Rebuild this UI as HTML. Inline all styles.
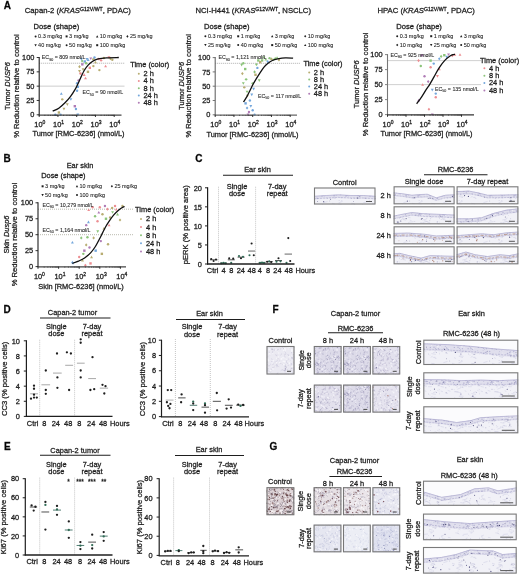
<!DOCTYPE html>
<html><head><meta charset="utf-8"><title>Figure</title>
<style>html,body{margin:0;padding:0;background:#fff;}svg{display:block;}text{stroke:#1e1e1e;stroke-width:0.28px;}text.s{stroke-width:0.08px;}</style></head>
<body><svg width="520" height="575" viewBox="0 0 520 575" font-family='"Liberation Sans", Arial, sans-serif' fill="#1e1e1e">
<defs><pattern id="tcc3" patternUnits="userSpaceOnUse" width="30" height="30"><rect width="30" height="30" fill="#dddbe9"/><path d="M13.6 16.8Q12.4 17.2 11.2 17.3" fill="none" stroke="#8985ad" stroke-width="0.45" stroke-opacity="0.7"/><path d="M5.5 15.4Q5.0 14.0 6.1 13.4" fill="none" stroke="#8985ad" stroke-width="0.45" stroke-opacity="0.7"/><path d="M2.7 24.3Q4.7 25.5 4.8 24.8" fill="none" stroke="#8985ad" stroke-width="0.45" stroke-opacity="0.7"/><path d="M19.6 18.5Q20.3 17.6 20.9 18.6" fill="none" stroke="#8985ad" stroke-width="0.45" stroke-opacity="0.7"/><path d="M5.7 7.3Q5.1 8.1 4.7 7.5" fill="none" stroke="#8985ad" stroke-width="0.45" stroke-opacity="0.7"/><path d="M15.6 19.2Q15.0 18.0 14.6 17.7" fill="none" stroke="#8985ad" stroke-width="0.45" stroke-opacity="0.7"/><path d="M29.9 29.9Q29.3 28.2 29.3 27.6" fill="none" stroke="#8985ad" stroke-width="0.45" stroke-opacity="0.7"/><path d="M8.7 2.1Q8.5 2.5 6.9 3.4" fill="none" stroke="#8985ad" stroke-width="0.45" stroke-opacity="0.7"/><path d="M28.7 25.4Q29.7 25.8 29.0 26.4" fill="none" stroke="#8985ad" stroke-width="0.45" stroke-opacity="0.7"/><path d="M29.4 11.9Q29.6 11.1 28.6 11.1" fill="none" stroke="#8985ad" stroke-width="0.45" stroke-opacity="0.7"/><path d="M2.6 10.0Q1.9 8.2 2.7 7.4" fill="none" stroke="#8985ad" stroke-width="0.45" stroke-opacity="0.7"/><path d="M3.0 1.8Q3.6 2.7 4.0 3.8" fill="none" stroke="#8985ad" stroke-width="0.45" stroke-opacity="0.7"/><path d="M5.7 22.0Q4.6 21.3 5.0 21.0" fill="none" stroke="#8985ad" stroke-width="0.45" stroke-opacity="0.7"/><path d="M6.4 8.1Q6.4 7.7 7.2 5.7" fill="none" stroke="#8985ad" stroke-width="0.45" stroke-opacity="0.7"/><path d="M6.3 11.8Q4.8 11.9 4.8 10.0" fill="none" stroke="#8985ad" stroke-width="0.45" stroke-opacity="0.7"/><path d="M6.4 7.7Q5.5 7.9 5.3 9.7" fill="none" stroke="#8985ad" stroke-width="0.45" stroke-opacity="0.7"/><path d="M2.7 17.5Q1.9 17.0 1.6 16.7" fill="none" stroke="#8985ad" stroke-width="0.45" stroke-opacity="0.7"/><path d="M28.8 14.5Q28.8 13.1 30.1 13.1" fill="none" stroke="#8985ad" stroke-width="0.45" stroke-opacity="0.7"/><path d="M27.3 24.5Q28.0 26.1 27.8 25.8" fill="none" stroke="#8985ad" stroke-width="0.45" stroke-opacity="0.7"/><path d="M5.9 28.5Q4.8 27.0 4.0 27.0" fill="none" stroke="#8985ad" stroke-width="0.45" stroke-opacity="0.7"/><path d="M1.2 28.9Q0.5 28.9 0.8 27.6" fill="none" stroke="#8985ad" stroke-width="0.45" stroke-opacity="0.7"/><path d="M17.9 8.8Q16.9 7.6 17.7 7.5" fill="none" stroke="#8985ad" stroke-width="0.45" stroke-opacity="0.7"/><path d="M16.8 25.6Q17.4 26.0 16.4 27.5" fill="none" stroke="#8985ad" stroke-width="0.45" stroke-opacity="0.7"/><path d="M0.5 8.1Q0.6 8.1 2.1 8.7" fill="none" stroke="#8985ad" stroke-width="0.45" stroke-opacity="0.7"/><path d="M17.2 3.9Q18.7 3.8 18.4 2.9" fill="none" stroke="#8985ad" stroke-width="0.45" stroke-opacity="0.7"/><path d="M20.7 17.5Q20.4 18.5 21.9 17.8" fill="none" stroke="#8985ad" stroke-width="0.45" stroke-opacity="0.7"/><path d="M21.0 28.9Q20.7 29.0 20.4 28.1" fill="none" stroke="#8985ad" stroke-width="0.45" stroke-opacity="0.7"/><path d="M9.6 30.0Q9.5 30.6 8.5 29.7" fill="none" stroke="#8985ad" stroke-width="0.45" stroke-opacity="0.7"/><path d="M22.1 21.1Q22.8 20.9 24.1 20.0" fill="none" stroke="#8985ad" stroke-width="0.45" stroke-opacity="0.7"/><path d="M27.0 26.1Q28.0 25.5 27.4 24.5" fill="none" stroke="#8985ad" stroke-width="0.45" stroke-opacity="0.7"/><path d="M18.7 11.5Q17.2 11.1 17.3 10.2" fill="none" stroke="#8985ad" stroke-width="0.45" stroke-opacity="0.7"/><path d="M29.8 26.4Q29.4 27.3 28.1 27.8" fill="none" stroke="#8985ad" stroke-width="0.45" stroke-opacity="0.7"/><path d="M13.2 25.2Q12.3 24.8 13.2 24.0" fill="none" stroke="#8985ad" stroke-width="0.45" stroke-opacity="0.7"/><path d="M14.4 6.9Q13.6 7.8 12.3 6.9" fill="none" stroke="#8985ad" stroke-width="0.45" stroke-opacity="0.7"/><path d="M7.7 0.3Q6.8 -1.0 7.0 -1.0" fill="none" stroke="#8985ad" stroke-width="0.45" stroke-opacity="0.7"/><path d="M27.2 19.8Q27.5 19.6 28.5 18.7" fill="none" stroke="#8985ad" stroke-width="0.45" stroke-opacity="0.7"/><path d="M6.0 12.9Q7.7 12.1 7.9 11.8" fill="none" stroke="#8985ad" stroke-width="0.45" stroke-opacity="0.7"/><path d="M17.5 9.5Q17.6 10.2 16.3 9.5" fill="none" stroke="#8985ad" stroke-width="0.45" stroke-opacity="0.7"/><path d="M21.3 28.5Q21.6 28.7 22.0 29.8" fill="none" stroke="#8985ad" stroke-width="0.45" stroke-opacity="0.7"/><path d="M6.4 12.4Q5.1 13.1 4.4 12.5" fill="none" stroke="#8985ad" stroke-width="0.45" stroke-opacity="0.7"/><path d="M29.5 13.6Q30.8 12.8 30.6 13.8" fill="none" stroke="#8985ad" stroke-width="0.45" stroke-opacity="0.7"/><path d="M21.3 17.1Q20.5 15.7 21.6 15.7" fill="none" stroke="#8985ad" stroke-width="0.45" stroke-opacity="0.7"/><path d="M13.6 0.7Q13.0 1.0 13.8 3.1" fill="none" stroke="#8985ad" stroke-width="0.45" stroke-opacity="0.7"/><path d="M18.9 13.4Q18.9 13.5 17.7 11.7" fill="none" stroke="#8985ad" stroke-width="0.45" stroke-opacity="0.7"/><path d="M20.5 6.0Q19.9 6.7 21.3 7.6" fill="none" stroke="#8985ad" stroke-width="0.45" stroke-opacity="0.7"/><path d="M21.4 5.4Q21.4 6.0 20.6 6.6" fill="none" stroke="#8985ad" stroke-width="0.45" stroke-opacity="0.7"/><path d="M18.4 22.7Q19.5 21.1 18.9 21.1" fill="none" stroke="#8985ad" stroke-width="0.45" stroke-opacity="0.7"/><path d="M28.0 21.7Q27.7 22.7 26.8 22.0" fill="none" stroke="#8985ad" stroke-width="0.45" stroke-opacity="0.7"/><path d="M11.3 17.1Q12.5 15.8 12.0 14.8" fill="none" stroke="#8985ad" stroke-width="0.45" stroke-opacity="0.7"/><path d="M19.5 6.1Q20.3 5.6 20.4 4.2" fill="none" stroke="#8985ad" stroke-width="0.45" stroke-opacity="0.7"/><path d="M6.4 27.0Q7.7 27.4 8.9 26.6" fill="none" stroke="#8985ad" stroke-width="0.45" stroke-opacity="0.7"/><path d="M9.6 27.3Q8.1 28.1 8.2 29.2" fill="none" stroke="#8985ad" stroke-width="0.45" stroke-opacity="0.7"/><path d="M16.5 23.0Q18.0 22.3 18.3 23.4" fill="none" stroke="#8985ad" stroke-width="0.45" stroke-opacity="0.7"/><path d="M24.0 5.2Q23.5 3.7 24.4 3.7" fill="none" stroke="#8985ad" stroke-width="0.45" stroke-opacity="0.7"/><path d="M15.5 21.7Q16.0 20.6 14.6 19.5" fill="none" stroke="#8985ad" stroke-width="0.45" stroke-opacity="0.7"/><path d="M28.5 2.6Q27.4 2.9 27.1 2.4" fill="none" stroke="#8985ad" stroke-width="0.45" stroke-opacity="0.7"/><path d="M19.2 15.7Q17.7 15.0 17.0 14.8" fill="none" stroke="#8985ad" stroke-width="0.45" stroke-opacity="0.7"/><path d="M25.4 27.0Q26.7 26.5 26.1 25.9" fill="none" stroke="#8985ad" stroke-width="0.45" stroke-opacity="0.7"/><path d="M17.2 6.0Q16.5 5.1 15.3 6.0" fill="none" stroke="#8985ad" stroke-width="0.45" stroke-opacity="0.7"/><path d="M29.1 15.5Q29.5 14.7 29.6 13.9" fill="none" stroke="#8985ad" stroke-width="0.45" stroke-opacity="0.7"/><path d="M20.7 2.0Q20.8 3.3 19.1 2.9" fill="none" stroke="#8985ad" stroke-width="0.45" stroke-opacity="0.7"/><path d="M8.1 14.2Q8.2 15.2 7.0 14.7" fill="none" stroke="#8985ad" stroke-width="0.45" stroke-opacity="0.7"/><path d="M14.3 9.5Q14.7 8.3 13.3 8.6" fill="none" stroke="#8985ad" stroke-width="0.45" stroke-opacity="0.7"/><path d="M23.4 0.7Q23.8 1.0 23.6 2.0" fill="none" stroke="#8985ad" stroke-width="0.45" stroke-opacity="0.7"/><path d="M10.7 18.6Q9.8 18.0 10.5 17.4" fill="none" stroke="#8985ad" stroke-width="0.45" stroke-opacity="0.7"/><path d="M7.5 5.9Q6.4 6.1 5.8 6.6" fill="none" stroke="#8985ad" stroke-width="0.45" stroke-opacity="0.7"/><path d="M15.9 4.8Q15.7 4.4 15.0 3.8" fill="none" stroke="#8985ad" stroke-width="0.45" stroke-opacity="0.7"/><path d="M25.5 18.4Q26.1 20.2 25.8 20.7" fill="none" stroke="#8985ad" stroke-width="0.45" stroke-opacity="0.7"/><path d="M27.1 9.5Q27.2 10.1 28.4 8.8" fill="none" stroke="#8985ad" stroke-width="0.45" stroke-opacity="0.7"/><path d="M26.6 4.0Q26.0 2.5 26.4 2.6" fill="none" stroke="#8985ad" stroke-width="0.45" stroke-opacity="0.7"/><path d="M25.0 12.6Q25.6 13.8 26.6 14.3" fill="none" stroke="#8985ad" stroke-width="0.45" stroke-opacity="0.7"/><path d="M0.5 6.0Q2.4 4.7 2.3 4.9" fill="none" stroke="#8985ad" stroke-width="0.45" stroke-opacity="0.7"/><path d="M15.2 22.7Q14.2 21.1 14.5 21.1" fill="none" stroke="#8985ad" stroke-width="0.45" stroke-opacity="0.7"/><path d="M3.2 1.1Q2.4 0.3 1.3 0.9" fill="none" stroke="#8985ad" stroke-width="0.45" stroke-opacity="0.7"/><path d="M5.5 6.1Q7.6 5.2 7.9 6.0" fill="none" stroke="#8985ad" stroke-width="0.45" stroke-opacity="0.7"/><path d="M1.9 28.5Q1.6 27.6 2.0 26.8" fill="none" stroke="#8985ad" stroke-width="0.45" stroke-opacity="0.7"/><path d="M15.5 12.9Q16.8 13.7 17.4 13.1" fill="none" stroke="#8985ad" stroke-width="0.45" stroke-opacity="0.7"/><path d="M5.4 13.6Q3.9 13.6 3.6 14.8" fill="none" stroke="#8985ad" stroke-width="0.45" stroke-opacity="0.7"/><path d="M15.4 0.5Q16.2 0.0 16.2 -1.8" fill="none" stroke="#8985ad" stroke-width="0.45" stroke-opacity="0.7"/><path d="M18.9 12.1Q18.9 12.7 16.9 12.1" fill="none" stroke="#8985ad" stroke-width="0.45" stroke-opacity="0.7"/><path d="M7.7 27.3Q8.6 26.1 8.1 25.2" fill="none" stroke="#8985ad" stroke-width="0.45" stroke-opacity="0.7"/><path d="M26.9 26.4Q27.5 25.2 27.1 24.3" fill="none" stroke="#8985ad" stroke-width="0.45" stroke-opacity="0.7"/><path d="M21.7 2.1Q19.9 2.0 20.2 2.4" fill="none" stroke="#8985ad" stroke-width="0.45" stroke-opacity="0.7"/><path d="M19.2 18.7Q20.1 18.2 20.5 18.3" fill="none" stroke="#8985ad" stroke-width="0.45" stroke-opacity="0.7"/><path d="M19.8 17.1Q20.1 18.0 18.4 18.3" fill="none" stroke="#8985ad" stroke-width="0.45" stroke-opacity="0.7"/><path d="M21.0 22.9Q22.5 23.5 23.6 23.2" fill="none" stroke="#8985ad" stroke-width="0.45" stroke-opacity="0.7"/><path d="M7.7 12.0Q7.6 11.8 8.1 13.1" fill="none" stroke="#8985ad" stroke-width="0.45" stroke-opacity="0.7"/><path d="M7.5 27.2Q7.5 27.3 5.6 27.1" fill="none" stroke="#8985ad" stroke-width="0.45" stroke-opacity="0.7"/><path d="M29.9 19.1Q31.1 20.2 31.9 20.2" fill="none" stroke="#8985ad" stroke-width="0.45" stroke-opacity="0.7"/><path d="M1.4 27.9Q0.1 28.0 0.1 28.1" fill="none" stroke="#8985ad" stroke-width="0.45" stroke-opacity="0.7"/><path d="M18.3 1.8Q17.3 2.6 16.1 3.0" fill="none" stroke="#8985ad" stroke-width="0.45" stroke-opacity="0.7"/><path d="M11.0 8.6Q9.6 8.6 9.1 7.8" fill="none" stroke="#8985ad" stroke-width="0.45" stroke-opacity="0.7"/><path d="M8.9 0.4Q8.9 1.1 10.2 0.8" fill="none" stroke="#8985ad" stroke-width="0.45" stroke-opacity="0.7"/><path d="M11.7 26.9Q13.7 28.2 13.8 27.6" fill="none" stroke="#8985ad" stroke-width="0.45" stroke-opacity="0.7"/><path d="M2.2 27.2Q2.3 26.8 0.5 27.4" fill="none" stroke="#8985ad" stroke-width="0.45" stroke-opacity="0.7"/><path d="M15.7 28.1Q15.6 29.0 13.6 28.5" fill="none" stroke="#8985ad" stroke-width="0.45" stroke-opacity="0.7"/><path d="M18.1 3.5Q16.6 2.8 16.2 4.0" fill="none" stroke="#8985ad" stroke-width="0.45" stroke-opacity="0.7"/><path d="M15.8 3.7Q15.3 2.5 15.0 2.2" fill="none" stroke="#8985ad" stroke-width="0.45" stroke-opacity="0.7"/><path d="M17.5 12.6Q17.4 13.3 15.3 12.2" fill="none" stroke="#8985ad" stroke-width="0.45" stroke-opacity="0.7"/><path d="M22.0 7.2Q23.1 7.0 23.0 6.4" fill="none" stroke="#8985ad" stroke-width="0.45" stroke-opacity="0.7"/><path d="M10.8 8.1Q10.0 8.0 8.9 7.3" fill="none" stroke="#8985ad" stroke-width="0.45" stroke-opacity="0.7"/><path d="M22.6 5.7Q24.1 6.4 24.0 5.5" fill="none" stroke="#8985ad" stroke-width="0.45" stroke-opacity="0.7"/><path d="M1.2 1.8Q0.8 1.4 -0.1 2.5" fill="none" stroke="#8985ad" stroke-width="0.45" stroke-opacity="0.7"/><path d="M16.2 2.2Q16.1 1.9 15.7 1.2" fill="none" stroke="#8985ad" stroke-width="0.45" stroke-opacity="0.7"/><path d="M11.2 14.4Q11.3 15.6 10.5 15.5" fill="none" stroke="#8985ad" stroke-width="0.45" stroke-opacity="0.7"/><path d="M2.2 3.6Q2.0 2.2 0.6 2.0" fill="none" stroke="#8985ad" stroke-width="0.45" stroke-opacity="0.7"/><path d="M12.7 7.7Q12.3 9.6 11.2 9.4" fill="none" stroke="#8985ad" stroke-width="0.45" stroke-opacity="0.7"/><path d="M9.8 16.5Q10.6 15.7 11.7 15.4" fill="none" stroke="#8985ad" stroke-width="0.45" stroke-opacity="0.7"/><path d="M2.9 26.3Q3.5 26.5 3.9 26.8" fill="none" stroke="#8985ad" stroke-width="0.45" stroke-opacity="0.7"/><path d="M20.6 9.0Q21.0 9.8 22.5 10.0" fill="none" stroke="#8985ad" stroke-width="0.45" stroke-opacity="0.7"/><path d="M2.5 9.1Q1.6 7.4 1.7 7.1" fill="none" stroke="#8985ad" stroke-width="0.45" stroke-opacity="0.7"/><path d="M10.7 21.8Q11.7 22.5 11.9 22.8" fill="none" stroke="#8985ad" stroke-width="0.45" stroke-opacity="0.7"/><path d="M27.6 28.2Q27.0 28.3 25.3 29.1" fill="none" stroke="#8985ad" stroke-width="0.45" stroke-opacity="0.7"/><path d="M9.5 12.0Q10.0 10.9 11.5 10.5" fill="none" stroke="#8985ad" stroke-width="0.45" stroke-opacity="0.7"/><path d="M11.0 10.9Q9.7 11.6 9.7 12.0" fill="none" stroke="#8985ad" stroke-width="0.45" stroke-opacity="0.7"/><path d="M23.9 16.2Q22.2 16.3 21.8 15.3" fill="none" stroke="#8985ad" stroke-width="0.45" stroke-opacity="0.7"/><path d="M26.4 8.4Q26.0 8.5 25.4 8.3" fill="none" stroke="#8985ad" stroke-width="0.45" stroke-opacity="0.7"/><path d="M29.0 19.5Q30.1 20.6 31.1 20.4" fill="none" stroke="#8985ad" stroke-width="0.45" stroke-opacity="0.7"/><path d="M2.5 2.5Q2.6 2.1 4.3 1.2" fill="none" stroke="#8985ad" stroke-width="0.45" stroke-opacity="0.7"/><path d="M4.3 22.4Q3.8 23.9 4.4 24.4" fill="none" stroke="#8985ad" stroke-width="0.45" stroke-opacity="0.7"/><path d="M15.6 22.9Q16.2 24.0 14.8 24.3" fill="none" stroke="#8985ad" stroke-width="0.45" stroke-opacity="0.7"/><path d="M14.8 16.1Q15.4 14.9 14.2 14.0" fill="none" stroke="#8985ad" stroke-width="0.45" stroke-opacity="0.7"/><path d="M24.8 20.0Q25.9 19.7 25.6 17.8" fill="none" stroke="#8985ad" stroke-width="0.45" stroke-opacity="0.7"/><path d="M28.7 19.2Q29.1 18.2 28.3 17.4" fill="none" stroke="#8985ad" stroke-width="0.45" stroke-opacity="0.7"/><path d="M12.6 4.4Q13.5 3.7 14.8 4.3" fill="none" stroke="#8985ad" stroke-width="0.45" stroke-opacity="0.7"/><path d="M6.1 12.7Q6.0 12.2 7.6 12.5" fill="none" stroke="#8985ad" stroke-width="0.45" stroke-opacity="0.7"/><path d="M3.4 19.4Q3.0 20.4 4.4 21.5" fill="none" stroke="#8985ad" stroke-width="0.45" stroke-opacity="0.7"/><path d="M17.5 27.3Q17.3 27.0 18.3 27.9" fill="none" stroke="#8985ad" stroke-width="0.45" stroke-opacity="0.7"/><path d="M7.1 21.5Q6.6 22.0 7.4 23.4" fill="none" stroke="#8985ad" stroke-width="0.45" stroke-opacity="0.7"/><path d="M5.2 22.7Q5.1 22.5 3.7 22.3" fill="none" stroke="#8985ad" stroke-width="0.45" stroke-opacity="0.7"/><path d="M7.8 26.6Q7.2 28.6 6.5 28.7" fill="none" stroke="#8985ad" stroke-width="0.45" stroke-opacity="0.7"/><path d="M14.5 6.6Q15.6 6.2 15.5 6.3" fill="none" stroke="#8985ad" stroke-width="0.45" stroke-opacity="0.7"/><path d="M15.8 15.5Q16.9 14.9 17.3 15.4" fill="none" stroke="#8985ad" stroke-width="0.45" stroke-opacity="0.7"/><path d="M0.3 14.2Q1.0 13.6 0.8 12.7" fill="none" stroke="#8985ad" stroke-width="0.45" stroke-opacity="0.7"/><path d="M4.7 4.7Q5.4 5.5 4.6 6.2" fill="none" stroke="#8985ad" stroke-width="0.45" stroke-opacity="0.7"/><path d="M19.1 29.8Q17.7 30.2 17.7 29.5" fill="none" stroke="#8985ad" stroke-width="0.45" stroke-opacity="0.7"/><path d="M0.0 24.6Q-0.3 23.1 1.1 22.5" fill="none" stroke="#8985ad" stroke-width="0.45" stroke-opacity="0.7"/><path d="M21.5 2.9Q21.5 3.3 19.8 3.3" fill="none" stroke="#8985ad" stroke-width="0.45" stroke-opacity="0.7"/><path d="M25.7 9.1Q25.6 8.9 23.8 10.2" fill="none" stroke="#8985ad" stroke-width="0.45" stroke-opacity="0.7"/><path d="M24.8 6.3Q23.2 6.8 22.9 6.0" fill="none" stroke="#8985ad" stroke-width="0.45" stroke-opacity="0.7"/><path d="M9.3 9.3Q9.1 10.3 9.0 10.4" fill="none" stroke="#8985ad" stroke-width="0.45" stroke-opacity="0.7"/><path d="M10.8 20.6Q10.3 21.9 9.9 21.3" fill="none" stroke="#8985ad" stroke-width="0.45" stroke-opacity="0.7"/><path d="M24.9 19.6Q24.9 19.4 24.2 20.3" fill="none" stroke="#8985ad" stroke-width="0.45" stroke-opacity="0.7"/><path d="M16.9 13.7Q18.0 13.1 17.9 13.7" fill="none" stroke="#8985ad" stroke-width="0.45" stroke-opacity="0.7"/><path d="M18.5 8.7Q17.3 8.2 16.9 8.3" fill="none" stroke="#8985ad" stroke-width="0.45" stroke-opacity="0.7"/><path d="M11.8 20.0Q12.4 20.3 12.2 21.3" fill="none" stroke="#8985ad" stroke-width="0.45" stroke-opacity="0.7"/><path d="M28.4 16.9Q28.5 17.0 27.3 18.8" fill="none" stroke="#8985ad" stroke-width="0.45" stroke-opacity="0.7"/><path d="M4.2 2.8Q3.3 1.6 3.7 0.8" fill="none" stroke="#8985ad" stroke-width="0.45" stroke-opacity="0.7"/><path d="M25.1 17.8Q24.5 17.6 25.3 18.9" fill="none" stroke="#8985ad" stroke-width="0.45" stroke-opacity="0.7"/><path d="M12.2 2.2Q11.1 3.0 10.0 3.3" fill="none" stroke="#8985ad" stroke-width="0.45" stroke-opacity="0.7"/><circle cx="23.0" cy="24.6" r="0.42" fill="#6e6a94" fill-opacity="0.8"/><circle cx="9.9" cy="12.4" r="0.30" fill="#6e6a94" fill-opacity="0.8"/><circle cx="12.0" cy="21.0" r="0.59" fill="#6e6a94" fill-opacity="0.8"/><circle cx="23.7" cy="19.8" r="0.48" fill="#6e6a94" fill-opacity="0.8"/><circle cx="0.6" cy="9.9" r="0.40" fill="#6e6a94" fill-opacity="0.8"/><circle cx="19.5" cy="3.2" r="0.41" fill="#6e6a94" fill-opacity="0.8"/><circle cx="15.3" cy="23.7" r="0.55" fill="#6e6a94" fill-opacity="0.8"/><circle cx="18.3" cy="4.8" r="0.53" fill="#6e6a94" fill-opacity="0.8"/><circle cx="27.1" cy="16.4" r="0.41" fill="#6e6a94" fill-opacity="0.8"/><circle cx="15.0" cy="4.3" r="0.51" fill="#6e6a94" fill-opacity="0.8"/><circle cx="29.6" cy="15.5" r="0.51" fill="#6e6a94" fill-opacity="0.8"/><circle cx="25.1" cy="5.9" r="0.58" fill="#6e6a94" fill-opacity="0.8"/><circle cx="18.8" cy="5.9" r="0.32" fill="#6e6a94" fill-opacity="0.8"/><circle cx="7.3" cy="17.3" r="0.51" fill="#6e6a94" fill-opacity="0.8"/><circle cx="9.9" cy="27.9" r="0.41" fill="#6e6a94" fill-opacity="0.8"/><circle cx="13.9" cy="3.7" r="0.59" fill="#6e6a94" fill-opacity="0.8"/><circle cx="4.1" cy="27.1" r="0.46" fill="#6e6a94" fill-opacity="0.8"/><circle cx="16.8" cy="16.8" r="0.38" fill="#6e6a94" fill-opacity="0.8"/><circle cx="27.3" cy="29.8" r="0.55" fill="#6e6a94" fill-opacity="0.8"/><circle cx="18.0" cy="3.7" r="0.55" fill="#6e6a94" fill-opacity="0.8"/><circle cx="8.7" cy="26.9" r="0.37" fill="#6e6a94" fill-opacity="0.8"/><circle cx="17.2" cy="24.9" r="0.36" fill="#6e6a94" fill-opacity="0.8"/><circle cx="16.4" cy="2.3" r="0.31" fill="#6e6a94" fill-opacity="0.8"/><circle cx="5.4" cy="29.6" r="0.58" fill="#6e6a94" fill-opacity="0.8"/><circle cx="19.8" cy="9.2" r="0.50" fill="#6e6a94" fill-opacity="0.8"/><circle cx="22.1" cy="11.4" r="0.48" fill="#6e6a94" fill-opacity="0.8"/><circle cx="24.1" cy="0.5" r="0.36" fill="#6e6a94" fill-opacity="0.8"/><circle cx="14.0" cy="4.3" r="0.42" fill="#6e6a94" fill-opacity="0.8"/><circle cx="17.1" cy="5.2" r="0.46" fill="#6e6a94" fill-opacity="0.8"/><circle cx="7.9" cy="17.0" r="0.40" fill="#6e6a94" fill-opacity="0.8"/><circle cx="19.3" cy="1.1" r="0.80" fill="#f4f3f9" fill-opacity="0.8"/><circle cx="4.3" cy="28.8" r="0.76" fill="#f4f3f9" fill-opacity="0.8"/><circle cx="14.1" cy="12.3" r="0.77" fill="#f4f3f9" fill-opacity="0.8"/><circle cx="20.7" cy="22.7" r="0.85" fill="#f4f3f9" fill-opacity="0.8"/><circle cx="14.6" cy="29.8" r="0.90" fill="#f4f3f9" fill-opacity="0.8"/><circle cx="25.7" cy="12.3" r="0.66" fill="#f4f3f9" fill-opacity="0.8"/><circle cx="17.0" cy="27.2" r="0.72" fill="#f4f3f9" fill-opacity="0.8"/><circle cx="15.8" cy="13.0" r="0.94" fill="#f4f3f9" fill-opacity="0.8"/><circle cx="9.6" cy="1.6" r="0.84" fill="#f4f3f9" fill-opacity="0.8"/><circle cx="27.0" cy="22.0" r="0.76" fill="#f4f3f9" fill-opacity="0.8"/><circle cx="22.6" cy="9.1" r="0.76" fill="#f4f3f9" fill-opacity="0.8"/><circle cx="2.1" cy="3.7" r="0.67" fill="#f4f3f9" fill-opacity="0.8"/><circle cx="15.1" cy="11.9" r="0.43" fill="#f4f3f9" fill-opacity="0.8"/><circle cx="20.8" cy="15.8" r="0.54" fill="#f4f3f9" fill-opacity="0.8"/><circle cx="9.2" cy="11.9" r="0.54" fill="#f4f3f9" fill-opacity="0.8"/><circle cx="2.1" cy="27.3" r="0.98" fill="#f4f3f9" fill-opacity="0.8"/><circle cx="20.0" cy="26.0" r="0.65" fill="#f4f3f9" fill-opacity="0.8"/><circle cx="24.2" cy="6.7" r="0.85" fill="#f4f3f9" fill-opacity="0.8"/><circle cx="17.0" cy="27.1" r="0.46" fill="#f4f3f9" fill-opacity="0.8"/><circle cx="23.8" cy="3.7" r="0.72" fill="#f4f3f9" fill-opacity="0.8"/><circle cx="28.5" cy="0.0" r="0.55" fill="#f4f3f9" fill-opacity="0.8"/><circle cx="9.0" cy="9.7" r="0.44" fill="#f4f3f9" fill-opacity="0.8"/><circle cx="26.9" cy="24.5" r="0.64" fill="#f4f3f9" fill-opacity="0.8"/><circle cx="10.7" cy="17.6" r="0.43" fill="#f4f3f9" fill-opacity="0.8"/><circle cx="0.9" cy="27.0" r="0.58" fill="#f4f3f9" fill-opacity="0.8"/><circle cx="15.0" cy="28.0" r="0.99" fill="#f4f3f9" fill-opacity="0.8"/><circle cx="14.2" cy="6.2" r="0.58" fill="#f4f3f9" fill-opacity="0.8"/><circle cx="27.7" cy="26.9" r="0.52" fill="#f4f3f9" fill-opacity="0.8"/><circle cx="25.1" cy="10.6" r="0.68" fill="#f4f3f9" fill-opacity="0.8"/><circle cx="5.2" cy="26.4" r="1.00" fill="#f4f3f9" fill-opacity="0.8"/><circle cx="6.1" cy="19.0" r="0.51" fill="#f4f3f9" fill-opacity="0.8"/><circle cx="26.4" cy="1.5" r="0.46" fill="#f4f3f9" fill-opacity="0.8"/><circle cx="21.8" cy="9.4" r="0.94" fill="#f4f3f9" fill-opacity="0.8"/><circle cx="26.1" cy="21.4" r="0.48" fill="#f4f3f9" fill-opacity="0.8"/><circle cx="20.9" cy="28.1" r="0.67" fill="#f4f3f9" fill-opacity="0.8"/><circle cx="2.4" cy="6.7" r="0.58" fill="#f4f3f9" fill-opacity="0.8"/><circle cx="21.3" cy="5.9" r="0.51" fill="#f4f3f9" fill-opacity="0.8"/><circle cx="7.1" cy="19.9" r="0.87" fill="#f4f3f9" fill-opacity="0.8"/><circle cx="11.2" cy="19.9" r="0.93" fill="#f4f3f9" fill-opacity="0.8"/><circle cx="17.7" cy="6.9" r="0.58" fill="#f4f3f9" fill-opacity="0.8"/><circle cx="27.8" cy="20.0" r="0.57" fill="#f4f3f9" fill-opacity="0.8"/><circle cx="19.2" cy="2.7" r="0.99" fill="#f4f3f9" fill-opacity="0.8"/><circle cx="13.2" cy="15.8" r="0.72" fill="#f4f3f9" fill-opacity="0.8"/><circle cx="1.4" cy="18.0" r="0.57" fill="#f4f3f9" fill-opacity="0.8"/><circle cx="7.5" cy="24.1" r="0.45" fill="#f4f3f9" fill-opacity="0.8"/></pattern><pattern id="tcc3l" patternUnits="userSpaceOnUse" width="29" height="29"><rect width="29" height="29" fill="#e3e1ed"/><path d="M13.8 19.1Q13.4 19.6 15.1 20.7" fill="none" stroke="#948fb4" stroke-width="0.45" stroke-opacity="0.65"/><path d="M7.9 23.5Q7.2 23.2 6.3 22.2" fill="none" stroke="#948fb4" stroke-width="0.45" stroke-opacity="0.65"/><path d="M4.2 12.8Q3.9 13.0 5.3 12.1" fill="none" stroke="#948fb4" stroke-width="0.45" stroke-opacity="0.65"/><path d="M2.2 19.9Q2.2 19.4 0.9 20.8" fill="none" stroke="#948fb4" stroke-width="0.45" stroke-opacity="0.65"/><path d="M1.8 26.5Q3.5 27.9 3.3 27.5" fill="none" stroke="#948fb4" stroke-width="0.45" stroke-opacity="0.65"/><path d="M3.3 12.3Q3.3 12.2 2.8 13.4" fill="none" stroke="#948fb4" stroke-width="0.45" stroke-opacity="0.65"/><path d="M20.2 1.5Q20.3 0.7 20.7 0.3" fill="none" stroke="#948fb4" stroke-width="0.45" stroke-opacity="0.65"/><path d="M17.3 13.8Q18.5 14.9 18.9 14.1" fill="none" stroke="#948fb4" stroke-width="0.45" stroke-opacity="0.65"/><path d="M28.3 19.2Q28.2 20.2 27.3 20.4" fill="none" stroke="#948fb4" stroke-width="0.45" stroke-opacity="0.65"/><path d="M3.3 6.8Q3.1 6.8 1.7 6.7" fill="none" stroke="#948fb4" stroke-width="0.45" stroke-opacity="0.65"/><path d="M0.8 23.9Q-0.6 23.6 -0.9 23.7" fill="none" stroke="#948fb4" stroke-width="0.45" stroke-opacity="0.65"/><path d="M11.3 22.4Q10.1 22.6 10.2 22.0" fill="none" stroke="#948fb4" stroke-width="0.45" stroke-opacity="0.65"/><path d="M1.1 8.0Q-0.3 7.4 0.1 6.8" fill="none" stroke="#948fb4" stroke-width="0.45" stroke-opacity="0.65"/><path d="M6.1 8.2Q6.9 8.9 7.8 7.7" fill="none" stroke="#948fb4" stroke-width="0.45" stroke-opacity="0.65"/><path d="M4.9 26.8Q5.7 28.4 5.4 28.3" fill="none" stroke="#948fb4" stroke-width="0.45" stroke-opacity="0.65"/><path d="M0.2 7.8Q-0.9 7.7 -1.0 9.7" fill="none" stroke="#948fb4" stroke-width="0.45" stroke-opacity="0.65"/><path d="M1.2 18.0Q2.5 17.0 3.7 17.9" fill="none" stroke="#948fb4" stroke-width="0.45" stroke-opacity="0.65"/><path d="M9.4 22.8Q8.1 22.0 7.9 21.0" fill="none" stroke="#948fb4" stroke-width="0.45" stroke-opacity="0.65"/><path d="M13.8 18.2Q15.3 17.3 15.2 17.7" fill="none" stroke="#948fb4" stroke-width="0.45" stroke-opacity="0.65"/><path d="M8.4 25.3Q9.2 25.5 9.8 24.8" fill="none" stroke="#948fb4" stroke-width="0.45" stroke-opacity="0.65"/><path d="M20.4 6.2Q20.8 7.3 20.4 7.7" fill="none" stroke="#948fb4" stroke-width="0.45" stroke-opacity="0.65"/><path d="M3.8 25.7Q3.7 27.5 3.9 27.4" fill="none" stroke="#948fb4" stroke-width="0.45" stroke-opacity="0.65"/><path d="M16.2 18.1Q18.0 17.7 18.6 17.5" fill="none" stroke="#948fb4" stroke-width="0.45" stroke-opacity="0.65"/><path d="M17.1 26.1Q15.8 25.3 15.1 25.0" fill="none" stroke="#948fb4" stroke-width="0.45" stroke-opacity="0.65"/><path d="M21.3 16.3Q22.0 16.4 21.1 15.3" fill="none" stroke="#948fb4" stroke-width="0.45" stroke-opacity="0.65"/><path d="M26.0 26.4Q26.0 24.7 26.5 24.6" fill="none" stroke="#948fb4" stroke-width="0.45" stroke-opacity="0.65"/><path d="M10.2 9.1Q9.9 8.1 9.3 6.7" fill="none" stroke="#948fb4" stroke-width="0.45" stroke-opacity="0.65"/><path d="M3.6 15.5Q2.3 16.0 1.9 16.8" fill="none" stroke="#948fb4" stroke-width="0.45" stroke-opacity="0.65"/><path d="M9.4 19.9Q9.5 20.6 10.4 20.5" fill="none" stroke="#948fb4" stroke-width="0.45" stroke-opacity="0.65"/><path d="M22.0 19.1Q20.3 20.0 20.4 21.0" fill="none" stroke="#948fb4" stroke-width="0.45" stroke-opacity="0.65"/><path d="M12.9 5.2Q11.8 5.7 11.7 6.9" fill="none" stroke="#948fb4" stroke-width="0.45" stroke-opacity="0.65"/><path d="M27.4 0.2Q26.6 0.9 27.1 1.8" fill="none" stroke="#948fb4" stroke-width="0.45" stroke-opacity="0.65"/><path d="M6.4 26.6Q5.4 25.7 5.8 24.9" fill="none" stroke="#948fb4" stroke-width="0.45" stroke-opacity="0.65"/><path d="M17.6 24.4Q17.6 25.3 16.2 24.8" fill="none" stroke="#948fb4" stroke-width="0.45" stroke-opacity="0.65"/><path d="M6.6 15.6Q6.1 16.6 4.8 17.0" fill="none" stroke="#948fb4" stroke-width="0.45" stroke-opacity="0.65"/><path d="M28.2 16.1Q28.0 16.6 27.0 17.8" fill="none" stroke="#948fb4" stroke-width="0.45" stroke-opacity="0.65"/><path d="M14.5 10.5Q14.4 11.1 15.5 11.6" fill="none" stroke="#948fb4" stroke-width="0.45" stroke-opacity="0.65"/><path d="M7.3 1.3Q7.9 2.6 6.8 3.6" fill="none" stroke="#948fb4" stroke-width="0.45" stroke-opacity="0.65"/><path d="M11.3 25.3Q10.0 26.7 10.2 27.5" fill="none" stroke="#948fb4" stroke-width="0.45" stroke-opacity="0.65"/><path d="M24.4 17.6Q23.7 17.8 22.5 18.8" fill="none" stroke="#948fb4" stroke-width="0.45" stroke-opacity="0.65"/><path d="M11.8 11.0Q11.8 10.8 10.5 12.0" fill="none" stroke="#948fb4" stroke-width="0.45" stroke-opacity="0.65"/><path d="M5.9 7.4Q3.8 7.9 3.4 7.0" fill="none" stroke="#948fb4" stroke-width="0.45" stroke-opacity="0.65"/><path d="M25.3 23.8Q24.9 22.3 25.2 22.2" fill="none" stroke="#948fb4" stroke-width="0.45" stroke-opacity="0.65"/><path d="M25.1 24.2Q24.6 23.3 26.1 23.2" fill="none" stroke="#948fb4" stroke-width="0.45" stroke-opacity="0.65"/><path d="M0.4 5.0Q-0.2 3.7 0.1 3.7" fill="none" stroke="#948fb4" stroke-width="0.45" stroke-opacity="0.65"/><path d="M5.3 9.0Q3.6 8.7 3.5 7.6" fill="none" stroke="#948fb4" stroke-width="0.45" stroke-opacity="0.65"/><path d="M15.6 13.0Q15.6 12.3 14.5 11.5" fill="none" stroke="#948fb4" stroke-width="0.45" stroke-opacity="0.65"/><path d="M18.4 13.6Q17.5 14.2 16.9 14.9" fill="none" stroke="#948fb4" stroke-width="0.45" stroke-opacity="0.65"/><path d="M20.7 8.1Q20.2 8.5 18.3 8.2" fill="none" stroke="#948fb4" stroke-width="0.45" stroke-opacity="0.65"/><path d="M27.7 19.8Q27.3 20.8 26.3 20.7" fill="none" stroke="#948fb4" stroke-width="0.45" stroke-opacity="0.65"/><path d="M24.3 3.7Q23.9 3.2 25.2 4.4" fill="none" stroke="#948fb4" stroke-width="0.45" stroke-opacity="0.65"/><path d="M0.2 7.2Q0.2 7.6 -0.2 6.2" fill="none" stroke="#948fb4" stroke-width="0.45" stroke-opacity="0.65"/><path d="M27.9 21.7Q28.6 22.7 30.3 22.1" fill="none" stroke="#948fb4" stroke-width="0.45" stroke-opacity="0.65"/><path d="M13.8 6.0Q12.9 6.1 11.8 7.0" fill="none" stroke="#948fb4" stroke-width="0.45" stroke-opacity="0.65"/><path d="M7.0 2.5Q8.9 2.8 8.9 2.0" fill="none" stroke="#948fb4" stroke-width="0.45" stroke-opacity="0.65"/><path d="M27.1 10.5Q27.9 10.5 28.4 9.8" fill="none" stroke="#948fb4" stroke-width="0.45" stroke-opacity="0.65"/><path d="M0.4 6.6Q0.9 6.3 0.2 4.9" fill="none" stroke="#948fb4" stroke-width="0.45" stroke-opacity="0.65"/><path d="M9.9 11.1Q11.0 10.4 12.2 10.9" fill="none" stroke="#948fb4" stroke-width="0.45" stroke-opacity="0.65"/><path d="M18.1 15.5Q18.0 16.6 18.3 17.1" fill="none" stroke="#948fb4" stroke-width="0.45" stroke-opacity="0.65"/><path d="M3.7 15.7Q3.1 14.3 3.6 13.2" fill="none" stroke="#948fb4" stroke-width="0.45" stroke-opacity="0.65"/><path d="M3.0 21.4Q3.5 22.5 3.9 23.2" fill="none" stroke="#948fb4" stroke-width="0.45" stroke-opacity="0.65"/><path d="M16.7 11.0Q17.3 11.2 15.8 12.2" fill="none" stroke="#948fb4" stroke-width="0.45" stroke-opacity="0.65"/><path d="M14.6 13.3Q13.5 13.4 13.5 14.1" fill="none" stroke="#948fb4" stroke-width="0.45" stroke-opacity="0.65"/><path d="M10.6 10.1Q9.9 11.7 9.9 12.5" fill="none" stroke="#948fb4" stroke-width="0.45" stroke-opacity="0.65"/><path d="M11.5 15.0Q12.8 14.6 13.3 15.9" fill="none" stroke="#948fb4" stroke-width="0.45" stroke-opacity="0.65"/><path d="M7.3 23.5Q6.0 22.2 6.1 21.2" fill="none" stroke="#948fb4" stroke-width="0.45" stroke-opacity="0.65"/><path d="M8.2 24.4Q8.7 25.3 8.7 25.7" fill="none" stroke="#948fb4" stroke-width="0.45" stroke-opacity="0.65"/><path d="M17.1 13.9Q16.8 14.0 14.7 14.5" fill="none" stroke="#948fb4" stroke-width="0.45" stroke-opacity="0.65"/><path d="M13.5 10.4Q13.0 9.4 13.5 8.3" fill="none" stroke="#948fb4" stroke-width="0.45" stroke-opacity="0.65"/><path d="M21.1 14.5Q20.7 13.6 19.5 13.2" fill="none" stroke="#948fb4" stroke-width="0.45" stroke-opacity="0.65"/><path d="M8.9 0.7Q9.0 0.5 9.5 -1.6" fill="none" stroke="#948fb4" stroke-width="0.45" stroke-opacity="0.65"/><path d="M26.2 4.4Q24.8 4.5 24.1 5.5" fill="none" stroke="#948fb4" stroke-width="0.45" stroke-opacity="0.65"/><path d="M12.0 1.5Q12.0 1.2 12.8 2.2" fill="none" stroke="#948fb4" stroke-width="0.45" stroke-opacity="0.65"/><path d="M3.5 24.1Q2.9 25.0 1.9 24.2" fill="none" stroke="#948fb4" stroke-width="0.45" stroke-opacity="0.65"/><path d="M4.2 6.6Q6.1 6.0 6.2 5.3" fill="none" stroke="#948fb4" stroke-width="0.45" stroke-opacity="0.65"/><path d="M10.6 5.5Q10.9 4.8 10.9 3.0" fill="none" stroke="#948fb4" stroke-width="0.45" stroke-opacity="0.65"/><path d="M7.6 15.5Q8.7 15.6 9.5 17.0" fill="none" stroke="#948fb4" stroke-width="0.45" stroke-opacity="0.65"/><path d="M24.3 24.3Q22.4 24.7 22.4 25.1" fill="none" stroke="#948fb4" stroke-width="0.45" stroke-opacity="0.65"/><path d="M10.4 11.6Q11.0 11.5 11.4 11.1" fill="none" stroke="#948fb4" stroke-width="0.45" stroke-opacity="0.65"/><path d="M24.4 26.0Q24.2 25.5 22.6 25.5" fill="none" stroke="#948fb4" stroke-width="0.45" stroke-opacity="0.65"/><path d="M26.1 0.7Q25.2 1.5 23.9 0.3" fill="none" stroke="#948fb4" stroke-width="0.45" stroke-opacity="0.65"/><path d="M6.4 11.8Q6.4 11.2 6.3 9.5" fill="none" stroke="#948fb4" stroke-width="0.45" stroke-opacity="0.65"/><path d="M19.6 25.2Q18.5 25.1 18.3 26.8" fill="none" stroke="#948fb4" stroke-width="0.45" stroke-opacity="0.65"/><path d="M3.6 1.2Q4.6 1.5 5.2 3.2" fill="none" stroke="#948fb4" stroke-width="0.45" stroke-opacity="0.65"/><path d="M28.0 15.4Q29.0 15.8 28.6 14.3" fill="none" stroke="#948fb4" stroke-width="0.45" stroke-opacity="0.65"/><path d="M6.5 11.7Q6.4 13.1 6.1 13.7" fill="none" stroke="#948fb4" stroke-width="0.45" stroke-opacity="0.65"/><path d="M21.8 23.9Q22.1 24.8 21.3 26.0" fill="none" stroke="#948fb4" stroke-width="0.45" stroke-opacity="0.65"/><path d="M4.9 0.6Q3.5 1.4 3.7 2.2" fill="none" stroke="#948fb4" stroke-width="0.45" stroke-opacity="0.65"/><path d="M12.0 9.4Q11.2 10.2 10.2 9.0" fill="none" stroke="#948fb4" stroke-width="0.45" stroke-opacity="0.65"/><path d="M26.2 8.7Q26.6 8.9 25.3 10.9" fill="none" stroke="#948fb4" stroke-width="0.45" stroke-opacity="0.65"/><path d="M9.2 27.0Q8.4 25.3 8.7 25.0" fill="none" stroke="#948fb4" stroke-width="0.45" stroke-opacity="0.65"/><path d="M27.8 1.9Q27.9 2.5 26.7 2.5" fill="none" stroke="#948fb4" stroke-width="0.45" stroke-opacity="0.65"/><path d="M29.0 22.6Q29.3 21.3 30.4 21.7" fill="none" stroke="#948fb4" stroke-width="0.45" stroke-opacity="0.65"/><path d="M27.8 25.6Q26.2 25.1 25.8 25.8" fill="none" stroke="#948fb4" stroke-width="0.45" stroke-opacity="0.65"/><path d="M2.0 2.7Q3.5 2.2 3.4 1.7" fill="none" stroke="#948fb4" stroke-width="0.45" stroke-opacity="0.65"/><path d="M19.5 13.6Q20.2 13.2 18.9 11.4" fill="none" stroke="#948fb4" stroke-width="0.45" stroke-opacity="0.65"/><path d="M19.7 17.1Q18.9 16.5 18.4 17.3" fill="none" stroke="#948fb4" stroke-width="0.45" stroke-opacity="0.65"/><path d="M5.8 11.9Q5.0 12.5 4.9 11.0" fill="none" stroke="#948fb4" stroke-width="0.45" stroke-opacity="0.65"/><path d="M19.8 15.0Q18.6 16.4 18.5 16.0" fill="none" stroke="#948fb4" stroke-width="0.45" stroke-opacity="0.65"/><path d="M26.5 18.9Q27.2 19.0 27.8 20.5" fill="none" stroke="#948fb4" stroke-width="0.45" stroke-opacity="0.65"/><path d="M9.4 17.0Q9.9 17.6 9.5 18.3" fill="none" stroke="#948fb4" stroke-width="0.45" stroke-opacity="0.65"/><path d="M25.8 4.6Q26.5 4.8 26.9 4.2" fill="none" stroke="#948fb4" stroke-width="0.45" stroke-opacity="0.65"/><path d="M16.1 4.3Q15.7 3.6 13.6 4.4" fill="none" stroke="#948fb4" stroke-width="0.45" stroke-opacity="0.65"/><path d="M8.0 15.9Q7.9 14.5 8.9 14.8" fill="none" stroke="#948fb4" stroke-width="0.45" stroke-opacity="0.65"/><path d="M4.7 7.9Q6.0 6.9 6.5 6.1" fill="none" stroke="#948fb4" stroke-width="0.45" stroke-opacity="0.65"/><path d="M1.2 24.1Q1.3 25.4 1.6 25.3" fill="none" stroke="#948fb4" stroke-width="0.45" stroke-opacity="0.65"/><path d="M5.3 1.8Q7.0 1.2 7.8 1.9" fill="none" stroke="#948fb4" stroke-width="0.45" stroke-opacity="0.65"/><path d="M8.7 6.0Q10.1 5.7 10.2 5.2" fill="none" stroke="#948fb4" stroke-width="0.45" stroke-opacity="0.65"/><path d="M2.5 5.1Q3.6 3.4 2.9 3.7" fill="none" stroke="#948fb4" stroke-width="0.45" stroke-opacity="0.65"/><path d="M9.7 27.8Q9.8 28.9 10.8 28.4" fill="none" stroke="#948fb4" stroke-width="0.45" stroke-opacity="0.65"/><path d="M7.6 20.9Q6.6 20.6 7.0 19.9" fill="none" stroke="#948fb4" stroke-width="0.45" stroke-opacity="0.65"/><path d="M21.5 25.5Q22.2 26.3 23.2 25.3" fill="none" stroke="#948fb4" stroke-width="0.45" stroke-opacity="0.65"/><path d="M26.5 29.0Q26.8 30.3 26.3 30.1" fill="none" stroke="#948fb4" stroke-width="0.45" stroke-opacity="0.65"/><path d="M7.4 22.3Q7.5 21.3 9.2 22.3" fill="none" stroke="#948fb4" stroke-width="0.45" stroke-opacity="0.65"/><path d="M6.6 27.0Q8.1 26.0 8.0 25.5" fill="none" stroke="#948fb4" stroke-width="0.45" stroke-opacity="0.65"/><path d="M20.2 19.0Q21.8 18.9 22.0 20.1" fill="none" stroke="#948fb4" stroke-width="0.45" stroke-opacity="0.65"/><path d="M12.9 19.9Q13.0 18.6 13.9 18.0" fill="none" stroke="#948fb4" stroke-width="0.45" stroke-opacity="0.65"/><path d="M21.1 1.4Q20.4 2.1 20.1 3.6" fill="none" stroke="#948fb4" stroke-width="0.45" stroke-opacity="0.65"/><path d="M20.7 5.0Q20.5 5.5 21.8 5.5" fill="none" stroke="#948fb4" stroke-width="0.45" stroke-opacity="0.65"/><path d="M28.7 0.2Q27.8 0.5 27.6 1.5" fill="none" stroke="#948fb4" stroke-width="0.45" stroke-opacity="0.65"/><circle cx="3.1" cy="12.3" r="0.38" fill="#77739c" fill-opacity="0.8"/><circle cx="1.7" cy="3.9" r="0.58" fill="#77739c" fill-opacity="0.8"/><circle cx="20.8" cy="28.5" r="0.54" fill="#77739c" fill-opacity="0.8"/><circle cx="21.4" cy="6.6" r="0.33" fill="#77739c" fill-opacity="0.8"/><circle cx="28.5" cy="19.9" r="0.52" fill="#77739c" fill-opacity="0.8"/><circle cx="4.2" cy="23.0" r="0.46" fill="#77739c" fill-opacity="0.8"/><circle cx="2.5" cy="6.1" r="0.59" fill="#77739c" fill-opacity="0.8"/><circle cx="18.1" cy="2.6" r="0.32" fill="#77739c" fill-opacity="0.8"/><circle cx="21.8" cy="10.2" r="0.44" fill="#77739c" fill-opacity="0.8"/><circle cx="4.0" cy="5.2" r="0.45" fill="#77739c" fill-opacity="0.8"/><circle cx="12.4" cy="5.4" r="0.35" fill="#77739c" fill-opacity="0.8"/><circle cx="12.9" cy="3.3" r="0.32" fill="#77739c" fill-opacity="0.8"/><circle cx="13.7" cy="1.5" r="0.52" fill="#77739c" fill-opacity="0.8"/><circle cx="22.3" cy="20.5" r="0.59" fill="#77739c" fill-opacity="0.8"/><circle cx="4.8" cy="12.2" r="0.42" fill="#77739c" fill-opacity="0.8"/><circle cx="2.1" cy="24.9" r="0.31" fill="#77739c" fill-opacity="0.8"/><circle cx="28.5" cy="19.6" r="0.60" fill="#77739c" fill-opacity="0.8"/><circle cx="1.7" cy="25.9" r="0.59" fill="#77739c" fill-opacity="0.8"/><circle cx="22.6" cy="16.8" r="0.49" fill="#77739c" fill-opacity="0.8"/><circle cx="14.0" cy="24.7" r="0.47" fill="#77739c" fill-opacity="0.8"/><circle cx="15.9" cy="11.7" r="0.49" fill="#77739c" fill-opacity="0.8"/><circle cx="17.0" cy="27.3" r="0.53" fill="#77739c" fill-opacity="0.8"/><circle cx="9.6" cy="20.9" r="0.54" fill="#f7f6fb" fill-opacity="0.8"/><circle cx="14.0" cy="15.3" r="0.84" fill="#f7f6fb" fill-opacity="0.8"/><circle cx="2.1" cy="4.3" r="0.51" fill="#f7f6fb" fill-opacity="0.8"/><circle cx="18.0" cy="4.9" r="0.74" fill="#f7f6fb" fill-opacity="0.8"/><circle cx="25.6" cy="12.4" r="0.53" fill="#f7f6fb" fill-opacity="0.8"/><circle cx="17.3" cy="11.9" r="0.66" fill="#f7f6fb" fill-opacity="0.8"/><circle cx="5.2" cy="19.8" r="0.61" fill="#f7f6fb" fill-opacity="0.8"/><circle cx="28.6" cy="14.4" r="0.81" fill="#f7f6fb" fill-opacity="0.8"/><circle cx="26.8" cy="28.5" r="0.41" fill="#f7f6fb" fill-opacity="0.8"/><circle cx="26.9" cy="3.0" r="0.97" fill="#f7f6fb" fill-opacity="0.8"/><circle cx="22.9" cy="7.4" r="0.83" fill="#f7f6fb" fill-opacity="0.8"/><circle cx="16.3" cy="13.1" r="0.78" fill="#f7f6fb" fill-opacity="0.8"/><circle cx="13.2" cy="19.1" r="0.82" fill="#f7f6fb" fill-opacity="0.8"/><circle cx="0.2" cy="18.5" r="0.82" fill="#f7f6fb" fill-opacity="0.8"/><circle cx="25.1" cy="15.5" r="0.72" fill="#f7f6fb" fill-opacity="0.8"/><circle cx="4.2" cy="5.7" r="0.94" fill="#f7f6fb" fill-opacity="0.8"/><circle cx="1.8" cy="26.1" r="0.47" fill="#f7f6fb" fill-opacity="0.8"/><circle cx="11.1" cy="18.0" r="0.42" fill="#f7f6fb" fill-opacity="0.8"/><circle cx="13.0" cy="23.2" r="0.63" fill="#f7f6fb" fill-opacity="0.8"/><circle cx="5.1" cy="1.7" r="0.97" fill="#f7f6fb" fill-opacity="0.8"/><circle cx="3.0" cy="19.4" r="0.78" fill="#f7f6fb" fill-opacity="0.8"/><circle cx="8.1" cy="16.2" r="0.81" fill="#f7f6fb" fill-opacity="0.8"/><circle cx="6.0" cy="7.1" r="0.95" fill="#f7f6fb" fill-opacity="0.8"/><circle cx="6.0" cy="14.2" r="0.67" fill="#f7f6fb" fill-opacity="0.8"/><circle cx="22.6" cy="24.9" r="0.86" fill="#f7f6fb" fill-opacity="0.8"/><circle cx="18.2" cy="15.7" r="0.45" fill="#f7f6fb" fill-opacity="0.8"/><circle cx="16.6" cy="12.6" r="0.85" fill="#f7f6fb" fill-opacity="0.8"/><circle cx="10.9" cy="3.5" r="0.63" fill="#f7f6fb" fill-opacity="0.8"/><circle cx="24.1" cy="14.4" r="0.80" fill="#f7f6fb" fill-opacity="0.8"/><circle cx="1.6" cy="6.4" r="0.56" fill="#f7f6fb" fill-opacity="0.8"/><circle cx="14.0" cy="3.5" r="0.97" fill="#f7f6fb" fill-opacity="0.8"/><circle cx="9.6" cy="0.0" r="0.54" fill="#f7f6fb" fill-opacity="0.8"/><circle cx="14.5" cy="17.9" r="0.89" fill="#f7f6fb" fill-opacity="0.8"/><circle cx="2.5" cy="28.1" r="0.91" fill="#f7f6fb" fill-opacity="0.8"/><circle cx="14.9" cy="18.8" r="0.58" fill="#f7f6fb" fill-opacity="0.8"/><circle cx="4.3" cy="0.3" r="0.98" fill="#f7f6fb" fill-opacity="0.8"/><circle cx="25.8" cy="12.9" r="0.76" fill="#f7f6fb" fill-opacity="0.8"/><circle cx="13.8" cy="20.0" r="0.46" fill="#f7f6fb" fill-opacity="0.8"/><circle cx="21.9" cy="5.1" r="0.75" fill="#f7f6fb" fill-opacity="0.8"/><circle cx="18.1" cy="24.6" r="0.77" fill="#f7f6fb" fill-opacity="0.8"/><circle cx="5.2" cy="23.6" r="0.62" fill="#f7f6fb" fill-opacity="0.8"/><circle cx="16.3" cy="23.2" r="0.99" fill="#f7f6fb" fill-opacity="0.8"/><circle cx="3.0" cy="13.2" r="0.59" fill="#f7f6fb" fill-opacity="0.8"/><circle cx="24.6" cy="11.5" r="0.95" fill="#f7f6fb" fill-opacity="0.8"/><circle cx="23.0" cy="12.2" r="0.86" fill="#f7f6fb" fill-opacity="0.8"/><circle cx="19.7" cy="3.4" r="0.58" fill="#f7f6fb" fill-opacity="0.8"/><circle cx="3.9" cy="24.1" r="0.64" fill="#f7f6fb" fill-opacity="0.8"/><circle cx="8.7" cy="20.8" r="0.99" fill="#f7f6fb" fill-opacity="0.8"/><circle cx="4.1" cy="20.1" r="0.54" fill="#f7f6fb" fill-opacity="0.8"/><circle cx="22.9" cy="21.6" r="0.86" fill="#f7f6fb" fill-opacity="0.8"/></pattern><pattern id="tcc3c" patternUnits="userSpaceOnUse" width="29" height="29"><rect width="29" height="29" fill="#ebeaf2"/><path d="M5.3 19.2Q5.5 19.9 5.8 20.6" fill="none" stroke="#a7a4c2" stroke-width="0.45" stroke-opacity="0.6"/><path d="M13.9 13.3Q14.3 13.7 13.9 14.7" fill="none" stroke="#a7a4c2" stroke-width="0.45" stroke-opacity="0.6"/><path d="M19.6 22.8Q20.2 21.9 21.8 22.0" fill="none" stroke="#a7a4c2" stroke-width="0.45" stroke-opacity="0.6"/><path d="M21.3 16.7Q21.8 16.8 20.7 15.5" fill="none" stroke="#a7a4c2" stroke-width="0.45" stroke-opacity="0.6"/><path d="M6.3 8.7Q6.2 9.0 7.3 8.5" fill="none" stroke="#a7a4c2" stroke-width="0.45" stroke-opacity="0.6"/><path d="M15.6 17.2Q16.2 16.0 16.4 15.6" fill="none" stroke="#a7a4c2" stroke-width="0.45" stroke-opacity="0.6"/><path d="M3.3 13.8Q4.5 15.1 4.8 15.8" fill="none" stroke="#a7a4c2" stroke-width="0.45" stroke-opacity="0.6"/><path d="M4.6 6.0Q3.5 6.4 2.7 6.8" fill="none" stroke="#a7a4c2" stroke-width="0.45" stroke-opacity="0.6"/><path d="M2.9 20.4Q1.7 20.8 1.0 20.0" fill="none" stroke="#a7a4c2" stroke-width="0.45" stroke-opacity="0.6"/><path d="M23.9 15.8Q23.5 15.4 24.6 16.7" fill="none" stroke="#a7a4c2" stroke-width="0.45" stroke-opacity="0.6"/><path d="M18.8 15.8Q19.6 16.0 19.9 15.1" fill="none" stroke="#a7a4c2" stroke-width="0.45" stroke-opacity="0.6"/><path d="M23.7 19.8Q23.9 20.1 25.6 19.6" fill="none" stroke="#a7a4c2" stroke-width="0.45" stroke-opacity="0.6"/><path d="M25.6 13.9Q26.0 14.5 26.6 16.0" fill="none" stroke="#a7a4c2" stroke-width="0.45" stroke-opacity="0.6"/><path d="M11.5 20.4Q11.9 20.5 10.9 21.4" fill="none" stroke="#a7a4c2" stroke-width="0.45" stroke-opacity="0.6"/><path d="M3.7 28.8Q4.7 28.2 5.5 29.0" fill="none" stroke="#a7a4c2" stroke-width="0.45" stroke-opacity="0.6"/><path d="M4.7 21.4Q3.8 22.0 2.9 22.3" fill="none" stroke="#a7a4c2" stroke-width="0.45" stroke-opacity="0.6"/><path d="M13.3 2.9Q13.3 1.6 13.6 0.7" fill="none" stroke="#a7a4c2" stroke-width="0.45" stroke-opacity="0.6"/><path d="M17.7 13.7Q19.1 12.4 18.9 12.5" fill="none" stroke="#a7a4c2" stroke-width="0.45" stroke-opacity="0.6"/><path d="M5.0 22.8Q4.4 20.6 4.7 20.2" fill="none" stroke="#a7a4c2" stroke-width="0.45" stroke-opacity="0.6"/><path d="M24.0 27.0Q24.8 25.9 23.8 24.8" fill="none" stroke="#a7a4c2" stroke-width="0.45" stroke-opacity="0.6"/><path d="M27.0 7.6Q27.7 7.7 27.6 6.7" fill="none" stroke="#a7a4c2" stroke-width="0.45" stroke-opacity="0.6"/><path d="M3.8 8.7Q4.3 9.3 5.6 9.5" fill="none" stroke="#a7a4c2" stroke-width="0.45" stroke-opacity="0.6"/><path d="M27.2 20.9Q26.5 21.8 25.8 21.8" fill="none" stroke="#a7a4c2" stroke-width="0.45" stroke-opacity="0.6"/><path d="M28.9 0.3Q28.4 -1.3 29.7 -2.0" fill="none" stroke="#a7a4c2" stroke-width="0.45" stroke-opacity="0.6"/><path d="M7.9 6.3Q8.7 6.6 8.8 7.2" fill="none" stroke="#a7a4c2" stroke-width="0.45" stroke-opacity="0.6"/><path d="M3.1 24.5Q3.7 26.2 3.0 26.8" fill="none" stroke="#a7a4c2" stroke-width="0.45" stroke-opacity="0.6"/><path d="M15.4 2.5Q16.9 2.7 16.9 1.0" fill="none" stroke="#a7a4c2" stroke-width="0.45" stroke-opacity="0.6"/><path d="M4.7 28.3Q4.4 29.0 4.0 29.2" fill="none" stroke="#a7a4c2" stroke-width="0.45" stroke-opacity="0.6"/><path d="M15.4 26.3Q16.4 25.3 16.8 24.6" fill="none" stroke="#a7a4c2" stroke-width="0.45" stroke-opacity="0.6"/><path d="M0.6 18.8Q2.0 19.0 1.5 21.1" fill="none" stroke="#a7a4c2" stroke-width="0.45" stroke-opacity="0.6"/><path d="M11.5 21.8Q10.1 20.8 9.6 20.8" fill="none" stroke="#a7a4c2" stroke-width="0.45" stroke-opacity="0.6"/><path d="M4.1 18.7Q4.8 19.0 4.8 19.5" fill="none" stroke="#a7a4c2" stroke-width="0.45" stroke-opacity="0.6"/><path d="M0.5 12.3Q-1.2 11.5 -2.0 12.1" fill="none" stroke="#a7a4c2" stroke-width="0.45" stroke-opacity="0.6"/><path d="M14.5 7.0Q15.4 7.9 15.8 7.6" fill="none" stroke="#a7a4c2" stroke-width="0.45" stroke-opacity="0.6"/><path d="M14.7 17.7Q15.0 18.5 16.2 17.7" fill="none" stroke="#a7a4c2" stroke-width="0.45" stroke-opacity="0.6"/><path d="M0.4 19.2Q-1.2 18.0 -1.8 18.2" fill="none" stroke="#a7a4c2" stroke-width="0.45" stroke-opacity="0.6"/><path d="M28.7 28.8Q28.7 29.9 27.5 29.5" fill="none" stroke="#a7a4c2" stroke-width="0.45" stroke-opacity="0.6"/><path d="M0.8 15.8Q1.8 16.1 2.1 16.5" fill="none" stroke="#a7a4c2" stroke-width="0.45" stroke-opacity="0.6"/><path d="M6.0 22.0Q5.6 22.2 5.9 23.5" fill="none" stroke="#a7a4c2" stroke-width="0.45" stroke-opacity="0.6"/><path d="M24.4 9.6Q24.0 9.2 23.5 7.3" fill="none" stroke="#a7a4c2" stroke-width="0.45" stroke-opacity="0.6"/><path d="M10.8 1.0Q12.6 2.4 12.7 1.8" fill="none" stroke="#a7a4c2" stroke-width="0.45" stroke-opacity="0.6"/><path d="M11.3 2.6Q12.2 3.8 11.2 5.1" fill="none" stroke="#a7a4c2" stroke-width="0.45" stroke-opacity="0.6"/><path d="M25.7 25.4Q25.2 25.3 25.0 26.4" fill="none" stroke="#a7a4c2" stroke-width="0.45" stroke-opacity="0.6"/><path d="M26.9 6.1Q26.5 7.3 27.5 7.3" fill="none" stroke="#a7a4c2" stroke-width="0.45" stroke-opacity="0.6"/><path d="M5.9 17.1Q6.7 17.4 6.3 16.0" fill="none" stroke="#a7a4c2" stroke-width="0.45" stroke-opacity="0.6"/><path d="M1.6 19.4Q1.4 20.0 0.5 21.3" fill="none" stroke="#a7a4c2" stroke-width="0.45" stroke-opacity="0.6"/><path d="M17.0 24.7Q15.9 26.6 15.8 26.7" fill="none" stroke="#a7a4c2" stroke-width="0.45" stroke-opacity="0.6"/><path d="M6.8 13.7Q6.3 13.5 5.7 14.9" fill="none" stroke="#a7a4c2" stroke-width="0.45" stroke-opacity="0.6"/><path d="M13.5 19.5Q11.8 19.1 11.1 19.6" fill="none" stroke="#a7a4c2" stroke-width="0.45" stroke-opacity="0.6"/><path d="M5.5 4.3Q5.9 5.3 4.4 5.2" fill="none" stroke="#a7a4c2" stroke-width="0.45" stroke-opacity="0.6"/><path d="M26.7 14.3Q26.5 15.0 25.5 13.7" fill="none" stroke="#a7a4c2" stroke-width="0.45" stroke-opacity="0.6"/><path d="M6.7 22.1Q5.7 22.1 4.7 23.7" fill="none" stroke="#a7a4c2" stroke-width="0.45" stroke-opacity="0.6"/><path d="M19.5 1.6Q20.2 1.2 19.5 -0.7" fill="none" stroke="#a7a4c2" stroke-width="0.45" stroke-opacity="0.6"/><path d="M2.0 25.4Q3.8 25.0 4.0 24.7" fill="none" stroke="#a7a4c2" stroke-width="0.45" stroke-opacity="0.6"/><path d="M24.9 5.8Q24.9 4.7 23.7 3.5" fill="none" stroke="#a7a4c2" stroke-width="0.45" stroke-opacity="0.6"/><path d="M16.6 7.0Q15.0 7.4 14.4 6.7" fill="none" stroke="#a7a4c2" stroke-width="0.45" stroke-opacity="0.6"/><path d="M16.9 12.4Q16.2 13.1 14.8 13.5" fill="none" stroke="#a7a4c2" stroke-width="0.45" stroke-opacity="0.6"/><path d="M10.6 10.3Q10.3 10.8 11.4 12.0" fill="none" stroke="#a7a4c2" stroke-width="0.45" stroke-opacity="0.6"/><path d="M20.7 5.4Q21.0 5.6 19.6 7.4" fill="none" stroke="#a7a4c2" stroke-width="0.45" stroke-opacity="0.6"/><path d="M24.7 23.9Q23.5 24.0 23.1 22.2" fill="none" stroke="#a7a4c2" stroke-width="0.45" stroke-opacity="0.6"/><path d="M6.5 20.4Q7.0 20.4 7.9 21.1" fill="none" stroke="#a7a4c2" stroke-width="0.45" stroke-opacity="0.6"/><path d="M22.9 6.0Q23.2 6.5 25.1 6.4" fill="none" stroke="#a7a4c2" stroke-width="0.45" stroke-opacity="0.6"/><path d="M27.0 17.8Q27.8 16.5 28.0 17.2" fill="none" stroke="#a7a4c2" stroke-width="0.45" stroke-opacity="0.6"/><path d="M3.8 11.3Q3.7 11.2 2.1 10.6" fill="none" stroke="#a7a4c2" stroke-width="0.45" stroke-opacity="0.6"/><path d="M27.8 11.8Q28.2 11.0 27.0 10.5" fill="none" stroke="#a7a4c2" stroke-width="0.45" stroke-opacity="0.6"/><path d="M1.4 11.0Q1.6 10.5 2.4 10.2" fill="none" stroke="#a7a4c2" stroke-width="0.45" stroke-opacity="0.6"/><path d="M17.9 1.7Q16.9 0.7 16.8 1.5" fill="none" stroke="#a7a4c2" stroke-width="0.45" stroke-opacity="0.6"/><path d="M21.6 21.3Q22.9 23.0 23.0 22.8" fill="none" stroke="#a7a4c2" stroke-width="0.45" stroke-opacity="0.6"/><path d="M3.2 19.7Q3.3 21.0 4.1 20.4" fill="none" stroke="#a7a4c2" stroke-width="0.45" stroke-opacity="0.6"/><path d="M13.2 15.7Q11.9 15.6 11.3 17.2" fill="none" stroke="#a7a4c2" stroke-width="0.45" stroke-opacity="0.6"/><path d="M6.8 17.8Q7.5 18.0 9.2 17.6" fill="none" stroke="#a7a4c2" stroke-width="0.45" stroke-opacity="0.6"/><path d="M9.3 16.2Q10.3 16.5 10.2 15.8" fill="none" stroke="#a7a4c2" stroke-width="0.45" stroke-opacity="0.6"/><path d="M18.5 11.0Q17.6 10.5 16.1 10.9" fill="none" stroke="#a7a4c2" stroke-width="0.45" stroke-opacity="0.6"/><path d="M5.3 20.8Q5.7 20.9 6.8 21.2" fill="none" stroke="#a7a4c2" stroke-width="0.45" stroke-opacity="0.6"/><path d="M5.5 4.0Q4.4 4.7 3.4 4.5" fill="none" stroke="#a7a4c2" stroke-width="0.45" stroke-opacity="0.6"/><path d="M1.4 15.0Q1.6 15.6 0.9 17.5" fill="none" stroke="#a7a4c2" stroke-width="0.45" stroke-opacity="0.6"/><path d="M11.0 13.0Q10.7 13.6 11.1 14.4" fill="none" stroke="#a7a4c2" stroke-width="0.45" stroke-opacity="0.6"/><path d="M11.3 14.3Q11.2 14.1 10.0 14.0" fill="none" stroke="#a7a4c2" stroke-width="0.45" stroke-opacity="0.6"/><path d="M10.4 23.8Q9.1 24.8 8.4 23.9" fill="none" stroke="#a7a4c2" stroke-width="0.45" stroke-opacity="0.6"/><path d="M3.4 26.8Q3.1 26.8 4.7 26.0" fill="none" stroke="#a7a4c2" stroke-width="0.45" stroke-opacity="0.6"/><path d="M13.9 17.8Q13.2 18.3 13.1 18.6" fill="none" stroke="#a7a4c2" stroke-width="0.45" stroke-opacity="0.6"/><path d="M20.8 27.6Q20.9 28.6 22.2 28.0" fill="none" stroke="#a7a4c2" stroke-width="0.45" stroke-opacity="0.6"/><path d="M15.9 19.3Q16.5 18.7 16.6 16.9" fill="none" stroke="#a7a4c2" stroke-width="0.45" stroke-opacity="0.6"/><path d="M4.9 23.8Q6.0 23.5 5.8 22.9" fill="none" stroke="#a7a4c2" stroke-width="0.45" stroke-opacity="0.6"/><path d="M8.1 3.6Q8.0 3.8 8.5 5.4" fill="none" stroke="#a7a4c2" stroke-width="0.45" stroke-opacity="0.6"/><path d="M2.4 23.0Q1.7 23.0 0.5 21.7" fill="none" stroke="#a7a4c2" stroke-width="0.45" stroke-opacity="0.6"/><path d="M17.3 18.4Q18.1 18.7 18.2 18.9" fill="none" stroke="#a7a4c2" stroke-width="0.45" stroke-opacity="0.6"/><path d="M8.2 23.5Q8.4 22.9 6.7 22.6" fill="none" stroke="#a7a4c2" stroke-width="0.45" stroke-opacity="0.6"/><path d="M25.8 14.4Q25.8 13.4 25.8 12.3" fill="none" stroke="#a7a4c2" stroke-width="0.45" stroke-opacity="0.6"/><path d="M25.0 22.1Q24.3 21.3 24.6 20.2" fill="none" stroke="#a7a4c2" stroke-width="0.45" stroke-opacity="0.6"/><circle cx="24.3" cy="20.9" r="0.58" fill="#8a86aa" fill-opacity="0.8"/><circle cx="1.6" cy="4.8" r="0.37" fill="#8a86aa" fill-opacity="0.8"/><circle cx="27.6" cy="26.1" r="0.38" fill="#8a86aa" fill-opacity="0.8"/><circle cx="2.0" cy="9.7" r="0.55" fill="#8a86aa" fill-opacity="0.8"/><circle cx="24.2" cy="18.1" r="0.58" fill="#8a86aa" fill-opacity="0.8"/><circle cx="22.3" cy="0.4" r="0.35" fill="#8a86aa" fill-opacity="0.8"/><circle cx="24.0" cy="22.2" r="0.56" fill="#8a86aa" fill-opacity="0.8"/><circle cx="17.2" cy="26.5" r="0.30" fill="#8a86aa" fill-opacity="0.8"/><circle cx="11.0" cy="1.1" r="0.59" fill="#8a86aa" fill-opacity="0.8"/><circle cx="25.2" cy="19.0" r="0.46" fill="#8a86aa" fill-opacity="0.8"/><circle cx="15.2" cy="16.9" r="0.39" fill="#8a86aa" fill-opacity="0.8"/><circle cx="3.2" cy="24.6" r="0.55" fill="#8a86aa" fill-opacity="0.8"/><circle cx="7.7" cy="12.4" r="0.65" fill="#fafafc" fill-opacity="0.8"/><circle cx="22.0" cy="9.8" r="0.81" fill="#fafafc" fill-opacity="0.8"/><circle cx="3.5" cy="26.7" r="0.80" fill="#fafafc" fill-opacity="0.8"/><circle cx="11.0" cy="14.8" r="0.81" fill="#fafafc" fill-opacity="0.8"/><circle cx="16.2" cy="3.8" r="0.49" fill="#fafafc" fill-opacity="0.8"/><circle cx="3.0" cy="18.3" r="1.00" fill="#fafafc" fill-opacity="0.8"/><circle cx="3.4" cy="24.9" r="0.86" fill="#fafafc" fill-opacity="0.8"/><circle cx="7.5" cy="13.6" r="0.45" fill="#fafafc" fill-opacity="0.8"/><circle cx="23.6" cy="13.6" r="0.90" fill="#fafafc" fill-opacity="0.8"/><circle cx="12.3" cy="12.7" r="0.73" fill="#fafafc" fill-opacity="0.8"/><circle cx="22.9" cy="16.6" r="0.79" fill="#fafafc" fill-opacity="0.8"/><circle cx="11.8" cy="5.6" r="0.54" fill="#fafafc" fill-opacity="0.8"/><circle cx="23.8" cy="0.5" r="0.89" fill="#fafafc" fill-opacity="0.8"/><circle cx="15.6" cy="10.2" r="0.67" fill="#fafafc" fill-opacity="0.8"/><circle cx="11.9" cy="20.9" r="0.84" fill="#fafafc" fill-opacity="0.8"/><circle cx="26.8" cy="14.0" r="0.78" fill="#fafafc" fill-opacity="0.8"/><circle cx="5.6" cy="20.2" r="0.41" fill="#fafafc" fill-opacity="0.8"/><circle cx="24.5" cy="26.7" r="0.67" fill="#fafafc" fill-opacity="0.8"/><circle cx="3.6" cy="5.2" r="0.76" fill="#fafafc" fill-opacity="0.8"/><circle cx="0.3" cy="9.1" r="0.40" fill="#fafafc" fill-opacity="0.8"/><circle cx="2.0" cy="3.0" r="0.96" fill="#fafafc" fill-opacity="0.8"/><circle cx="22.3" cy="13.3" r="0.82" fill="#fafafc" fill-opacity="0.8"/><circle cx="3.3" cy="20.8" r="0.54" fill="#fafafc" fill-opacity="0.8"/><circle cx="20.4" cy="10.9" r="0.92" fill="#fafafc" fill-opacity="0.8"/><circle cx="1.9" cy="1.8" r="0.93" fill="#fafafc" fill-opacity="0.8"/><circle cx="24.0" cy="9.9" r="0.48" fill="#fafafc" fill-opacity="0.8"/><circle cx="15.6" cy="14.7" r="0.64" fill="#fafafc" fill-opacity="0.8"/><circle cx="24.1" cy="2.5" r="0.63" fill="#fafafc" fill-opacity="0.8"/><circle cx="18.6" cy="14.6" r="0.66" fill="#fafafc" fill-opacity="0.8"/><circle cx="17.7" cy="5.0" r="0.70" fill="#fafafc" fill-opacity="0.8"/><circle cx="1.5" cy="7.7" r="0.42" fill="#fafafc" fill-opacity="0.8"/><circle cx="8.2" cy="1.2" r="1.00" fill="#fafafc" fill-opacity="0.8"/><circle cx="27.3" cy="1.1" r="0.48" fill="#fafafc" fill-opacity="0.8"/><circle cx="26.9" cy="27.6" r="0.96" fill="#fafafc" fill-opacity="0.8"/><circle cx="28.8" cy="15.2" r="1.00" fill="#fafafc" fill-opacity="0.8"/><circle cx="28.2" cy="8.7" r="0.70" fill="#fafafc" fill-opacity="0.8"/><circle cx="14.2" cy="27.9" r="0.78" fill="#fafafc" fill-opacity="0.8"/><circle cx="9.6" cy="22.7" r="0.60" fill="#fafafc" fill-opacity="0.8"/><circle cx="17.6" cy="8.9" r="0.66" fill="#fafafc" fill-opacity="0.8"/><circle cx="15.1" cy="2.0" r="0.81" fill="#fafafc" fill-opacity="0.8"/><circle cx="24.6" cy="1.5" r="0.53" fill="#fafafc" fill-opacity="0.8"/><circle cx="18.1" cy="10.1" r="0.42" fill="#fafafc" fill-opacity="0.8"/><circle cx="8.5" cy="5.9" r="0.97" fill="#fafafc" fill-opacity="0.8"/><circle cx="22.4" cy="2.6" r="0.68" fill="#fafafc" fill-opacity="0.8"/><circle cx="25.3" cy="11.3" r="0.55" fill="#fafafc" fill-opacity="0.8"/><circle cx="6.8" cy="11.3" r="0.89" fill="#fafafc" fill-opacity="0.8"/><circle cx="28.5" cy="28.4" r="0.93" fill="#fafafc" fill-opacity="0.8"/><circle cx="1.2" cy="19.0" r="0.79" fill="#fafafc" fill-opacity="0.8"/><circle cx="3.7" cy="0.9" r="0.69" fill="#fafafc" fill-opacity="0.8"/><circle cx="8.9" cy="25.4" r="0.82" fill="#fafafc" fill-opacity="0.8"/></pattern><pattern id="tcc3b" patternUnits="userSpaceOnUse" width="29" height="29"><rect width="29" height="29" fill="#e6e4ef"/><path d="M27.8 4.1Q27.7 3.3 28.8 4.1" fill="none" stroke="#9a96b8" stroke-width="0.45" stroke-opacity="0.6"/><path d="M18.9 10.0Q19.9 10.9 19.2 12.4" fill="none" stroke="#9a96b8" stroke-width="0.45" stroke-opacity="0.6"/><path d="M17.4 27.0Q18.8 25.6 19.3 26.1" fill="none" stroke="#9a96b8" stroke-width="0.45" stroke-opacity="0.6"/><path d="M25.6 17.1Q26.5 18.0 26.1 18.5" fill="none" stroke="#9a96b8" stroke-width="0.45" stroke-opacity="0.6"/><path d="M27.2 22.4Q26.4 22.2 24.9 21.4" fill="none" stroke="#9a96b8" stroke-width="0.45" stroke-opacity="0.6"/><path d="M7.5 27.7Q8.5 27.3 7.8 26.3" fill="none" stroke="#9a96b8" stroke-width="0.45" stroke-opacity="0.6"/><path d="M4.1 23.9Q3.6 24.9 4.9 25.8" fill="none" stroke="#9a96b8" stroke-width="0.45" stroke-opacity="0.6"/><path d="M0.9 26.8Q-0.1 27.1 -0.9 26.6" fill="none" stroke="#9a96b8" stroke-width="0.45" stroke-opacity="0.6"/><path d="M26.6 8.9Q25.5 8.7 25.2 8.1" fill="none" stroke="#9a96b8" stroke-width="0.45" stroke-opacity="0.6"/><path d="M15.8 12.6Q13.9 13.4 13.7 12.2" fill="none" stroke="#9a96b8" stroke-width="0.45" stroke-opacity="0.6"/><path d="M10.3 12.5Q12.0 12.2 11.8 11.8" fill="none" stroke="#9a96b8" stroke-width="0.45" stroke-opacity="0.6"/><path d="M11.6 2.8Q12.3 3.6 12.8 4.9" fill="none" stroke="#9a96b8" stroke-width="0.45" stroke-opacity="0.6"/><path d="M9.5 10.4Q10.2 11.1 10.8 10.7" fill="none" stroke="#9a96b8" stroke-width="0.45" stroke-opacity="0.6"/><path d="M18.8 5.8Q19.6 6.8 20.8 6.5" fill="none" stroke="#9a96b8" stroke-width="0.45" stroke-opacity="0.6"/><path d="M26.7 13.4Q25.6 13.5 24.4 13.4" fill="none" stroke="#9a96b8" stroke-width="0.45" stroke-opacity="0.6"/><path d="M28.7 21.6Q28.9 20.4 28.5 19.8" fill="none" stroke="#9a96b8" stroke-width="0.45" stroke-opacity="0.6"/><path d="M22.7 23.8Q22.7 23.4 24.6 23.1" fill="none" stroke="#9a96b8" stroke-width="0.45" stroke-opacity="0.6"/><path d="M18.4 9.9Q18.0 8.8 17.9 8.7" fill="none" stroke="#9a96b8" stroke-width="0.45" stroke-opacity="0.6"/><path d="M1.2 28.0Q1.2 28.1 2.4 29.1" fill="none" stroke="#9a96b8" stroke-width="0.45" stroke-opacity="0.6"/><path d="M25.1 5.2Q25.6 5.1 26.3 6.1" fill="none" stroke="#9a96b8" stroke-width="0.45" stroke-opacity="0.6"/><path d="M10.0 21.3Q9.7 20.0 11.2 19.2" fill="none" stroke="#9a96b8" stroke-width="0.45" stroke-opacity="0.6"/><path d="M24.6 1.0Q23.7 1.5 23.3 1.0" fill="none" stroke="#9a96b8" stroke-width="0.45" stroke-opacity="0.6"/><path d="M20.8 13.5Q20.4 13.3 21.0 14.9" fill="none" stroke="#9a96b8" stroke-width="0.45" stroke-opacity="0.6"/><path d="M19.3 4.6Q17.7 3.6 17.8 2.7" fill="none" stroke="#9a96b8" stroke-width="0.45" stroke-opacity="0.6"/><path d="M17.5 1.2Q18.9 0.4 19.3 1.6" fill="none" stroke="#9a96b8" stroke-width="0.45" stroke-opacity="0.6"/><path d="M18.3 28.6Q18.5 29.0 18.6 30.9" fill="none" stroke="#9a96b8" stroke-width="0.45" stroke-opacity="0.6"/><path d="M9.9 25.1Q10.8 25.4 12.2 25.2" fill="none" stroke="#9a96b8" stroke-width="0.45" stroke-opacity="0.6"/><path d="M5.1 23.3Q3.7 23.6 2.8 22.5" fill="none" stroke="#9a96b8" stroke-width="0.45" stroke-opacity="0.6"/><path d="M14.9 5.5Q15.9 6.1 15.7 6.7" fill="none" stroke="#9a96b8" stroke-width="0.45" stroke-opacity="0.6"/><path d="M20.2 23.7Q20.5 25.6 21.1 26.1" fill="none" stroke="#9a96b8" stroke-width="0.45" stroke-opacity="0.6"/><path d="M22.1 11.2Q21.8 11.3 22.8 13.1" fill="none" stroke="#9a96b8" stroke-width="0.45" stroke-opacity="0.6"/><path d="M11.0 6.8Q11.2 6.8 12.8 6.5" fill="none" stroke="#9a96b8" stroke-width="0.45" stroke-opacity="0.6"/><path d="M25.1 17.4Q24.2 17.3 25.3 15.5" fill="none" stroke="#9a96b8" stroke-width="0.45" stroke-opacity="0.6"/><path d="M19.9 23.4Q20.0 23.4 21.8 24.7" fill="none" stroke="#9a96b8" stroke-width="0.45" stroke-opacity="0.6"/><path d="M14.6 27.2Q13.8 28.3 12.5 28.5" fill="none" stroke="#9a96b8" stroke-width="0.45" stroke-opacity="0.6"/><path d="M9.6 28.1Q10.3 27.5 9.3 25.7" fill="none" stroke="#9a96b8" stroke-width="0.45" stroke-opacity="0.6"/><path d="M18.9 9.3Q18.1 10.9 19.0 10.8" fill="none" stroke="#9a96b8" stroke-width="0.45" stroke-opacity="0.6"/><path d="M8.7 0.7Q9.1 0.8 9.9 1.6" fill="none" stroke="#9a96b8" stroke-width="0.45" stroke-opacity="0.6"/><path d="M5.1 13.8Q5.2 14.1 4.1 15.1" fill="none" stroke="#9a96b8" stroke-width="0.45" stroke-opacity="0.6"/><path d="M15.7 25.5Q13.9 27.3 13.9 27.3" fill="none" stroke="#9a96b8" stroke-width="0.45" stroke-opacity="0.6"/><path d="M14.9 6.3Q14.6 6.2 15.0 7.5" fill="none" stroke="#9a96b8" stroke-width="0.45" stroke-opacity="0.6"/><path d="M1.4 28.8Q2.3 30.2 3.2 30.3" fill="none" stroke="#9a96b8" stroke-width="0.45" stroke-opacity="0.6"/><path d="M14.6 2.0Q14.9 2.7 13.5 3.1" fill="none" stroke="#9a96b8" stroke-width="0.45" stroke-opacity="0.6"/><path d="M13.3 18.3Q13.7 18.1 12.9 17.3" fill="none" stroke="#9a96b8" stroke-width="0.45" stroke-opacity="0.6"/><path d="M10.5 8.3Q10.2 8.5 11.3 8.8" fill="none" stroke="#9a96b8" stroke-width="0.45" stroke-opacity="0.6"/><path d="M22.6 6.3Q22.3 4.7 21.4 5.0" fill="none" stroke="#9a96b8" stroke-width="0.45" stroke-opacity="0.6"/><path d="M26.7 17.0Q27.1 18.6 26.8 18.5" fill="none" stroke="#9a96b8" stroke-width="0.45" stroke-opacity="0.6"/><path d="M9.8 11.5Q10.0 13.2 10.6 13.2" fill="none" stroke="#9a96b8" stroke-width="0.45" stroke-opacity="0.6"/><path d="M16.1 23.9Q17.2 22.8 17.1 22.8" fill="none" stroke="#9a96b8" stroke-width="0.45" stroke-opacity="0.6"/><path d="M15.4 19.8Q14.1 19.3 13.8 18.6" fill="none" stroke="#9a96b8" stroke-width="0.45" stroke-opacity="0.6"/><path d="M10.3 23.1Q11.2 22.5 11.9 22.9" fill="none" stroke="#9a96b8" stroke-width="0.45" stroke-opacity="0.6"/><path d="M12.1 3.7Q13.3 3.6 14.1 4.3" fill="none" stroke="#9a96b8" stroke-width="0.45" stroke-opacity="0.6"/><path d="M22.5 3.7Q21.8 1.9 22.1 1.6" fill="none" stroke="#9a96b8" stroke-width="0.45" stroke-opacity="0.6"/><path d="M10.8 18.8Q11.4 19.5 12.2 18.9" fill="none" stroke="#9a96b8" stroke-width="0.45" stroke-opacity="0.6"/><path d="M4.6 27.3Q4.3 27.8 5.5 28.8" fill="none" stroke="#9a96b8" stroke-width="0.45" stroke-opacity="0.6"/><path d="M13.8 5.1Q12.8 5.0 12.7 5.1" fill="none" stroke="#9a96b8" stroke-width="0.45" stroke-opacity="0.6"/><path d="M13.1 20.2Q12.6 21.9 13.3 22.1" fill="none" stroke="#9a96b8" stroke-width="0.45" stroke-opacity="0.6"/><path d="M1.5 3.6Q1.8 3.9 2.0 2.6" fill="none" stroke="#9a96b8" stroke-width="0.45" stroke-opacity="0.6"/><path d="M18.2 9.7Q17.5 9.5 18.0 8.0" fill="none" stroke="#9a96b8" stroke-width="0.45" stroke-opacity="0.6"/><path d="M11.8 1.2Q10.4 1.7 10.4 0.6" fill="none" stroke="#9a96b8" stroke-width="0.45" stroke-opacity="0.6"/><path d="M26.9 14.8Q26.5 13.0 26.0 12.6" fill="none" stroke="#9a96b8" stroke-width="0.45" stroke-opacity="0.6"/><path d="M27.6 26.7Q26.1 27.5 26.3 27.8" fill="none" stroke="#9a96b8" stroke-width="0.45" stroke-opacity="0.6"/><path d="M24.8 11.3Q24.8 10.1 23.7 10.3" fill="none" stroke="#9a96b8" stroke-width="0.45" stroke-opacity="0.6"/><path d="M8.2 18.6Q8.0 18.8 8.6 17.7" fill="none" stroke="#9a96b8" stroke-width="0.45" stroke-opacity="0.6"/><path d="M13.2 4.8Q13.1 5.7 14.0 5.5" fill="none" stroke="#9a96b8" stroke-width="0.45" stroke-opacity="0.6"/><path d="M23.0 18.3Q23.1 17.4 22.3 17.0" fill="none" stroke="#9a96b8" stroke-width="0.45" stroke-opacity="0.6"/><path d="M2.4 13.6Q2.4 13.4 2.9 14.9" fill="none" stroke="#9a96b8" stroke-width="0.45" stroke-opacity="0.6"/><path d="M26.0 8.1Q25.0 7.7 25.8 5.7" fill="none" stroke="#9a96b8" stroke-width="0.45" stroke-opacity="0.6"/><path d="M23.5 15.2Q21.3 14.7 21.1 15.6" fill="none" stroke="#9a96b8" stroke-width="0.45" stroke-opacity="0.6"/><path d="M9.0 24.9Q9.6 24.9 10.7 26.5" fill="none" stroke="#9a96b8" stroke-width="0.45" stroke-opacity="0.6"/><path d="M6.6 10.2Q7.4 10.4 7.6 11.6" fill="none" stroke="#9a96b8" stroke-width="0.45" stroke-opacity="0.6"/><path d="M25.8 14.0Q25.6 12.6 26.0 12.3" fill="none" stroke="#9a96b8" stroke-width="0.45" stroke-opacity="0.6"/><path d="M3.6 8.5Q3.2 8.3 3.4 7.2" fill="none" stroke="#9a96b8" stroke-width="0.45" stroke-opacity="0.6"/><path d="M8.0 2.0Q8.2 1.9 6.8 3.0" fill="none" stroke="#9a96b8" stroke-width="0.45" stroke-opacity="0.6"/><path d="M6.1 4.5Q7.7 3.8 7.5 4.2" fill="none" stroke="#9a96b8" stroke-width="0.45" stroke-opacity="0.6"/><path d="M1.4 14.1Q2.0 15.3 2.9 15.4" fill="none" stroke="#9a96b8" stroke-width="0.45" stroke-opacity="0.6"/><path d="M0.0 20.8Q0.3 19.7 0.5 18.8" fill="none" stroke="#9a96b8" stroke-width="0.45" stroke-opacity="0.6"/><path d="M15.0 4.0Q14.7 4.0 15.2 5.8" fill="none" stroke="#9a96b8" stroke-width="0.45" stroke-opacity="0.6"/><path d="M4.6 1.6Q4.8 2.5 4.8 3.5" fill="none" stroke="#9a96b8" stroke-width="0.45" stroke-opacity="0.6"/><path d="M6.8 3.7Q6.7 2.8 5.9 1.9" fill="none" stroke="#9a96b8" stroke-width="0.45" stroke-opacity="0.6"/><path d="M16.8 0.7Q16.8 -0.8 17.3 -0.7" fill="none" stroke="#9a96b8" stroke-width="0.45" stroke-opacity="0.6"/><path d="M12.2 24.2Q12.6 25.3 13.1 24.9" fill="none" stroke="#9a96b8" stroke-width="0.45" stroke-opacity="0.6"/><path d="M11.3 7.2Q11.8 8.0 13.2 8.4" fill="none" stroke="#9a96b8" stroke-width="0.45" stroke-opacity="0.6"/><path d="M24.6 25.0Q24.3 25.0 24.5 26.5" fill="none" stroke="#9a96b8" stroke-width="0.45" stroke-opacity="0.6"/><path d="M7.9 22.2Q6.9 24.0 7.6 24.8" fill="none" stroke="#9a96b8" stroke-width="0.45" stroke-opacity="0.6"/><path d="M28.0 23.0Q28.5 22.7 28.0 21.4" fill="none" stroke="#9a96b8" stroke-width="0.45" stroke-opacity="0.6"/><path d="M14.3 29.0Q14.3 29.3 14.5 31.2" fill="none" stroke="#9a96b8" stroke-width="0.45" stroke-opacity="0.6"/><path d="M10.9 23.7Q10.5 22.7 9.1 23.4" fill="none" stroke="#9a96b8" stroke-width="0.45" stroke-opacity="0.6"/><path d="M10.3 14.0Q10.8 13.8 9.5 12.4" fill="none" stroke="#9a96b8" stroke-width="0.45" stroke-opacity="0.6"/><path d="M15.8 19.8Q16.9 19.9 17.7 19.7" fill="none" stroke="#9a96b8" stroke-width="0.45" stroke-opacity="0.6"/><path d="M11.5 12.2Q11.5 13.4 9.9 13.8" fill="none" stroke="#9a96b8" stroke-width="0.45" stroke-opacity="0.6"/><path d="M27.7 20.5Q26.1 21.5 26.4 21.9" fill="none" stroke="#9a96b8" stroke-width="0.45" stroke-opacity="0.6"/><path d="M21.8 21.0Q23.2 20.8 23.9 21.5" fill="none" stroke="#9a96b8" stroke-width="0.45" stroke-opacity="0.6"/><path d="M11.3 25.2Q9.6 24.7 9.7 25.5" fill="none" stroke="#9a96b8" stroke-width="0.45" stroke-opacity="0.6"/><path d="M6.1 6.2Q6.2 5.7 7.9 6.8" fill="none" stroke="#9a96b8" stroke-width="0.45" stroke-opacity="0.6"/><path d="M21.3 28.1Q19.4 28.6 19.1 27.9" fill="none" stroke="#9a96b8" stroke-width="0.45" stroke-opacity="0.6"/><path d="M3.8 2.2Q4.0 2.3 4.9 0.8" fill="none" stroke="#9a96b8" stroke-width="0.45" stroke-opacity="0.6"/><path d="M9.6 28.0Q11.3 27.8 11.1 26.4" fill="none" stroke="#9a96b8" stroke-width="0.45" stroke-opacity="0.6"/><path d="M5.7 15.0Q5.0 14.2 5.4 13.1" fill="none" stroke="#9a96b8" stroke-width="0.45" stroke-opacity="0.6"/><path d="M8.2 5.3Q8.6 4.2 8.8 3.7" fill="none" stroke="#9a96b8" stroke-width="0.45" stroke-opacity="0.6"/><path d="M6.5 10.4Q6.1 10.7 6.3 12.0" fill="none" stroke="#9a96b8" stroke-width="0.45" stroke-opacity="0.6"/><path d="M8.5 19.5Q8.7 19.1 7.1 18.1" fill="none" stroke="#9a96b8" stroke-width="0.45" stroke-opacity="0.6"/><path d="M3.8 11.7Q3.8 10.0 3.7 9.9" fill="none" stroke="#9a96b8" stroke-width="0.45" stroke-opacity="0.6"/><path d="M13.8 19.0Q12.2 18.4 11.7 19.7" fill="none" stroke="#9a96b8" stroke-width="0.45" stroke-opacity="0.6"/><path d="M14.6 21.7Q14.2 21.8 13.4 21.6" fill="none" stroke="#9a96b8" stroke-width="0.45" stroke-opacity="0.6"/><path d="M6.7 2.7Q7.3 3.0 6.4 3.6" fill="none" stroke="#9a96b8" stroke-width="0.45" stroke-opacity="0.6"/><path d="M28.6 23.9Q27.8 24.9 26.8 24.6" fill="none" stroke="#9a96b8" stroke-width="0.45" stroke-opacity="0.6"/><path d="M9.7 4.5Q8.6 3.4 8.0 2.7" fill="none" stroke="#9a96b8" stroke-width="0.45" stroke-opacity="0.6"/><path d="M2.9 16.5Q2.2 16.9 0.7 16.5" fill="none" stroke="#9a96b8" stroke-width="0.45" stroke-opacity="0.6"/><path d="M9.6 18.5Q8.7 17.6 9.0 16.0" fill="none" stroke="#9a96b8" stroke-width="0.45" stroke-opacity="0.6"/><circle cx="18.7" cy="22.5" r="0.51" fill="#77739c" fill-opacity="0.8"/><circle cx="26.5" cy="28.3" r="0.36" fill="#77739c" fill-opacity="0.8"/><circle cx="13.9" cy="1.3" r="0.60" fill="#77739c" fill-opacity="0.8"/><circle cx="3.1" cy="12.4" r="0.48" fill="#77739c" fill-opacity="0.8"/><circle cx="12.4" cy="5.0" r="0.45" fill="#77739c" fill-opacity="0.8"/><circle cx="6.5" cy="14.2" r="0.51" fill="#77739c" fill-opacity="0.8"/><circle cx="8.7" cy="13.0" r="0.49" fill="#77739c" fill-opacity="0.8"/><circle cx="15.4" cy="23.2" r="0.57" fill="#77739c" fill-opacity="0.8"/><circle cx="28.0" cy="4.8" r="0.44" fill="#77739c" fill-opacity="0.8"/><circle cx="3.4" cy="20.3" r="0.42" fill="#77739c" fill-opacity="0.8"/><circle cx="24.6" cy="14.0" r="0.54" fill="#77739c" fill-opacity="0.8"/><circle cx="0.9" cy="17.8" r="0.42" fill="#77739c" fill-opacity="0.8"/><circle cx="24.2" cy="3.0" r="0.33" fill="#77739c" fill-opacity="0.8"/><circle cx="19.9" cy="9.5" r="0.43" fill="#77739c" fill-opacity="0.8"/><circle cx="11.7" cy="28.6" r="0.49" fill="#77739c" fill-opacity="0.8"/><circle cx="24.1" cy="24.3" r="0.56" fill="#77739c" fill-opacity="0.8"/><circle cx="13.0" cy="8.4" r="0.45" fill="#77739c" fill-opacity="0.8"/><circle cx="25.9" cy="25.6" r="0.44" fill="#77739c" fill-opacity="0.8"/><circle cx="26.3" cy="22.1" r="0.42" fill="#a8705e" fill-opacity="0.9"/><circle cx="18.4" cy="23.0" r="0.42" fill="#a8705e" fill-opacity="0.9"/><circle cx="10.9" cy="18.7" r="0.60" fill="#a8705e" fill-opacity="0.9"/><circle cx="15.4" cy="2.6" r="0.50" fill="#a8705e" fill-opacity="0.9"/><circle cx="25.2" cy="10.1" r="0.59" fill="#a8705e" fill-opacity="0.9"/><circle cx="17.1" cy="8.2" r="0.57" fill="#a8705e" fill-opacity="0.9"/><circle cx="14.7" cy="25.2" r="0.91" fill="#f8f7fb" fill-opacity="0.8"/><circle cx="5.1" cy="14.6" r="0.85" fill="#f8f7fb" fill-opacity="0.8"/><circle cx="26.0" cy="15.4" r="0.78" fill="#f8f7fb" fill-opacity="0.8"/><circle cx="18.7" cy="19.4" r="0.94" fill="#f8f7fb" fill-opacity="0.8"/><circle cx="28.6" cy="28.7" r="0.47" fill="#f8f7fb" fill-opacity="0.8"/><circle cx="20.8" cy="11.3" r="0.57" fill="#f8f7fb" fill-opacity="0.8"/><circle cx="2.9" cy="26.4" r="0.94" fill="#f8f7fb" fill-opacity="0.8"/><circle cx="15.3" cy="14.4" r="0.52" fill="#f8f7fb" fill-opacity="0.8"/><circle cx="26.9" cy="22.0" r="0.50" fill="#f8f7fb" fill-opacity="0.8"/><circle cx="16.6" cy="28.9" r="0.56" fill="#f8f7fb" fill-opacity="0.8"/><circle cx="10.8" cy="10.5" r="0.62" fill="#f8f7fb" fill-opacity="0.8"/><circle cx="3.4" cy="18.2" r="0.55" fill="#f8f7fb" fill-opacity="0.8"/><circle cx="19.7" cy="13.6" r="0.91" fill="#f8f7fb" fill-opacity="0.8"/><circle cx="21.7" cy="24.9" r="0.49" fill="#f8f7fb" fill-opacity="0.8"/><circle cx="23.0" cy="22.5" r="0.58" fill="#f8f7fb" fill-opacity="0.8"/><circle cx="0.0" cy="2.9" r="0.86" fill="#f8f7fb" fill-opacity="0.8"/><circle cx="28.1" cy="2.0" r="0.55" fill="#f8f7fb" fill-opacity="0.8"/><circle cx="11.7" cy="2.0" r="0.78" fill="#f8f7fb" fill-opacity="0.8"/><circle cx="24.9" cy="24.4" r="0.51" fill="#f8f7fb" fill-opacity="0.8"/><circle cx="26.4" cy="22.8" r="0.49" fill="#f8f7fb" fill-opacity="0.8"/><circle cx="24.7" cy="27.0" r="0.93" fill="#f8f7fb" fill-opacity="0.8"/><circle cx="21.8" cy="23.7" r="0.72" fill="#f8f7fb" fill-opacity="0.8"/><circle cx="0.3" cy="19.7" r="0.70" fill="#f8f7fb" fill-opacity="0.8"/><circle cx="4.3" cy="3.9" r="0.93" fill="#f8f7fb" fill-opacity="0.8"/><circle cx="26.2" cy="1.5" r="0.41" fill="#f8f7fb" fill-opacity="0.8"/><circle cx="20.2" cy="8.5" r="0.92" fill="#f8f7fb" fill-opacity="0.8"/><circle cx="13.4" cy="20.7" r="0.43" fill="#f8f7fb" fill-opacity="0.8"/><circle cx="22.5" cy="5.8" r="0.66" fill="#f8f7fb" fill-opacity="0.8"/><circle cx="14.1" cy="9.4" r="0.55" fill="#f8f7fb" fill-opacity="0.8"/><circle cx="13.0" cy="1.5" r="0.49" fill="#f8f7fb" fill-opacity="0.8"/><circle cx="3.8" cy="24.8" r="0.59" fill="#f8f7fb" fill-opacity="0.8"/><circle cx="28.5" cy="26.1" r="0.50" fill="#f8f7fb" fill-opacity="0.8"/><circle cx="24.8" cy="28.6" r="0.67" fill="#f8f7fb" fill-opacity="0.8"/><circle cx="14.0" cy="19.6" r="0.69" fill="#f8f7fb" fill-opacity="0.8"/><circle cx="7.6" cy="21.2" r="0.53" fill="#f8f7fb" fill-opacity="0.8"/><circle cx="11.1" cy="0.7" r="0.59" fill="#f8f7fb" fill-opacity="0.8"/><circle cx="23.4" cy="4.0" r="0.51" fill="#f8f7fb" fill-opacity="0.8"/><circle cx="11.5" cy="8.6" r="0.40" fill="#f8f7fb" fill-opacity="0.8"/><circle cx="1.6" cy="5.8" r="0.88" fill="#f8f7fb" fill-opacity="0.8"/><circle cx="22.5" cy="23.4" r="0.82" fill="#f8f7fb" fill-opacity="0.8"/><circle cx="28.9" cy="7.5" r="0.82" fill="#f8f7fb" fill-opacity="0.8"/><circle cx="13.0" cy="27.9" r="0.67" fill="#f8f7fb" fill-opacity="0.8"/><circle cx="21.0" cy="22.5" r="0.98" fill="#f8f7fb" fill-opacity="0.8"/><circle cx="22.2" cy="9.5" r="0.79" fill="#f8f7fb" fill-opacity="0.8"/><circle cx="23.1" cy="27.2" r="0.55" fill="#f8f7fb" fill-opacity="0.8"/><circle cx="21.2" cy="20.9" r="0.49" fill="#f8f7fb" fill-opacity="0.8"/><circle cx="3.5" cy="16.3" r="0.76" fill="#f8f7fb" fill-opacity="0.8"/><circle cx="9.5" cy="17.9" r="0.49" fill="#f8f7fb" fill-opacity="0.8"/><circle cx="16.6" cy="15.5" r="0.90" fill="#f8f7fb" fill-opacity="0.8"/><circle cx="20.9" cy="2.3" r="0.73" fill="#f8f7fb" fill-opacity="0.8"/></pattern><pattern id="tki" patternUnits="userSpaceOnUse" width="30" height="30"><rect width="30" height="30" fill="#ddd3d6"/><path d="M7.8 20.6Q7.8 19.2 9.0 18.9" fill="none" stroke="#5e5466" stroke-width="0.55" stroke-opacity="0.7"/><path d="M4.4 6.8Q5.2 7.0 5.9 8.3" fill="none" stroke="#5e5466" stroke-width="0.55" stroke-opacity="0.7"/><path d="M8.8 12.9Q7.0 11.8 7.0 11.5" fill="none" stroke="#5e5466" stroke-width="0.55" stroke-opacity="0.7"/><path d="M4.4 26.1Q5.4 25.6 5.2 24.0" fill="none" stroke="#5e5466" stroke-width="0.55" stroke-opacity="0.7"/><path d="M28.5 23.8Q28.9 23.8 29.3 22.7" fill="none" stroke="#5e5466" stroke-width="0.55" stroke-opacity="0.7"/><path d="M16.9 12.9Q15.8 12.5 15.5 13.6" fill="none" stroke="#5e5466" stroke-width="0.55" stroke-opacity="0.7"/><path d="M24.6 23.9Q24.2 23.2 23.7 21.5" fill="none" stroke="#5e5466" stroke-width="0.55" stroke-opacity="0.7"/><path d="M4.0 20.3Q3.8 21.1 4.8 21.8" fill="none" stroke="#5e5466" stroke-width="0.55" stroke-opacity="0.7"/><path d="M7.6 13.8Q6.1 14.4 6.0 15.0" fill="none" stroke="#5e5466" stroke-width="0.55" stroke-opacity="0.7"/><path d="M7.1 7.1Q5.8 7.9 6.2 8.0" fill="none" stroke="#5e5466" stroke-width="0.55" stroke-opacity="0.7"/><path d="M28.6 11.7Q28.7 10.5 30.6 10.8" fill="none" stroke="#5e5466" stroke-width="0.55" stroke-opacity="0.7"/><path d="M24.2 25.1Q24.6 26.7 25.3 26.9" fill="none" stroke="#5e5466" stroke-width="0.55" stroke-opacity="0.7"/><path d="M26.6 24.1Q26.7 24.0 27.4 23.0" fill="none" stroke="#5e5466" stroke-width="0.55" stroke-opacity="0.7"/><path d="M4.1 29.1Q3.4 28.4 3.8 27.2" fill="none" stroke="#5e5466" stroke-width="0.55" stroke-opacity="0.7"/><path d="M17.4 17.7Q17.0 16.5 17.2 16.2" fill="none" stroke="#5e5466" stroke-width="0.55" stroke-opacity="0.7"/><path d="M4.9 20.5Q4.2 21.4 5.1 21.7" fill="none" stroke="#5e5466" stroke-width="0.55" stroke-opacity="0.7"/><path d="M16.7 16.3Q15.9 15.7 15.7 16.7" fill="none" stroke="#5e5466" stroke-width="0.55" stroke-opacity="0.7"/><path d="M0.1 29.9Q-0.6 30.7 -0.3 31.1" fill="none" stroke="#5e5466" stroke-width="0.55" stroke-opacity="0.7"/><path d="M2.3 14.1Q1.7 13.1 3.1 12.7" fill="none" stroke="#5e5466" stroke-width="0.55" stroke-opacity="0.7"/><path d="M14.9 29.1Q14.3 28.8 13.1 29.4" fill="none" stroke="#5e5466" stroke-width="0.55" stroke-opacity="0.7"/><path d="M1.0 15.0Q0.4 14.2 0.8 12.6" fill="none" stroke="#5e5466" stroke-width="0.55" stroke-opacity="0.7"/><path d="M25.5 7.8Q24.4 8.1 24.3 9.3" fill="none" stroke="#5e5466" stroke-width="0.55" stroke-opacity="0.7"/><path d="M6.1 10.5Q4.9 11.4 5.3 11.2" fill="none" stroke="#5e5466" stroke-width="0.55" stroke-opacity="0.7"/><path d="M18.0 0.1Q18.4 1.3 18.8 2.2" fill="none" stroke="#5e5466" stroke-width="0.55" stroke-opacity="0.7"/><path d="M10.0 8.7Q11.3 8.5 11.1 10.0" fill="none" stroke="#5e5466" stroke-width="0.55" stroke-opacity="0.7"/><path d="M24.7 6.5Q23.2 6.3 23.6 7.5" fill="none" stroke="#5e5466" stroke-width="0.55" stroke-opacity="0.7"/><path d="M10.8 13.3Q11.1 13.2 13.2 13.1" fill="none" stroke="#5e5466" stroke-width="0.55" stroke-opacity="0.7"/><path d="M3.9 24.1Q4.6 22.9 5.1 23.2" fill="none" stroke="#5e5466" stroke-width="0.55" stroke-opacity="0.7"/><path d="M0.1 7.4Q0.8 8.2 1.6 9.4" fill="none" stroke="#5e5466" stroke-width="0.55" stroke-opacity="0.7"/><path d="M10.3 24.1Q10.5 24.3 10.1 22.7" fill="none" stroke="#5e5466" stroke-width="0.55" stroke-opacity="0.7"/><path d="M15.6 27.6Q15.1 27.9 14.1 26.9" fill="none" stroke="#5e5466" stroke-width="0.55" stroke-opacity="0.7"/><path d="M26.9 3.5Q27.0 3.4 25.7 3.2" fill="none" stroke="#5e5466" stroke-width="0.55" stroke-opacity="0.7"/><path d="M9.0 28.9Q8.7 28.3 10.2 29.6" fill="none" stroke="#5e5466" stroke-width="0.55" stroke-opacity="0.7"/><path d="M21.8 3.2Q23.5 3.0 23.2 1.6" fill="none" stroke="#5e5466" stroke-width="0.55" stroke-opacity="0.7"/><path d="M12.7 18.7Q12.1 18.0 12.2 16.4" fill="none" stroke="#5e5466" stroke-width="0.55" stroke-opacity="0.7"/><path d="M3.3 9.3Q1.5 10.1 0.7 9.7" fill="none" stroke="#5e5466" stroke-width="0.55" stroke-opacity="0.7"/><path d="M13.5 0.1Q13.1 1.5 13.4 1.2" fill="none" stroke="#5e5466" stroke-width="0.55" stroke-opacity="0.7"/><path d="M7.4 25.5Q7.4 26.6 5.4 26.7" fill="none" stroke="#5e5466" stroke-width="0.55" stroke-opacity="0.7"/><path d="M14.5 7.8Q15.3 6.7 15.9 6.8" fill="none" stroke="#5e5466" stroke-width="0.55" stroke-opacity="0.7"/><path d="M11.3 14.3Q9.8 14.6 10.1 13.7" fill="none" stroke="#5e5466" stroke-width="0.55" stroke-opacity="0.7"/><path d="M5.4 3.1Q5.8 4.0 4.7 4.9" fill="none" stroke="#5e5466" stroke-width="0.55" stroke-opacity="0.7"/><path d="M15.6 25.0Q15.9 24.2 15.6 23.7" fill="none" stroke="#5e5466" stroke-width="0.55" stroke-opacity="0.7"/><path d="M28.8 0.7Q30.2 0.9 30.3 2.5" fill="none" stroke="#5e5466" stroke-width="0.55" stroke-opacity="0.7"/><path d="M1.6 15.0Q1.5 16.5 1.5 17.5" fill="none" stroke="#5e5466" stroke-width="0.55" stroke-opacity="0.7"/><path d="M7.3 15.9Q7.3 15.7 6.3 16.2" fill="none" stroke="#5e5466" stroke-width="0.55" stroke-opacity="0.7"/><path d="M6.6 1.5Q6.5 2.5 4.7 2.5" fill="none" stroke="#5e5466" stroke-width="0.55" stroke-opacity="0.7"/><path d="M3.0 27.4Q4.2 26.7 4.0 25.2" fill="none" stroke="#5e5466" stroke-width="0.55" stroke-opacity="0.7"/><path d="M21.6 20.0Q20.8 21.4 21.5 22.0" fill="none" stroke="#5e5466" stroke-width="0.55" stroke-opacity="0.7"/><path d="M17.9 1.7Q17.1 1.6 16.3 0.4" fill="none" stroke="#5e5466" stroke-width="0.55" stroke-opacity="0.7"/><path d="M26.3 11.4Q25.3 11.3 24.0 11.4" fill="none" stroke="#5e5466" stroke-width="0.55" stroke-opacity="0.7"/><path d="M28.0 13.3Q27.7 15.2 26.7 15.5" fill="none" stroke="#5e5466" stroke-width="0.55" stroke-opacity="0.7"/><path d="M20.5 11.3Q19.8 12.0 19.4 11.4" fill="none" stroke="#5e5466" stroke-width="0.55" stroke-opacity="0.7"/><path d="M23.5 29.6Q22.9 30.5 22.1 30.5" fill="none" stroke="#5e5466" stroke-width="0.55" stroke-opacity="0.7"/><path d="M2.4 6.5Q1.7 8.0 1.8 7.6" fill="none" stroke="#5e5466" stroke-width="0.55" stroke-opacity="0.7"/><path d="M6.2 28.0Q7.4 27.9 6.7 29.4" fill="none" stroke="#5e5466" stroke-width="0.55" stroke-opacity="0.7"/><path d="M3.4 3.9Q2.4 3.5 2.5 4.6" fill="none" stroke="#5e5466" stroke-width="0.55" stroke-opacity="0.7"/><path d="M0.5 20.9Q0.7 22.2 0.6 22.0" fill="none" stroke="#5e5466" stroke-width="0.55" stroke-opacity="0.7"/><path d="M19.8 21.3Q20.8 19.6 20.4 19.2" fill="none" stroke="#5e5466" stroke-width="0.55" stroke-opacity="0.7"/><path d="M1.6 18.6Q1.3 17.9 -0.2 18.4" fill="none" stroke="#5e5466" stroke-width="0.55" stroke-opacity="0.7"/><path d="M21.2 12.8Q20.8 13.8 21.2 14.5" fill="none" stroke="#5e5466" stroke-width="0.55" stroke-opacity="0.7"/><path d="M16.6 27.2Q15.7 26.8 16.3 25.8" fill="none" stroke="#5e5466" stroke-width="0.55" stroke-opacity="0.7"/><path d="M4.8 25.7Q5.4 26.4 4.8 28.3" fill="none" stroke="#5e5466" stroke-width="0.55" stroke-opacity="0.7"/><path d="M9.2 3.1Q10.2 3.8 10.5 4.1" fill="none" stroke="#5e5466" stroke-width="0.55" stroke-opacity="0.7"/><path d="M12.6 21.3Q12.0 20.9 11.9 22.5" fill="none" stroke="#5e5466" stroke-width="0.55" stroke-opacity="0.7"/><path d="M26.6 2.6Q27.4 2.0 27.0 1.5" fill="none" stroke="#5e5466" stroke-width="0.55" stroke-opacity="0.7"/><path d="M12.6 4.2Q11.6 3.4 11.6 4.0" fill="none" stroke="#5e5466" stroke-width="0.55" stroke-opacity="0.7"/><path d="M27.2 0.6Q27.7 -1.0 27.2 -1.0" fill="none" stroke="#5e5466" stroke-width="0.55" stroke-opacity="0.7"/><path d="M22.3 16.9Q23.8 16.8 24.1 16.2" fill="none" stroke="#5e5466" stroke-width="0.55" stroke-opacity="0.7"/><path d="M23.1 14.8Q23.7 13.6 23.9 13.0" fill="none" stroke="#5e5466" stroke-width="0.55" stroke-opacity="0.7"/><path d="M0.6 23.7Q-0.5 24.1 -0.8 24.4" fill="none" stroke="#5e5466" stroke-width="0.55" stroke-opacity="0.7"/><path d="M12.0 25.0Q11.7 24.6 10.2 24.3" fill="none" stroke="#5e5466" stroke-width="0.55" stroke-opacity="0.7"/><path d="M16.1 22.5Q16.8 21.5 16.0 20.4" fill="none" stroke="#5e5466" stroke-width="0.55" stroke-opacity="0.7"/><path d="M16.7 5.7Q16.0 6.7 15.4 6.2" fill="none" stroke="#5e5466" stroke-width="0.55" stroke-opacity="0.7"/><path d="M1.3 10.5Q0.9 10.1 -0.8 11.0" fill="none" stroke="#5e5466" stroke-width="0.55" stroke-opacity="0.7"/><path d="M23.1 12.9Q23.8 13.9 24.9 13.6" fill="none" stroke="#5e5466" stroke-width="0.55" stroke-opacity="0.7"/><path d="M22.1 16.9Q23.3 17.0 23.7 17.3" fill="none" stroke="#5e5466" stroke-width="0.55" stroke-opacity="0.7"/><path d="M21.7 18.4Q21.6 18.7 22.9 17.2" fill="none" stroke="#5e5466" stroke-width="0.55" stroke-opacity="0.7"/><path d="M2.6 29.1Q2.5 29.4 0.7 29.7" fill="none" stroke="#5e5466" stroke-width="0.55" stroke-opacity="0.7"/><path d="M15.3 1.8Q14.0 0.2 13.8 0.1" fill="none" stroke="#5e5466" stroke-width="0.55" stroke-opacity="0.7"/><path d="M12.6 28.1Q10.5 29.0 10.3 28.6" fill="none" stroke="#5e5466" stroke-width="0.55" stroke-opacity="0.7"/><path d="M6.1 21.9Q6.2 22.3 7.8 21.5" fill="none" stroke="#5e5466" stroke-width="0.55" stroke-opacity="0.7"/><path d="M21.6 0.5Q21.7 2.4 21.1 2.3" fill="none" stroke="#5e5466" stroke-width="0.55" stroke-opacity="0.7"/><path d="M20.0 14.8Q19.9 15.0 20.0 16.8" fill="none" stroke="#5e5466" stroke-width="0.55" stroke-opacity="0.7"/><path d="M21.6 2.0Q22.1 1.9 22.4 3.6" fill="none" stroke="#5e5466" stroke-width="0.55" stroke-opacity="0.7"/><path d="M0.8 18.7Q2.0 19.0 2.5 17.4" fill="none" stroke="#5e5466" stroke-width="0.55" stroke-opacity="0.7"/><path d="M4.3 18.9Q4.0 19.2 5.2 20.7" fill="none" stroke="#5e5466" stroke-width="0.55" stroke-opacity="0.7"/><path d="M15.7 23.6Q13.9 23.6 13.8 22.7" fill="none" stroke="#5e5466" stroke-width="0.55" stroke-opacity="0.7"/><path d="M15.4 5.1Q15.0 6.0 15.4 7.1" fill="none" stroke="#5e5466" stroke-width="0.55" stroke-opacity="0.7"/><path d="M22.5 3.2Q23.0 4.7 22.7 4.9" fill="none" stroke="#5e5466" stroke-width="0.55" stroke-opacity="0.7"/><path d="M7.9 21.6Q7.7 22.5 8.3 23.3" fill="none" stroke="#5e5466" stroke-width="0.55" stroke-opacity="0.7"/><path d="M24.2 18.1Q24.5 17.4 24.4 17.1" fill="none" stroke="#5e5466" stroke-width="0.55" stroke-opacity="0.7"/><path d="M7.2 13.2Q6.4 15.0 7.0 15.3" fill="none" stroke="#5e5466" stroke-width="0.55" stroke-opacity="0.7"/><path d="M13.3 2.1Q13.9 3.1 15.1 3.7" fill="none" stroke="#5e5466" stroke-width="0.55" stroke-opacity="0.7"/><path d="M19.9 27.0Q20.1 26.6 18.8 26.4" fill="none" stroke="#5e5466" stroke-width="0.55" stroke-opacity="0.7"/><path d="M21.4 14.0Q22.2 14.2 23.5 13.4" fill="none" stroke="#5e5466" stroke-width="0.55" stroke-opacity="0.7"/><path d="M10.3 26.6Q11.8 26.0 11.7 24.9" fill="none" stroke="#5e5466" stroke-width="0.55" stroke-opacity="0.7"/><path d="M28.5 4.7Q29.5 5.5 30.2 5.5" fill="none" stroke="#5e5466" stroke-width="0.55" stroke-opacity="0.7"/><path d="M8.6 24.4Q8.2 25.3 9.1 25.9" fill="none" stroke="#5e5466" stroke-width="0.55" stroke-opacity="0.7"/><path d="M11.5 1.4Q12.2 1.7 13.0 1.2" fill="none" stroke="#5e5466" stroke-width="0.55" stroke-opacity="0.7"/><path d="M12.8 2.1Q12.3 3.3 13.3 4.1" fill="none" stroke="#5e5466" stroke-width="0.55" stroke-opacity="0.7"/><path d="M20.3 0.3Q20.8 0.1 22.8 0.6" fill="none" stroke="#5e5466" stroke-width="0.55" stroke-opacity="0.7"/><path d="M23.9 22.3Q23.8 22.0 21.9 23.2" fill="none" stroke="#5e5466" stroke-width="0.55" stroke-opacity="0.7"/><path d="M28.8 1.5Q29.4 1.2 28.8 0.3" fill="none" stroke="#5e5466" stroke-width="0.55" stroke-opacity="0.7"/><path d="M7.5 26.0Q6.9 27.9 8.0 27.8" fill="none" stroke="#5e5466" stroke-width="0.55" stroke-opacity="0.7"/><path d="M1.7 6.6Q3.0 6.8 2.9 5.6" fill="none" stroke="#5e5466" stroke-width="0.55" stroke-opacity="0.7"/><path d="M18.9 0.3Q20.2 2.3 19.7 2.4" fill="none" stroke="#5e5466" stroke-width="0.55" stroke-opacity="0.7"/><path d="M2.0 21.9Q3.3 22.2 3.1 22.8" fill="none" stroke="#5e5466" stroke-width="0.55" stroke-opacity="0.7"/><path d="M8.8 16.8Q8.6 17.8 7.9 17.3" fill="none" stroke="#5e5466" stroke-width="0.55" stroke-opacity="0.7"/><path d="M3.7 26.8Q3.5 26.7 4.0 27.9" fill="none" stroke="#5e5466" stroke-width="0.55" stroke-opacity="0.7"/><path d="M2.7 19.7Q3.1 19.7 3.3 21.2" fill="none" stroke="#5e5466" stroke-width="0.55" stroke-opacity="0.7"/><path d="M20.4 28.9Q19.5 29.1 18.9 29.8" fill="none" stroke="#5e5466" stroke-width="0.55" stroke-opacity="0.7"/><path d="M12.4 5.4Q12.1 3.8 11.9 4.0" fill="none" stroke="#5e5466" stroke-width="0.55" stroke-opacity="0.7"/><path d="M4.4 25.2Q5.0 24.8 5.1 23.9" fill="none" stroke="#5e5466" stroke-width="0.55" stroke-opacity="0.7"/><path d="M10.7 17.4Q10.7 16.5 9.0 17.2" fill="none" stroke="#5e5466" stroke-width="0.55" stroke-opacity="0.7"/><path d="M6.4 27.1Q7.6 25.2 7.4 24.8" fill="none" stroke="#5e5466" stroke-width="0.55" stroke-opacity="0.7"/><path d="M21.6 3.7Q20.6 4.5 19.7 5.2" fill="none" stroke="#5e5466" stroke-width="0.55" stroke-opacity="0.7"/><path d="M6.2 17.0Q4.9 17.1 3.9 17.7" fill="none" stroke="#5e5466" stroke-width="0.55" stroke-opacity="0.7"/><path d="M5.7 8.5Q6.6 7.9 8.0 8.0" fill="none" stroke="#5e5466" stroke-width="0.55" stroke-opacity="0.7"/><path d="M10.1 25.9Q10.0 25.7 10.7 27.2" fill="none" stroke="#5e5466" stroke-width="0.55" stroke-opacity="0.7"/><path d="M4.4 7.0Q4.8 6.1 6.3 6.1" fill="none" stroke="#5e5466" stroke-width="0.55" stroke-opacity="0.7"/><path d="M17.6 0.9Q17.0 0.3 16.6 0.4" fill="none" stroke="#5e5466" stroke-width="0.55" stroke-opacity="0.7"/><path d="M12.5 0.6Q12.2 0.4 13.1 1.9" fill="none" stroke="#5e5466" stroke-width="0.55" stroke-opacity="0.7"/><path d="M24.5 0.5Q24.3 1.7 25.3 2.0" fill="none" stroke="#5e5466" stroke-width="0.55" stroke-opacity="0.7"/><path d="M28.8 29.0Q28.0 27.9 27.4 28.6" fill="none" stroke="#5e5466" stroke-width="0.55" stroke-opacity="0.7"/><path d="M12.7 18.3Q12.8 17.1 13.0 16.7" fill="none" stroke="#5e5466" stroke-width="0.55" stroke-opacity="0.7"/><path d="M26.9 17.1Q27.4 16.9 28.0 16.3" fill="none" stroke="#5e5466" stroke-width="0.55" stroke-opacity="0.7"/><path d="M14.1 25.8Q12.8 26.7 12.0 26.5" fill="none" stroke="#5e5466" stroke-width="0.55" stroke-opacity="0.7"/><path d="M25.1 18.1Q23.8 17.5 22.8 17.7" fill="none" stroke="#5e5466" stroke-width="0.55" stroke-opacity="0.7"/><path d="M8.1 4.6Q6.1 3.6 5.7 3.8" fill="none" stroke="#5e5466" stroke-width="0.55" stroke-opacity="0.7"/><path d="M12.7 24.2Q12.4 22.9 12.9 21.8" fill="none" stroke="#5e5466" stroke-width="0.55" stroke-opacity="0.7"/><path d="M28.4 11.6Q29.4 12.0 30.4 12.3" fill="none" stroke="#5e5466" stroke-width="0.55" stroke-opacity="0.7"/><path d="M27.3 28.8Q27.5 30.6 26.2 30.7" fill="none" stroke="#5e5466" stroke-width="0.55" stroke-opacity="0.7"/><path d="M2.3 12.7Q1.4 14.2 1.6 14.5" fill="none" stroke="#5e5466" stroke-width="0.55" stroke-opacity="0.7"/><path d="M6.3 16.6Q6.7 15.7 5.3 16.9" fill="none" stroke="#5e5466" stroke-width="0.55" stroke-opacity="0.7"/><path d="M3.2 27.0Q1.6 26.6 0.8 26.9" fill="none" stroke="#5e5466" stroke-width="0.55" stroke-opacity="0.7"/><path d="M22.0 17.4Q20.9 16.4 21.4 15.8" fill="none" stroke="#5e5466" stroke-width="0.55" stroke-opacity="0.7"/><path d="M26.3 27.4Q27.3 26.5 26.7 25.6" fill="none" stroke="#5e5466" stroke-width="0.55" stroke-opacity="0.7"/><path d="M4.3 3.1Q3.8 3.1 3.2 4.9" fill="none" stroke="#5e5466" stroke-width="0.55" stroke-opacity="0.7"/><path d="M28.4 8.3Q27.4 7.1 27.0 6.9" fill="none" stroke="#5e5466" stroke-width="0.55" stroke-opacity="0.7"/><path d="M16.9 9.8Q16.2 11.1 17.4 10.8" fill="none" stroke="#5e5466" stroke-width="0.55" stroke-opacity="0.7"/><circle cx="6.1" cy="27.6" r="0.73" fill="#553236" fill-opacity="0.85"/><circle cx="28.7" cy="14.1" r="0.56" fill="#553236" fill-opacity="0.85"/><circle cx="2.5" cy="18.6" r="0.76" fill="#553236" fill-opacity="0.85"/><circle cx="20.4" cy="27.3" r="0.49" fill="#553236" fill-opacity="0.85"/><circle cx="19.4" cy="21.1" r="0.87" fill="#553236" fill-opacity="0.85"/><circle cx="7.5" cy="27.9" r="0.46" fill="#553236" fill-opacity="0.85"/><circle cx="17.7" cy="9.8" r="0.68" fill="#553236" fill-opacity="0.85"/><circle cx="5.2" cy="11.5" r="0.61" fill="#553236" fill-opacity="0.85"/><circle cx="13.9" cy="12.2" r="0.55" fill="#553236" fill-opacity="0.85"/><circle cx="5.1" cy="14.0" r="0.90" fill="#553236" fill-opacity="0.85"/><circle cx="25.5" cy="4.5" r="0.74" fill="#553236" fill-opacity="0.85"/><circle cx="4.4" cy="9.8" r="0.90" fill="#553236" fill-opacity="0.85"/><circle cx="10.2" cy="3.1" r="0.70" fill="#553236" fill-opacity="0.85"/><circle cx="17.6" cy="15.3" r="0.88" fill="#553236" fill-opacity="0.85"/><circle cx="15.4" cy="10.9" r="0.54" fill="#553236" fill-opacity="0.85"/><circle cx="17.4" cy="22.3" r="0.68" fill="#553236" fill-opacity="0.85"/><circle cx="11.7" cy="7.5" r="0.83" fill="#553236" fill-opacity="0.85"/><circle cx="29.8" cy="17.6" r="0.77" fill="#553236" fill-opacity="0.85"/><circle cx="9.7" cy="4.7" r="0.48" fill="#553236" fill-opacity="0.85"/><circle cx="18.5" cy="27.5" r="0.76" fill="#553236" fill-opacity="0.85"/><circle cx="20.2" cy="25.8" r="0.64" fill="#553236" fill-opacity="0.85"/><circle cx="12.9" cy="7.8" r="0.82" fill="#553236" fill-opacity="0.85"/><circle cx="20.7" cy="15.7" r="0.80" fill="#553236" fill-opacity="0.85"/><circle cx="27.4" cy="1.4" r="0.55" fill="#553236" fill-opacity="0.85"/><circle cx="14.0" cy="21.4" r="0.56" fill="#553236" fill-opacity="0.85"/><circle cx="13.3" cy="19.9" r="0.58" fill="#553236" fill-opacity="0.85"/><circle cx="20.1" cy="1.8" r="0.64" fill="#553236" fill-opacity="0.85"/><circle cx="19.2" cy="25.9" r="0.68" fill="#553236" fill-opacity="0.85"/><circle cx="19.9" cy="19.9" r="0.74" fill="#553236" fill-opacity="0.85"/><circle cx="13.5" cy="9.5" r="0.51" fill="#553236" fill-opacity="0.85"/><circle cx="26.6" cy="23.3" r="0.74" fill="#553236" fill-opacity="0.85"/><circle cx="22.6" cy="9.4" r="0.53" fill="#553236" fill-opacity="0.85"/><circle cx="16.0" cy="14.0" r="0.74" fill="#553236" fill-opacity="0.85"/><circle cx="26.2" cy="11.8" r="0.62" fill="#553236" fill-opacity="0.85"/><circle cx="21.1" cy="26.5" r="0.70" fill="#553236" fill-opacity="0.85"/><circle cx="17.8" cy="26.8" r="0.86" fill="#553236" fill-opacity="0.85"/><circle cx="1.3" cy="29.2" r="0.49" fill="#553236" fill-opacity="0.85"/><circle cx="16.5" cy="15.0" r="0.89" fill="#553236" fill-opacity="0.85"/><circle cx="7.0" cy="1.3" r="0.88" fill="#553236" fill-opacity="0.85"/><circle cx="13.7" cy="13.7" r="0.64" fill="#553236" fill-opacity="0.85"/><circle cx="8.3" cy="0.9" r="0.70" fill="#553236" fill-opacity="0.85"/><circle cx="6.5" cy="15.0" r="0.90" fill="#553236" fill-opacity="0.85"/><circle cx="29.5" cy="9.2" r="0.60" fill="#553236" fill-opacity="0.85"/><circle cx="3.7" cy="18.2" r="0.53" fill="#553236" fill-opacity="0.85"/><circle cx="3.8" cy="27.5" r="0.70" fill="#553236" fill-opacity="0.85"/><circle cx="26.7" cy="6.4" r="0.53" fill="#553236" fill-opacity="0.85"/><circle cx="17.3" cy="20.7" r="0.53" fill="#553236" fill-opacity="0.85"/><circle cx="15.1" cy="16.9" r="0.67" fill="#553236" fill-opacity="0.85"/><circle cx="9.4" cy="13.4" r="0.50" fill="#553236" fill-opacity="0.85"/><circle cx="3.0" cy="1.8" r="0.83" fill="#553236" fill-opacity="0.85"/><circle cx="7.5" cy="20.2" r="0.50" fill="#553236" fill-opacity="0.85"/><circle cx="26.5" cy="0.9" r="0.81" fill="#553236" fill-opacity="0.85"/><circle cx="15.9" cy="27.2" r="0.85" fill="#553236" fill-opacity="0.85"/><circle cx="0.4" cy="1.5" r="0.56" fill="#553236" fill-opacity="0.85"/><circle cx="1.3" cy="26.0" r="0.51" fill="#553236" fill-opacity="0.85"/><circle cx="20.3" cy="28.4" r="0.77" fill="#553236" fill-opacity="0.85"/><circle cx="29.9" cy="19.4" r="0.62" fill="#553236" fill-opacity="0.85"/><circle cx="29.2" cy="6.5" r="0.70" fill="#553236" fill-opacity="0.85"/><circle cx="12.4" cy="16.4" r="0.58" fill="#553236" fill-opacity="0.85"/><circle cx="28.8" cy="29.7" r="0.76" fill="#553236" fill-opacity="0.85"/><circle cx="14.9" cy="28.5" r="0.88" fill="#553236" fill-opacity="0.85"/><circle cx="1.5" cy="26.6" r="0.50" fill="#553236" fill-opacity="0.85"/><circle cx="2.8" cy="7.6" r="0.62" fill="#553236" fill-opacity="0.85"/><circle cx="14.5" cy="28.6" r="0.52" fill="#553236" fill-opacity="0.85"/><circle cx="19.4" cy="15.1" r="0.51" fill="#553236" fill-opacity="0.85"/><circle cx="29.9" cy="27.5" r="0.61" fill="#553236" fill-opacity="0.85"/><circle cx="26.1" cy="13.5" r="0.75" fill="#553236" fill-opacity="0.85"/><circle cx="27.8" cy="19.2" r="0.61" fill="#553236" fill-opacity="0.85"/><circle cx="1.6" cy="14.0" r="0.71" fill="#553236" fill-opacity="0.85"/><circle cx="8.2" cy="17.3" r="0.46" fill="#553236" fill-opacity="0.85"/><circle cx="7.6" cy="14.4" r="0.67" fill="#553236" fill-opacity="0.85"/><circle cx="21.2" cy="6.9" r="0.58" fill="#553236" fill-opacity="0.85"/><circle cx="22.0" cy="8.5" r="0.52" fill="#553236" fill-opacity="0.85"/><circle cx="18.7" cy="10.5" r="0.72" fill="#553236" fill-opacity="0.85"/><circle cx="29.1" cy="29.1" r="0.81" fill="#553236" fill-opacity="0.85"/><circle cx="29.2" cy="23.8" r="0.61" fill="#553236" fill-opacity="0.85"/><circle cx="28.0" cy="3.8" r="0.54" fill="#553236" fill-opacity="0.85"/><circle cx="15.2" cy="3.7" r="0.72" fill="#553236" fill-opacity="0.85"/><circle cx="16.4" cy="6.3" r="0.78" fill="#553236" fill-opacity="0.85"/><circle cx="2.5" cy="14.7" r="0.57" fill="#553236" fill-opacity="0.85"/><circle cx="28.1" cy="4.3" r="0.59" fill="#8a6664" fill-opacity="0.7"/><circle cx="21.4" cy="9.1" r="0.81" fill="#8a6664" fill-opacity="0.7"/><circle cx="3.4" cy="2.3" r="0.41" fill="#8a6664" fill-opacity="0.7"/><circle cx="16.7" cy="14.4" r="0.67" fill="#8a6664" fill-opacity="0.7"/><circle cx="14.2" cy="26.3" r="0.51" fill="#8a6664" fill-opacity="0.7"/><circle cx="4.4" cy="7.4" r="0.82" fill="#8a6664" fill-opacity="0.7"/><circle cx="24.3" cy="3.4" r="0.40" fill="#8a6664" fill-opacity="0.7"/><circle cx="29.7" cy="29.1" r="0.54" fill="#8a6664" fill-opacity="0.7"/><circle cx="16.0" cy="1.4" r="0.65" fill="#8a6664" fill-opacity="0.7"/><circle cx="5.2" cy="20.5" r="0.48" fill="#8a6664" fill-opacity="0.7"/><circle cx="16.9" cy="9.9" r="0.64" fill="#8a6664" fill-opacity="0.7"/><circle cx="28.5" cy="15.7" r="0.89" fill="#8a6664" fill-opacity="0.7"/><circle cx="21.6" cy="6.8" r="0.53" fill="#8a6664" fill-opacity="0.7"/><circle cx="24.5" cy="23.3" r="0.47" fill="#8a6664" fill-opacity="0.7"/><circle cx="24.3" cy="8.9" r="0.68" fill="#8a6664" fill-opacity="0.7"/><circle cx="26.8" cy="27.5" r="0.49" fill="#8a6664" fill-opacity="0.7"/><circle cx="4.3" cy="8.0" r="0.70" fill="#8a6664" fill-opacity="0.7"/><circle cx="29.0" cy="19.6" r="0.78" fill="#8a6664" fill-opacity="0.7"/><circle cx="24.7" cy="14.3" r="0.59" fill="#8a6664" fill-opacity="0.7"/><circle cx="23.9" cy="18.6" r="0.84" fill="#8a6664" fill-opacity="0.7"/><circle cx="29.9" cy="14.0" r="0.57" fill="#8a6664" fill-opacity="0.7"/><circle cx="3.9" cy="17.5" r="0.56" fill="#8a6664" fill-opacity="0.7"/><circle cx="9.5" cy="15.2" r="0.76" fill="#8a6664" fill-opacity="0.7"/><circle cx="20.4" cy="13.8" r="0.73" fill="#8a6664" fill-opacity="0.7"/><circle cx="18.8" cy="27.4" r="0.74" fill="#8a6664" fill-opacity="0.7"/><circle cx="25.5" cy="7.2" r="0.83" fill="#8a6664" fill-opacity="0.7"/><circle cx="0.2" cy="24.4" r="0.41" fill="#8a6664" fill-opacity="0.7"/><circle cx="18.3" cy="8.2" r="0.48" fill="#8a6664" fill-opacity="0.7"/><circle cx="22.3" cy="4.1" r="0.74" fill="#8a6664" fill-opacity="0.7"/><circle cx="2.5" cy="6.2" r="0.60" fill="#8a6664" fill-opacity="0.7"/><circle cx="17.1" cy="19.8" r="0.58" fill="#8a6664" fill-opacity="0.7"/><circle cx="26.0" cy="0.9" r="0.50" fill="#8a6664" fill-opacity="0.7"/><circle cx="11.8" cy="18.4" r="0.73" fill="#8a6664" fill-opacity="0.7"/><circle cx="26.6" cy="10.5" r="0.72" fill="#8a6664" fill-opacity="0.7"/><circle cx="20.7" cy="4.8" r="0.58" fill="#8a6664" fill-opacity="0.7"/><circle cx="13.3" cy="18.0" r="0.66" fill="#8a6664" fill-opacity="0.7"/><circle cx="4.2" cy="6.1" r="0.56" fill="#8a6664" fill-opacity="0.7"/><circle cx="2.6" cy="23.1" r="0.85" fill="#8a6664" fill-opacity="0.7"/><circle cx="22.0" cy="6.6" r="0.69" fill="#8a6664" fill-opacity="0.7"/><circle cx="1.0" cy="6.3" r="0.53" fill="#8a6664" fill-opacity="0.7"/><circle cx="17.9" cy="17.5" r="0.67" fill="#8a6664" fill-opacity="0.7"/><circle cx="4.8" cy="15.1" r="0.77" fill="#8a6664" fill-opacity="0.7"/><circle cx="26.2" cy="11.1" r="0.62" fill="#8a6664" fill-opacity="0.7"/><circle cx="26.1" cy="1.4" r="0.70" fill="#8a6664" fill-opacity="0.7"/><circle cx="3.1" cy="24.1" r="0.74" fill="#8a6664" fill-opacity="0.7"/><circle cx="2.1" cy="1.3" r="1.06" fill="#faf7f8" fill-opacity="0.85"/><circle cx="9.2" cy="17.4" r="0.81" fill="#faf7f8" fill-opacity="0.85"/><circle cx="11.5" cy="3.0" r="0.91" fill="#faf7f8" fill-opacity="0.85"/><circle cx="10.0" cy="12.8" r="0.96" fill="#faf7f8" fill-opacity="0.85"/><circle cx="28.1" cy="8.6" r="0.63" fill="#faf7f8" fill-opacity="0.85"/><circle cx="23.3" cy="13.5" r="1.03" fill="#faf7f8" fill-opacity="0.85"/><circle cx="11.2" cy="1.6" r="0.60" fill="#faf7f8" fill-opacity="0.85"/><circle cx="27.0" cy="17.4" r="1.08" fill="#faf7f8" fill-opacity="0.85"/><circle cx="24.7" cy="20.4" r="0.53" fill="#faf7f8" fill-opacity="0.85"/><circle cx="12.5" cy="0.6" r="0.63" fill="#faf7f8" fill-opacity="0.85"/><circle cx="6.6" cy="28.1" r="0.51" fill="#faf7f8" fill-opacity="0.85"/><circle cx="10.4" cy="0.7" r="0.51" fill="#faf7f8" fill-opacity="0.85"/><circle cx="20.9" cy="12.1" r="0.75" fill="#faf7f8" fill-opacity="0.85"/><circle cx="24.6" cy="20.9" r="0.55" fill="#faf7f8" fill-opacity="0.85"/><circle cx="22.4" cy="20.5" r="0.81" fill="#faf7f8" fill-opacity="0.85"/><circle cx="15.0" cy="27.5" r="0.82" fill="#faf7f8" fill-opacity="0.85"/><circle cx="1.8" cy="25.2" r="0.86" fill="#faf7f8" fill-opacity="0.85"/><circle cx="8.0" cy="23.2" r="1.05" fill="#faf7f8" fill-opacity="0.85"/><circle cx="22.0" cy="14.3" r="0.98" fill="#faf7f8" fill-opacity="0.85"/><circle cx="2.4" cy="1.6" r="0.68" fill="#faf7f8" fill-opacity="0.85"/><circle cx="15.6" cy="19.3" r="0.86" fill="#faf7f8" fill-opacity="0.85"/><circle cx="15.5" cy="11.2" r="0.91" fill="#faf7f8" fill-opacity="0.85"/><circle cx="16.7" cy="6.2" r="0.80" fill="#faf7f8" fill-opacity="0.85"/><circle cx="13.8" cy="23.8" r="0.89" fill="#faf7f8" fill-opacity="0.85"/><circle cx="29.6" cy="22.9" r="0.76" fill="#faf7f8" fill-opacity="0.85"/><circle cx="20.1" cy="8.8" r="0.79" fill="#faf7f8" fill-opacity="0.85"/><circle cx="29.7" cy="3.6" r="0.70" fill="#faf7f8" fill-opacity="0.85"/><circle cx="12.9" cy="21.4" r="0.53" fill="#faf7f8" fill-opacity="0.85"/><circle cx="20.5" cy="3.4" r="1.07" fill="#faf7f8" fill-opacity="0.85"/><circle cx="2.4" cy="19.4" r="0.92" fill="#faf7f8" fill-opacity="0.85"/><circle cx="16.6" cy="8.1" r="0.65" fill="#faf7f8" fill-opacity="0.85"/><circle cx="26.8" cy="13.8" r="0.79" fill="#faf7f8" fill-opacity="0.85"/><circle cx="28.7" cy="14.5" r="0.97" fill="#faf7f8" fill-opacity="0.85"/><circle cx="18.0" cy="24.9" r="0.84" fill="#faf7f8" fill-opacity="0.85"/><circle cx="4.0" cy="6.8" r="0.59" fill="#faf7f8" fill-opacity="0.85"/><circle cx="6.6" cy="17.7" r="0.69" fill="#faf7f8" fill-opacity="0.85"/><circle cx="11.0" cy="0.6" r="1.09" fill="#faf7f8" fill-opacity="0.85"/><circle cx="14.6" cy="6.3" r="0.86" fill="#faf7f8" fill-opacity="0.85"/><circle cx="2.7" cy="4.4" r="1.06" fill="#faf7f8" fill-opacity="0.85"/><circle cx="20.0" cy="10.8" r="0.49" fill="#faf7f8" fill-opacity="0.85"/><circle cx="21.8" cy="7.2" r="0.63" fill="#faf7f8" fill-opacity="0.85"/><circle cx="8.4" cy="18.9" r="0.57" fill="#faf7f8" fill-opacity="0.85"/><circle cx="1.6" cy="25.5" r="0.77" fill="#faf7f8" fill-opacity="0.85"/><circle cx="3.8" cy="1.9" r="1.04" fill="#faf7f8" fill-opacity="0.85"/><circle cx="15.3" cy="16.5" r="1.03" fill="#faf7f8" fill-opacity="0.85"/></pattern><pattern id="tkil" patternUnits="userSpaceOnUse" width="32" height="32"><rect width="32" height="32" fill="#e6e0e4"/><path d="M3.4 22.5Q3.9 21.6 5.3 21.7" fill="none" stroke="#6e6684" stroke-width="0.5" stroke-opacity="0.65"/><path d="M23.5 21.1Q23.0 20.9 22.9 19.7" fill="none" stroke="#6e6684" stroke-width="0.5" stroke-opacity="0.65"/><path d="M3.8 7.1Q2.5 8.7 2.3 9.0" fill="none" stroke="#6e6684" stroke-width="0.5" stroke-opacity="0.65"/><path d="M20.2 4.8Q19.1 4.3 19.2 3.2" fill="none" stroke="#6e6684" stroke-width="0.5" stroke-opacity="0.65"/><path d="M3.9 10.8Q5.1 11.1 4.3 11.9" fill="none" stroke="#6e6684" stroke-width="0.5" stroke-opacity="0.65"/><path d="M31.7 14.0Q32.8 12.6 33.1 12.6" fill="none" stroke="#6e6684" stroke-width="0.5" stroke-opacity="0.65"/><path d="M18.9 20.3Q20.1 20.7 19.9 21.0" fill="none" stroke="#6e6684" stroke-width="0.5" stroke-opacity="0.65"/><path d="M6.2 14.5Q6.4 13.0 6.6 13.2" fill="none" stroke="#6e6684" stroke-width="0.5" stroke-opacity="0.65"/><path d="M26.2 2.9Q27.4 2.2 27.6 3.1" fill="none" stroke="#6e6684" stroke-width="0.5" stroke-opacity="0.65"/><path d="M16.8 3.0Q16.5 2.1 16.1 1.4" fill="none" stroke="#6e6684" stroke-width="0.5" stroke-opacity="0.65"/><path d="M15.5 14.0Q16.3 14.0 17.1 15.1" fill="none" stroke="#6e6684" stroke-width="0.5" stroke-opacity="0.65"/><path d="M27.7 30.0Q28.4 30.6 28.4 30.9" fill="none" stroke="#6e6684" stroke-width="0.5" stroke-opacity="0.65"/><path d="M0.6 22.6Q-0.8 23.3 -1.6 23.7" fill="none" stroke="#6e6684" stroke-width="0.5" stroke-opacity="0.65"/><path d="M30.1 8.4Q30.6 9.1 30.6 9.8" fill="none" stroke="#6e6684" stroke-width="0.5" stroke-opacity="0.65"/><path d="M8.2 12.4Q9.0 13.1 7.8 13.4" fill="none" stroke="#6e6684" stroke-width="0.5" stroke-opacity="0.65"/><path d="M9.0 30.0Q8.1 30.0 9.0 31.5" fill="none" stroke="#6e6684" stroke-width="0.5" stroke-opacity="0.65"/><path d="M6.4 7.4Q5.8 8.8 6.2 9.7" fill="none" stroke="#6e6684" stroke-width="0.5" stroke-opacity="0.65"/><path d="M29.3 9.3Q28.7 10.3 27.8 11.0" fill="none" stroke="#6e6684" stroke-width="0.5" stroke-opacity="0.65"/><path d="M30.2 24.2Q30.4 23.2 31.1 22.7" fill="none" stroke="#6e6684" stroke-width="0.5" stroke-opacity="0.65"/><path d="M30.7 17.5Q31.1 18.7 29.8 19.5" fill="none" stroke="#6e6684" stroke-width="0.5" stroke-opacity="0.65"/><path d="M7.9 29.9Q7.0 29.8 7.0 31.4" fill="none" stroke="#6e6684" stroke-width="0.5" stroke-opacity="0.65"/><path d="M6.4 22.2Q6.3 22.9 6.4 23.4" fill="none" stroke="#6e6684" stroke-width="0.5" stroke-opacity="0.65"/><path d="M12.2 25.1Q11.5 24.9 11.2 26.2" fill="none" stroke="#6e6684" stroke-width="0.5" stroke-opacity="0.65"/><path d="M7.1 4.7Q8.1 5.0 8.4 6.4" fill="none" stroke="#6e6684" stroke-width="0.5" stroke-opacity="0.65"/><path d="M20.7 21.0Q21.7 20.8 22.1 20.4" fill="none" stroke="#6e6684" stroke-width="0.5" stroke-opacity="0.65"/><path d="M1.5 13.0Q1.6 13.9 0.1 13.3" fill="none" stroke="#6e6684" stroke-width="0.5" stroke-opacity="0.65"/><path d="M2.0 21.8Q-0.0 22.2 -0.4 21.1" fill="none" stroke="#6e6684" stroke-width="0.5" stroke-opacity="0.65"/><path d="M13.6 31.4Q15.1 29.5 14.8 29.3" fill="none" stroke="#6e6684" stroke-width="0.5" stroke-opacity="0.65"/><path d="M25.4 9.8Q25.1 9.2 24.5 10.6" fill="none" stroke="#6e6684" stroke-width="0.5" stroke-opacity="0.65"/><path d="M14.4 25.1Q13.1 25.9 12.6 24.8" fill="none" stroke="#6e6684" stroke-width="0.5" stroke-opacity="0.65"/><path d="M7.9 21.8Q10.0 21.3 10.0 21.8" fill="none" stroke="#6e6684" stroke-width="0.5" stroke-opacity="0.65"/><path d="M31.6 29.7Q32.2 28.6 33.1 27.8" fill="none" stroke="#6e6684" stroke-width="0.5" stroke-opacity="0.65"/><path d="M11.1 30.0Q12.3 31.0 11.7 30.7" fill="none" stroke="#6e6684" stroke-width="0.5" stroke-opacity="0.65"/><path d="M22.6 31.0Q22.9 31.0 23.5 29.4" fill="none" stroke="#6e6684" stroke-width="0.5" stroke-opacity="0.65"/><path d="M2.2 14.0Q2.3 13.5 2.8 12.2" fill="none" stroke="#6e6684" stroke-width="0.5" stroke-opacity="0.65"/><path d="M31.0 13.4Q32.3 13.5 32.3 13.7" fill="none" stroke="#6e6684" stroke-width="0.5" stroke-opacity="0.65"/><path d="M12.4 16.6Q12.0 16.7 12.6 17.8" fill="none" stroke="#6e6684" stroke-width="0.5" stroke-opacity="0.65"/><path d="M27.5 7.9Q28.0 6.5 28.3 7.0" fill="none" stroke="#6e6684" stroke-width="0.5" stroke-opacity="0.65"/><path d="M21.6 22.0Q21.6 20.4 21.9 19.9" fill="none" stroke="#6e6684" stroke-width="0.5" stroke-opacity="0.65"/><path d="M23.8 20.0Q24.0 21.4 24.7 21.9" fill="none" stroke="#6e6684" stroke-width="0.5" stroke-opacity="0.65"/><path d="M12.3 19.3Q12.0 18.4 12.4 17.5" fill="none" stroke="#6e6684" stroke-width="0.5" stroke-opacity="0.65"/><path d="M26.5 9.9Q25.4 10.2 25.7 9.0" fill="none" stroke="#6e6684" stroke-width="0.5" stroke-opacity="0.65"/><path d="M8.8 28.9Q9.4 30.1 9.8 30.5" fill="none" stroke="#6e6684" stroke-width="0.5" stroke-opacity="0.65"/><path d="M15.6 20.3Q15.7 20.7 17.1 19.9" fill="none" stroke="#6e6684" stroke-width="0.5" stroke-opacity="0.65"/><path d="M0.8 16.2Q1.3 17.4 1.5 17.0" fill="none" stroke="#6e6684" stroke-width="0.5" stroke-opacity="0.65"/><path d="M9.9 12.9Q8.9 12.1 8.5 11.8" fill="none" stroke="#6e6684" stroke-width="0.5" stroke-opacity="0.65"/><path d="M27.3 17.8Q28.6 16.9 28.0 16.4" fill="none" stroke="#6e6684" stroke-width="0.5" stroke-opacity="0.65"/><path d="M0.5 9.8Q0.5 11.4 1.6 11.9" fill="none" stroke="#6e6684" stroke-width="0.5" stroke-opacity="0.65"/><path d="M3.7 27.2Q3.3 26.8 2.6 28.1" fill="none" stroke="#6e6684" stroke-width="0.5" stroke-opacity="0.65"/><path d="M24.8 14.0Q24.1 13.6 25.0 11.8" fill="none" stroke="#6e6684" stroke-width="0.5" stroke-opacity="0.65"/><path d="M26.3 7.7Q26.6 9.2 26.8 9.6" fill="none" stroke="#6e6684" stroke-width="0.5" stroke-opacity="0.65"/><path d="M12.1 17.1Q12.7 17.3 12.8 16.1" fill="none" stroke="#6e6684" stroke-width="0.5" stroke-opacity="0.65"/><path d="M2.6 23.9Q1.5 24.5 1.5 23.5" fill="none" stroke="#6e6684" stroke-width="0.5" stroke-opacity="0.65"/><path d="M3.4 15.1Q1.9 16.0 2.1 16.3" fill="none" stroke="#6e6684" stroke-width="0.5" stroke-opacity="0.65"/><path d="M31.1 11.6Q30.0 12.5 29.8 13.6" fill="none" stroke="#6e6684" stroke-width="0.5" stroke-opacity="0.65"/><path d="M31.1 24.9Q32.0 24.2 33.1 25.4" fill="none" stroke="#6e6684" stroke-width="0.5" stroke-opacity="0.65"/><path d="M2.0 12.0Q2.6 13.0 3.1 12.9" fill="none" stroke="#6e6684" stroke-width="0.5" stroke-opacity="0.65"/><path d="M29.6 29.3Q30.9 29.9 30.4 30.8" fill="none" stroke="#6e6684" stroke-width="0.5" stroke-opacity="0.65"/><path d="M11.0 26.4Q12.3 27.0 12.8 25.8" fill="none" stroke="#6e6684" stroke-width="0.5" stroke-opacity="0.65"/><path d="M4.9 30.2Q4.2 28.8 4.3 28.4" fill="none" stroke="#6e6684" stroke-width="0.5" stroke-opacity="0.65"/><path d="M9.5 5.4Q9.9 6.6 11.4 7.2" fill="none" stroke="#6e6684" stroke-width="0.5" stroke-opacity="0.65"/><path d="M6.5 6.8Q5.6 8.0 6.7 8.2" fill="none" stroke="#6e6684" stroke-width="0.5" stroke-opacity="0.65"/><path d="M21.1 9.9Q19.4 10.4 18.8 9.0" fill="none" stroke="#6e6684" stroke-width="0.5" stroke-opacity="0.65"/><path d="M7.4 25.9Q9.2 25.8 9.7 25.9" fill="none" stroke="#6e6684" stroke-width="0.5" stroke-opacity="0.65"/><path d="M16.1 30.3Q15.2 31.9 16.2 32.0" fill="none" stroke="#6e6684" stroke-width="0.5" stroke-opacity="0.65"/><path d="M14.6 22.8Q16.4 23.5 16.6 22.5" fill="none" stroke="#6e6684" stroke-width="0.5" stroke-opacity="0.65"/><path d="M16.1 29.1Q17.0 28.7 17.2 30.2" fill="none" stroke="#6e6684" stroke-width="0.5" stroke-opacity="0.65"/><path d="M31.1 10.4Q30.5 11.3 30.7 12.0" fill="none" stroke="#6e6684" stroke-width="0.5" stroke-opacity="0.65"/><path d="M25.6 0.5Q26.6 1.1 25.7 2.0" fill="none" stroke="#6e6684" stroke-width="0.5" stroke-opacity="0.65"/><path d="M14.2 30.0Q13.4 30.0 13.0 31.1" fill="none" stroke="#6e6684" stroke-width="0.5" stroke-opacity="0.65"/><path d="M22.5 9.2Q22.2 9.3 20.9 8.4" fill="none" stroke="#6e6684" stroke-width="0.5" stroke-opacity="0.65"/><path d="M15.4 30.4Q17.0 29.8 17.7 29.4" fill="none" stroke="#6e6684" stroke-width="0.5" stroke-opacity="0.65"/><path d="M11.5 27.5Q11.3 26.4 11.5 25.8" fill="none" stroke="#6e6684" stroke-width="0.5" stroke-opacity="0.65"/><path d="M0.6 23.4Q0.3 24.1 -0.9 23.4" fill="none" stroke="#6e6684" stroke-width="0.5" stroke-opacity="0.65"/><path d="M30.2 21.2Q30.0 20.8 31.5 20.6" fill="none" stroke="#6e6684" stroke-width="0.5" stroke-opacity="0.65"/><path d="M29.6 27.1Q29.6 25.4 30.9 25.6" fill="none" stroke="#6e6684" stroke-width="0.5" stroke-opacity="0.65"/><path d="M9.5 29.8Q9.3 29.7 9.0 30.7" fill="none" stroke="#6e6684" stroke-width="0.5" stroke-opacity="0.65"/><path d="M27.9 3.4Q27.5 2.9 29.0 3.4" fill="none" stroke="#6e6684" stroke-width="0.5" stroke-opacity="0.65"/><path d="M13.1 28.2Q13.0 28.1 11.7 27.5" fill="none" stroke="#6e6684" stroke-width="0.5" stroke-opacity="0.65"/><path d="M26.6 0.5Q28.2 -0.3 28.4 0.8" fill="none" stroke="#6e6684" stroke-width="0.5" stroke-opacity="0.65"/><path d="M3.0 13.7Q4.3 13.0 5.0 13.9" fill="none" stroke="#6e6684" stroke-width="0.5" stroke-opacity="0.65"/><path d="M10.4 1.3Q11.4 0.0 11.4 -0.5" fill="none" stroke="#6e6684" stroke-width="0.5" stroke-opacity="0.65"/><path d="M8.0 30.8Q9.0 31.3 10.3 30.3" fill="none" stroke="#6e6684" stroke-width="0.5" stroke-opacity="0.65"/><path d="M21.7 25.1Q21.9 23.8 22.1 23.4" fill="none" stroke="#6e6684" stroke-width="0.5" stroke-opacity="0.65"/><path d="M15.3 1.3Q14.1 2.8 14.2 3.1" fill="none" stroke="#6e6684" stroke-width="0.5" stroke-opacity="0.65"/><path d="M16.8 10.1Q17.8 9.7 19.1 9.2" fill="none" stroke="#6e6684" stroke-width="0.5" stroke-opacity="0.65"/><path d="M0.0 11.4Q-0.3 10.4 -2.6 11.2" fill="none" stroke="#6e6684" stroke-width="0.5" stroke-opacity="0.65"/><path d="M0.6 2.0Q1.5 1.9 0.6 0.9" fill="none" stroke="#6e6684" stroke-width="0.5" stroke-opacity="0.65"/><path d="M19.4 12.2Q19.7 12.0 20.5 13.4" fill="none" stroke="#6e6684" stroke-width="0.5" stroke-opacity="0.65"/><path d="M25.9 17.2Q26.0 17.3 26.9 15.9" fill="none" stroke="#6e6684" stroke-width="0.5" stroke-opacity="0.65"/><path d="M23.0 20.1Q23.1 20.4 21.7 18.6" fill="none" stroke="#6e6684" stroke-width="0.5" stroke-opacity="0.65"/><path d="M17.9 30.7Q19.3 30.7 19.1 30.1" fill="none" stroke="#6e6684" stroke-width="0.5" stroke-opacity="0.65"/><path d="M3.5 28.4Q4.0 28.3 2.7 29.8" fill="none" stroke="#6e6684" stroke-width="0.5" stroke-opacity="0.65"/><path d="M20.6 7.2Q20.1 8.4 21.1 9.6" fill="none" stroke="#6e6684" stroke-width="0.5" stroke-opacity="0.65"/><path d="M14.6 24.1Q14.0 24.9 14.3 25.5" fill="none" stroke="#6e6684" stroke-width="0.5" stroke-opacity="0.65"/><path d="M4.2 18.0Q3.3 16.8 3.3 15.8" fill="none" stroke="#6e6684" stroke-width="0.5" stroke-opacity="0.65"/><path d="M3.0 15.1Q4.4 15.9 5.2 15.1" fill="none" stroke="#6e6684" stroke-width="0.5" stroke-opacity="0.65"/><path d="M8.9 10.2Q9.1 11.3 10.1 11.9" fill="none" stroke="#6e6684" stroke-width="0.5" stroke-opacity="0.65"/><path d="M16.6 5.4Q16.7 4.8 15.3 5.4" fill="none" stroke="#6e6684" stroke-width="0.5" stroke-opacity="0.65"/><path d="M21.9 17.0Q21.9 16.6 20.7 17.8" fill="none" stroke="#6e6684" stroke-width="0.5" stroke-opacity="0.65"/><path d="M17.5 15.3Q16.3 15.4 16.5 15.9" fill="none" stroke="#6e6684" stroke-width="0.5" stroke-opacity="0.65"/><path d="M1.0 18.1Q2.6 16.8 2.6 16.5" fill="none" stroke="#6e6684" stroke-width="0.5" stroke-opacity="0.65"/><path d="M25.6 11.5Q25.0 11.5 23.5 11.9" fill="none" stroke="#6e6684" stroke-width="0.5" stroke-opacity="0.65"/><path d="M30.7 14.9Q31.6 15.4 31.7 17.0" fill="none" stroke="#6e6684" stroke-width="0.5" stroke-opacity="0.65"/><path d="M13.1 12.1Q11.7 12.5 11.3 11.2" fill="none" stroke="#6e6684" stroke-width="0.5" stroke-opacity="0.65"/><path d="M1.3 15.3Q1.2 16.5 2.2 16.0" fill="none" stroke="#6e6684" stroke-width="0.5" stroke-opacity="0.65"/><path d="M0.7 23.0Q1.9 21.5 1.7 21.4" fill="none" stroke="#6e6684" stroke-width="0.5" stroke-opacity="0.65"/><path d="M29.6 4.5Q30.0 5.3 29.7 5.7" fill="none" stroke="#6e6684" stroke-width="0.5" stroke-opacity="0.65"/><path d="M22.1 6.9Q22.6 7.8 21.3 8.5" fill="none" stroke="#6e6684" stroke-width="0.5" stroke-opacity="0.65"/><path d="M22.4 14.3Q22.3 15.2 23.3 15.0" fill="none" stroke="#6e6684" stroke-width="0.5" stroke-opacity="0.65"/><path d="M6.5 15.4Q6.8 15.9 7.5 16.5" fill="none" stroke="#6e6684" stroke-width="0.5" stroke-opacity="0.65"/><path d="M29.4 24.9Q28.6 25.5 28.9 26.6" fill="none" stroke="#6e6684" stroke-width="0.5" stroke-opacity="0.65"/><path d="M17.0 31.1Q17.0 31.7 17.4 32.1" fill="none" stroke="#6e6684" stroke-width="0.5" stroke-opacity="0.65"/><path d="M2.2 0.7Q3.7 1.1 4.0 0.9" fill="none" stroke="#6e6684" stroke-width="0.5" stroke-opacity="0.65"/><path d="M15.0 31.9Q15.2 30.8 16.6 31.3" fill="none" stroke="#6e6684" stroke-width="0.5" stroke-opacity="0.65"/><path d="M13.3 17.0Q14.5 17.3 14.8 18.5" fill="none" stroke="#6e6684" stroke-width="0.5" stroke-opacity="0.65"/><path d="M30.3 25.5Q30.4 24.9 32.4 26.1" fill="none" stroke="#6e6684" stroke-width="0.5" stroke-opacity="0.65"/><path d="M14.2 1.1Q15.7 1.3 15.3 1.5" fill="none" stroke="#6e6684" stroke-width="0.5" stroke-opacity="0.65"/><path d="M8.4 4.8Q9.5 6.1 9.5 5.7" fill="none" stroke="#6e6684" stroke-width="0.5" stroke-opacity="0.65"/><path d="M26.1 2.4Q26.5 2.2 27.3 0.9" fill="none" stroke="#6e6684" stroke-width="0.5" stroke-opacity="0.65"/><path d="M0.4 16.6Q-1.4 18.0 -1.6 17.5" fill="none" stroke="#6e6684" stroke-width="0.5" stroke-opacity="0.65"/><path d="M26.0 9.1Q26.7 10.5 27.0 11.0" fill="none" stroke="#6e6684" stroke-width="0.5" stroke-opacity="0.65"/><path d="M19.2 14.0Q17.3 13.9 17.2 15.3" fill="none" stroke="#6e6684" stroke-width="0.5" stroke-opacity="0.65"/><path d="M4.8 24.9Q5.5 24.0 5.9 24.7" fill="none" stroke="#6e6684" stroke-width="0.5" stroke-opacity="0.65"/><path d="M30.2 31.7Q29.1 30.7 29.0 31.2" fill="none" stroke="#6e6684" stroke-width="0.5" stroke-opacity="0.65"/><path d="M2.4 28.3Q2.0 28.6 2.8 29.6" fill="none" stroke="#6e6684" stroke-width="0.5" stroke-opacity="0.65"/><path d="M30.3 6.7Q31.3 6.1 31.5 7.2" fill="none" stroke="#6e6684" stroke-width="0.5" stroke-opacity="0.65"/><path d="M26.2 30.1Q26.1 30.2 24.8 30.4" fill="none" stroke="#6e6684" stroke-width="0.5" stroke-opacity="0.65"/><path d="M10.1 29.3Q10.9 29.7 10.3 31.9" fill="none" stroke="#6e6684" stroke-width="0.5" stroke-opacity="0.65"/><path d="M26.4 11.0Q27.1 11.0 29.0 11.4" fill="none" stroke="#6e6684" stroke-width="0.5" stroke-opacity="0.65"/><circle cx="16.1" cy="24.8" r="0.51" fill="#5c363c" fill-opacity="0.85"/><circle cx="1.9" cy="7.7" r="0.49" fill="#5c363c" fill-opacity="0.85"/><circle cx="30.3" cy="16.5" r="0.54" fill="#5c363c" fill-opacity="0.85"/><circle cx="10.3" cy="8.4" r="0.65" fill="#5c363c" fill-opacity="0.85"/><circle cx="10.3" cy="20.0" r="0.55" fill="#5c363c" fill-opacity="0.85"/><circle cx="22.0" cy="29.3" r="0.79" fill="#5c363c" fill-opacity="0.85"/><circle cx="2.6" cy="15.4" r="0.82" fill="#5c363c" fill-opacity="0.85"/><circle cx="2.3" cy="30.0" r="0.50" fill="#5c363c" fill-opacity="0.85"/><circle cx="3.4" cy="0.3" r="0.84" fill="#5c363c" fill-opacity="0.85"/><circle cx="0.9" cy="15.1" r="0.72" fill="#5c363c" fill-opacity="0.85"/><circle cx="15.5" cy="31.8" r="0.72" fill="#5c363c" fill-opacity="0.85"/><circle cx="0.1" cy="12.7" r="0.52" fill="#5c363c" fill-opacity="0.85"/><circle cx="28.5" cy="7.3" r="0.75" fill="#5c363c" fill-opacity="0.85"/><circle cx="14.2" cy="14.0" r="0.69" fill="#5c363c" fill-opacity="0.85"/><circle cx="8.1" cy="20.7" r="0.72" fill="#5c363c" fill-opacity="0.85"/><circle cx="26.0" cy="26.1" r="0.49" fill="#5c363c" fill-opacity="0.85"/><circle cx="26.2" cy="10.3" r="0.89" fill="#5c363c" fill-opacity="0.85"/><circle cx="18.3" cy="6.3" r="0.68" fill="#5c363c" fill-opacity="0.85"/><circle cx="17.4" cy="16.3" r="0.62" fill="#5c363c" fill-opacity="0.85"/><circle cx="18.7" cy="17.3" r="0.81" fill="#5c363c" fill-opacity="0.85"/><circle cx="11.0" cy="14.6" r="0.45" fill="#5c363c" fill-opacity="0.85"/><circle cx="23.9" cy="1.9" r="0.84" fill="#5c363c" fill-opacity="0.85"/><circle cx="16.6" cy="18.3" r="0.62" fill="#5c363c" fill-opacity="0.85"/><circle cx="17.7" cy="3.2" r="0.52" fill="#5c363c" fill-opacity="0.85"/><circle cx="17.1" cy="9.6" r="0.68" fill="#5c363c" fill-opacity="0.85"/><circle cx="15.8" cy="31.3" r="0.74" fill="#5c363c" fill-opacity="0.85"/><circle cx="0.6" cy="21.2" r="0.59" fill="#5c363c" fill-opacity="0.85"/><circle cx="5.8" cy="11.7" r="0.85" fill="#5c363c" fill-opacity="0.85"/><circle cx="25.3" cy="14.7" r="0.84" fill="#5c363c" fill-opacity="0.85"/><circle cx="16.5" cy="4.8" r="0.77" fill="#5c363c" fill-opacity="0.85"/><circle cx="27.6" cy="21.8" r="0.58" fill="#5c363c" fill-opacity="0.85"/><circle cx="15.3" cy="4.2" r="0.56" fill="#5c363c" fill-opacity="0.85"/><circle cx="2.1" cy="30.9" r="0.77" fill="#5c363c" fill-opacity="0.85"/><circle cx="15.5" cy="21.9" r="0.76" fill="#5c363c" fill-opacity="0.85"/><circle cx="15.1" cy="8.1" r="0.67" fill="#5c363c" fill-opacity="0.85"/><circle cx="17.3" cy="12.2" r="0.55" fill="#5c363c" fill-opacity="0.85"/><circle cx="18.7" cy="20.8" r="0.55" fill="#5c363c" fill-opacity="0.85"/><circle cx="4.1" cy="24.2" r="0.89" fill="#5c363c" fill-opacity="0.85"/><circle cx="23.4" cy="26.3" r="0.78" fill="#5c363c" fill-opacity="0.85"/><circle cx="12.4" cy="18.6" r="0.66" fill="#5c363c" fill-opacity="0.85"/><circle cx="31.3" cy="3.6" r="0.90" fill="#94706e" fill-opacity="0.65"/><circle cx="4.2" cy="9.8" r="0.69" fill="#94706e" fill-opacity="0.65"/><circle cx="30.2" cy="28.1" r="0.78" fill="#94706e" fill-opacity="0.65"/><circle cx="20.6" cy="24.1" r="0.55" fill="#94706e" fill-opacity="0.65"/><circle cx="1.4" cy="18.9" r="0.51" fill="#94706e" fill-opacity="0.65"/><circle cx="14.6" cy="24.6" r="0.89" fill="#94706e" fill-opacity="0.65"/><circle cx="4.1" cy="29.5" r="0.52" fill="#94706e" fill-opacity="0.65"/><circle cx="16.6" cy="25.6" r="0.74" fill="#94706e" fill-opacity="0.65"/><circle cx="12.2" cy="28.6" r="0.49" fill="#94706e" fill-opacity="0.65"/><circle cx="26.4" cy="31.6" r="0.82" fill="#94706e" fill-opacity="0.65"/><circle cx="3.7" cy="12.4" r="0.45" fill="#94706e" fill-opacity="0.65"/><circle cx="11.1" cy="12.8" r="0.48" fill="#94706e" fill-opacity="0.65"/><circle cx="14.8" cy="26.7" r="0.73" fill="#94706e" fill-opacity="0.65"/><circle cx="9.6" cy="3.8" r="0.46" fill="#94706e" fill-opacity="0.65"/><circle cx="26.0" cy="8.3" r="0.68" fill="#94706e" fill-opacity="0.65"/><circle cx="6.2" cy="22.4" r="0.44" fill="#94706e" fill-opacity="0.65"/><circle cx="15.1" cy="14.1" r="0.66" fill="#94706e" fill-opacity="0.65"/><circle cx="6.7" cy="21.9" r="0.88" fill="#94706e" fill-opacity="0.65"/><circle cx="6.7" cy="2.3" r="0.54" fill="#94706e" fill-opacity="0.65"/><circle cx="10.9" cy="27.7" r="0.42" fill="#94706e" fill-opacity="0.65"/><circle cx="1.4" cy="17.1" r="0.63" fill="#94706e" fill-opacity="0.65"/><circle cx="6.8" cy="21.9" r="0.60" fill="#94706e" fill-opacity="0.65"/><circle cx="31.0" cy="7.0" r="0.66" fill="#94706e" fill-opacity="0.65"/><circle cx="4.1" cy="3.3" r="0.88" fill="#94706e" fill-opacity="0.65"/><circle cx="28.4" cy="23.9" r="0.65" fill="#94706e" fill-opacity="0.65"/><circle cx="21.5" cy="7.2" r="0.53" fill="#fbf9fa" fill-opacity="0.85"/><circle cx="7.0" cy="8.6" r="0.68" fill="#fbf9fa" fill-opacity="0.85"/><circle cx="16.1" cy="8.6" r="0.65" fill="#fbf9fa" fill-opacity="0.85"/><circle cx="25.6" cy="25.6" r="0.58" fill="#fbf9fa" fill-opacity="0.85"/><circle cx="18.0" cy="3.4" r="0.84" fill="#fbf9fa" fill-opacity="0.85"/><circle cx="19.9" cy="5.8" r="0.99" fill="#fbf9fa" fill-opacity="0.85"/><circle cx="19.6" cy="30.9" r="0.59" fill="#fbf9fa" fill-opacity="0.85"/><circle cx="4.9" cy="24.9" r="0.93" fill="#fbf9fa" fill-opacity="0.85"/><circle cx="7.4" cy="14.2" r="0.52" fill="#fbf9fa" fill-opacity="0.85"/><circle cx="14.8" cy="31.4" r="0.58" fill="#fbf9fa" fill-opacity="0.85"/><circle cx="11.5" cy="27.7" r="1.09" fill="#fbf9fa" fill-opacity="0.85"/><circle cx="16.5" cy="17.7" r="0.75" fill="#fbf9fa" fill-opacity="0.85"/><circle cx="22.5" cy="29.1" r="1.04" fill="#fbf9fa" fill-opacity="0.85"/><circle cx="18.1" cy="14.8" r="1.00" fill="#fbf9fa" fill-opacity="0.85"/><circle cx="21.6" cy="31.7" r="0.47" fill="#fbf9fa" fill-opacity="0.85"/><circle cx="23.6" cy="25.6" r="0.65" fill="#fbf9fa" fill-opacity="0.85"/><circle cx="0.3" cy="10.8" r="1.08" fill="#fbf9fa" fill-opacity="0.85"/><circle cx="24.3" cy="10.8" r="1.00" fill="#fbf9fa" fill-opacity="0.85"/><circle cx="2.7" cy="23.6" r="0.79" fill="#fbf9fa" fill-opacity="0.85"/><circle cx="31.5" cy="9.4" r="0.64" fill="#fbf9fa" fill-opacity="0.85"/><circle cx="11.3" cy="14.0" r="0.72" fill="#fbf9fa" fill-opacity="0.85"/><circle cx="6.2" cy="14.3" r="0.44" fill="#fbf9fa" fill-opacity="0.85"/><circle cx="20.0" cy="26.7" r="0.63" fill="#fbf9fa" fill-opacity="0.85"/><circle cx="14.4" cy="31.0" r="0.99" fill="#fbf9fa" fill-opacity="0.85"/><circle cx="22.0" cy="18.5" r="1.08" fill="#fbf9fa" fill-opacity="0.85"/><circle cx="15.2" cy="19.8" r="1.02" fill="#fbf9fa" fill-opacity="0.85"/><circle cx="11.5" cy="13.7" r="0.86" fill="#fbf9fa" fill-opacity="0.85"/><circle cx="22.8" cy="22.4" r="0.69" fill="#fbf9fa" fill-opacity="0.85"/><circle cx="8.9" cy="24.6" r="0.90" fill="#fbf9fa" fill-opacity="0.85"/><circle cx="16.6" cy="8.2" r="0.45" fill="#fbf9fa" fill-opacity="0.85"/><circle cx="16.6" cy="29.1" r="1.01" fill="#fbf9fa" fill-opacity="0.85"/><circle cx="23.9" cy="13.5" r="1.01" fill="#fbf9fa" fill-opacity="0.85"/><circle cx="28.2" cy="9.8" r="0.78" fill="#fbf9fa" fill-opacity="0.85"/><circle cx="11.7" cy="6.2" r="0.74" fill="#fbf9fa" fill-opacity="0.85"/><circle cx="7.2" cy="30.3" r="1.08" fill="#fbf9fa" fill-opacity="0.85"/><circle cx="8.2" cy="5.3" r="0.54" fill="#fbf9fa" fill-opacity="0.85"/><circle cx="29.4" cy="10.5" r="0.98" fill="#fbf9fa" fill-opacity="0.85"/><circle cx="31.9" cy="11.0" r="0.99" fill="#fbf9fa" fill-opacity="0.85"/><circle cx="3.4" cy="1.4" r="0.87" fill="#fbf9fa" fill-opacity="0.85"/><circle cx="9.9" cy="7.4" r="0.75" fill="#fbf9fa" fill-opacity="0.85"/><circle cx="25.4" cy="14.2" r="0.79" fill="#fbf9fa" fill-opacity="0.85"/><circle cx="24.3" cy="3.0" r="0.76" fill="#fbf9fa" fill-opacity="0.85"/><circle cx="1.2" cy="6.5" r="0.49" fill="#fbf9fa" fill-opacity="0.85"/><circle cx="5.7" cy="29.5" r="0.41" fill="#fbf9fa" fill-opacity="0.85"/><circle cx="15.5" cy="2.4" r="0.41" fill="#fbf9fa" fill-opacity="0.85"/><circle cx="29.6" cy="16.1" r="1.00" fill="#fbf9fa" fill-opacity="0.85"/><circle cx="20.1" cy="18.4" r="0.94" fill="#fbf9fa" fill-opacity="0.85"/><circle cx="0.2" cy="6.7" r="0.88" fill="#fbf9fa" fill-opacity="0.85"/><circle cx="31.8" cy="6.2" r="0.68" fill="#fbf9fa" fill-opacity="0.85"/><circle cx="21.8" cy="18.3" r="0.91" fill="#fbf9fa" fill-opacity="0.85"/><circle cx="1.5" cy="7.8" r="0.87" fill="#fbf9fa" fill-opacity="0.85"/><circle cx="23.8" cy="21.2" r="0.96" fill="#fbf9fa" fill-opacity="0.85"/><circle cx="25.7" cy="0.0" r="0.61" fill="#fbf9fa" fill-opacity="0.85"/><circle cx="2.3" cy="4.0" r="0.91" fill="#fbf9fa" fill-opacity="0.85"/><circle cx="12.4" cy="28.2" r="0.42" fill="#fbf9fa" fill-opacity="0.85"/></pattern><pattern id="tki24" patternUnits="userSpaceOnUse" width="31" height="31"><rect width="31" height="31" fill="#ebe6ea"/><path d="M21.0 24.3Q19.9 25.3 19.2 24.2" fill="none" stroke="#7e7690" stroke-width="0.5" stroke-opacity="0.62"/><path d="M9.0 4.6Q8.6 4.8 8.9 6.0" fill="none" stroke="#7e7690" stroke-width="0.5" stroke-opacity="0.62"/><path d="M3.3 10.1Q2.1 8.9 2.0 9.5" fill="none" stroke="#7e7690" stroke-width="0.5" stroke-opacity="0.62"/><path d="M6.3 16.8Q6.8 15.8 6.1 15.2" fill="none" stroke="#7e7690" stroke-width="0.5" stroke-opacity="0.62"/><path d="M3.1 22.6Q2.5 22.8 1.3 23.9" fill="none" stroke="#7e7690" stroke-width="0.5" stroke-opacity="0.62"/><path d="M28.4 25.8Q28.9 25.6 30.5 25.2" fill="none" stroke="#7e7690" stroke-width="0.5" stroke-opacity="0.62"/><path d="M22.7 24.8Q23.4 24.7 23.7 26.1" fill="none" stroke="#7e7690" stroke-width="0.5" stroke-opacity="0.62"/><path d="M21.9 0.2Q20.2 0.3 20.2 0.4" fill="none" stroke="#7e7690" stroke-width="0.5" stroke-opacity="0.62"/><path d="M15.5 11.4Q17.1 10.0 17.1 9.6" fill="none" stroke="#7e7690" stroke-width="0.5" stroke-opacity="0.62"/><path d="M0.8 11.7Q0.2 10.4 0.5 10.5" fill="none" stroke="#7e7690" stroke-width="0.5" stroke-opacity="0.62"/><path d="M8.8 12.5Q7.3 13.1 6.7 13.0" fill="none" stroke="#7e7690" stroke-width="0.5" stroke-opacity="0.62"/><path d="M1.4 6.5Q0.6 4.6 1.4 4.4" fill="none" stroke="#7e7690" stroke-width="0.5" stroke-opacity="0.62"/><path d="M15.7 20.3Q14.8 19.7 14.7 20.7" fill="none" stroke="#7e7690" stroke-width="0.5" stroke-opacity="0.62"/><path d="M5.3 8.9Q6.2 10.2 6.6 10.0" fill="none" stroke="#7e7690" stroke-width="0.5" stroke-opacity="0.62"/><path d="M21.2 2.1Q19.5 1.1 19.8 0.6" fill="none" stroke="#7e7690" stroke-width="0.5" stroke-opacity="0.62"/><path d="M20.2 29.5Q19.3 29.8 18.0 28.4" fill="none" stroke="#7e7690" stroke-width="0.5" stroke-opacity="0.62"/><path d="M6.5 15.8Q6.9 14.7 6.7 14.7" fill="none" stroke="#7e7690" stroke-width="0.5" stroke-opacity="0.62"/><path d="M6.1 16.2Q6.5 17.1 7.6 17.9" fill="none" stroke="#7e7690" stroke-width="0.5" stroke-opacity="0.62"/><path d="M8.1 27.4Q9.4 27.5 10.2 26.8" fill="none" stroke="#7e7690" stroke-width="0.5" stroke-opacity="0.62"/><path d="M8.8 15.6Q7.1 16.5 7.2 15.9" fill="none" stroke="#7e7690" stroke-width="0.5" stroke-opacity="0.62"/><path d="M4.8 14.2Q4.3 13.6 2.3 14.0" fill="none" stroke="#7e7690" stroke-width="0.5" stroke-opacity="0.62"/><path d="M14.5 11.8Q13.8 13.0 13.4 12.9" fill="none" stroke="#7e7690" stroke-width="0.5" stroke-opacity="0.62"/><path d="M30.1 2.9Q28.9 1.8 28.1 2.6" fill="none" stroke="#7e7690" stroke-width="0.5" stroke-opacity="0.62"/><path d="M11.2 9.8Q10.3 9.0 9.9 8.9" fill="none" stroke="#7e7690" stroke-width="0.5" stroke-opacity="0.62"/><path d="M8.5 30.3Q8.6 30.5 10.1 30.0" fill="none" stroke="#7e7690" stroke-width="0.5" stroke-opacity="0.62"/><path d="M17.2 22.0Q18.0 20.5 18.5 20.7" fill="none" stroke="#7e7690" stroke-width="0.5" stroke-opacity="0.62"/><path d="M21.2 19.0Q21.7 17.9 21.0 17.6" fill="none" stroke="#7e7690" stroke-width="0.5" stroke-opacity="0.62"/><path d="M4.6 9.0Q2.8 9.2 2.8 9.6" fill="none" stroke="#7e7690" stroke-width="0.5" stroke-opacity="0.62"/><path d="M17.0 17.9Q17.5 16.7 17.3 16.4" fill="none" stroke="#7e7690" stroke-width="0.5" stroke-opacity="0.62"/><path d="M10.7 28.7Q9.7 29.1 9.5 29.1" fill="none" stroke="#7e7690" stroke-width="0.5" stroke-opacity="0.62"/><path d="M24.6 3.8Q24.5 4.1 25.9 4.3" fill="none" stroke="#7e7690" stroke-width="0.5" stroke-opacity="0.62"/><path d="M15.2 29.3Q13.4 28.6 13.5 29.0" fill="none" stroke="#7e7690" stroke-width="0.5" stroke-opacity="0.62"/><path d="M9.6 7.6Q7.9 8.2 7.6 8.7" fill="none" stroke="#7e7690" stroke-width="0.5" stroke-opacity="0.62"/><path d="M4.8 5.8Q6.2 6.2 6.5 6.8" fill="none" stroke="#7e7690" stroke-width="0.5" stroke-opacity="0.62"/><path d="M2.0 20.9Q2.6 20.5 1.8 18.4" fill="none" stroke="#7e7690" stroke-width="0.5" stroke-opacity="0.62"/><path d="M8.4 15.1Q8.5 15.6 6.7 16.4" fill="none" stroke="#7e7690" stroke-width="0.5" stroke-opacity="0.62"/><path d="M0.7 2.9Q1.7 4.0 2.3 3.1" fill="none" stroke="#7e7690" stroke-width="0.5" stroke-opacity="0.62"/><path d="M28.9 30.6Q28.4 32.1 29.5 31.9" fill="none" stroke="#7e7690" stroke-width="0.5" stroke-opacity="0.62"/><path d="M0.8 2.2Q1.9 1.0 2.8 1.6" fill="none" stroke="#7e7690" stroke-width="0.5" stroke-opacity="0.62"/><path d="M1.1 25.4Q1.7 25.9 0.3 27.4" fill="none" stroke="#7e7690" stroke-width="0.5" stroke-opacity="0.62"/><path d="M4.6 30.0Q3.6 30.6 3.9 30.8" fill="none" stroke="#7e7690" stroke-width="0.5" stroke-opacity="0.62"/><path d="M15.2 7.8Q16.9 9.0 16.7 9.1" fill="none" stroke="#7e7690" stroke-width="0.5" stroke-opacity="0.62"/><path d="M6.5 18.5Q5.5 17.6 5.2 17.8" fill="none" stroke="#7e7690" stroke-width="0.5" stroke-opacity="0.62"/><path d="M15.2 2.2Q15.0 1.2 15.8 -0.3" fill="none" stroke="#7e7690" stroke-width="0.5" stroke-opacity="0.62"/><path d="M5.5 5.2Q4.4 5.3 5.1 3.6" fill="none" stroke="#7e7690" stroke-width="0.5" stroke-opacity="0.62"/><path d="M7.8 5.1Q8.4 4.7 9.3 4.1" fill="none" stroke="#7e7690" stroke-width="0.5" stroke-opacity="0.62"/><path d="M30.6 16.3Q30.9 17.3 31.2 17.8" fill="none" stroke="#7e7690" stroke-width="0.5" stroke-opacity="0.62"/><path d="M18.4 6.0Q19.2 6.6 19.4 5.8" fill="none" stroke="#7e7690" stroke-width="0.5" stroke-opacity="0.62"/><path d="M26.1 13.2Q27.5 12.2 27.4 12.9" fill="none" stroke="#7e7690" stroke-width="0.5" stroke-opacity="0.62"/><path d="M19.5 15.5Q19.4 15.2 18.6 15.1" fill="none" stroke="#7e7690" stroke-width="0.5" stroke-opacity="0.62"/><path d="M7.9 27.5Q8.3 29.3 7.5 29.5" fill="none" stroke="#7e7690" stroke-width="0.5" stroke-opacity="0.62"/><path d="M12.0 17.8Q13.1 19.1 12.8 18.6" fill="none" stroke="#7e7690" stroke-width="0.5" stroke-opacity="0.62"/><path d="M28.9 4.6Q27.5 6.1 27.2 5.9" fill="none" stroke="#7e7690" stroke-width="0.5" stroke-opacity="0.62"/><path d="M3.0 2.5Q3.2 3.4 3.9 3.8" fill="none" stroke="#7e7690" stroke-width="0.5" stroke-opacity="0.62"/><path d="M16.0 28.6Q16.6 28.3 17.1 30.0" fill="none" stroke="#7e7690" stroke-width="0.5" stroke-opacity="0.62"/><path d="M20.5 4.9Q20.5 4.5 18.8 5.6" fill="none" stroke="#7e7690" stroke-width="0.5" stroke-opacity="0.62"/><path d="M8.8 10.2Q9.0 11.6 7.4 11.4" fill="none" stroke="#7e7690" stroke-width="0.5" stroke-opacity="0.62"/><path d="M29.3 20.8Q27.6 19.7 27.1 20.0" fill="none" stroke="#7e7690" stroke-width="0.5" stroke-opacity="0.62"/><path d="M5.9 23.8Q6.5 23.2 7.9 24.2" fill="none" stroke="#7e7690" stroke-width="0.5" stroke-opacity="0.62"/><path d="M16.3 10.6Q15.5 11.1 15.0 11.9" fill="none" stroke="#7e7690" stroke-width="0.5" stroke-opacity="0.62"/><path d="M24.4 2.1Q24.0 0.9 22.5 1.0" fill="none" stroke="#7e7690" stroke-width="0.5" stroke-opacity="0.62"/><path d="M8.9 28.1Q8.5 29.1 8.6 30.6" fill="none" stroke="#7e7690" stroke-width="0.5" stroke-opacity="0.62"/><path d="M10.2 29.4Q10.2 30.1 8.6 30.2" fill="none" stroke="#7e7690" stroke-width="0.5" stroke-opacity="0.62"/><path d="M29.1 20.1Q29.8 20.6 30.6 20.9" fill="none" stroke="#7e7690" stroke-width="0.5" stroke-opacity="0.62"/><path d="M19.1 26.3Q19.0 26.9 17.6 25.8" fill="none" stroke="#7e7690" stroke-width="0.5" stroke-opacity="0.62"/><path d="M25.5 8.2Q24.6 7.2 24.5 6.1" fill="none" stroke="#7e7690" stroke-width="0.5" stroke-opacity="0.62"/><path d="M24.6 25.0Q24.2 24.4 23.2 25.1" fill="none" stroke="#7e7690" stroke-width="0.5" stroke-opacity="0.62"/><path d="M23.7 24.5Q24.2 23.8 25.5 24.0" fill="none" stroke="#7e7690" stroke-width="0.5" stroke-opacity="0.62"/><path d="M30.1 19.1Q29.3 19.9 29.2 19.5" fill="none" stroke="#7e7690" stroke-width="0.5" stroke-opacity="0.62"/><path d="M30.2 4.2Q30.0 3.3 31.4 2.6" fill="none" stroke="#7e7690" stroke-width="0.5" stroke-opacity="0.62"/><path d="M1.0 11.0Q0.3 10.4 0.5 9.1" fill="none" stroke="#7e7690" stroke-width="0.5" stroke-opacity="0.62"/><path d="M17.2 11.3Q18.0 10.3 17.7 9.6" fill="none" stroke="#7e7690" stroke-width="0.5" stroke-opacity="0.62"/><path d="M24.6 13.6Q24.7 13.6 24.8 15.4" fill="none" stroke="#7e7690" stroke-width="0.5" stroke-opacity="0.62"/><path d="M26.2 11.5Q27.1 10.8 27.2 10.2" fill="none" stroke="#7e7690" stroke-width="0.5" stroke-opacity="0.62"/><path d="M26.7 18.5Q27.2 20.6 26.5 20.9" fill="none" stroke="#7e7690" stroke-width="0.5" stroke-opacity="0.62"/><path d="M12.4 23.6Q11.9 22.1 10.3 22.2" fill="none" stroke="#7e7690" stroke-width="0.5" stroke-opacity="0.62"/><path d="M3.5 25.5Q4.8 25.7 4.8 27.4" fill="none" stroke="#7e7690" stroke-width="0.5" stroke-opacity="0.62"/><path d="M26.4 28.8Q26.6 30.4 25.8 30.6" fill="none" stroke="#7e7690" stroke-width="0.5" stroke-opacity="0.62"/><path d="M4.8 14.6Q3.9 14.2 5.0 12.6" fill="none" stroke="#7e7690" stroke-width="0.5" stroke-opacity="0.62"/><path d="M19.4 25.5Q19.1 26.6 18.3 26.1" fill="none" stroke="#7e7690" stroke-width="0.5" stroke-opacity="0.62"/><path d="M12.8 29.1Q14.6 27.8 14.4 28.2" fill="none" stroke="#7e7690" stroke-width="0.5" stroke-opacity="0.62"/><path d="M6.4 9.8Q6.3 8.6 5.9 8.0" fill="none" stroke="#7e7690" stroke-width="0.5" stroke-opacity="0.62"/><path d="M5.5 13.4Q5.3 14.7 6.4 15.9" fill="none" stroke="#7e7690" stroke-width="0.5" stroke-opacity="0.62"/><path d="M5.5 24.6Q6.3 25.5 7.1 25.5" fill="none" stroke="#7e7690" stroke-width="0.5" stroke-opacity="0.62"/><path d="M18.1 7.0Q18.1 7.3 20.0 8.6" fill="none" stroke="#7e7690" stroke-width="0.5" stroke-opacity="0.62"/><path d="M27.4 16.3Q26.4 16.9 26.0 17.8" fill="none" stroke="#7e7690" stroke-width="0.5" stroke-opacity="0.62"/><path d="M5.8 18.4Q7.1 17.6 7.2 18.0" fill="none" stroke="#7e7690" stroke-width="0.5" stroke-opacity="0.62"/><path d="M29.0 3.8Q28.4 4.3 26.6 4.6" fill="none" stroke="#7e7690" stroke-width="0.5" stroke-opacity="0.62"/><path d="M13.2 11.1Q11.5 10.9 11.3 10.7" fill="none" stroke="#7e7690" stroke-width="0.5" stroke-opacity="0.62"/><path d="M14.9 26.0Q14.3 26.4 15.4 27.2" fill="none" stroke="#7e7690" stroke-width="0.5" stroke-opacity="0.62"/><path d="M12.9 11.1Q12.6 11.2 14.0 10.6" fill="none" stroke="#7e7690" stroke-width="0.5" stroke-opacity="0.62"/><path d="M6.8 15.1Q5.2 14.5 5.2 15.0" fill="none" stroke="#7e7690" stroke-width="0.5" stroke-opacity="0.62"/><path d="M2.9 21.8Q2.2 20.6 2.4 20.9" fill="none" stroke="#7e7690" stroke-width="0.5" stroke-opacity="0.62"/><path d="M25.9 23.1Q26.4 23.4 25.9 24.3" fill="none" stroke="#7e7690" stroke-width="0.5" stroke-opacity="0.62"/><path d="M23.1 17.4Q22.9 19.1 22.6 19.2" fill="none" stroke="#7e7690" stroke-width="0.5" stroke-opacity="0.62"/><path d="M2.8 15.0Q3.2 14.5 4.5 15.2" fill="none" stroke="#7e7690" stroke-width="0.5" stroke-opacity="0.62"/><path d="M20.8 21.1Q20.5 22.3 19.1 22.2" fill="none" stroke="#7e7690" stroke-width="0.5" stroke-opacity="0.62"/><path d="M21.6 1.7Q21.3 1.3 22.2 0.5" fill="none" stroke="#7e7690" stroke-width="0.5" stroke-opacity="0.62"/><path d="M28.5 9.6Q28.0 9.9 27.3 10.8" fill="none" stroke="#7e7690" stroke-width="0.5" stroke-opacity="0.62"/><path d="M6.5 29.5Q7.1 28.5 8.0 28.9" fill="none" stroke="#7e7690" stroke-width="0.5" stroke-opacity="0.62"/><path d="M6.5 12.8Q4.5 13.0 4.1 13.8" fill="none" stroke="#7e7690" stroke-width="0.5" stroke-opacity="0.62"/><path d="M12.8 18.0Q11.8 18.2 12.4 19.1" fill="none" stroke="#7e7690" stroke-width="0.5" stroke-opacity="0.62"/><path d="M15.5 24.6Q15.2 24.8 16.4 25.4" fill="none" stroke="#7e7690" stroke-width="0.5" stroke-opacity="0.62"/><path d="M28.0 30.6Q28.3 29.9 29.5 29.6" fill="none" stroke="#7e7690" stroke-width="0.5" stroke-opacity="0.62"/><path d="M7.3 15.9Q8.2 15.8 8.1 14.8" fill="none" stroke="#7e7690" stroke-width="0.5" stroke-opacity="0.62"/><path d="M20.0 10.3Q19.3 9.9 19.1 9.2" fill="none" stroke="#7e7690" stroke-width="0.5" stroke-opacity="0.62"/><path d="M6.0 18.2Q4.8 16.9 4.5 16.3" fill="none" stroke="#7e7690" stroke-width="0.5" stroke-opacity="0.62"/><path d="M9.9 10.4Q11.1 10.5 11.8 11.7" fill="none" stroke="#7e7690" stroke-width="0.5" stroke-opacity="0.62"/><path d="M16.7 22.2Q17.1 22.7 17.2 23.8" fill="none" stroke="#7e7690" stroke-width="0.5" stroke-opacity="0.62"/><path d="M17.4 22.7Q16.9 22.5 16.0 22.3" fill="none" stroke="#7e7690" stroke-width="0.5" stroke-opacity="0.62"/><circle cx="9.2" cy="6.7" r="0.83" fill="#5e363e" fill-opacity="0.85"/><circle cx="5.2" cy="4.1" r="0.45" fill="#5e363e" fill-opacity="0.85"/><circle cx="28.9" cy="7.5" r="0.77" fill="#5e363e" fill-opacity="0.85"/><circle cx="10.2" cy="19.7" r="0.71" fill="#5e363e" fill-opacity="0.85"/><circle cx="9.0" cy="11.8" r="0.86" fill="#5e363e" fill-opacity="0.85"/><circle cx="21.0" cy="4.2" r="0.83" fill="#5e363e" fill-opacity="0.85"/><circle cx="12.9" cy="0.1" r="0.69" fill="#5e363e" fill-opacity="0.85"/><circle cx="26.0" cy="18.6" r="0.57" fill="#5e363e" fill-opacity="0.85"/><circle cx="17.5" cy="2.6" r="0.49" fill="#5e363e" fill-opacity="0.85"/><circle cx="1.9" cy="16.8" r="0.69" fill="#5e363e" fill-opacity="0.85"/><circle cx="12.5" cy="19.4" r="0.55" fill="#5e363e" fill-opacity="0.85"/><circle cx="30.9" cy="5.4" r="0.64" fill="#5e363e" fill-opacity="0.85"/><circle cx="19.4" cy="3.3" r="0.89" fill="#5e363e" fill-opacity="0.85"/><circle cx="2.2" cy="22.6" r="0.48" fill="#5e363e" fill-opacity="0.85"/><circle cx="15.0" cy="27.8" r="0.73" fill="#5e363e" fill-opacity="0.85"/><circle cx="6.8" cy="28.7" r="0.53" fill="#5e363e" fill-opacity="0.85"/><circle cx="5.5" cy="15.9" r="0.74" fill="#5e363e" fill-opacity="0.85"/><circle cx="11.7" cy="16.6" r="0.69" fill="#5e363e" fill-opacity="0.85"/><circle cx="6.5" cy="13.5" r="0.55" fill="#5e363e" fill-opacity="0.85"/><circle cx="28.1" cy="20.1" r="0.51" fill="#5e363e" fill-opacity="0.85"/><circle cx="13.9" cy="8.4" r="0.76" fill="#5e363e" fill-opacity="0.85"/><circle cx="30.9" cy="8.7" r="0.75" fill="#5e363e" fill-opacity="0.85"/><circle cx="9.1" cy="13.4" r="0.68" fill="#5e363e" fill-opacity="0.85"/><circle cx="15.2" cy="16.2" r="0.70" fill="#5e363e" fill-opacity="0.85"/><circle cx="17.1" cy="25.8" r="0.85" fill="#5e363e" fill-opacity="0.85"/><circle cx="6.9" cy="16.4" r="0.81" fill="#5e363e" fill-opacity="0.85"/><circle cx="29.0" cy="12.3" r="0.56" fill="#5e363e" fill-opacity="0.85"/><circle cx="21.8" cy="28.7" r="0.53" fill="#5e363e" fill-opacity="0.85"/><circle cx="9.1" cy="21.2" r="0.51" fill="#5e363e" fill-opacity="0.85"/><circle cx="8.4" cy="11.1" r="0.59" fill="#5e363e" fill-opacity="0.85"/><circle cx="16.4" cy="14.1" r="0.53" fill="#5e363e" fill-opacity="0.85"/><circle cx="22.4" cy="15.8" r="0.80" fill="#5e363e" fill-opacity="0.85"/><circle cx="2.6" cy="28.5" r="0.65" fill="#5e363e" fill-opacity="0.85"/><circle cx="21.6" cy="16.8" r="0.88" fill="#5e363e" fill-opacity="0.85"/><circle cx="29.9" cy="16.4" r="0.63" fill="#5e363e" fill-opacity="0.85"/><circle cx="0.2" cy="2.7" r="0.53" fill="#5e363e" fill-opacity="0.85"/><circle cx="24.3" cy="9.3" r="0.51" fill="#5e363e" fill-opacity="0.85"/><circle cx="21.0" cy="3.4" r="0.52" fill="#5e363e" fill-opacity="0.85"/><circle cx="12.8" cy="29.4" r="0.60" fill="#5e363e" fill-opacity="0.85"/><circle cx="16.4" cy="16.7" r="0.46" fill="#5e363e" fill-opacity="0.85"/><circle cx="8.8" cy="4.8" r="0.56" fill="#5e363e" fill-opacity="0.85"/><circle cx="9.3" cy="12.7" r="0.65" fill="#5e363e" fill-opacity="0.85"/><circle cx="14.2" cy="5.3" r="0.52" fill="#5e363e" fill-opacity="0.85"/><circle cx="0.7" cy="26.0" r="0.69" fill="#5e363e" fill-opacity="0.85"/><circle cx="6.7" cy="13.0" r="0.46" fill="#5e363e" fill-opacity="0.85"/><circle cx="26.8" cy="26.5" r="0.63" fill="#98787a" fill-opacity="0.6"/><circle cx="11.7" cy="2.2" r="0.82" fill="#98787a" fill-opacity="0.6"/><circle cx="4.9" cy="14.1" r="0.85" fill="#98787a" fill-opacity="0.6"/><circle cx="28.0" cy="2.2" r="0.55" fill="#98787a" fill-opacity="0.6"/><circle cx="22.6" cy="23.0" r="0.57" fill="#98787a" fill-opacity="0.6"/><circle cx="18.0" cy="14.1" r="0.84" fill="#98787a" fill-opacity="0.6"/><circle cx="27.7" cy="28.6" r="0.76" fill="#98787a" fill-opacity="0.6"/><circle cx="20.3" cy="22.0" r="0.48" fill="#98787a" fill-opacity="0.6"/><circle cx="19.8" cy="15.2" r="0.62" fill="#98787a" fill-opacity="0.6"/><circle cx="9.0" cy="9.4" r="0.62" fill="#98787a" fill-opacity="0.6"/><circle cx="27.4" cy="30.9" r="0.63" fill="#98787a" fill-opacity="0.6"/><circle cx="16.8" cy="25.2" r="0.56" fill="#98787a" fill-opacity="0.6"/><circle cx="30.9" cy="16.4" r="0.46" fill="#98787a" fill-opacity="0.6"/><circle cx="10.6" cy="19.3" r="0.88" fill="#98787a" fill-opacity="0.6"/><circle cx="10.5" cy="12.3" r="0.63" fill="#98787a" fill-opacity="0.6"/><circle cx="4.0" cy="0.2" r="0.80" fill="#98787a" fill-opacity="0.6"/><circle cx="2.5" cy="22.9" r="0.82" fill="#98787a" fill-opacity="0.6"/><circle cx="26.5" cy="0.3" r="0.65" fill="#98787a" fill-opacity="0.6"/><circle cx="0.5" cy="3.6" r="0.54" fill="#98787a" fill-opacity="0.6"/><circle cx="14.4" cy="11.5" r="0.47" fill="#98787a" fill-opacity="0.6"/><circle cx="13.9" cy="21.2" r="0.57" fill="#98787a" fill-opacity="0.6"/><circle cx="21.5" cy="9.7" r="0.79" fill="#98787a" fill-opacity="0.6"/><circle cx="21.6" cy="14.7" r="0.57" fill="#98787a" fill-opacity="0.6"/><circle cx="9.2" cy="6.9" r="0.41" fill="#98787a" fill-opacity="0.6"/><circle cx="15.9" cy="22.6" r="0.61" fill="#98787a" fill-opacity="0.6"/><circle cx="15.2" cy="29.1" r="0.54" fill="#98787a" fill-opacity="0.6"/><circle cx="13.0" cy="27.3" r="0.78" fill="#98787a" fill-opacity="0.6"/><circle cx="5.0" cy="12.6" r="0.68" fill="#98787a" fill-opacity="0.6"/><circle cx="8.2" cy="24.2" r="0.81" fill="#98787a" fill-opacity="0.6"/><circle cx="1.2" cy="18.3" r="0.40" fill="#98787a" fill-opacity="0.6"/><circle cx="15.4" cy="0.2" r="0.84" fill="#fcfbfc" fill-opacity="0.85"/><circle cx="2.9" cy="1.6" r="0.89" fill="#fcfbfc" fill-opacity="0.85"/><circle cx="1.8" cy="11.0" r="0.43" fill="#fcfbfc" fill-opacity="0.85"/><circle cx="17.9" cy="7.2" r="0.69" fill="#fcfbfc" fill-opacity="0.85"/><circle cx="22.0" cy="17.0" r="0.90" fill="#fcfbfc" fill-opacity="0.85"/><circle cx="25.4" cy="5.8" r="0.60" fill="#fcfbfc" fill-opacity="0.85"/><circle cx="5.7" cy="24.8" r="0.82" fill="#fcfbfc" fill-opacity="0.85"/><circle cx="6.6" cy="7.2" r="0.47" fill="#fcfbfc" fill-opacity="0.85"/><circle cx="14.3" cy="7.6" r="0.69" fill="#fcfbfc" fill-opacity="0.85"/><circle cx="16.5" cy="21.7" r="0.77" fill="#fcfbfc" fill-opacity="0.85"/><circle cx="14.6" cy="8.5" r="0.90" fill="#fcfbfc" fill-opacity="0.85"/><circle cx="5.2" cy="6.9" r="0.62" fill="#fcfbfc" fill-opacity="0.85"/><circle cx="30.9" cy="5.2" r="0.98" fill="#fcfbfc" fill-opacity="0.85"/><circle cx="27.3" cy="28.7" r="1.06" fill="#fcfbfc" fill-opacity="0.85"/><circle cx="21.9" cy="4.4" r="0.54" fill="#fcfbfc" fill-opacity="0.85"/><circle cx="23.8" cy="22.3" r="0.77" fill="#fcfbfc" fill-opacity="0.85"/><circle cx="9.0" cy="27.0" r="0.64" fill="#fcfbfc" fill-opacity="0.85"/><circle cx="17.2" cy="28.4" r="0.71" fill="#fcfbfc" fill-opacity="0.85"/><circle cx="20.7" cy="11.5" r="0.93" fill="#fcfbfc" fill-opacity="0.85"/><circle cx="26.9" cy="0.8" r="0.70" fill="#fcfbfc" fill-opacity="0.85"/><circle cx="30.2" cy="30.8" r="0.77" fill="#fcfbfc" fill-opacity="0.85"/><circle cx="3.6" cy="4.6" r="1.05" fill="#fcfbfc" fill-opacity="0.85"/><circle cx="19.9" cy="4.3" r="1.07" fill="#fcfbfc" fill-opacity="0.85"/><circle cx="2.0" cy="10.1" r="0.90" fill="#fcfbfc" fill-opacity="0.85"/><circle cx="0.4" cy="17.4" r="0.77" fill="#fcfbfc" fill-opacity="0.85"/><circle cx="22.5" cy="12.9" r="0.77" fill="#fcfbfc" fill-opacity="0.85"/><circle cx="15.0" cy="6.5" r="0.89" fill="#fcfbfc" fill-opacity="0.85"/><circle cx="11.0" cy="20.8" r="0.80" fill="#fcfbfc" fill-opacity="0.85"/><circle cx="23.4" cy="24.1" r="0.60" fill="#fcfbfc" fill-opacity="0.85"/><circle cx="25.8" cy="24.5" r="0.85" fill="#fcfbfc" fill-opacity="0.85"/><circle cx="9.1" cy="2.7" r="1.08" fill="#fcfbfc" fill-opacity="0.85"/><circle cx="21.3" cy="3.3" r="1.05" fill="#fcfbfc" fill-opacity="0.85"/><circle cx="19.4" cy="7.2" r="0.62" fill="#fcfbfc" fill-opacity="0.85"/><circle cx="30.7" cy="8.0" r="0.61" fill="#fcfbfc" fill-opacity="0.85"/><circle cx="18.9" cy="12.6" r="0.53" fill="#fcfbfc" fill-opacity="0.85"/><circle cx="19.9" cy="3.8" r="0.40" fill="#fcfbfc" fill-opacity="0.85"/><circle cx="17.9" cy="23.2" r="1.02" fill="#fcfbfc" fill-opacity="0.85"/><circle cx="2.5" cy="3.7" r="0.55" fill="#fcfbfc" fill-opacity="0.85"/><circle cx="4.1" cy="1.9" r="0.65" fill="#fcfbfc" fill-opacity="0.85"/><circle cx="8.4" cy="22.5" r="0.49" fill="#fcfbfc" fill-opacity="0.85"/><circle cx="17.4" cy="30.9" r="0.49" fill="#fcfbfc" fill-opacity="0.85"/><circle cx="3.4" cy="15.5" r="0.96" fill="#fcfbfc" fill-opacity="0.85"/><circle cx="9.7" cy="7.7" r="0.93" fill="#fcfbfc" fill-opacity="0.85"/><circle cx="10.5" cy="12.3" r="0.77" fill="#fcfbfc" fill-opacity="0.85"/><circle cx="12.8" cy="12.9" r="0.80" fill="#fcfbfc" fill-opacity="0.85"/><circle cx="29.5" cy="30.6" r="0.67" fill="#fcfbfc" fill-opacity="0.85"/><circle cx="2.1" cy="20.3" r="0.75" fill="#fcfbfc" fill-opacity="0.85"/><circle cx="14.6" cy="28.2" r="0.48" fill="#fcfbfc" fill-opacity="0.85"/><circle cx="24.3" cy="24.9" r="1.00" fill="#fcfbfc" fill-opacity="0.85"/><circle cx="25.5" cy="18.1" r="0.68" fill="#fcfbfc" fill-opacity="0.85"/><circle cx="15.3" cy="6.7" r="0.44" fill="#fcfbfc" fill-opacity="0.85"/><circle cx="10.8" cy="23.2" r="0.96" fill="#fcfbfc" fill-opacity="0.85"/><circle cx="16.3" cy="5.0" r="0.43" fill="#fcfbfc" fill-opacity="0.85"/><circle cx="14.4" cy="30.8" r="0.51" fill="#fcfbfc" fill-opacity="0.85"/><circle cx="7.1" cy="3.0" r="0.85" fill="#fcfbfc" fill-opacity="0.85"/></pattern><pattern id="tkib" patternUnits="userSpaceOnUse" width="28" height="28"><rect width="28" height="28" fill="#e6e7f1"/><path d="M27.0 0.3Q28.6 0.3 28.2 2.2" fill="none" stroke="#a4a7cc" stroke-width="0.45" stroke-opacity="0.6"/><path d="M24.6 19.1Q25.3 18.8 27.0 19.1" fill="none" stroke="#a4a7cc" stroke-width="0.45" stroke-opacity="0.6"/><path d="M19.8 7.9Q20.6 9.3 20.0 9.3" fill="none" stroke="#a4a7cc" stroke-width="0.45" stroke-opacity="0.6"/><path d="M22.3 6.3Q20.6 6.1 19.9 6.1" fill="none" stroke="#a4a7cc" stroke-width="0.45" stroke-opacity="0.6"/><path d="M11.8 2.2Q11.3 3.8 10.5 3.7" fill="none" stroke="#a4a7cc" stroke-width="0.45" stroke-opacity="0.6"/><path d="M18.1 11.3Q19.2 12.2 20.5 11.3" fill="none" stroke="#a4a7cc" stroke-width="0.45" stroke-opacity="0.6"/><path d="M0.5 3.9Q1.5 4.1 1.7 3.4" fill="none" stroke="#a4a7cc" stroke-width="0.45" stroke-opacity="0.6"/><path d="M8.0 13.9Q8.2 13.7 10.0 15.3" fill="none" stroke="#a4a7cc" stroke-width="0.45" stroke-opacity="0.6"/><path d="M13.1 23.5Q12.4 23.4 11.6 24.6" fill="none" stroke="#a4a7cc" stroke-width="0.45" stroke-opacity="0.6"/><path d="M26.5 9.9Q26.9 10.2 26.0 11.2" fill="none" stroke="#a4a7cc" stroke-width="0.45" stroke-opacity="0.6"/><path d="M25.3 9.4Q26.9 10.4 26.9 10.2" fill="none" stroke="#a4a7cc" stroke-width="0.45" stroke-opacity="0.6"/><path d="M13.3 3.2Q13.3 4.7 12.0 4.5" fill="none" stroke="#a4a7cc" stroke-width="0.45" stroke-opacity="0.6"/><path d="M20.8 8.0Q22.1 7.0 21.6 7.4" fill="none" stroke="#a4a7cc" stroke-width="0.45" stroke-opacity="0.6"/><path d="M14.0 13.5Q14.4 14.5 16.5 14.2" fill="none" stroke="#a4a7cc" stroke-width="0.45" stroke-opacity="0.6"/><path d="M15.9 12.9Q15.4 11.8 14.1 11.7" fill="none" stroke="#a4a7cc" stroke-width="0.45" stroke-opacity="0.6"/><path d="M2.4 0.2Q1.7 -0.7 1.5 -1.0" fill="none" stroke="#a4a7cc" stroke-width="0.45" stroke-opacity="0.6"/><path d="M17.3 19.7Q17.6 21.3 16.6 21.6" fill="none" stroke="#a4a7cc" stroke-width="0.45" stroke-opacity="0.6"/><path d="M25.0 25.0Q24.5 24.3 24.5 24.1" fill="none" stroke="#a4a7cc" stroke-width="0.45" stroke-opacity="0.6"/><path d="M14.5 4.0Q14.9 4.8 15.9 3.9" fill="none" stroke="#a4a7cc" stroke-width="0.45" stroke-opacity="0.6"/><path d="M19.2 8.8Q19.0 8.0 18.0 7.9" fill="none" stroke="#a4a7cc" stroke-width="0.45" stroke-opacity="0.6"/><path d="M1.7 4.8Q0.7 4.3 1.3 2.5" fill="none" stroke="#a4a7cc" stroke-width="0.45" stroke-opacity="0.6"/><path d="M16.1 9.4Q16.2 9.9 17.8 11.1" fill="none" stroke="#a4a7cc" stroke-width="0.45" stroke-opacity="0.6"/><path d="M20.7 15.3Q21.2 15.4 22.1 14.4" fill="none" stroke="#a4a7cc" stroke-width="0.45" stroke-opacity="0.6"/><path d="M0.1 21.9Q0.5 21.7 -0.6 20.9" fill="none" stroke="#a4a7cc" stroke-width="0.45" stroke-opacity="0.6"/><path d="M16.2 15.4Q14.9 16.3 14.7 17.0" fill="none" stroke="#a4a7cc" stroke-width="0.45" stroke-opacity="0.6"/><path d="M14.6 3.3Q13.0 3.9 12.8 3.6" fill="none" stroke="#a4a7cc" stroke-width="0.45" stroke-opacity="0.6"/><path d="M21.8 9.5Q23.3 9.2 24.2 9.3" fill="none" stroke="#a4a7cc" stroke-width="0.45" stroke-opacity="0.6"/><path d="M7.6 3.6Q7.5 4.5 9.1 3.6" fill="none" stroke="#a4a7cc" stroke-width="0.45" stroke-opacity="0.6"/><path d="M19.5 21.9Q18.6 21.8 18.8 21.0" fill="none" stroke="#a4a7cc" stroke-width="0.45" stroke-opacity="0.6"/><path d="M22.2 20.2Q22.4 18.9 23.6 19.0" fill="none" stroke="#a4a7cc" stroke-width="0.45" stroke-opacity="0.6"/><path d="M24.2 1.6Q24.3 1.7 22.8 2.4" fill="none" stroke="#a4a7cc" stroke-width="0.45" stroke-opacity="0.6"/><path d="M15.9 14.0Q15.0 14.4 14.2 14.3" fill="none" stroke="#a4a7cc" stroke-width="0.45" stroke-opacity="0.6"/><path d="M12.1 11.8Q12.8 12.6 14.6 11.5" fill="none" stroke="#a4a7cc" stroke-width="0.45" stroke-opacity="0.6"/><path d="M0.7 9.3Q1.6 11.4 1.9 11.4" fill="none" stroke="#a4a7cc" stroke-width="0.45" stroke-opacity="0.6"/><path d="M17.1 12.9Q16.6 13.6 16.1 13.2" fill="none" stroke="#a4a7cc" stroke-width="0.45" stroke-opacity="0.6"/><path d="M10.9 22.6Q10.9 21.3 9.8 21.3" fill="none" stroke="#a4a7cc" stroke-width="0.45" stroke-opacity="0.6"/><path d="M26.7 12.6Q27.7 12.5 28.4 12.3" fill="none" stroke="#a4a7cc" stroke-width="0.45" stroke-opacity="0.6"/><path d="M6.0 6.2Q5.2 6.5 3.8 6.1" fill="none" stroke="#a4a7cc" stroke-width="0.45" stroke-opacity="0.6"/><path d="M19.1 9.1Q17.3 10.2 16.8 9.8" fill="none" stroke="#a4a7cc" stroke-width="0.45" stroke-opacity="0.6"/><path d="M25.2 3.4Q24.3 2.4 24.3 1.1" fill="none" stroke="#a4a7cc" stroke-width="0.45" stroke-opacity="0.6"/><path d="M25.8 4.3Q25.2 6.2 25.9 6.3" fill="none" stroke="#a4a7cc" stroke-width="0.45" stroke-opacity="0.6"/><path d="M27.9 18.3Q26.8 19.3 26.1 19.7" fill="none" stroke="#a4a7cc" stroke-width="0.45" stroke-opacity="0.6"/><path d="M22.8 19.6Q22.0 19.6 21.6 18.4" fill="none" stroke="#a4a7cc" stroke-width="0.45" stroke-opacity="0.6"/><path d="M24.3 21.7Q24.7 21.9 23.2 22.7" fill="none" stroke="#a4a7cc" stroke-width="0.45" stroke-opacity="0.6"/><path d="M18.6 2.7Q19.0 2.8 18.8 3.9" fill="none" stroke="#a4a7cc" stroke-width="0.45" stroke-opacity="0.6"/><path d="M18.4 2.0Q17.6 0.5 17.8 0.0" fill="none" stroke="#a4a7cc" stroke-width="0.45" stroke-opacity="0.6"/><path d="M7.0 13.8Q7.7 15.3 7.2 15.1" fill="none" stroke="#a4a7cc" stroke-width="0.45" stroke-opacity="0.6"/><path d="M4.5 14.5Q5.6 14.3 6.5 13.9" fill="none" stroke="#a4a7cc" stroke-width="0.45" stroke-opacity="0.6"/><path d="M21.6 22.1Q21.5 20.4 20.1 20.6" fill="none" stroke="#a4a7cc" stroke-width="0.45" stroke-opacity="0.6"/><path d="M21.5 6.2Q20.9 6.9 20.3 7.2" fill="none" stroke="#a4a7cc" stroke-width="0.45" stroke-opacity="0.6"/><path d="M16.4 8.9Q16.9 8.0 15.6 7.6" fill="none" stroke="#a4a7cc" stroke-width="0.45" stroke-opacity="0.6"/><path d="M0.2 23.9Q1.1 22.7 1.5 21.9" fill="none" stroke="#a4a7cc" stroke-width="0.45" stroke-opacity="0.6"/><path d="M1.8 25.8Q2.7 25.5 3.0 27.0" fill="none" stroke="#a4a7cc" stroke-width="0.45" stroke-opacity="0.6"/><path d="M10.9 16.9Q9.6 17.5 9.4 18.7" fill="none" stroke="#a4a7cc" stroke-width="0.45" stroke-opacity="0.6"/><path d="M23.0 2.5Q23.5 3.8 22.3 3.5" fill="none" stroke="#a4a7cc" stroke-width="0.45" stroke-opacity="0.6"/><path d="M27.1 1.4Q27.8 2.6 28.2 2.8" fill="none" stroke="#a4a7cc" stroke-width="0.45" stroke-opacity="0.6"/><path d="M13.5 19.3Q12.2 18.8 11.4 19.2" fill="none" stroke="#a4a7cc" stroke-width="0.45" stroke-opacity="0.6"/><path d="M20.2 27.5Q22.0 27.2 22.4 26.3" fill="none" stroke="#a4a7cc" stroke-width="0.45" stroke-opacity="0.6"/><path d="M13.9 3.4Q15.2 5.1 14.8 5.5" fill="none" stroke="#a4a7cc" stroke-width="0.45" stroke-opacity="0.6"/><path d="M7.9 25.4Q7.6 23.9 8.8 23.3" fill="none" stroke="#a4a7cc" stroke-width="0.45" stroke-opacity="0.6"/><path d="M4.3 26.4Q4.2 26.4 3.0 26.8" fill="none" stroke="#a4a7cc" stroke-width="0.45" stroke-opacity="0.6"/><path d="M17.7 17.5Q18.8 17.6 19.1 16.8" fill="none" stroke="#a4a7cc" stroke-width="0.45" stroke-opacity="0.6"/><path d="M20.5 17.4Q21.9 16.2 21.6 16.7" fill="none" stroke="#a4a7cc" stroke-width="0.45" stroke-opacity="0.6"/><path d="M10.3 5.2Q9.6 4.2 9.2 4.7" fill="none" stroke="#a4a7cc" stroke-width="0.45" stroke-opacity="0.6"/><path d="M13.5 19.5Q13.4 19.7 12.8 18.5" fill="none" stroke="#a4a7cc" stroke-width="0.45" stroke-opacity="0.6"/><path d="M28.0 24.7Q28.3 24.4 29.4 25.5" fill="none" stroke="#a4a7cc" stroke-width="0.45" stroke-opacity="0.6"/><path d="M23.9 10.2Q23.7 10.3 23.6 8.4" fill="none" stroke="#a4a7cc" stroke-width="0.45" stroke-opacity="0.6"/><path d="M18.5 16.7Q18.9 17.2 18.5 18.0" fill="none" stroke="#a4a7cc" stroke-width="0.45" stroke-opacity="0.6"/><path d="M16.2 24.6Q16.5 22.9 17.3 22.8" fill="none" stroke="#a4a7cc" stroke-width="0.45" stroke-opacity="0.6"/><path d="M7.8 25.3Q7.4 26.8 8.8 26.3" fill="none" stroke="#a4a7cc" stroke-width="0.45" stroke-opacity="0.6"/><path d="M5.9 2.1Q7.1 2.7 7.4 2.6" fill="none" stroke="#a4a7cc" stroke-width="0.45" stroke-opacity="0.6"/><path d="M11.8 20.3Q12.3 20.3 12.1 19.3" fill="none" stroke="#a4a7cc" stroke-width="0.45" stroke-opacity="0.6"/><path d="M4.0 26.7Q2.4 26.9 1.4 27.0" fill="none" stroke="#a4a7cc" stroke-width="0.45" stroke-opacity="0.6"/><path d="M19.8 12.9Q21.2 12.4 21.6 12.4" fill="none" stroke="#a4a7cc" stroke-width="0.45" stroke-opacity="0.6"/><path d="M25.5 22.1Q24.6 21.7 24.4 22.1" fill="none" stroke="#a4a7cc" stroke-width="0.45" stroke-opacity="0.6"/><path d="M10.4 23.4Q9.5 23.7 10.4 25.4" fill="none" stroke="#a4a7cc" stroke-width="0.45" stroke-opacity="0.6"/><path d="M10.5 15.2Q9.8 15.2 8.9 16.0" fill="none" stroke="#a4a7cc" stroke-width="0.45" stroke-opacity="0.6"/><path d="M26.6 6.2Q26.9 5.3 25.8 4.8" fill="none" stroke="#a4a7cc" stroke-width="0.45" stroke-opacity="0.6"/><path d="M17.8 7.1Q17.4 7.5 18.8 6.9" fill="none" stroke="#a4a7cc" stroke-width="0.45" stroke-opacity="0.6"/><path d="M0.9 8.4Q2.2 7.4 2.4 7.3" fill="none" stroke="#a4a7cc" stroke-width="0.45" stroke-opacity="0.6"/><path d="M0.2 21.1Q0.5 21.0 2.2 20.2" fill="none" stroke="#a4a7cc" stroke-width="0.45" stroke-opacity="0.6"/><path d="M17.3 24.6Q18.1 22.6 17.6 22.2" fill="none" stroke="#a4a7cc" stroke-width="0.45" stroke-opacity="0.6"/><path d="M27.6 16.9Q28.4 18.7 29.1 18.9" fill="none" stroke="#a4a7cc" stroke-width="0.45" stroke-opacity="0.6"/><path d="M27.0 17.1Q27.5 16.8 29.4 17.5" fill="none" stroke="#a4a7cc" stroke-width="0.45" stroke-opacity="0.6"/><path d="M24.5 20.0Q25.2 18.8 25.9 19.1" fill="none" stroke="#a4a7cc" stroke-width="0.45" stroke-opacity="0.6"/><path d="M26.4 20.7Q26.6 20.2 26.9 18.1" fill="none" stroke="#a4a7cc" stroke-width="0.45" stroke-opacity="0.6"/><path d="M3.7 0.2Q3.6 0.5 5.1 -0.2" fill="none" stroke="#a4a7cc" stroke-width="0.45" stroke-opacity="0.6"/><path d="M15.1 3.7Q14.7 3.8 14.8 2.4" fill="none" stroke="#a4a7cc" stroke-width="0.45" stroke-opacity="0.6"/><path d="M1.4 16.1Q1.1 17.4 1.6 18.5" fill="none" stroke="#a4a7cc" stroke-width="0.45" stroke-opacity="0.6"/><path d="M4.9 18.1Q3.7 20.0 3.8 20.4" fill="none" stroke="#a4a7cc" stroke-width="0.45" stroke-opacity="0.6"/><circle cx="1.5" cy="23.9" r="0.43" fill="#8c90ba" fill-opacity="0.8"/><circle cx="22.4" cy="10.5" r="0.59" fill="#8c90ba" fill-opacity="0.8"/><circle cx="18.4" cy="16.7" r="0.32" fill="#8c90ba" fill-opacity="0.8"/><circle cx="16.3" cy="6.6" r="0.51" fill="#8c90ba" fill-opacity="0.8"/><circle cx="8.9" cy="6.4" r="0.34" fill="#8c90ba" fill-opacity="0.8"/><circle cx="7.1" cy="3.5" r="0.38" fill="#8c90ba" fill-opacity="0.8"/><circle cx="15.0" cy="24.0" r="0.53" fill="#8c90ba" fill-opacity="0.8"/><circle cx="10.1" cy="25.9" r="0.41" fill="#8c90ba" fill-opacity="0.8"/><circle cx="12.0" cy="15.3" r="0.48" fill="#8c90ba" fill-opacity="0.8"/><circle cx="13.8" cy="18.6" r="0.36" fill="#8c90ba" fill-opacity="0.8"/><circle cx="5.9" cy="9.4" r="0.43" fill="#8c90ba" fill-opacity="0.8"/><circle cx="7.1" cy="15.9" r="0.32" fill="#8c90ba" fill-opacity="0.8"/><circle cx="11.9" cy="12.8" r="0.48" fill="#8c90ba" fill-opacity="0.8"/><circle cx="4.0" cy="18.4" r="0.44" fill="#8c90ba" fill-opacity="0.8"/><circle cx="25.9" cy="3.9" r="0.42" fill="#8c90ba" fill-opacity="0.8"/><circle cx="21.9" cy="26.2" r="0.89" fill="#f6f6fb" fill-opacity="0.8"/><circle cx="24.9" cy="12.3" r="0.54" fill="#f6f6fb" fill-opacity="0.8"/><circle cx="7.2" cy="17.8" r="0.80" fill="#f6f6fb" fill-opacity="0.8"/><circle cx="11.9" cy="5.3" r="0.92" fill="#f6f6fb" fill-opacity="0.8"/><circle cx="9.1" cy="6.7" r="0.90" fill="#f6f6fb" fill-opacity="0.8"/><circle cx="21.7" cy="18.8" r="0.88" fill="#f6f6fb" fill-opacity="0.8"/><circle cx="17.4" cy="17.4" r="0.63" fill="#f6f6fb" fill-opacity="0.8"/><circle cx="4.9" cy="26.1" r="0.46" fill="#f6f6fb" fill-opacity="0.8"/><circle cx="21.6" cy="8.9" r="0.85" fill="#f6f6fb" fill-opacity="0.8"/><circle cx="25.2" cy="21.9" r="0.41" fill="#f6f6fb" fill-opacity="0.8"/><circle cx="24.4" cy="6.5" r="0.56" fill="#f6f6fb" fill-opacity="0.8"/><circle cx="27.6" cy="23.6" r="0.50" fill="#f6f6fb" fill-opacity="0.8"/><circle cx="23.8" cy="7.3" r="0.78" fill="#f6f6fb" fill-opacity="0.8"/><circle cx="22.8" cy="2.0" r="0.51" fill="#f6f6fb" fill-opacity="0.8"/><circle cx="3.6" cy="4.0" r="0.94" fill="#f6f6fb" fill-opacity="0.8"/><circle cx="0.9" cy="8.9" r="0.91" fill="#f6f6fb" fill-opacity="0.8"/><circle cx="0.6" cy="12.9" r="0.90" fill="#f6f6fb" fill-opacity="0.8"/><circle cx="25.6" cy="23.0" r="0.43" fill="#f6f6fb" fill-opacity="0.8"/><circle cx="1.1" cy="20.8" r="0.68" fill="#f6f6fb" fill-opacity="0.8"/><circle cx="13.7" cy="19.0" r="0.88" fill="#f6f6fb" fill-opacity="0.8"/><circle cx="7.8" cy="26.9" r="0.58" fill="#f6f6fb" fill-opacity="0.8"/><circle cx="24.4" cy="2.2" r="0.42" fill="#f6f6fb" fill-opacity="0.8"/><circle cx="16.8" cy="21.0" r="0.78" fill="#f6f6fb" fill-opacity="0.8"/><circle cx="1.8" cy="26.1" r="0.95" fill="#f6f6fb" fill-opacity="0.8"/><circle cx="25.3" cy="19.7" r="0.40" fill="#f6f6fb" fill-opacity="0.8"/><circle cx="12.4" cy="5.2" r="0.54" fill="#f6f6fb" fill-opacity="0.8"/><circle cx="13.4" cy="23.9" r="0.79" fill="#f6f6fb" fill-opacity="0.8"/><circle cx="27.4" cy="9.9" r="0.46" fill="#f6f6fb" fill-opacity="0.8"/><circle cx="22.4" cy="24.7" r="0.70" fill="#f6f6fb" fill-opacity="0.8"/><circle cx="6.5" cy="17.9" r="0.55" fill="#f6f6fb" fill-opacity="0.8"/><circle cx="11.2" cy="16.5" r="0.83" fill="#f6f6fb" fill-opacity="0.8"/><circle cx="20.7" cy="2.8" r="0.64" fill="#f6f6fb" fill-opacity="0.8"/><circle cx="14.3" cy="8.7" r="0.44" fill="#f6f6fb" fill-opacity="0.8"/><circle cx="7.3" cy="12.2" r="0.78" fill="#f6f6fb" fill-opacity="0.8"/><circle cx="27.4" cy="5.7" r="0.74" fill="#f6f6fb" fill-opacity="0.8"/><circle cx="5.9" cy="3.7" r="0.57" fill="#f6f6fb" fill-opacity="0.8"/><circle cx="11.9" cy="23.7" r="0.59" fill="#f6f6fb" fill-opacity="0.8"/><circle cx="26.5" cy="21.9" r="0.64" fill="#f6f6fb" fill-opacity="0.8"/><circle cx="24.6" cy="7.6" r="0.41" fill="#f6f6fb" fill-opacity="0.8"/><circle cx="12.8" cy="17.4" r="0.81" fill="#f6f6fb" fill-opacity="0.8"/><circle cx="0.4" cy="0.4" r="0.81" fill="#f6f6fb" fill-opacity="0.8"/><circle cx="25.9" cy="13.7" r="0.86" fill="#f6f6fb" fill-opacity="0.8"/><circle cx="4.9" cy="4.0" r="0.68" fill="#f6f6fb" fill-opacity="0.8"/><circle cx="26.9" cy="3.2" r="0.72" fill="#f6f6fb" fill-opacity="0.8"/><circle cx="19.2" cy="0.6" r="0.88" fill="#f6f6fb" fill-opacity="0.8"/></pattern><pattern id="tkibl" patternUnits="userSpaceOnUse" width="28" height="28"><rect width="28" height="28" fill="#eceef5"/><path d="M25.4 19.2Q25.8 18.9 27.2 18.0" fill="none" stroke="#b2b5d4" stroke-width="0.45" stroke-opacity="0.55"/><path d="M25.3 24.4Q25.6 26.2 26.3 26.1" fill="none" stroke="#b2b5d4" stroke-width="0.45" stroke-opacity="0.55"/><path d="M2.9 8.9Q1.1 9.0 0.5 9.7" fill="none" stroke="#b2b5d4" stroke-width="0.45" stroke-opacity="0.55"/><path d="M25.4 9.4Q25.5 8.8 24.3 8.2" fill="none" stroke="#b2b5d4" stroke-width="0.45" stroke-opacity="0.55"/><path d="M2.3 16.0Q2.1 16.7 3.2 16.6" fill="none" stroke="#b2b5d4" stroke-width="0.45" stroke-opacity="0.55"/><path d="M7.9 19.3Q7.4 20.2 8.9 20.2" fill="none" stroke="#b2b5d4" stroke-width="0.45" stroke-opacity="0.55"/><path d="M24.1 6.2Q25.0 5.8 25.4 6.3" fill="none" stroke="#b2b5d4" stroke-width="0.45" stroke-opacity="0.55"/><path d="M3.8 18.1Q2.2 18.7 2.0 18.7" fill="none" stroke="#b2b5d4" stroke-width="0.45" stroke-opacity="0.55"/><path d="M15.6 12.1Q16.9 12.2 16.7 11.6" fill="none" stroke="#b2b5d4" stroke-width="0.45" stroke-opacity="0.55"/><path d="M27.9 16.3Q28.7 16.8 29.0 17.3" fill="none" stroke="#b2b5d4" stroke-width="0.45" stroke-opacity="0.55"/><path d="M12.2 27.8Q13.9 27.6 14.0 29.3" fill="none" stroke="#b2b5d4" stroke-width="0.45" stroke-opacity="0.55"/><path d="M18.2 8.8Q19.3 9.0 20.3 8.2" fill="none" stroke="#b2b5d4" stroke-width="0.45" stroke-opacity="0.55"/><path d="M1.5 18.7Q0.6 18.0 0.4 19.0" fill="none" stroke="#b2b5d4" stroke-width="0.45" stroke-opacity="0.55"/><path d="M20.9 2.6Q21.9 2.6 22.1 3.3" fill="none" stroke="#b2b5d4" stroke-width="0.45" stroke-opacity="0.55"/><path d="M1.2 0.8Q-0.4 -0.2 -0.1 0.7" fill="none" stroke="#b2b5d4" stroke-width="0.45" stroke-opacity="0.55"/><path d="M18.7 14.8Q17.7 14.9 18.2 15.9" fill="none" stroke="#b2b5d4" stroke-width="0.45" stroke-opacity="0.55"/><path d="M10.9 6.1Q10.6 6.9 11.1 7.4" fill="none" stroke="#b2b5d4" stroke-width="0.45" stroke-opacity="0.55"/><path d="M24.8 18.1Q25.0 18.4 26.5 18.2" fill="none" stroke="#b2b5d4" stroke-width="0.45" stroke-opacity="0.55"/><path d="M11.3 23.7Q10.7 24.5 10.6 26.1" fill="none" stroke="#b2b5d4" stroke-width="0.45" stroke-opacity="0.55"/><path d="M18.9 2.8Q19.2 3.2 20.0 1.8" fill="none" stroke="#b2b5d4" stroke-width="0.45" stroke-opacity="0.55"/><path d="M11.1 23.4Q11.9 23.4 12.5 24.5" fill="none" stroke="#b2b5d4" stroke-width="0.45" stroke-opacity="0.55"/><path d="M25.7 19.6Q26.6 20.1 27.3 18.8" fill="none" stroke="#b2b5d4" stroke-width="0.45" stroke-opacity="0.55"/><path d="M20.0 5.0Q19.6 5.4 20.8 3.8" fill="none" stroke="#b2b5d4" stroke-width="0.45" stroke-opacity="0.55"/><path d="M1.2 21.0Q0.5 21.7 -0.5 22.1" fill="none" stroke="#b2b5d4" stroke-width="0.45" stroke-opacity="0.55"/><path d="M10.1 7.9Q10.5 7.2 9.5 7.0" fill="none" stroke="#b2b5d4" stroke-width="0.45" stroke-opacity="0.55"/><path d="M24.0 11.1Q25.1 9.6 24.5 9.8" fill="none" stroke="#b2b5d4" stroke-width="0.45" stroke-opacity="0.55"/><path d="M24.4 8.9Q25.1 9.7 23.8 11.1" fill="none" stroke="#b2b5d4" stroke-width="0.45" stroke-opacity="0.55"/><path d="M5.8 1.5Q6.9 0.8 6.8 2.1" fill="none" stroke="#b2b5d4" stroke-width="0.45" stroke-opacity="0.55"/><path d="M3.3 6.7Q2.4 6.5 3.5 5.5" fill="none" stroke="#b2b5d4" stroke-width="0.45" stroke-opacity="0.55"/><path d="M9.8 4.1Q8.6 3.8 8.4 3.9" fill="none" stroke="#b2b5d4" stroke-width="0.45" stroke-opacity="0.55"/><path d="M10.9 15.0Q10.8 16.5 10.3 17.1" fill="none" stroke="#b2b5d4" stroke-width="0.45" stroke-opacity="0.55"/><path d="M8.3 21.4Q7.4 20.7 7.2 21.4" fill="none" stroke="#b2b5d4" stroke-width="0.45" stroke-opacity="0.55"/><path d="M18.5 23.9Q18.7 25.5 17.4 25.3" fill="none" stroke="#b2b5d4" stroke-width="0.45" stroke-opacity="0.55"/><path d="M17.6 15.7Q17.7 14.8 17.0 13.8" fill="none" stroke="#b2b5d4" stroke-width="0.45" stroke-opacity="0.55"/><path d="M21.1 20.9Q19.8 20.1 19.1 20.5" fill="none" stroke="#b2b5d4" stroke-width="0.45" stroke-opacity="0.55"/><path d="M14.2 8.6Q15.4 8.6 15.0 10.2" fill="none" stroke="#b2b5d4" stroke-width="0.45" stroke-opacity="0.55"/><path d="M24.6 15.9Q24.9 14.6 26.4 14.2" fill="none" stroke="#b2b5d4" stroke-width="0.45" stroke-opacity="0.55"/><path d="M27.9 18.5Q27.0 18.7 27.8 19.7" fill="none" stroke="#b2b5d4" stroke-width="0.45" stroke-opacity="0.55"/><path d="M2.1 1.1Q2.0 1.2 1.1 1.3" fill="none" stroke="#b2b5d4" stroke-width="0.45" stroke-opacity="0.55"/><path d="M18.8 18.3Q18.6 17.6 18.4 17.1" fill="none" stroke="#b2b5d4" stroke-width="0.45" stroke-opacity="0.55"/><path d="M26.9 12.8Q27.1 11.0 27.3 10.7" fill="none" stroke="#b2b5d4" stroke-width="0.45" stroke-opacity="0.55"/><path d="M5.3 8.1Q3.9 9.0 4.3 8.9" fill="none" stroke="#b2b5d4" stroke-width="0.45" stroke-opacity="0.55"/><path d="M21.5 17.8Q22.4 19.1 21.8 19.0" fill="none" stroke="#b2b5d4" stroke-width="0.45" stroke-opacity="0.55"/><path d="M20.4 24.3Q20.1 24.9 20.0 25.6" fill="none" stroke="#b2b5d4" stroke-width="0.45" stroke-opacity="0.55"/><path d="M10.2 6.9Q10.8 8.5 11.1 9.0" fill="none" stroke="#b2b5d4" stroke-width="0.45" stroke-opacity="0.55"/><path d="M4.2 9.4Q4.9 10.9 3.9 11.0" fill="none" stroke="#b2b5d4" stroke-width="0.45" stroke-opacity="0.55"/><path d="M3.6 1.9Q1.7 2.6 1.7 1.8" fill="none" stroke="#b2b5d4" stroke-width="0.45" stroke-opacity="0.55"/><path d="M24.5 15.8Q25.4 16.7 24.9 16.8" fill="none" stroke="#b2b5d4" stroke-width="0.45" stroke-opacity="0.55"/><path d="M12.4 26.2Q12.9 26.3 12.0 25.2" fill="none" stroke="#b2b5d4" stroke-width="0.45" stroke-opacity="0.55"/><path d="M2.7 19.7Q1.3 20.0 1.4 18.3" fill="none" stroke="#b2b5d4" stroke-width="0.45" stroke-opacity="0.55"/><path d="M27.1 3.3Q26.1 2.7 25.3 2.9" fill="none" stroke="#b2b5d4" stroke-width="0.45" stroke-opacity="0.55"/><path d="M6.7 20.5Q5.8 20.3 4.9 21.0" fill="none" stroke="#b2b5d4" stroke-width="0.45" stroke-opacity="0.55"/><path d="M25.2 21.5Q25.0 22.4 24.7 22.8" fill="none" stroke="#b2b5d4" stroke-width="0.45" stroke-opacity="0.55"/><path d="M25.2 26.0Q24.6 25.7 25.9 25.2" fill="none" stroke="#b2b5d4" stroke-width="0.45" stroke-opacity="0.55"/><path d="M21.6 5.0Q22.1 6.0 22.8 5.6" fill="none" stroke="#b2b5d4" stroke-width="0.45" stroke-opacity="0.55"/><path d="M0.0 21.2Q0.9 20.8 1.5 20.5" fill="none" stroke="#b2b5d4" stroke-width="0.45" stroke-opacity="0.55"/><path d="M8.0 23.8Q8.1 23.6 7.5 22.1" fill="none" stroke="#b2b5d4" stroke-width="0.45" stroke-opacity="0.55"/><path d="M8.3 2.9Q7.1 1.6 7.3 2.0" fill="none" stroke="#b2b5d4" stroke-width="0.45" stroke-opacity="0.55"/><path d="M9.9 18.6Q8.9 20.1 9.5 19.8" fill="none" stroke="#b2b5d4" stroke-width="0.45" stroke-opacity="0.55"/><path d="M25.5 27.6Q24.3 28.0 24.0 29.0" fill="none" stroke="#b2b5d4" stroke-width="0.45" stroke-opacity="0.55"/><path d="M21.9 15.2Q23.0 13.8 22.8 14.4" fill="none" stroke="#b2b5d4" stroke-width="0.45" stroke-opacity="0.55"/><path d="M2.6 14.2Q2.4 14.3 3.4 12.6" fill="none" stroke="#b2b5d4" stroke-width="0.45" stroke-opacity="0.55"/><path d="M9.8 4.1Q10.5 2.2 10.0 1.6" fill="none" stroke="#b2b5d4" stroke-width="0.45" stroke-opacity="0.55"/><path d="M27.0 8.5Q26.8 6.9 28.2 7.3" fill="none" stroke="#b2b5d4" stroke-width="0.45" stroke-opacity="0.55"/><path d="M17.3 14.3Q18.3 14.5 19.8 13.8" fill="none" stroke="#b2b5d4" stroke-width="0.45" stroke-opacity="0.55"/><path d="M0.7 20.1Q-0.1 20.8 -0.1 21.7" fill="none" stroke="#b2b5d4" stroke-width="0.45" stroke-opacity="0.55"/><path d="M12.7 8.7Q12.3 9.5 13.7 8.9" fill="none" stroke="#b2b5d4" stroke-width="0.45" stroke-opacity="0.55"/><path d="M11.8 12.9Q13.5 14.3 13.9 14.1" fill="none" stroke="#b2b5d4" stroke-width="0.45" stroke-opacity="0.55"/><path d="M12.0 19.8Q10.7 20.6 11.2 20.4" fill="none" stroke="#b2b5d4" stroke-width="0.45" stroke-opacity="0.55"/><path d="M27.2 26.0Q27.9 24.1 27.9 24.3" fill="none" stroke="#b2b5d4" stroke-width="0.45" stroke-opacity="0.55"/><circle cx="8.8" cy="2.9" r="0.43" fill="#9a9ec4" fill-opacity="0.8"/><circle cx="9.3" cy="0.7" r="0.30" fill="#9a9ec4" fill-opacity="0.8"/><circle cx="3.3" cy="15.8" r="0.55" fill="#9a9ec4" fill-opacity="0.8"/><circle cx="17.9" cy="24.6" r="0.37" fill="#9a9ec4" fill-opacity="0.8"/><circle cx="7.0" cy="10.4" r="0.32" fill="#9a9ec4" fill-opacity="0.8"/><circle cx="14.6" cy="3.3" r="0.32" fill="#9a9ec4" fill-opacity="0.8"/><circle cx="23.5" cy="7.0" r="0.43" fill="#9a9ec4" fill-opacity="0.8"/><circle cx="12.9" cy="1.2" r="0.31" fill="#9a9ec4" fill-opacity="0.8"/><circle cx="24.2" cy="25.5" r="0.53" fill="#9a9ec4" fill-opacity="0.8"/><circle cx="12.9" cy="5.1" r="0.35" fill="#9a9ec4" fill-opacity="0.8"/><circle cx="14.6" cy="6.1" r="0.77" fill="#f9f9fc" fill-opacity="0.8"/><circle cx="27.8" cy="26.4" r="0.55" fill="#f9f9fc" fill-opacity="0.8"/><circle cx="6.7" cy="1.1" r="0.95" fill="#f9f9fc" fill-opacity="0.8"/><circle cx="27.1" cy="23.3" r="0.84" fill="#f9f9fc" fill-opacity="0.8"/><circle cx="16.7" cy="25.7" r="0.59" fill="#f9f9fc" fill-opacity="0.8"/><circle cx="13.8" cy="25.7" r="0.76" fill="#f9f9fc" fill-opacity="0.8"/><circle cx="10.1" cy="5.5" r="0.57" fill="#f9f9fc" fill-opacity="0.8"/><circle cx="24.1" cy="16.7" r="0.83" fill="#f9f9fc" fill-opacity="0.8"/><circle cx="23.6" cy="20.5" r="0.72" fill="#f9f9fc" fill-opacity="0.8"/><circle cx="1.6" cy="22.0" r="0.54" fill="#f9f9fc" fill-opacity="0.8"/><circle cx="5.0" cy="1.0" r="0.70" fill="#f9f9fc" fill-opacity="0.8"/><circle cx="17.6" cy="3.0" r="0.46" fill="#f9f9fc" fill-opacity="0.8"/><circle cx="12.8" cy="14.5" r="0.54" fill="#f9f9fc" fill-opacity="0.8"/><circle cx="25.4" cy="12.2" r="0.55" fill="#f9f9fc" fill-opacity="0.8"/><circle cx="22.4" cy="21.8" r="0.59" fill="#f9f9fc" fill-opacity="0.8"/><circle cx="9.8" cy="12.0" r="0.44" fill="#f9f9fc" fill-opacity="0.8"/><circle cx="25.2" cy="5.7" r="0.53" fill="#f9f9fc" fill-opacity="0.8"/><circle cx="20.2" cy="13.1" r="0.79" fill="#f9f9fc" fill-opacity="0.8"/><circle cx="4.2" cy="18.5" r="0.98" fill="#f9f9fc" fill-opacity="0.8"/><circle cx="27.2" cy="0.7" r="0.49" fill="#f9f9fc" fill-opacity="0.8"/><circle cx="6.1" cy="16.3" r="0.71" fill="#f9f9fc" fill-opacity="0.8"/><circle cx="13.5" cy="7.2" r="0.47" fill="#f9f9fc" fill-opacity="0.8"/><circle cx="12.9" cy="6.3" r="0.80" fill="#f9f9fc" fill-opacity="0.8"/><circle cx="27.4" cy="3.8" r="0.94" fill="#f9f9fc" fill-opacity="0.8"/><circle cx="26.1" cy="10.9" r="0.42" fill="#f9f9fc" fill-opacity="0.8"/><circle cx="9.6" cy="7.2" r="0.83" fill="#f9f9fc" fill-opacity="0.8"/><circle cx="27.4" cy="26.9" r="0.53" fill="#f9f9fc" fill-opacity="0.8"/><circle cx="6.4" cy="11.7" r="0.55" fill="#f9f9fc" fill-opacity="0.8"/><circle cx="18.3" cy="17.3" r="0.41" fill="#f9f9fc" fill-opacity="0.8"/><circle cx="6.6" cy="12.3" r="0.65" fill="#f9f9fc" fill-opacity="0.8"/><circle cx="20.8" cy="2.3" r="0.45" fill="#f9f9fc" fill-opacity="0.8"/><circle cx="11.1" cy="5.0" r="0.48" fill="#f9f9fc" fill-opacity="0.8"/><circle cx="27.2" cy="19.3" r="0.43" fill="#f9f9fc" fill-opacity="0.8"/><circle cx="20.9" cy="3.3" r="0.96" fill="#f9f9fc" fill-opacity="0.8"/><circle cx="5.9" cy="9.2" r="0.43" fill="#f9f9fc" fill-opacity="0.8"/><circle cx="6.4" cy="3.8" r="0.83" fill="#f9f9fc" fill-opacity="0.8"/><circle cx="26.6" cy="3.1" r="0.55" fill="#f9f9fc" fill-opacity="0.8"/><circle cx="23.3" cy="15.7" r="0.90" fill="#f9f9fc" fill-opacity="0.8"/><circle cx="8.9" cy="2.0" r="0.67" fill="#f9f9fc" fill-opacity="0.8"/><circle cx="11.7" cy="3.5" r="0.78" fill="#f9f9fc" fill-opacity="0.8"/><circle cx="20.6" cy="15.9" r="0.81" fill="#f9f9fc" fill-opacity="0.8"/><circle cx="20.6" cy="24.4" r="0.82" fill="#f9f9fc" fill-opacity="0.8"/><circle cx="8.8" cy="24.6" r="0.93" fill="#f9f9fc" fill-opacity="0.8"/><circle cx="23.8" cy="25.8" r="0.40" fill="#f9f9fc" fill-opacity="0.8"/><circle cx="24.3" cy="23.6" r="0.60" fill="#f9f9fc" fill-opacity="0.8"/></pattern><pattern id="tkib3" patternUnits="userSpaceOnUse" width="30" height="30"><rect width="30" height="30" fill="#dfe1ef"/><path d="M4.9 20.7Q3.4 21.4 2.9 21.0" fill="none" stroke="#969ac4" stroke-width="0.45" stroke-opacity="0.6"/><path d="M24.2 15.4Q23.3 16.0 24.4 17.2" fill="none" stroke="#969ac4" stroke-width="0.45" stroke-opacity="0.6"/><path d="M17.6 2.1Q17.2 2.3 17.8 4.3" fill="none" stroke="#969ac4" stroke-width="0.45" stroke-opacity="0.6"/><path d="M29.9 22.2Q28.1 21.0 28.1 20.6" fill="none" stroke="#969ac4" stroke-width="0.45" stroke-opacity="0.6"/><path d="M14.9 3.5Q13.4 5.0 13.2 5.3" fill="none" stroke="#969ac4" stroke-width="0.45" stroke-opacity="0.6"/><path d="M3.7 27.8Q2.6 27.5 2.1 27.3" fill="none" stroke="#969ac4" stroke-width="0.45" stroke-opacity="0.6"/><path d="M5.6 1.1Q6.3 1.7 5.8 3.5" fill="none" stroke="#969ac4" stroke-width="0.45" stroke-opacity="0.6"/><path d="M29.1 26.8Q29.3 26.2 29.2 24.6" fill="none" stroke="#969ac4" stroke-width="0.45" stroke-opacity="0.6"/><path d="M3.7 14.3Q4.9 16.2 4.4 16.5" fill="none" stroke="#969ac4" stroke-width="0.45" stroke-opacity="0.6"/><path d="M12.3 11.0Q12.6 11.3 11.0 12.1" fill="none" stroke="#969ac4" stroke-width="0.45" stroke-opacity="0.6"/><path d="M0.8 2.8Q1.9 2.7 3.0 2.7" fill="none" stroke="#969ac4" stroke-width="0.45" stroke-opacity="0.6"/><path d="M16.5 22.4Q16.1 22.3 15.5 21.6" fill="none" stroke="#969ac4" stroke-width="0.45" stroke-opacity="0.6"/><path d="M5.4 5.1Q5.8 5.0 6.8 4.4" fill="none" stroke="#969ac4" stroke-width="0.45" stroke-opacity="0.6"/><path d="M9.2 3.1Q10.0 2.3 9.6 2.1" fill="none" stroke="#969ac4" stroke-width="0.45" stroke-opacity="0.6"/><path d="M20.5 20.3Q21.5 20.9 22.9 19.6" fill="none" stroke="#969ac4" stroke-width="0.45" stroke-opacity="0.6"/><path d="M28.8 17.7Q27.4 17.3 26.4 17.9" fill="none" stroke="#969ac4" stroke-width="0.45" stroke-opacity="0.6"/><path d="M26.3 4.9Q27.0 4.3 26.7 3.8" fill="none" stroke="#969ac4" stroke-width="0.45" stroke-opacity="0.6"/><path d="M25.1 1.6Q24.8 1.6 24.8 2.9" fill="none" stroke="#969ac4" stroke-width="0.45" stroke-opacity="0.6"/><path d="M2.1 10.1Q3.8 10.0 4.5 9.9" fill="none" stroke="#969ac4" stroke-width="0.45" stroke-opacity="0.6"/><path d="M7.6 28.8Q6.5 27.3 7.3 26.9" fill="none" stroke="#969ac4" stroke-width="0.45" stroke-opacity="0.6"/><path d="M25.1 23.9Q24.0 23.3 23.2 22.4" fill="none" stroke="#969ac4" stroke-width="0.45" stroke-opacity="0.6"/><path d="M25.5 9.2Q25.9 9.2 25.2 11.1" fill="none" stroke="#969ac4" stroke-width="0.45" stroke-opacity="0.6"/><path d="M20.6 28.6Q20.4 29.0 19.7 28.0" fill="none" stroke="#969ac4" stroke-width="0.45" stroke-opacity="0.6"/><path d="M17.5 7.7Q19.1 6.8 19.1 7.3" fill="none" stroke="#969ac4" stroke-width="0.45" stroke-opacity="0.6"/><path d="M2.8 2.8Q1.6 3.7 1.9 3.2" fill="none" stroke="#969ac4" stroke-width="0.45" stroke-opacity="0.6"/><path d="M19.7 3.8Q19.2 4.1 18.8 5.5" fill="none" stroke="#969ac4" stroke-width="0.45" stroke-opacity="0.6"/><path d="M5.0 5.5Q4.9 3.8 4.6 4.0" fill="none" stroke="#969ac4" stroke-width="0.45" stroke-opacity="0.6"/><path d="M21.3 26.2Q20.6 25.1 21.9 24.1" fill="none" stroke="#969ac4" stroke-width="0.45" stroke-opacity="0.6"/><path d="M1.9 22.9Q1.3 22.7 1.6 21.7" fill="none" stroke="#969ac4" stroke-width="0.45" stroke-opacity="0.6"/><path d="M9.4 1.3Q9.9 1.6 8.8 2.8" fill="none" stroke="#969ac4" stroke-width="0.45" stroke-opacity="0.6"/><path d="M15.1 16.5Q16.3 17.2 17.1 17.9" fill="none" stroke="#969ac4" stroke-width="0.45" stroke-opacity="0.6"/><path d="M22.0 29.0Q21.9 28.4 21.6 27.6" fill="none" stroke="#969ac4" stroke-width="0.45" stroke-opacity="0.6"/><path d="M1.9 24.4Q0.8 26.4 0.3 26.5" fill="none" stroke="#969ac4" stroke-width="0.45" stroke-opacity="0.6"/><path d="M3.2 2.3Q4.0 1.7 3.7 1.3" fill="none" stroke="#969ac4" stroke-width="0.45" stroke-opacity="0.6"/><path d="M18.6 0.6Q17.7 0.7 16.7 1.3" fill="none" stroke="#969ac4" stroke-width="0.45" stroke-opacity="0.6"/><path d="M12.0 6.8Q11.0 7.4 11.1 7.2" fill="none" stroke="#969ac4" stroke-width="0.45" stroke-opacity="0.6"/><path d="M24.5 21.7Q24.4 22.5 24.7 23.4" fill="none" stroke="#969ac4" stroke-width="0.45" stroke-opacity="0.6"/><path d="M19.0 28.9Q18.4 29.4 17.8 29.0" fill="none" stroke="#969ac4" stroke-width="0.45" stroke-opacity="0.6"/><path d="M26.7 23.4Q27.1 23.1 26.8 21.4" fill="none" stroke="#969ac4" stroke-width="0.45" stroke-opacity="0.6"/><path d="M21.0 20.5Q21.3 20.4 22.2 19.8" fill="none" stroke="#969ac4" stroke-width="0.45" stroke-opacity="0.6"/><path d="M24.7 28.9Q25.7 28.6 27.3 29.0" fill="none" stroke="#969ac4" stroke-width="0.45" stroke-opacity="0.6"/><path d="M11.7 4.4Q12.2 5.7 13.4 5.3" fill="none" stroke="#969ac4" stroke-width="0.45" stroke-opacity="0.6"/><path d="M22.3 13.9Q23.2 13.1 23.4 13.6" fill="none" stroke="#969ac4" stroke-width="0.45" stroke-opacity="0.6"/><path d="M10.1 19.2Q10.9 19.9 9.9 21.3" fill="none" stroke="#969ac4" stroke-width="0.45" stroke-opacity="0.6"/><path d="M7.6 25.4Q6.8 25.0 7.1 24.2" fill="none" stroke="#969ac4" stroke-width="0.45" stroke-opacity="0.6"/><path d="M8.3 11.4Q7.0 11.9 5.9 11.9" fill="none" stroke="#969ac4" stroke-width="0.45" stroke-opacity="0.6"/><path d="M8.4 5.2Q7.7 7.0 8.2 6.8" fill="none" stroke="#969ac4" stroke-width="0.45" stroke-opacity="0.6"/><path d="M1.0 24.3Q-0.3 23.1 0.3 21.9" fill="none" stroke="#969ac4" stroke-width="0.45" stroke-opacity="0.6"/><path d="M1.2 18.2Q0.3 19.4 1.3 20.4" fill="none" stroke="#969ac4" stroke-width="0.45" stroke-opacity="0.6"/><path d="M2.8 9.3Q3.3 8.0 4.2 8.2" fill="none" stroke="#969ac4" stroke-width="0.45" stroke-opacity="0.6"/><path d="M23.8 24.7Q24.0 24.8 25.5 25.2" fill="none" stroke="#969ac4" stroke-width="0.45" stroke-opacity="0.6"/><path d="M16.6 6.8Q18.0 6.6 17.8 4.9" fill="none" stroke="#969ac4" stroke-width="0.45" stroke-opacity="0.6"/><path d="M0.5 17.5Q1.5 17.6 1.4 16.8" fill="none" stroke="#969ac4" stroke-width="0.45" stroke-opacity="0.6"/><path d="M5.6 1.8Q5.0 1.0 3.8 0.4" fill="none" stroke="#969ac4" stroke-width="0.45" stroke-opacity="0.6"/><path d="M24.0 10.1Q23.2 11.0 23.1 11.3" fill="none" stroke="#969ac4" stroke-width="0.45" stroke-opacity="0.6"/><path d="M26.7 2.1Q26.5 1.5 25.6 2.0" fill="none" stroke="#969ac4" stroke-width="0.45" stroke-opacity="0.6"/><path d="M8.1 1.8Q7.9 2.1 7.0 1.8" fill="none" stroke="#969ac4" stroke-width="0.45" stroke-opacity="0.6"/><path d="M4.7 3.1Q3.4 3.2 2.3 2.5" fill="none" stroke="#969ac4" stroke-width="0.45" stroke-opacity="0.6"/><path d="M21.8 15.7Q21.5 14.3 22.4 14.7" fill="none" stroke="#969ac4" stroke-width="0.45" stroke-opacity="0.6"/><path d="M10.6 16.0Q11.4 16.9 11.5 17.8" fill="none" stroke="#969ac4" stroke-width="0.45" stroke-opacity="0.6"/><path d="M4.9 25.5Q6.2 24.3 6.8 24.3" fill="none" stroke="#969ac4" stroke-width="0.45" stroke-opacity="0.6"/><path d="M23.3 27.1Q25.0 26.4 24.9 26.1" fill="none" stroke="#969ac4" stroke-width="0.45" stroke-opacity="0.6"/><path d="M28.3 28.1Q29.1 28.4 30.5 28.3" fill="none" stroke="#969ac4" stroke-width="0.45" stroke-opacity="0.6"/><path d="M18.2 22.7Q19.6 23.6 19.3 24.4" fill="none" stroke="#969ac4" stroke-width="0.45" stroke-opacity="0.6"/><path d="M26.5 6.2Q25.8 6.2 24.0 5.3" fill="none" stroke="#969ac4" stroke-width="0.45" stroke-opacity="0.6"/><path d="M26.5 10.9Q25.4 11.3 25.5 11.5" fill="none" stroke="#969ac4" stroke-width="0.45" stroke-opacity="0.6"/><path d="M24.4 10.9Q24.9 11.1 25.6 11.1" fill="none" stroke="#969ac4" stroke-width="0.45" stroke-opacity="0.6"/><path d="M0.8 20.0Q2.2 20.4 1.8 20.8" fill="none" stroke="#969ac4" stroke-width="0.45" stroke-opacity="0.6"/><path d="M26.9 15.4Q26.7 16.3 26.9 16.6" fill="none" stroke="#969ac4" stroke-width="0.45" stroke-opacity="0.6"/><path d="M23.1 22.5Q23.0 23.3 23.1 24.6" fill="none" stroke="#969ac4" stroke-width="0.45" stroke-opacity="0.6"/><path d="M14.7 8.0Q12.9 8.8 12.9 8.4" fill="none" stroke="#969ac4" stroke-width="0.45" stroke-opacity="0.6"/><path d="M17.6 24.1Q18.4 22.8 17.3 21.9" fill="none" stroke="#969ac4" stroke-width="0.45" stroke-opacity="0.6"/><path d="M11.8 0.1Q11.1 0.6 10.0 -0.9" fill="none" stroke="#969ac4" stroke-width="0.45" stroke-opacity="0.6"/><path d="M5.9 6.8Q6.3 4.9 6.7 4.8" fill="none" stroke="#969ac4" stroke-width="0.45" stroke-opacity="0.6"/><path d="M11.1 24.8Q10.0 25.3 9.4 25.2" fill="none" stroke="#969ac4" stroke-width="0.45" stroke-opacity="0.6"/><path d="M18.0 20.8Q17.7 19.1 18.0 18.4" fill="none" stroke="#969ac4" stroke-width="0.45" stroke-opacity="0.6"/><path d="M23.5 23.8Q24.5 25.7 24.2 26.1" fill="none" stroke="#969ac4" stroke-width="0.45" stroke-opacity="0.6"/><path d="M2.3 9.2Q3.6 9.6 3.5 10.8" fill="none" stroke="#969ac4" stroke-width="0.45" stroke-opacity="0.6"/><path d="M20.5 8.9Q20.6 10.0 20.8 10.2" fill="none" stroke="#969ac4" stroke-width="0.45" stroke-opacity="0.6"/><path d="M6.5 20.6Q5.8 19.4 5.6 19.4" fill="none" stroke="#969ac4" stroke-width="0.45" stroke-opacity="0.6"/><path d="M4.2 1.7Q2.6 3.0 2.4 2.8" fill="none" stroke="#969ac4" stroke-width="0.45" stroke-opacity="0.6"/><path d="M19.6 0.6Q18.6 0.0 17.9 -0.6" fill="none" stroke="#969ac4" stroke-width="0.45" stroke-opacity="0.6"/><path d="M28.9 11.2Q27.9 10.1 27.5 9.7" fill="none" stroke="#969ac4" stroke-width="0.45" stroke-opacity="0.6"/><path d="M22.6 19.1Q21.2 19.6 20.9 18.9" fill="none" stroke="#969ac4" stroke-width="0.45" stroke-opacity="0.6"/><path d="M0.6 19.3Q0.9 20.3 0.9 21.0" fill="none" stroke="#969ac4" stroke-width="0.45" stroke-opacity="0.6"/><path d="M2.6 14.7Q2.4 13.8 3.0 13.5" fill="none" stroke="#969ac4" stroke-width="0.45" stroke-opacity="0.6"/><path d="M6.5 1.4Q7.1 2.7 7.2 2.5" fill="none" stroke="#969ac4" stroke-width="0.45" stroke-opacity="0.6"/><path d="M6.6 3.4Q7.1 4.5 8.0 4.6" fill="none" stroke="#969ac4" stroke-width="0.45" stroke-opacity="0.6"/><path d="M6.1 21.0Q6.4 21.7 7.7 21.9" fill="none" stroke="#969ac4" stroke-width="0.45" stroke-opacity="0.6"/><path d="M2.9 6.1Q3.3 5.6 3.7 4.4" fill="none" stroke="#969ac4" stroke-width="0.45" stroke-opacity="0.6"/><path d="M0.3 9.1Q0.6 9.3 1.6 8.3" fill="none" stroke="#969ac4" stroke-width="0.45" stroke-opacity="0.6"/><path d="M1.0 15.0Q1.4 13.1 1.4 12.5" fill="none" stroke="#969ac4" stroke-width="0.45" stroke-opacity="0.6"/><path d="M27.8 2.4Q28.4 1.2 28.2 -0.1" fill="none" stroke="#969ac4" stroke-width="0.45" stroke-opacity="0.6"/><path d="M4.9 10.2Q4.1 10.0 3.8 8.5" fill="none" stroke="#969ac4" stroke-width="0.45" stroke-opacity="0.6"/><path d="M1.6 8.6Q1.9 9.6 1.1 9.6" fill="none" stroke="#969ac4" stroke-width="0.45" stroke-opacity="0.6"/><path d="M4.5 9.3Q4.1 8.2 3.9 8.2" fill="none" stroke="#969ac4" stroke-width="0.45" stroke-opacity="0.6"/><path d="M11.2 26.0Q11.2 25.1 10.6 24.4" fill="none" stroke="#969ac4" stroke-width="0.45" stroke-opacity="0.6"/><path d="M16.7 10.9Q15.6 10.6 15.4 11.0" fill="none" stroke="#969ac4" stroke-width="0.45" stroke-opacity="0.6"/><path d="M5.6 27.4Q4.9 27.6 6.1 29.0" fill="none" stroke="#969ac4" stroke-width="0.45" stroke-opacity="0.6"/><path d="M26.1 10.1Q26.5 11.0 26.3 12.2" fill="none" stroke="#969ac4" stroke-width="0.45" stroke-opacity="0.6"/><path d="M22.1 15.9Q22.1 17.3 21.8 17.4" fill="none" stroke="#969ac4" stroke-width="0.45" stroke-opacity="0.6"/><path d="M20.7 14.4Q22.0 13.2 21.9 13.4" fill="none" stroke="#969ac4" stroke-width="0.45" stroke-opacity="0.6"/><path d="M20.4 23.2Q22.1 22.4 22.4 22.7" fill="none" stroke="#969ac4" stroke-width="0.45" stroke-opacity="0.6"/><path d="M29.9 9.8Q30.0 9.5 31.5 9.6" fill="none" stroke="#969ac4" stroke-width="0.45" stroke-opacity="0.6"/><path d="M18.8 8.2Q19.2 8.0 19.2 6.8" fill="none" stroke="#969ac4" stroke-width="0.45" stroke-opacity="0.6"/><path d="M23.7 26.2Q25.2 25.1 24.8 24.0" fill="none" stroke="#969ac4" stroke-width="0.45" stroke-opacity="0.6"/><path d="M21.0 15.4Q20.2 14.7 19.6 13.3" fill="none" stroke="#969ac4" stroke-width="0.45" stroke-opacity="0.6"/><path d="M8.8 3.9Q8.4 3.7 9.9 5.1" fill="none" stroke="#969ac4" stroke-width="0.45" stroke-opacity="0.6"/><path d="M13.6 22.9Q12.5 22.5 12.9 22.1" fill="none" stroke="#969ac4" stroke-width="0.45" stroke-opacity="0.6"/><path d="M8.9 13.4Q7.7 14.4 7.0 14.5" fill="none" stroke="#969ac4" stroke-width="0.45" stroke-opacity="0.6"/><circle cx="3.5" cy="10.5" r="0.51" fill="#7c80ae" fill-opacity="0.8"/><circle cx="25.0" cy="29.4" r="0.38" fill="#7c80ae" fill-opacity="0.8"/><circle cx="18.8" cy="9.4" r="0.51" fill="#7c80ae" fill-opacity="0.8"/><circle cx="25.4" cy="4.1" r="0.40" fill="#7c80ae" fill-opacity="0.8"/><circle cx="28.1" cy="10.6" r="0.49" fill="#7c80ae" fill-opacity="0.8"/><circle cx="24.6" cy="8.4" r="0.54" fill="#7c80ae" fill-opacity="0.8"/><circle cx="0.1" cy="10.2" r="0.35" fill="#7c80ae" fill-opacity="0.8"/><circle cx="10.4" cy="6.4" r="0.31" fill="#7c80ae" fill-opacity="0.8"/><circle cx="24.1" cy="5.2" r="0.47" fill="#7c80ae" fill-opacity="0.8"/><circle cx="16.6" cy="25.5" r="0.55" fill="#7c80ae" fill-opacity="0.8"/><circle cx="18.6" cy="5.1" r="0.53" fill="#7c80ae" fill-opacity="0.8"/><circle cx="2.9" cy="27.9" r="0.39" fill="#7c80ae" fill-opacity="0.8"/><circle cx="7.6" cy="6.5" r="0.42" fill="#7c80ae" fill-opacity="0.8"/><circle cx="23.7" cy="25.6" r="0.52" fill="#7c80ae" fill-opacity="0.8"/><circle cx="21.9" cy="7.3" r="0.40" fill="#7c80ae" fill-opacity="0.8"/><circle cx="9.1" cy="13.0" r="0.56" fill="#7c80ae" fill-opacity="0.8"/><circle cx="29.9" cy="2.5" r="0.59" fill="#7c80ae" fill-opacity="0.8"/><circle cx="27.6" cy="13.8" r="0.51" fill="#7c80ae" fill-opacity="0.8"/><circle cx="23.5" cy="5.6" r="0.48" fill="#7c80ae" fill-opacity="0.8"/><circle cx="29.5" cy="26.4" r="0.57" fill="#7c80ae" fill-opacity="0.8"/><circle cx="2.5" cy="21.4" r="0.45" fill="#7c80ae" fill-opacity="0.8"/><circle cx="27.3" cy="5.0" r="0.46" fill="#7c80ae" fill-opacity="0.8"/><circle cx="3.6" cy="24.1" r="0.83" fill="#f4f4fa" fill-opacity="0.8"/><circle cx="0.9" cy="9.3" r="0.48" fill="#f4f4fa" fill-opacity="0.8"/><circle cx="19.1" cy="18.9" r="0.44" fill="#f4f4fa" fill-opacity="0.8"/><circle cx="28.5" cy="29.0" r="0.66" fill="#f4f4fa" fill-opacity="0.8"/><circle cx="17.2" cy="10.9" r="0.76" fill="#f4f4fa" fill-opacity="0.8"/><circle cx="12.0" cy="13.2" r="0.85" fill="#f4f4fa" fill-opacity="0.8"/><circle cx="5.6" cy="8.9" r="0.86" fill="#f4f4fa" fill-opacity="0.8"/><circle cx="6.7" cy="2.1" r="0.95" fill="#f4f4fa" fill-opacity="0.8"/><circle cx="4.8" cy="12.3" r="0.59" fill="#f4f4fa" fill-opacity="0.8"/><circle cx="7.9" cy="10.6" r="0.72" fill="#f4f4fa" fill-opacity="0.8"/><circle cx="3.5" cy="16.0" r="0.43" fill="#f4f4fa" fill-opacity="0.8"/><circle cx="2.4" cy="6.1" r="0.54" fill="#f4f4fa" fill-opacity="0.8"/><circle cx="10.2" cy="8.7" r="0.90" fill="#f4f4fa" fill-opacity="0.8"/><circle cx="19.7" cy="14.2" r="0.86" fill="#f4f4fa" fill-opacity="0.8"/><circle cx="20.6" cy="9.5" r="0.77" fill="#f4f4fa" fill-opacity="0.8"/><circle cx="22.4" cy="16.0" r="0.85" fill="#f4f4fa" fill-opacity="0.8"/><circle cx="19.0" cy="27.8" r="0.56" fill="#f4f4fa" fill-opacity="0.8"/><circle cx="20.1" cy="29.3" r="0.72" fill="#f4f4fa" fill-opacity="0.8"/><circle cx="27.2" cy="2.8" r="0.83" fill="#f4f4fa" fill-opacity="0.8"/><circle cx="8.0" cy="22.5" r="0.65" fill="#f4f4fa" fill-opacity="0.8"/><circle cx="16.1" cy="7.5" r="0.55" fill="#f4f4fa" fill-opacity="0.8"/><circle cx="26.0" cy="19.3" r="0.78" fill="#f4f4fa" fill-opacity="0.8"/><circle cx="3.5" cy="8.8" r="0.98" fill="#f4f4fa" fill-opacity="0.8"/><circle cx="6.1" cy="16.1" r="0.82" fill="#f4f4fa" fill-opacity="0.8"/><circle cx="15.3" cy="16.6" r="0.98" fill="#f4f4fa" fill-opacity="0.8"/><circle cx="23.4" cy="7.1" r="0.66" fill="#f4f4fa" fill-opacity="0.8"/><circle cx="12.6" cy="20.5" r="0.80" fill="#f4f4fa" fill-opacity="0.8"/><circle cx="7.8" cy="20.8" r="0.66" fill="#f4f4fa" fill-opacity="0.8"/><circle cx="0.5" cy="8.8" r="0.63" fill="#f4f4fa" fill-opacity="0.8"/><circle cx="5.9" cy="20.1" r="1.00" fill="#f4f4fa" fill-opacity="0.8"/><circle cx="27.9" cy="18.9" r="0.91" fill="#f4f4fa" fill-opacity="0.8"/><circle cx="14.7" cy="17.6" r="0.94" fill="#f4f4fa" fill-opacity="0.8"/><circle cx="1.8" cy="10.9" r="0.62" fill="#f4f4fa" fill-opacity="0.8"/><circle cx="10.2" cy="12.8" r="0.43" fill="#f4f4fa" fill-opacity="0.8"/><circle cx="20.4" cy="28.7" r="0.54" fill="#f4f4fa" fill-opacity="0.8"/><circle cx="5.6" cy="10.0" r="0.88" fill="#f4f4fa" fill-opacity="0.8"/><circle cx="6.8" cy="23.1" r="0.50" fill="#f4f4fa" fill-opacity="0.8"/><circle cx="17.9" cy="21.6" r="0.80" fill="#f4f4fa" fill-opacity="0.8"/><circle cx="2.5" cy="28.7" r="0.91" fill="#f4f4fa" fill-opacity="0.8"/><circle cx="14.4" cy="25.8" r="0.76" fill="#f4f4fa" fill-opacity="0.8"/></pattern><pattern id="tkib2" patternUnits="userSpaceOnUse" width="30" height="30"><rect width="30" height="30" fill="#e8e8f1"/><path d="M10.8 14.4Q9.9 15.0 9.3 15.0" fill="none" stroke="#9c9ec6" stroke-width="0.5" stroke-opacity="0.6"/><path d="M7.8 19.0Q7.3 18.8 7.4 20.0" fill="none" stroke="#9c9ec6" stroke-width="0.5" stroke-opacity="0.6"/><path d="M22.3 9.3Q22.9 9.8 24.5 8.7" fill="none" stroke="#9c9ec6" stroke-width="0.5" stroke-opacity="0.6"/><path d="M24.2 20.0Q24.0 19.8 23.2 20.3" fill="none" stroke="#9c9ec6" stroke-width="0.5" stroke-opacity="0.6"/><path d="M6.7 9.3Q6.6 8.5 7.1 7.9" fill="none" stroke="#9c9ec6" stroke-width="0.5" stroke-opacity="0.6"/><path d="M19.3 28.5Q20.9 29.3 20.7 28.9" fill="none" stroke="#9c9ec6" stroke-width="0.5" stroke-opacity="0.6"/><path d="M23.7 15.7Q23.7 16.2 24.5 16.8" fill="none" stroke="#9c9ec6" stroke-width="0.5" stroke-opacity="0.6"/><path d="M2.0 21.0Q3.7 21.1 4.1 21.2" fill="none" stroke="#9c9ec6" stroke-width="0.5" stroke-opacity="0.6"/><path d="M27.6 14.3Q26.7 14.6 25.4 14.9" fill="none" stroke="#9c9ec6" stroke-width="0.5" stroke-opacity="0.6"/><path d="M0.7 4.3Q-0.1 4.8 -0.5 5.1" fill="none" stroke="#9c9ec6" stroke-width="0.5" stroke-opacity="0.6"/><path d="M19.8 12.0Q19.9 12.5 18.3 11.9" fill="none" stroke="#9c9ec6" stroke-width="0.5" stroke-opacity="0.6"/><path d="M19.7 24.5Q19.4 24.2 20.8 25.3" fill="none" stroke="#9c9ec6" stroke-width="0.5" stroke-opacity="0.6"/><path d="M0.3 18.8Q1.6 20.5 2.1 20.4" fill="none" stroke="#9c9ec6" stroke-width="0.5" stroke-opacity="0.6"/><path d="M23.0 4.6Q22.3 4.6 22.9 6.6" fill="none" stroke="#9c9ec6" stroke-width="0.5" stroke-opacity="0.6"/><path d="M15.8 27.6Q15.9 27.1 16.5 28.5" fill="none" stroke="#9c9ec6" stroke-width="0.5" stroke-opacity="0.6"/><path d="M13.9 21.9Q13.8 21.5 15.6 22.3" fill="none" stroke="#9c9ec6" stroke-width="0.5" stroke-opacity="0.6"/><path d="M20.0 27.7Q20.2 28.1 21.5 28.8" fill="none" stroke="#9c9ec6" stroke-width="0.5" stroke-opacity="0.6"/><path d="M3.2 3.5Q3.2 3.5 4.2 2.0" fill="none" stroke="#9c9ec6" stroke-width="0.5" stroke-opacity="0.6"/><path d="M26.3 13.0Q26.9 14.3 26.8 14.2" fill="none" stroke="#9c9ec6" stroke-width="0.5" stroke-opacity="0.6"/><path d="M25.8 6.3Q26.3 6.0 27.5 6.5" fill="none" stroke="#9c9ec6" stroke-width="0.5" stroke-opacity="0.6"/><path d="M3.7 2.3Q3.3 3.6 2.8 4.7" fill="none" stroke="#9c9ec6" stroke-width="0.5" stroke-opacity="0.6"/><path d="M14.2 17.7Q12.4 18.0 12.4 17.8" fill="none" stroke="#9c9ec6" stroke-width="0.5" stroke-opacity="0.6"/><path d="M20.1 21.7Q19.9 22.4 18.6 22.1" fill="none" stroke="#9c9ec6" stroke-width="0.5" stroke-opacity="0.6"/><path d="M1.6 10.0Q1.2 9.2 1.3 8.8" fill="none" stroke="#9c9ec6" stroke-width="0.5" stroke-opacity="0.6"/><path d="M6.7 13.6Q5.4 12.6 5.2 12.0" fill="none" stroke="#9c9ec6" stroke-width="0.5" stroke-opacity="0.6"/><path d="M18.7 1.7Q20.2 1.1 21.1 2.0" fill="none" stroke="#9c9ec6" stroke-width="0.5" stroke-opacity="0.6"/><path d="M28.7 20.8Q28.7 21.4 27.3 20.7" fill="none" stroke="#9c9ec6" stroke-width="0.5" stroke-opacity="0.6"/><path d="M19.9 19.2Q20.9 18.8 21.8 18.0" fill="none" stroke="#9c9ec6" stroke-width="0.5" stroke-opacity="0.6"/><path d="M23.9 15.3Q23.1 15.4 22.8 14.7" fill="none" stroke="#9c9ec6" stroke-width="0.5" stroke-opacity="0.6"/><path d="M22.4 27.2Q23.9 27.7 23.6 27.4" fill="none" stroke="#9c9ec6" stroke-width="0.5" stroke-opacity="0.6"/><path d="M29.9 24.4Q30.0 25.7 31.3 26.5" fill="none" stroke="#9c9ec6" stroke-width="0.5" stroke-opacity="0.6"/><path d="M22.7 3.5Q22.3 4.6 23.1 6.0" fill="none" stroke="#9c9ec6" stroke-width="0.5" stroke-opacity="0.6"/><path d="M5.5 2.7Q5.3 3.2 6.6 2.9" fill="none" stroke="#9c9ec6" stroke-width="0.5" stroke-opacity="0.6"/><path d="M23.4 23.2Q22.6 23.1 23.4 21.5" fill="none" stroke="#9c9ec6" stroke-width="0.5" stroke-opacity="0.6"/><path d="M12.3 3.7Q13.1 4.2 12.9 5.2" fill="none" stroke="#9c9ec6" stroke-width="0.5" stroke-opacity="0.6"/><path d="M0.5 5.8Q0.9 6.2 1.6 5.4" fill="none" stroke="#9c9ec6" stroke-width="0.5" stroke-opacity="0.6"/><path d="M17.8 12.4Q15.9 13.0 15.8 11.7" fill="none" stroke="#9c9ec6" stroke-width="0.5" stroke-opacity="0.6"/><path d="M10.5 19.6Q10.6 18.5 12.1 19.2" fill="none" stroke="#9c9ec6" stroke-width="0.5" stroke-opacity="0.6"/><path d="M1.3 12.0Q1.0 11.7 -1.0 12.8" fill="none" stroke="#9c9ec6" stroke-width="0.5" stroke-opacity="0.6"/><path d="M29.0 5.0Q29.6 6.4 29.8 7.3" fill="none" stroke="#9c9ec6" stroke-width="0.5" stroke-opacity="0.6"/><path d="M29.1 12.4Q31.0 12.8 31.4 13.1" fill="none" stroke="#9c9ec6" stroke-width="0.5" stroke-opacity="0.6"/><path d="M16.1 29.1Q15.7 28.2 15.0 28.1" fill="none" stroke="#9c9ec6" stroke-width="0.5" stroke-opacity="0.6"/><path d="M4.4 12.9Q3.7 11.6 3.3 12.0" fill="none" stroke="#9c9ec6" stroke-width="0.5" stroke-opacity="0.6"/><path d="M20.7 27.7Q20.0 29.6 20.1 29.6" fill="none" stroke="#9c9ec6" stroke-width="0.5" stroke-opacity="0.6"/><path d="M13.3 21.7Q14.3 20.8 13.8 20.7" fill="none" stroke="#9c9ec6" stroke-width="0.5" stroke-opacity="0.6"/><path d="M9.2 19.5Q8.5 17.5 9.8 17.0" fill="none" stroke="#9c9ec6" stroke-width="0.5" stroke-opacity="0.6"/><path d="M26.7 12.1Q26.1 11.9 24.3 12.8" fill="none" stroke="#9c9ec6" stroke-width="0.5" stroke-opacity="0.6"/><path d="M28.9 14.2Q28.3 14.5 29.3 15.2" fill="none" stroke="#9c9ec6" stroke-width="0.5" stroke-opacity="0.6"/><path d="M28.7 29.1Q28.2 30.3 26.6 30.5" fill="none" stroke="#9c9ec6" stroke-width="0.5" stroke-opacity="0.6"/><path d="M25.0 29.1Q24.7 27.2 25.2 26.7" fill="none" stroke="#9c9ec6" stroke-width="0.5" stroke-opacity="0.6"/><path d="M12.5 8.7Q12.6 10.1 13.8 10.6" fill="none" stroke="#9c9ec6" stroke-width="0.5" stroke-opacity="0.6"/><path d="M1.2 2.5Q0.9 3.1 2.2 2.6" fill="none" stroke="#9c9ec6" stroke-width="0.5" stroke-opacity="0.6"/><path d="M8.1 3.2Q6.5 3.0 6.9 4.6" fill="none" stroke="#9c9ec6" stroke-width="0.5" stroke-opacity="0.6"/><path d="M7.6 12.6Q7.1 13.7 6.6 13.2" fill="none" stroke="#9c9ec6" stroke-width="0.5" stroke-opacity="0.6"/><path d="M18.3 9.1Q18.3 10.7 18.8 10.4" fill="none" stroke="#9c9ec6" stroke-width="0.5" stroke-opacity="0.6"/><path d="M29.1 4.4Q30.0 4.0 29.2 2.4" fill="none" stroke="#9c9ec6" stroke-width="0.5" stroke-opacity="0.6"/><path d="M19.0 2.7Q20.5 3.2 20.3 2.2" fill="none" stroke="#9c9ec6" stroke-width="0.5" stroke-opacity="0.6"/><path d="M10.1 23.5Q8.9 24.1 8.3 24.8" fill="none" stroke="#9c9ec6" stroke-width="0.5" stroke-opacity="0.6"/><path d="M16.1 0.6Q16.5 0.4 17.2 0.6" fill="none" stroke="#9c9ec6" stroke-width="0.5" stroke-opacity="0.6"/><path d="M17.7 15.9Q15.7 14.7 15.6 15.4" fill="none" stroke="#9c9ec6" stroke-width="0.5" stroke-opacity="0.6"/><path d="M7.9 10.8Q5.9 11.5 5.3 10.9" fill="none" stroke="#9c9ec6" stroke-width="0.5" stroke-opacity="0.6"/><path d="M9.4 12.6Q8.7 11.5 9.1 10.7" fill="none" stroke="#9c9ec6" stroke-width="0.5" stroke-opacity="0.6"/><path d="M0.3 28.0Q0.2 27.2 1.3 25.9" fill="none" stroke="#9c9ec6" stroke-width="0.5" stroke-opacity="0.6"/><path d="M13.0 4.5Q13.6 4.3 13.9 3.6" fill="none" stroke="#9c9ec6" stroke-width="0.5" stroke-opacity="0.6"/><path d="M4.1 17.6Q3.9 19.6 4.8 19.9" fill="none" stroke="#9c9ec6" stroke-width="0.5" stroke-opacity="0.6"/><path d="M8.2 13.8Q7.7 12.2 8.0 11.4" fill="none" stroke="#9c9ec6" stroke-width="0.5" stroke-opacity="0.6"/><path d="M7.4 1.2Q7.5 2.6 8.5 2.7" fill="none" stroke="#9c9ec6" stroke-width="0.5" stroke-opacity="0.6"/><path d="M3.6 2.4Q2.7 1.6 2.9 1.6" fill="none" stroke="#9c9ec6" stroke-width="0.5" stroke-opacity="0.6"/><path d="M15.6 22.0Q16.5 21.5 18.0 22.9" fill="none" stroke="#9c9ec6" stroke-width="0.5" stroke-opacity="0.6"/><path d="M10.6 20.0Q9.5 21.3 9.2 20.6" fill="none" stroke="#9c9ec6" stroke-width="0.5" stroke-opacity="0.6"/><path d="M24.3 26.7Q25.4 25.2 25.9 25.4" fill="none" stroke="#9c9ec6" stroke-width="0.5" stroke-opacity="0.6"/><path d="M4.0 28.5Q4.0 28.4 3.8 26.6" fill="none" stroke="#9c9ec6" stroke-width="0.5" stroke-opacity="0.6"/><path d="M6.0 4.8Q6.1 4.2 5.9 3.5" fill="none" stroke="#9c9ec6" stroke-width="0.5" stroke-opacity="0.6"/><path d="M6.1 12.7Q7.6 13.7 7.3 13.6" fill="none" stroke="#9c9ec6" stroke-width="0.5" stroke-opacity="0.6"/><path d="M23.8 11.2Q23.7 11.1 24.7 9.1" fill="none" stroke="#9c9ec6" stroke-width="0.5" stroke-opacity="0.6"/><path d="M24.2 1.7Q25.1 1.3 25.2 2.3" fill="none" stroke="#9c9ec6" stroke-width="0.5" stroke-opacity="0.6"/><path d="M4.4 1.0Q4.3 1.2 3.9 2.6" fill="none" stroke="#9c9ec6" stroke-width="0.5" stroke-opacity="0.6"/><path d="M21.0 18.8Q22.0 18.7 22.6 18.4" fill="none" stroke="#9c9ec6" stroke-width="0.5" stroke-opacity="0.6"/><path d="M7.1 9.1Q5.7 9.8 5.9 10.8" fill="none" stroke="#9c9ec6" stroke-width="0.5" stroke-opacity="0.6"/><path d="M14.7 4.3Q16.0 3.8 16.0 3.6" fill="none" stroke="#9c9ec6" stroke-width="0.5" stroke-opacity="0.6"/><path d="M22.8 19.3Q21.3 19.3 21.5 18.9" fill="none" stroke="#9c9ec6" stroke-width="0.5" stroke-opacity="0.6"/><path d="M16.1 3.1Q16.4 5.0 16.2 4.9" fill="none" stroke="#9c9ec6" stroke-width="0.5" stroke-opacity="0.6"/><path d="M24.2 2.0Q24.1 1.3 22.3 1.4" fill="none" stroke="#9c9ec6" stroke-width="0.5" stroke-opacity="0.6"/><path d="M2.9 11.1Q4.1 10.6 3.7 9.8" fill="none" stroke="#9c9ec6" stroke-width="0.5" stroke-opacity="0.6"/><path d="M22.8 13.1Q22.5 13.0 21.5 13.7" fill="none" stroke="#9c9ec6" stroke-width="0.5" stroke-opacity="0.6"/><circle cx="24.9" cy="13.7" r="0.37" fill="#7e80aa" fill-opacity="0.8"/><circle cx="15.3" cy="26.0" r="0.41" fill="#7e80aa" fill-opacity="0.8"/><circle cx="9.5" cy="15.4" r="0.59" fill="#7e80aa" fill-opacity="0.8"/><circle cx="23.9" cy="21.6" r="0.37" fill="#7e80aa" fill-opacity="0.8"/><circle cx="18.4" cy="20.2" r="0.39" fill="#7e80aa" fill-opacity="0.8"/><circle cx="15.8" cy="4.8" r="0.57" fill="#7e80aa" fill-opacity="0.8"/><circle cx="20.1" cy="19.5" r="0.55" fill="#7e80aa" fill-opacity="0.8"/><circle cx="22.9" cy="10.3" r="0.48" fill="#7e80aa" fill-opacity="0.8"/><circle cx="3.8" cy="20.5" r="0.41" fill="#7e80aa" fill-opacity="0.8"/><circle cx="15.8" cy="24.9" r="0.39" fill="#7e80aa" fill-opacity="0.8"/><circle cx="5.7" cy="24.0" r="0.39" fill="#7e80aa" fill-opacity="0.8"/><circle cx="27.0" cy="28.0" r="0.35" fill="#7e80aa" fill-opacity="0.8"/><circle cx="16.8" cy="28.3" r="0.50" fill="#7e80aa" fill-opacity="0.8"/><circle cx="19.2" cy="4.2" r="0.43" fill="#7e80aa" fill-opacity="0.8"/><circle cx="24.2" cy="0.0" r="0.51" fill="#7e80aa" fill-opacity="0.8"/><circle cx="9.3" cy="8.5" r="0.78" fill="#6e3a44" fill-opacity="0.85"/><circle cx="11.1" cy="15.0" r="0.85" fill="#6e3a44" fill-opacity="0.85"/><circle cx="9.1" cy="28.9" r="0.58" fill="#6e3a44" fill-opacity="0.85"/><circle cx="17.7" cy="1.6" r="0.84" fill="#6e3a44" fill-opacity="0.85"/><circle cx="14.0" cy="14.9" r="0.83" fill="#6e3a44" fill-opacity="0.85"/><circle cx="12.5" cy="0.7" r="0.59" fill="#6e3a44" fill-opacity="0.85"/><circle cx="0.7" cy="1.1" r="0.80" fill="#6e3a44" fill-opacity="0.85"/><circle cx="23.6" cy="21.6" r="0.71" fill="#6e3a44" fill-opacity="0.85"/><circle cx="11.4" cy="17.1" r="0.57" fill="#6e3a44" fill-opacity="0.85"/><circle cx="18.8" cy="23.4" r="0.60" fill="#6e3a44" fill-opacity="0.85"/><circle cx="8.1" cy="10.0" r="0.55" fill="#f8f8fc" fill-opacity="0.85"/><circle cx="27.6" cy="25.0" r="0.62" fill="#f8f8fc" fill-opacity="0.85"/><circle cx="3.1" cy="15.1" r="0.93" fill="#f8f8fc" fill-opacity="0.85"/><circle cx="8.7" cy="22.8" r="0.66" fill="#f8f8fc" fill-opacity="0.85"/><circle cx="5.9" cy="24.3" r="0.90" fill="#f8f8fc" fill-opacity="0.85"/><circle cx="11.6" cy="21.1" r="0.62" fill="#f8f8fc" fill-opacity="0.85"/><circle cx="22.9" cy="19.7" r="0.80" fill="#f8f8fc" fill-opacity="0.85"/><circle cx="9.2" cy="19.0" r="0.57" fill="#f8f8fc" fill-opacity="0.85"/><circle cx="29.1" cy="16.8" r="0.93" fill="#f8f8fc" fill-opacity="0.85"/><circle cx="1.8" cy="3.5" r="0.63" fill="#f8f8fc" fill-opacity="0.85"/><circle cx="5.7" cy="11.4" r="0.82" fill="#f8f8fc" fill-opacity="0.85"/><circle cx="23.1" cy="3.4" r="0.87" fill="#f8f8fc" fill-opacity="0.85"/><circle cx="3.7" cy="22.7" r="1.00" fill="#f8f8fc" fill-opacity="0.85"/><circle cx="21.1" cy="10.5" r="0.64" fill="#f8f8fc" fill-opacity="0.85"/><circle cx="21.7" cy="25.6" r="0.48" fill="#f8f8fc" fill-opacity="0.85"/><circle cx="7.9" cy="26.2" r="0.94" fill="#f8f8fc" fill-opacity="0.85"/><circle cx="6.5" cy="4.7" r="0.43" fill="#f8f8fc" fill-opacity="0.85"/><circle cx="8.5" cy="25.5" r="0.80" fill="#f8f8fc" fill-opacity="0.85"/><circle cx="5.1" cy="4.7" r="0.47" fill="#f8f8fc" fill-opacity="0.85"/><circle cx="11.6" cy="4.0" r="0.47" fill="#f8f8fc" fill-opacity="0.85"/><circle cx="16.6" cy="4.7" r="0.41" fill="#f8f8fc" fill-opacity="0.85"/><circle cx="1.1" cy="23.4" r="0.87" fill="#f8f8fc" fill-opacity="0.85"/><circle cx="0.3" cy="28.6" r="1.00" fill="#f8f8fc" fill-opacity="0.85"/><circle cx="0.3" cy="26.6" r="0.40" fill="#f8f8fc" fill-opacity="0.85"/><circle cx="6.5" cy="3.7" r="0.79" fill="#f8f8fc" fill-opacity="0.85"/><circle cx="19.8" cy="6.5" r="0.81" fill="#f8f8fc" fill-opacity="0.85"/><circle cx="23.6" cy="1.9" r="0.52" fill="#f8f8fc" fill-opacity="0.85"/><circle cx="23.4" cy="0.1" r="0.61" fill="#f8f8fc" fill-opacity="0.85"/><circle cx="8.1" cy="17.7" r="0.41" fill="#f8f8fc" fill-opacity="0.85"/><circle cx="0.1" cy="18.1" r="0.90" fill="#f8f8fc" fill-opacity="0.85"/><circle cx="1.6" cy="18.4" r="0.55" fill="#f8f8fc" fill-opacity="0.85"/><circle cx="24.4" cy="19.8" r="0.84" fill="#f8f8fc" fill-opacity="0.85"/><circle cx="7.2" cy="13.8" r="1.08" fill="#f8f8fc" fill-opacity="0.85"/><circle cx="15.3" cy="20.0" r="0.93" fill="#f8f8fc" fill-opacity="0.85"/><circle cx="8.5" cy="9.2" r="1.08" fill="#f8f8fc" fill-opacity="0.85"/><circle cx="21.1" cy="5.3" r="0.77" fill="#f8f8fc" fill-opacity="0.85"/><circle cx="9.6" cy="20.2" r="0.87" fill="#f8f8fc" fill-opacity="0.85"/><circle cx="25.7" cy="16.9" r="0.49" fill="#f8f8fc" fill-opacity="0.85"/><circle cx="15.6" cy="3.3" r="0.73" fill="#f8f8fc" fill-opacity="0.85"/><circle cx="12.5" cy="10.9" r="0.57" fill="#f8f8fc" fill-opacity="0.85"/><circle cx="4.9" cy="8.0" r="0.86" fill="#f8f8fc" fill-opacity="0.85"/><circle cx="5.0" cy="14.4" r="1.07" fill="#f8f8fc" fill-opacity="0.85"/><circle cx="29.0" cy="22.6" r="0.76" fill="#f8f8fc" fill-opacity="0.85"/><circle cx="17.4" cy="14.4" r="1.02" fill="#f8f8fc" fill-opacity="0.85"/><circle cx="13.2" cy="1.6" r="1.02" fill="#f8f8fc" fill-opacity="0.85"/></pattern><pattern id="derm" patternUnits="userSpaceOnUse" width="40" height="40"><rect width="40" height="40" fill="#f1f1f7"/><line x1="9.7" y1="20.1" x2="11.6" y2="20.7" stroke="#c3c2dc" stroke-width="0.5" stroke-opacity="0.8"/><line x1="9.3" y1="22.1" x2="13.5" y2="21.7" stroke="#c3c2dc" stroke-width="0.5" stroke-opacity="0.8"/><line x1="38.7" y1="29.3" x2="41.8" y2="29.7" stroke="#c3c2dc" stroke-width="0.5" stroke-opacity="0.8"/><line x1="23.4" y1="14.4" x2="27.9" y2="14.0" stroke="#c3c2dc" stroke-width="0.5" stroke-opacity="0.8"/><line x1="39.4" y1="34.1" x2="40.9" y2="33.7" stroke="#c3c2dc" stroke-width="0.5" stroke-opacity="0.8"/><line x1="19.1" y1="32.6" x2="21.1" y2="32.8" stroke="#c3c2dc" stroke-width="0.5" stroke-opacity="0.8"/><line x1="14.7" y1="31.4" x2="18.8" y2="32.5" stroke="#c3c2dc" stroke-width="0.5" stroke-opacity="0.8"/><line x1="7.7" y1="30.4" x2="10.4" y2="31.3" stroke="#c3c2dc" stroke-width="0.5" stroke-opacity="0.8"/><line x1="18.8" y1="36.3" x2="23.0" y2="37.7" stroke="#c3c2dc" stroke-width="0.5" stroke-opacity="0.8"/><line x1="33.0" y1="32.8" x2="36.1" y2="31.7" stroke="#c3c2dc" stroke-width="0.5" stroke-opacity="0.8"/><line x1="39.4" y1="18.6" x2="41.0" y2="18.5" stroke="#c3c2dc" stroke-width="0.5" stroke-opacity="0.8"/><line x1="16.6" y1="8.0" x2="20.7" y2="6.4" stroke="#c3c2dc" stroke-width="0.5" stroke-opacity="0.8"/><line x1="36.2" y1="22.0" x2="38.2" y2="21.7" stroke="#c3c2dc" stroke-width="0.5" stroke-opacity="0.8"/><line x1="18.0" y1="4.7" x2="21.8" y2="5.3" stroke="#c3c2dc" stroke-width="0.5" stroke-opacity="0.8"/><line x1="39.3" y1="33.2" x2="42.7" y2="35.0" stroke="#c3c2dc" stroke-width="0.5" stroke-opacity="0.8"/><line x1="37.3" y1="25.8" x2="40.4" y2="25.8" stroke="#c3c2dc" stroke-width="0.5" stroke-opacity="0.8"/><line x1="32.6" y1="37.0" x2="36.3" y2="38.3" stroke="#c3c2dc" stroke-width="0.5" stroke-opacity="0.8"/><line x1="1.1" y1="16.8" x2="2.9" y2="17.0" stroke="#c3c2dc" stroke-width="0.5" stroke-opacity="0.8"/><line x1="23.2" y1="22.4" x2="27.1" y2="21.3" stroke="#c3c2dc" stroke-width="0.5" stroke-opacity="0.8"/><line x1="29.2" y1="23.5" x2="31.1" y2="24.4" stroke="#c3c2dc" stroke-width="0.5" stroke-opacity="0.8"/><line x1="2.1" y1="18.6" x2="5.2" y2="18.9" stroke="#c3c2dc" stroke-width="0.5" stroke-opacity="0.8"/><line x1="39.3" y1="22.1" x2="43.4" y2="21.2" stroke="#c3c2dc" stroke-width="0.5" stroke-opacity="0.8"/><line x1="19.3" y1="5.9" x2="22.7" y2="5.6" stroke="#c3c2dc" stroke-width="0.5" stroke-opacity="0.8"/><line x1="31.4" y1="4.5" x2="34.0" y2="5.8" stroke="#c3c2dc" stroke-width="0.5" stroke-opacity="0.8"/><line x1="0.5" y1="26.4" x2="3.9" y2="27.2" stroke="#c3c2dc" stroke-width="0.5" stroke-opacity="0.8"/><line x1="22.3" y1="20.0" x2="26.6" y2="19.1" stroke="#c3c2dc" stroke-width="0.5" stroke-opacity="0.8"/><line x1="28.1" y1="26.7" x2="31.8" y2="26.7" stroke="#c3c2dc" stroke-width="0.5" stroke-opacity="0.8"/><line x1="0.7" y1="31.0" x2="2.9" y2="31.7" stroke="#c3c2dc" stroke-width="0.5" stroke-opacity="0.8"/><line x1="39.5" y1="31.1" x2="42.0" y2="32.0" stroke="#c3c2dc" stroke-width="0.5" stroke-opacity="0.8"/><line x1="15.4" y1="12.8" x2="18.6" y2="13.3" stroke="#c3c2dc" stroke-width="0.5" stroke-opacity="0.8"/><line x1="27.4" y1="22.1" x2="30.1" y2="22.8" stroke="#c3c2dc" stroke-width="0.5" stroke-opacity="0.8"/><line x1="13.0" y1="24.3" x2="14.4" y2="23.7" stroke="#c3c2dc" stroke-width="0.5" stroke-opacity="0.8"/><line x1="34.7" y1="8.6" x2="37.2" y2="7.4" stroke="#c3c2dc" stroke-width="0.5" stroke-opacity="0.8"/><line x1="30.6" y1="13.1" x2="32.2" y2="12.8" stroke="#c3c2dc" stroke-width="0.5" stroke-opacity="0.8"/><line x1="37.2" y1="30.2" x2="38.6" y2="30.9" stroke="#c3c2dc" stroke-width="0.5" stroke-opacity="0.8"/><line x1="2.9" y1="19.4" x2="5.9" y2="20.2" stroke="#c3c2dc" stroke-width="0.5" stroke-opacity="0.8"/><line x1="5.7" y1="33.0" x2="7.9" y2="33.5" stroke="#c3c2dc" stroke-width="0.5" stroke-opacity="0.8"/><line x1="37.1" y1="23.6" x2="38.6" y2="23.9" stroke="#c3c2dc" stroke-width="0.5" stroke-opacity="0.8"/><line x1="17.4" y1="29.2" x2="21.0" y2="27.7" stroke="#c3c2dc" stroke-width="0.5" stroke-opacity="0.8"/><line x1="22.7" y1="25.7" x2="27.0" y2="26.2" stroke="#c3c2dc" stroke-width="0.5" stroke-opacity="0.8"/><line x1="24.6" y1="30.8" x2="26.4" y2="31.4" stroke="#c3c2dc" stroke-width="0.5" stroke-opacity="0.8"/><line x1="23.2" y1="25.4" x2="25.2" y2="25.5" stroke="#c3c2dc" stroke-width="0.5" stroke-opacity="0.8"/><line x1="16.4" y1="8.2" x2="20.4" y2="9.7" stroke="#c3c2dc" stroke-width="0.5" stroke-opacity="0.8"/><line x1="18.4" y1="3.0" x2="22.5" y2="1.3" stroke="#c3c2dc" stroke-width="0.5" stroke-opacity="0.8"/><line x1="20.3" y1="22.6" x2="24.3" y2="23.2" stroke="#c3c2dc" stroke-width="0.5" stroke-opacity="0.8"/><line x1="24.1" y1="20.5" x2="28.4" y2="21.9" stroke="#c3c2dc" stroke-width="0.5" stroke-opacity="0.8"/><line x1="14.2" y1="31.8" x2="18.6" y2="31.7" stroke="#c3c2dc" stroke-width="0.5" stroke-opacity="0.8"/><line x1="3.4" y1="2.7" x2="7.6" y2="1.4" stroke="#c3c2dc" stroke-width="0.5" stroke-opacity="0.8"/><line x1="32.2" y1="7.7" x2="34.2" y2="7.0" stroke="#c3c2dc" stroke-width="0.5" stroke-opacity="0.8"/><line x1="32.6" y1="3.7" x2="35.4" y2="4.6" stroke="#c3c2dc" stroke-width="0.5" stroke-opacity="0.8"/><line x1="21.1" y1="0.4" x2="22.5" y2="0.9" stroke="#c3c2dc" stroke-width="0.5" stroke-opacity="0.8"/><line x1="12.0" y1="3.3" x2="15.0" y2="4.2" stroke="#c3c2dc" stroke-width="0.5" stroke-opacity="0.8"/><line x1="12.1" y1="5.4" x2="14.2" y2="5.3" stroke="#c3c2dc" stroke-width="0.5" stroke-opacity="0.8"/><line x1="31.2" y1="3.3" x2="34.9" y2="4.0" stroke="#c3c2dc" stroke-width="0.5" stroke-opacity="0.8"/><line x1="22.3" y1="15.3" x2="23.9" y2="15.3" stroke="#c3c2dc" stroke-width="0.5" stroke-opacity="0.8"/><line x1="16.5" y1="27.2" x2="18.1" y2="26.6" stroke="#c3c2dc" stroke-width="0.5" stroke-opacity="0.8"/><line x1="0.7" y1="19.5" x2="2.4" y2="19.5" stroke="#c3c2dc" stroke-width="0.5" stroke-opacity="0.8"/><line x1="17.5" y1="13.2" x2="19.4" y2="14.1" stroke="#c3c2dc" stroke-width="0.5" stroke-opacity="0.8"/><line x1="19.2" y1="4.1" x2="22.3" y2="4.9" stroke="#c3c2dc" stroke-width="0.5" stroke-opacity="0.8"/><line x1="19.5" y1="35.6" x2="23.5" y2="36.4" stroke="#c3c2dc" stroke-width="0.5" stroke-opacity="0.8"/><line x1="1.0" y1="16.1" x2="3.9" y2="15.1" stroke="#c3c2dc" stroke-width="0.5" stroke-opacity="0.8"/><line x1="20.0" y1="26.7" x2="23.6" y2="27.7" stroke="#c3c2dc" stroke-width="0.5" stroke-opacity="0.8"/><line x1="29.9" y1="12.0" x2="33.2" y2="12.0" stroke="#c3c2dc" stroke-width="0.5" stroke-opacity="0.8"/><line x1="30.3" y1="4.9" x2="32.3" y2="5.3" stroke="#c3c2dc" stroke-width="0.5" stroke-opacity="0.8"/><line x1="29.0" y1="9.2" x2="32.6" y2="10.2" stroke="#c3c2dc" stroke-width="0.5" stroke-opacity="0.8"/><line x1="25.9" y1="18.5" x2="27.5" y2="18.0" stroke="#c3c2dc" stroke-width="0.5" stroke-opacity="0.8"/><line x1="30.6" y1="37.3" x2="32.4" y2="36.4" stroke="#c3c2dc" stroke-width="0.5" stroke-opacity="0.8"/><line x1="14.0" y1="37.6" x2="15.9" y2="38.5" stroke="#c3c2dc" stroke-width="0.5" stroke-opacity="0.8"/><line x1="31.4" y1="33.6" x2="35.8" y2="34.4" stroke="#c3c2dc" stroke-width="0.5" stroke-opacity="0.8"/><line x1="7.9" y1="17.3" x2="10.6" y2="17.8" stroke="#c3c2dc" stroke-width="0.5" stroke-opacity="0.8"/><circle cx="14.1" cy="29.3" r="0.31" fill="#b4b3d0"/><circle cx="8.9" cy="8.9" r="0.34" fill="#b4b3d0"/><circle cx="30.0" cy="35.0" r="0.32" fill="#b4b3d0"/><circle cx="19.1" cy="0.3" r="0.36" fill="#b4b3d0"/><circle cx="5.8" cy="27.7" r="0.51" fill="#b4b3d0"/><circle cx="33.7" cy="11.0" r="0.40" fill="#b4b3d0"/><circle cx="9.2" cy="26.5" r="0.36" fill="#b4b3d0"/><circle cx="30.7" cy="18.8" r="0.44" fill="#b4b3d0"/><circle cx="34.9" cy="37.0" r="0.37" fill="#b4b3d0"/><circle cx="29.1" cy="10.9" r="0.30" fill="#b4b3d0"/><circle cx="34.0" cy="7.6" r="0.37" fill="#b4b3d0"/><circle cx="28.7" cy="34.0" r="0.40" fill="#b4b3d0"/><circle cx="28.6" cy="15.8" r="0.30" fill="#b4b3d0"/><circle cx="22.1" cy="6.9" r="0.35" fill="#b4b3d0"/><circle cx="16.3" cy="25.8" r="0.35" fill="#b4b3d0"/><circle cx="8.8" cy="22.8" r="0.37" fill="#b4b3d0"/><circle cx="22.4" cy="27.0" r="0.38" fill="#b4b3d0"/><circle cx="35.9" cy="38.7" r="0.31" fill="#b4b3d0"/><circle cx="2.6" cy="4.4" r="0.42" fill="#b4b3d0"/><circle cx="12.0" cy="29.3" r="0.55" fill="#b4b3d0"/><circle cx="18.1" cy="11.0" r="0.36" fill="#b4b3d0"/><circle cx="36.4" cy="32.6" r="0.52" fill="#b4b3d0"/><circle cx="40.0" cy="18.1" r="0.49" fill="#b4b3d0"/><circle cx="13.5" cy="5.6" r="0.47" fill="#b4b3d0"/><circle cx="14.8" cy="21.6" r="0.44" fill="#b4b3d0"/><circle cx="9.7" cy="0.9" r="0.49" fill="#b4b3d0"/><circle cx="30.4" cy="30.6" r="0.38" fill="#b4b3d0"/><circle cx="13.4" cy="25.1" r="0.39" fill="#b4b3d0"/><circle cx="29.8" cy="20.8" r="0.43" fill="#b4b3d0"/><circle cx="34.2" cy="4.7" r="0.35" fill="#b4b3d0"/><circle cx="20.9" cy="34.1" r="0.53" fill="#7e7cab"/><circle cx="35.1" cy="7.9" r="0.38" fill="#7e7cab"/><circle cx="9.9" cy="9.1" r="0.34" fill="#7e7cab"/><circle cx="6.1" cy="32.7" r="0.43" fill="#7e7cab"/><circle cx="38.9" cy="25.0" r="0.49" fill="#7e7cab"/><circle cx="37.3" cy="21.9" r="0.36" fill="#7e7cab"/></pattern><pattern id="bandp" patternUnits="userSpaceOnUse" width="24" height="24"><rect width="24" height="24" fill="#e0dfed"/><circle cx="23.5" cy="1.3" r="0.66" fill="#aeadd0" fill-opacity="0.8"/><circle cx="11.6" cy="22.6" r="0.50" fill="#aeadd0" fill-opacity="0.8"/><circle cx="22.1" cy="3.8" r="0.80" fill="#aeadd0" fill-opacity="0.8"/><circle cx="9.9" cy="4.4" r="0.47" fill="#aeadd0" fill-opacity="0.8"/><circle cx="15.1" cy="0.8" r="0.49" fill="#aeadd0" fill-opacity="0.8"/><circle cx="0.3" cy="1.7" r="0.39" fill="#aeadd0" fill-opacity="0.8"/><circle cx="5.5" cy="6.6" r="0.69" fill="#aeadd0" fill-opacity="0.8"/><circle cx="10.0" cy="20.6" r="0.75" fill="#aeadd0" fill-opacity="0.8"/><circle cx="21.5" cy="22.7" r="0.59" fill="#aeadd0" fill-opacity="0.8"/><circle cx="16.1" cy="21.2" r="0.57" fill="#aeadd0" fill-opacity="0.8"/><circle cx="3.4" cy="12.5" r="0.57" fill="#aeadd0" fill-opacity="0.8"/><circle cx="4.3" cy="2.2" r="0.39" fill="#aeadd0" fill-opacity="0.8"/><circle cx="16.7" cy="19.5" r="0.63" fill="#aeadd0" fill-opacity="0.8"/><circle cx="10.2" cy="0.7" r="0.30" fill="#aeadd0" fill-opacity="0.8"/><circle cx="15.7" cy="12.7" r="0.53" fill="#aeadd0" fill-opacity="0.8"/><circle cx="4.1" cy="3.0" r="0.39" fill="#aeadd0" fill-opacity="0.8"/><circle cx="3.1" cy="14.4" r="0.45" fill="#aeadd0" fill-opacity="0.8"/><circle cx="13.3" cy="10.3" r="0.57" fill="#aeadd0" fill-opacity="0.8"/><circle cx="17.9" cy="18.7" r="0.37" fill="#aeadd0" fill-opacity="0.8"/><circle cx="23.0" cy="20.5" r="0.71" fill="#aeadd0" fill-opacity="0.8"/><circle cx="10.9" cy="22.8" r="0.71" fill="#aeadd0" fill-opacity="0.8"/><circle cx="5.7" cy="16.5" r="0.72" fill="#aeadd0" fill-opacity="0.8"/><circle cx="18.1" cy="21.6" r="0.56" fill="#aeadd0" fill-opacity="0.8"/><circle cx="16.1" cy="1.8" r="0.63" fill="#aeadd0" fill-opacity="0.8"/><circle cx="3.5" cy="17.4" r="0.75" fill="#aeadd0" fill-opacity="0.8"/><circle cx="8.9" cy="1.7" r="0.32" fill="#aeadd0" fill-opacity="0.8"/><circle cx="12.4" cy="3.7" r="0.67" fill="#aeadd0" fill-opacity="0.8"/><circle cx="14.6" cy="12.0" r="0.64" fill="#aeadd0" fill-opacity="0.8"/><circle cx="3.6" cy="11.0" r="0.32" fill="#aeadd0" fill-opacity="0.8"/><circle cx="13.1" cy="19.0" r="0.38" fill="#aeadd0" fill-opacity="0.8"/><circle cx="16.5" cy="23.9" r="0.46" fill="#aeadd0" fill-opacity="0.8"/><circle cx="5.0" cy="6.1" r="0.72" fill="#aeadd0" fill-opacity="0.8"/><circle cx="1.9" cy="18.6" r="0.43" fill="#aeadd0" fill-opacity="0.8"/><circle cx="18.1" cy="21.3" r="0.72" fill="#aeadd0" fill-opacity="0.8"/><circle cx="4.6" cy="13.2" r="0.46" fill="#aeadd0" fill-opacity="0.8"/><circle cx="21.0" cy="7.1" r="0.38" fill="#aeadd0" fill-opacity="0.8"/><circle cx="9.7" cy="2.1" r="0.41" fill="#aeadd0" fill-opacity="0.8"/><circle cx="16.9" cy="7.8" r="0.39" fill="#aeadd0" fill-opacity="0.8"/><circle cx="22.4" cy="6.3" r="0.70" fill="#aeadd0" fill-opacity="0.8"/><circle cx="16.4" cy="13.3" r="0.62" fill="#aeadd0" fill-opacity="0.8"/><circle cx="13.9" cy="20.2" r="0.65" fill="#aeadd0" fill-opacity="0.8"/><circle cx="6.4" cy="15.7" r="0.55" fill="#aeadd0" fill-opacity="0.8"/><circle cx="22.1" cy="2.8" r="0.53" fill="#aeadd0" fill-opacity="0.8"/><circle cx="23.2" cy="1.6" r="0.66" fill="#aeadd0" fill-opacity="0.8"/><circle cx="21.6" cy="14.6" r="0.33" fill="#aeadd0" fill-opacity="0.8"/><circle cx="18.6" cy="6.3" r="0.56" fill="#aeadd0" fill-opacity="0.8"/><circle cx="19.6" cy="7.5" r="0.42" fill="#aeadd0" fill-opacity="0.8"/><circle cx="2.8" cy="8.2" r="0.35" fill="#aeadd0" fill-opacity="0.8"/><circle cx="16.7" cy="19.9" r="0.33" fill="#aeadd0" fill-opacity="0.8"/><circle cx="12.7" cy="19.0" r="0.69" fill="#aeadd0" fill-opacity="0.8"/><circle cx="6.4" cy="12.7" r="0.64" fill="#aeadd0" fill-opacity="0.8"/><circle cx="12.5" cy="24.0" r="0.76" fill="#aeadd0" fill-opacity="0.8"/><circle cx="23.2" cy="3.0" r="0.31" fill="#aeadd0" fill-opacity="0.8"/><circle cx="14.2" cy="13.9" r="0.43" fill="#aeadd0" fill-opacity="0.8"/><circle cx="5.8" cy="18.9" r="0.70" fill="#aeadd0" fill-opacity="0.8"/><circle cx="0.3" cy="2.9" r="0.66" fill="#aeadd0" fill-opacity="0.8"/><circle cx="10.1" cy="3.7" r="0.77" fill="#aeadd0" fill-opacity="0.8"/><circle cx="7.9" cy="1.9" r="0.51" fill="#aeadd0" fill-opacity="0.8"/><circle cx="9.7" cy="15.5" r="0.68" fill="#aeadd0" fill-opacity="0.8"/><circle cx="2.0" cy="11.3" r="0.75" fill="#aeadd0" fill-opacity="0.8"/><circle cx="11.7" cy="21.3" r="0.57" fill="#8886b6" fill-opacity="0.8"/><circle cx="19.3" cy="15.6" r="0.33" fill="#8886b6" fill-opacity="0.8"/><circle cx="23.6" cy="7.2" r="0.39" fill="#8886b6" fill-opacity="0.8"/><circle cx="12.1" cy="12.8" r="0.53" fill="#8886b6" fill-opacity="0.8"/><circle cx="12.9" cy="22.1" r="0.54" fill="#8886b6" fill-opacity="0.8"/><circle cx="15.5" cy="6.6" r="0.49" fill="#8886b6" fill-opacity="0.8"/><circle cx="12.0" cy="18.2" r="0.38" fill="#8886b6" fill-opacity="0.8"/><circle cx="19.0" cy="17.1" r="0.35" fill="#8886b6" fill-opacity="0.8"/><circle cx="22.5" cy="11.6" r="0.43" fill="#8886b6" fill-opacity="0.8"/><circle cx="8.1" cy="9.3" r="0.54" fill="#8886b6" fill-opacity="0.8"/><circle cx="22.1" cy="11.3" r="0.46" fill="#8886b6" fill-opacity="0.8"/><circle cx="11.3" cy="2.9" r="0.57" fill="#8886b6" fill-opacity="0.8"/><circle cx="10.1" cy="0.6" r="0.37" fill="#8886b6" fill-opacity="0.8"/><circle cx="7.2" cy="18.9" r="0.35" fill="#8886b6" fill-opacity="0.8"/><circle cx="3.8" cy="21.7" r="0.39" fill="#8886b6" fill-opacity="0.8"/><circle cx="22.3" cy="0.2" r="0.33" fill="#8886b6" fill-opacity="0.8"/><circle cx="5.0" cy="9.4" r="0.46" fill="#8886b6" fill-opacity="0.8"/><circle cx="7.9" cy="23.1" r="0.58" fill="#8886b6" fill-opacity="0.8"/><circle cx="13.6" cy="23.7" r="0.82" fill="#f4f4f9" fill-opacity="0.8"/><circle cx="23.4" cy="14.1" r="0.36" fill="#f4f4f9" fill-opacity="0.8"/><circle cx="13.6" cy="1.2" r="0.55" fill="#f4f4f9" fill-opacity="0.8"/><circle cx="23.9" cy="9.5" r="0.71" fill="#f4f4f9" fill-opacity="0.8"/><circle cx="22.8" cy="17.0" r="0.53" fill="#f4f4f9" fill-opacity="0.8"/><circle cx="12.3" cy="2.9" r="0.77" fill="#f4f4f9" fill-opacity="0.8"/><circle cx="15.6" cy="7.8" r="0.56" fill="#f4f4f9" fill-opacity="0.8"/><circle cx="20.5" cy="1.2" r="0.43" fill="#f4f4f9" fill-opacity="0.8"/><circle cx="15.1" cy="19.0" r="0.62" fill="#f4f4f9" fill-opacity="0.8"/><circle cx="15.1" cy="0.2" r="0.64" fill="#f4f4f9" fill-opacity="0.8"/><circle cx="13.3" cy="1.8" r="0.62" fill="#f4f4f9" fill-opacity="0.8"/><circle cx="6.1" cy="8.3" r="0.77" fill="#f4f4f9" fill-opacity="0.8"/><circle cx="20.1" cy="0.3" r="0.35" fill="#f4f4f9" fill-opacity="0.8"/><circle cx="15.3" cy="22.2" r="0.68" fill="#f4f4f9" fill-opacity="0.8"/><circle cx="8.2" cy="17.9" r="0.85" fill="#f4f4f9" fill-opacity="0.8"/><circle cx="1.6" cy="0.9" r="0.56" fill="#f4f4f9" fill-opacity="0.8"/><circle cx="17.1" cy="12.5" r="0.59" fill="#f4f4f9" fill-opacity="0.8"/><circle cx="3.8" cy="4.0" r="0.33" fill="#f4f4f9" fill-opacity="0.8"/><circle cx="11.2" cy="6.3" r="0.65" fill="#f4f4f9" fill-opacity="0.8"/><circle cx="11.2" cy="7.7" r="0.76" fill="#f4f4f9" fill-opacity="0.8"/><circle cx="8.1" cy="11.1" r="0.57" fill="#f4f4f9" fill-opacity="0.8"/><circle cx="16.8" cy="23.5" r="0.74" fill="#f4f4f9" fill-opacity="0.8"/><circle cx="0.0" cy="18.0" r="0.61" fill="#f4f4f9" fill-opacity="0.8"/><circle cx="15.4" cy="0.8" r="0.31" fill="#f4f4f9" fill-opacity="0.8"/><circle cx="0.4" cy="2.8" r="0.37" fill="#f4f4f9" fill-opacity="0.8"/><circle cx="17.0" cy="18.3" r="0.55" fill="#f4f4f9" fill-opacity="0.8"/><circle cx="5.2" cy="10.5" r="0.37" fill="#f4f4f9" fill-opacity="0.8"/><circle cx="5.9" cy="10.7" r="0.84" fill="#f4f4f9" fill-opacity="0.8"/><circle cx="17.4" cy="2.7" r="0.78" fill="#f4f4f9" fill-opacity="0.8"/><circle cx="23.5" cy="21.3" r="0.40" fill="#f4f4f9" fill-opacity="0.8"/></pattern></defs>
<rect width="520" height="575" fill="#fff"/>
<text x="3.7" y="8.6" font-size="10" font-weight="bold" fill="#000">A</text>
<text x="24.8" y="13.4" font-size="7.7">Capan-2 (<tspan font-style="italic">KRAS</tspan><tspan dy="-2.8" font-size="5.2">G12V/WT</tspan><tspan dy="2.8">, PDAC)</tspan></text>
<text x="33.6" y="28.9" font-size="7.6">Dose (shape)</text>
<circle cx="35.6" cy="36.4" r="1" fill="#1e1e1e"/>
<text x="38.1" y="38.3" font-size="5.5" class="s">0.3 mg/kg</text>
<rect x="65.6" y="35.4" width="2" height="2" fill="#1e1e1e"/>
<text x="69.1" y="38.3" font-size="5.5" class="s">3 mg/kg</text>
<path d="M97.2 35.2L98.4 37.4L96 37.4Z" fill="#1e1e1e"/>
<text x="99.7" y="38.3" font-size="5.5" class="s">10 mg/kg</text>
<path d="M127.4 35.1L128.5 36.4L127.4 37.7L126.3 36.4Z" fill="#1e1e1e"/>
<text x="129.9" y="38.3" font-size="5.5" class="s">25 mg/kg</text>
<path d="M35.6 46.4L36.8 44.2L34.4 44.2Z" fill="#1e1e1e"/>
<text x="38.1" y="47.1" font-size="5.5" class="s">40 mg/kg</text>
<circle cx="66.6" cy="45.2" r="1" fill="#1e1e1e"/>
<text x="69.1" y="47.1" font-size="5.5" class="s">50 mg/kg</text>
<rect x="96.2" y="44.2" width="2" height="2" fill="#1e1e1e"/>
<text x="99.7" y="47.1" font-size="5.5" class="s">100 mg/kg</text>
<line x1="39.2" y1="63.23" x2="124.5" y2="63.23" stroke="#9a9a9a" stroke-width="0.8" stroke-dasharray="1 1"/>
<line x1="39.2" y1="86.15" x2="124.5" y2="86.15" stroke="#c0c0c0" stroke-width="0.8"/>
<path d="M82.14 59.38L83.46 60.94L82.14 62.5L80.82 60.94Z" fill="#8cc47a"/>
<rect x="83.56" y="60.31" width="2.4" height="2.4" fill="#74a7dc"/>
<path d="M88.14 58.35L89.58 60.99L86.7 60.99Z" fill="#74a7dc"/>
<circle cx="93.39" cy="59.22" r="1.2" fill="#b8ad72"/>
<circle cx="98.64" cy="58.93" r="1.2" fill="#ec8e92"/>
<circle cx="103.89" cy="58.07" r="1.2" fill="#b8ad72"/>
<path d="M108.95 58.94L110.39 56.3L107.51 56.3Z" fill="#ec8e92"/>
<circle cx="112.33" cy="59.79" r="1.2" fill="#b8ad72"/>
<path d="M79.51 65.11L80.83 66.67L79.51 68.23L78.19 66.67Z" fill="#b8ad72"/>
<path d="M79.51 72.69L80.95 70.05L78.07 70.05Z" fill="#b8ad72"/>
<circle cx="80.45" cy="73.54" r="1.2" fill="#ec8e92"/>
<path d="M83.08 70.97L84.52 68.33L81.64 68.33Z" fill="#b8ad72"/>
<rect x="88.62" y="66.61" width="2.4" height="2.4" fill="#ec8e92"/>
<circle cx="93.39" cy="66.09" r="1.2" fill="#b8ad72"/>
<circle cx="99.39" cy="70.11" r="1.2" fill="#b8ad72"/>
<path d="M105.58 64.66L107.02 67.3L104.14 67.3Z" fill="#ec8e92"/>
<path d="M85.51 76.69L86.95 79.33L84.07 79.33Z" fill="#ec8e92"/>
<circle cx="77.08" cy="83.28" r="1.2" fill="#74a7dc"/>
<rect x="76.62" y="85.52" width="2.4" height="2.4" fill="#74a7dc"/>
<circle cx="77.08" cy="90.73" r="1.2" fill="#74a7dc"/>
<path d="M70.89 100.77L72.33 98.13L69.45 98.13Z" fill="#74a7dc"/>
<path d="M61.33 92.16L62.77 94.8L59.89 94.8Z" fill="#74a7dc"/>
<circle cx="62.26" cy="99.33" r="1.2" fill="#b8ad72"/>
<path d="M63.95 110.51L65.39 107.87L62.51 107.87Z" fill="#b8ad72"/>
<circle cx="75.95" cy="109.07" r="1.2" fill="#74a7dc"/>
<rect x="57.69" y="111.31" width="2.4" height="2.4" fill="#b8ad72"/>
<circle cx="55.33" cy="114.8" r="1.2" fill="#74a7dc"/>
<circle cx="60.58" cy="114.8" r="1.2" fill="#74a7dc"/>
<path d="M77.83 116.24L79.27 113.6L76.39 113.6Z" fill="#74a7dc"/>
<circle cx="86.08" cy="63.23" r="1.2" fill="#8cc47a"/>
<path d="M87.01 60.66L88.45 58.02L85.57 58.02Z" fill="#74a7dc"/>
<path d="M90.76 60.09L92.2 57.45L89.32 57.45Z" fill="#b07cb6"/>
<path d="M95.45 60.64L96.89 63.28L94.01 63.28Z" fill="#b8ad72"/>
<circle cx="101.08" cy="60.37" r="1.2" fill="#ec8e92"/>
<rect x="81.12" y="63.18" width="2.4" height="2.4" fill="#b07cb6"/>
<circle cx="78.58" cy="80.42" r="1.2" fill="#b07cb6"/>
<path d="M67.33 105.93L68.77 103.29L65.89 103.29Z" fill="#b8ad72"/>
<rect x="86.75" y="70.62" width="2.4" height="2.4" fill="#b8ad72"/>
<path d="M110.45 57.09L111.77 58.65L110.45 60.21L109.13 58.65Z" fill="#b8ad72"/>
<path d="M84.2 73.25L85.64 75.89L82.76 75.89Z" fill="#ec8e92"/>
<rect x="73.62" y="105" width="2.4" height="2.4" fill="#b07cb6"/>
<path d="M81.39 60.66L82.83 58.02L79.95 58.02Z" fill="#74a7dc"/>
<circle cx="94.51" cy="57.5" r="1.2" fill="#74a7dc"/>
<path d="M52.70 111.20C53.72 110.70 56.75 109.60 58.80 108.20C60.85 106.80 63.07 104.73 65.00 102.80C66.93 100.87 68.73 98.78 70.40 96.60C72.07 94.42 73.72 91.88 75.00 89.70C76.28 87.52 77.07 85.68 78.10 83.50C79.13 81.32 80.18 78.77 81.20 76.60C82.22 74.43 83.05 72.42 84.20 70.50C85.35 68.58 86.68 66.65 88.10 65.10C89.52 63.55 91.03 62.23 92.70 61.20C94.37 60.17 95.80 59.47 98.10 58.90C100.40 58.33 103.05 58.03 106.50 57.80C109.95 57.57 116.75 57.55 118.80 57.50" fill="none" stroke="#111" stroke-width="1.3"/>
<line x1="39.2" y1="57" x2="39.2" y2="115.3" stroke="#1e1e1e" stroke-width="1.1"/>
<line x1="38.7" y1="115.15" x2="121.5" y2="115.15" stroke="#444" stroke-width="1.3"/>
<line x1="36.7" y1="114.8" x2="39.2" y2="114.8" stroke="#1e1e1e" stroke-width="0.9"/>
<text x="34.4" y="117.4" font-size="7.4" text-anchor="end">0</text>
<line x1="36.7" y1="100.47" x2="39.2" y2="100.47" stroke="#1e1e1e" stroke-width="0.9"/>
<text x="34.4" y="103.07" font-size="7.4" text-anchor="end">25</text>
<line x1="36.7" y1="86.15" x2="39.2" y2="86.15" stroke="#1e1e1e" stroke-width="0.9"/>
<text x="34.4" y="88.75" font-size="7.4" text-anchor="end">50</text>
<line x1="36.7" y1="71.83" x2="39.2" y2="71.83" stroke="#1e1e1e" stroke-width="0.9"/>
<text x="34.4" y="74.42" font-size="7.4" text-anchor="end">75</text>
<line x1="36.7" y1="57.5" x2="39.2" y2="57.5" stroke="#1e1e1e" stroke-width="0.9"/>
<text x="34.4" y="60.1" font-size="7.4" text-anchor="end">100</text>
<line x1="39.2" y1="114.8" x2="39.2" y2="117" stroke="#1e1e1e" stroke-width="0.9"/>
<line x1="44.84" y1="114.8" x2="44.84" y2="116" stroke="#1e1e1e" stroke-width="0.5"/>
<line x1="48.15" y1="114.8" x2="48.15" y2="116" stroke="#1e1e1e" stroke-width="0.5"/>
<line x1="50.49" y1="114.8" x2="50.49" y2="116" stroke="#1e1e1e" stroke-width="0.5"/>
<line x1="52.31" y1="114.8" x2="52.31" y2="116" stroke="#1e1e1e" stroke-width="0.5"/>
<line x1="53.79" y1="114.8" x2="53.79" y2="116" stroke="#1e1e1e" stroke-width="0.5"/>
<line x1="55.05" y1="114.8" x2="55.05" y2="116" stroke="#1e1e1e" stroke-width="0.5"/>
<line x1="56.13" y1="114.8" x2="56.13" y2="116" stroke="#1e1e1e" stroke-width="0.5"/>
<line x1="57.09" y1="114.8" x2="57.09" y2="116" stroke="#1e1e1e" stroke-width="0.5"/>
<text x="39.8" y="126.7" font-size="7.4" text-anchor="middle">10<tspan dy="-2.6" font-size="5.03">0</tspan></text>
<line x1="57.95" y1="114.8" x2="57.95" y2="117" stroke="#1e1e1e" stroke-width="0.9"/>
<line x1="63.59" y1="114.8" x2="63.59" y2="116" stroke="#1e1e1e" stroke-width="0.5"/>
<line x1="66.9" y1="114.8" x2="66.9" y2="116" stroke="#1e1e1e" stroke-width="0.5"/>
<line x1="69.24" y1="114.8" x2="69.24" y2="116" stroke="#1e1e1e" stroke-width="0.5"/>
<line x1="71.06" y1="114.8" x2="71.06" y2="116" stroke="#1e1e1e" stroke-width="0.5"/>
<line x1="72.54" y1="114.8" x2="72.54" y2="116" stroke="#1e1e1e" stroke-width="0.5"/>
<line x1="73.8" y1="114.8" x2="73.8" y2="116" stroke="#1e1e1e" stroke-width="0.5"/>
<line x1="74.88" y1="114.8" x2="74.88" y2="116" stroke="#1e1e1e" stroke-width="0.5"/>
<line x1="75.84" y1="114.8" x2="75.84" y2="116" stroke="#1e1e1e" stroke-width="0.5"/>
<text x="58.55" y="126.7" font-size="7.4" text-anchor="middle">10<tspan dy="-2.6" font-size="5.03">1</tspan></text>
<line x1="76.7" y1="114.8" x2="76.7" y2="117" stroke="#1e1e1e" stroke-width="0.9"/>
<line x1="82.34" y1="114.8" x2="82.34" y2="116" stroke="#1e1e1e" stroke-width="0.5"/>
<line x1="85.65" y1="114.8" x2="85.65" y2="116" stroke="#1e1e1e" stroke-width="0.5"/>
<line x1="87.99" y1="114.8" x2="87.99" y2="116" stroke="#1e1e1e" stroke-width="0.5"/>
<line x1="89.81" y1="114.8" x2="89.81" y2="116" stroke="#1e1e1e" stroke-width="0.5"/>
<line x1="91.29" y1="114.8" x2="91.29" y2="116" stroke="#1e1e1e" stroke-width="0.5"/>
<line x1="92.55" y1="114.8" x2="92.55" y2="116" stroke="#1e1e1e" stroke-width="0.5"/>
<line x1="93.63" y1="114.8" x2="93.63" y2="116" stroke="#1e1e1e" stroke-width="0.5"/>
<line x1="94.59" y1="114.8" x2="94.59" y2="116" stroke="#1e1e1e" stroke-width="0.5"/>
<text x="77.3" y="126.7" font-size="7.4" text-anchor="middle">10<tspan dy="-2.6" font-size="5.03">2</tspan></text>
<line x1="95.45" y1="114.8" x2="95.45" y2="117" stroke="#1e1e1e" stroke-width="0.9"/>
<line x1="101.09" y1="114.8" x2="101.09" y2="116" stroke="#1e1e1e" stroke-width="0.5"/>
<line x1="104.4" y1="114.8" x2="104.4" y2="116" stroke="#1e1e1e" stroke-width="0.5"/>
<line x1="106.74" y1="114.8" x2="106.74" y2="116" stroke="#1e1e1e" stroke-width="0.5"/>
<line x1="108.56" y1="114.8" x2="108.56" y2="116" stroke="#1e1e1e" stroke-width="0.5"/>
<line x1="110.04" y1="114.8" x2="110.04" y2="116" stroke="#1e1e1e" stroke-width="0.5"/>
<line x1="111.3" y1="114.8" x2="111.3" y2="116" stroke="#1e1e1e" stroke-width="0.5"/>
<line x1="112.38" y1="114.8" x2="112.38" y2="116" stroke="#1e1e1e" stroke-width="0.5"/>
<line x1="113.34" y1="114.8" x2="113.34" y2="116" stroke="#1e1e1e" stroke-width="0.5"/>
<text x="96.05" y="126.7" font-size="7.4" text-anchor="middle">10<tspan dy="-2.6" font-size="5.03">3</tspan></text>
<line x1="114.2" y1="114.8" x2="114.2" y2="117" stroke="#1e1e1e" stroke-width="0.9"/>
<text x="114.8" y="126.7" font-size="7.4" text-anchor="middle">10<tspan dy="-2.6" font-size="5.03">4</tspan></text>
<text x="78.5" y="135.9" font-size="7.4" text-anchor="middle">Tumor [RMC-6236] (nmol/L)</text>
<text x="9.9" y="86" font-size="7.4" text-anchor="middle" transform="rotate(-90 9.9 86)">Tumor <tspan font-style="italic">DUSP6</tspan></text>
<text x="18.8" y="86" font-size="7.65" text-anchor="middle" transform="rotate(-90 18.8 86)">% Reduction relative to control</text>
<text x="41.8" y="59.3" font-size="5.3" class="s">EC<tspan dy="1.3" font-size="3.6">90</tspan><tspan dy="-1.3"> = 809 nmol/L</tspan></text>
<text x="82.5" y="94.3" font-size="5.3" class="s">EC<tspan dy="1.3" font-size="3.6">50</tspan><tspan dy="-1.3"> = 90 nmol/L</tspan></text>
<text x="130.2" y="66.9" font-size="7.4">Time (color)</text>
<circle cx="138.8" cy="73.8" r="1" fill="#b8ad72"/>
<text x="143.5" y="76.2" font-size="7.4">2 h</text>
<circle cx="138.8" cy="81.05" r="1" fill="#ec8e92"/>
<text x="143.5" y="83.45" font-size="7.4">4 h</text>
<circle cx="138.8" cy="88.3" r="1" fill="#8cc47a"/>
<text x="143.5" y="90.7" font-size="7.4">8 h</text>
<circle cx="138.8" cy="95.55" r="1" fill="#74a7dc"/>
<text x="143.5" y="97.95" font-size="7.4">24 h</text>
<circle cx="138.8" cy="102.8" r="1" fill="#b07cb6"/>
<text x="143.5" y="105.2" font-size="7.4">48 h</text>
<text x="195.5" y="13.4" font-size="7.7">NCI-H441 (<tspan font-style="italic">KRAS</tspan><tspan dy="-2.8" font-size="5.2">G12V/WT</tspan><tspan dy="2.8">, NSCLC)</tspan></text>
<text x="204" y="28.9" font-size="7.6">Dose (shape)</text>
<circle cx="205.4" cy="36.3" r="1" fill="#1e1e1e"/>
<text x="207.9" y="38.2" font-size="5.5" class="s">0.3 mg/kg</text>
<rect x="237.2" y="35.3" width="2" height="2" fill="#1e1e1e"/>
<text x="240.7" y="38.2" font-size="5.5" class="s">1 mg/kg</text>
<path d="M272.2 35.1L273.4 37.3L271 37.3Z" fill="#1e1e1e"/>
<text x="274.7" y="38.2" font-size="5.5" class="s">3 mg/kg</text>
<path d="M305.2 35L306.3 36.3L305.2 37.6L304.1 36.3Z" fill="#1e1e1e"/>
<text x="307.7" y="38.2" font-size="5.5" class="s">10 mg/kg</text>
<path d="M205.4 46.3L206.6 44.1L204.2 44.1Z" fill="#1e1e1e"/>
<text x="207.9" y="47" font-size="5.5" class="s">25 mg/kg</text>
<circle cx="238.2" cy="45.1" r="1" fill="#1e1e1e"/>
<text x="240.7" y="47" font-size="5.5" class="s">40 mg/kg</text>
<rect x="271.2" y="44.1" width="2" height="2" fill="#1e1e1e"/>
<text x="274.7" y="47" font-size="5.5" class="s">50 mg/kg</text>
<path d="M305.2 43.9L306.4 46.1L304 46.1Z" fill="#1e1e1e"/>
<text x="307.7" y="47" font-size="5.5" class="s">100 mg/kg</text>
<line x1="215.2" y1="63.32" x2="300" y2="63.32" stroke="#9a9a9a" stroke-width="0.8" stroke-dasharray="1 1"/>
<line x1="215.2" y1="86.2" x2="300" y2="86.2" stroke="#c0c0c0" stroke-width="0.8"/>
<path d="M241.64 66.48L243.08 63.84L240.2 63.84Z" fill="#8cc47a"/>
<path d="M242.39 72.06L243.71 73.62L242.39 75.18L241.07 73.62Z" fill="#b8ad72"/>
<path d="M243.32 84.78L244.76 82.14L241.88 82.14Z" fill="#8cc47a"/>
<circle cx="244.26" cy="87.34" r="1.2" fill="#b8ad72"/>
<rect x="244" y="67.84" width="2.4" height="2.4" fill="#8cc47a"/>
<circle cx="246.14" cy="79.34" r="1.2" fill="#8cc47a"/>
<path d="M247.07 93.36L248.51 90.72L245.63 90.72Z" fill="#8cc47a"/>
<path d="M247.45 97.36L248.89 94.72L246.01 94.72Z" fill="#b8ad72"/>
<circle cx="243.32" cy="63.32" r="1.2" fill="#8cc47a"/>
<rect x="244.38" y="102.16" width="2.4" height="2.4" fill="#74a7dc"/>
<path d="M247.07 106.38L248.39 107.94L247.07 109.5L245.75 107.94Z" fill="#74a7dc"/>
<circle cx="248.95" cy="111.94" r="1.2" fill="#b07cb6"/>
<path d="M250.82 107.66L252.26 105.02L249.38 105.02Z" fill="#74a7dc"/>
<circle cx="252.7" cy="110.22" r="1.2" fill="#74a7dc"/>
<circle cx="254.57" cy="114.8" r="1.2" fill="#74a7dc"/>
<path d="M248.01 116.24L249.45 113.6L246.57 113.6Z" fill="#b07cb6"/>
<circle cx="249.89" cy="100.5" r="1.2" fill="#74a7dc"/>
<path d="M251.76 96.22L253.2 93.58L250.32 93.58Z" fill="#74a7dc"/>
<rect x="260.88" y="59.26" width="2.4" height="2.4" fill="#8cc47a"/>
<path d="M265.82 57.88L267.26 60.52L264.38 60.52Z" fill="#8cc47a"/>
<circle cx="269.57" cy="58.17" r="1.2" fill="#8cc47a"/>
<path d="M273.32 61.33L274.76 58.69L271.88 58.69Z" fill="#8cc47a"/>
<path d="M277.07 56.16L278.51 58.8L275.63 58.8Z" fill="#8cc47a"/>
<path d="M267.7 60.04L269.02 61.6L267.7 63.16L266.38 61.6Z" fill="#74a7dc"/>
<path d="M271.45 57.3L272.89 59.94L270.01 59.94Z" fill="#b8ad72"/>
<path d="M263.95 59.04L265.39 56.4L262.51 56.4Z" fill="#8cc47a"/>
<path d="M275.2 56.73L276.64 59.37L273.76 59.37Z" fill="#8cc47a"/>
<path d="M254.57 70.34L255.89 71.9L254.57 73.46L253.25 71.9Z" fill="#8cc47a"/>
<path d="M256.45 62.9L257.77 64.46L256.45 66.02L255.13 64.46Z" fill="#8cc47a"/>
<rect x="257.12" y="59.26" width="2.4" height="2.4" fill="#8cc47a"/>
<rect x="254.31" y="73.56" width="2.4" height="2.4" fill="#b8ad72"/>
<circle cx="257.39" cy="67.9" r="1.2" fill="#74a7dc"/>
<rect x="259" y="60.98" width="2.4" height="2.4" fill="#b8ad72"/>
<circle cx="252.7" cy="83.34" r="1.2" fill="#8cc47a"/>
<path d="M253.64 90.5L255.08 87.86L252.2 87.86Z" fill="#74a7dc"/>
<path d="M278.95 58.33L280.27 59.89L278.95 61.45L277.63 59.89Z" fill="#b8ad72"/>
<path d="M259.26 81.92L260.7 79.28L257.82 79.28Z" fill="#8cc47a"/>
<path d="M243.50 102.00C244.07 101.10 245.82 98.52 246.90 96.60C247.98 94.68 248.97 92.55 250.00 90.50C251.03 88.45 252.07 86.23 253.10 84.30C254.13 82.37 255.05 80.82 256.20 78.90C257.35 76.98 258.73 74.72 260.00 72.80C261.27 70.88 262.52 68.95 263.80 67.40C265.08 65.85 266.28 64.65 267.70 63.50C269.12 62.35 270.63 61.27 272.30 60.50C273.97 59.73 275.52 59.35 277.70 58.90C279.88 58.45 282.83 57.92 285.40 57.80C287.97 57.68 291.82 58.13 293.10 58.20" fill="none" stroke="#111" stroke-width="1.3"/>
<line x1="215.2" y1="57.1" x2="215.2" y2="115.3" stroke="#666" stroke-width="1.1"/>
<line x1="214.7" y1="115.15" x2="297" y2="115.15" stroke="#666" stroke-width="1.3"/>
<line x1="212.7" y1="114.8" x2="215.2" y2="114.8" stroke="#666" stroke-width="0.9"/>
<text x="210.4" y="117.4" font-size="7.4" text-anchor="end">0</text>
<line x1="212.7" y1="100.5" x2="215.2" y2="100.5" stroke="#666" stroke-width="0.9"/>
<text x="210.4" y="103.1" font-size="7.4" text-anchor="end">25</text>
<line x1="212.7" y1="86.2" x2="215.2" y2="86.2" stroke="#666" stroke-width="0.9"/>
<text x="210.4" y="88.8" font-size="7.4" text-anchor="end">50</text>
<line x1="212.7" y1="71.9" x2="215.2" y2="71.9" stroke="#666" stroke-width="0.9"/>
<text x="210.4" y="74.5" font-size="7.4" text-anchor="end">75</text>
<line x1="212.7" y1="57.6" x2="215.2" y2="57.6" stroke="#666" stroke-width="0.9"/>
<text x="210.4" y="60.2" font-size="7.4" text-anchor="end">100</text>
<line x1="215.2" y1="114.8" x2="215.2" y2="117" stroke="#1e1e1e" stroke-width="0.9"/>
<line x1="220.84" y1="114.8" x2="220.84" y2="116" stroke="#1e1e1e" stroke-width="0.5"/>
<line x1="224.15" y1="114.8" x2="224.15" y2="116" stroke="#1e1e1e" stroke-width="0.5"/>
<line x1="226.49" y1="114.8" x2="226.49" y2="116" stroke="#1e1e1e" stroke-width="0.5"/>
<line x1="228.31" y1="114.8" x2="228.31" y2="116" stroke="#1e1e1e" stroke-width="0.5"/>
<line x1="229.79" y1="114.8" x2="229.79" y2="116" stroke="#1e1e1e" stroke-width="0.5"/>
<line x1="231.05" y1="114.8" x2="231.05" y2="116" stroke="#1e1e1e" stroke-width="0.5"/>
<line x1="232.13" y1="114.8" x2="232.13" y2="116" stroke="#1e1e1e" stroke-width="0.5"/>
<line x1="233.09" y1="114.8" x2="233.09" y2="116" stroke="#1e1e1e" stroke-width="0.5"/>
<text x="215.8" y="126.7" font-size="7.4" text-anchor="middle">10<tspan dy="-2.6" font-size="5.03">0</tspan></text>
<line x1="233.95" y1="114.8" x2="233.95" y2="117" stroke="#1e1e1e" stroke-width="0.9"/>
<line x1="239.59" y1="114.8" x2="239.59" y2="116" stroke="#1e1e1e" stroke-width="0.5"/>
<line x1="242.9" y1="114.8" x2="242.9" y2="116" stroke="#1e1e1e" stroke-width="0.5"/>
<line x1="245.24" y1="114.8" x2="245.24" y2="116" stroke="#1e1e1e" stroke-width="0.5"/>
<line x1="247.06" y1="114.8" x2="247.06" y2="116" stroke="#1e1e1e" stroke-width="0.5"/>
<line x1="248.54" y1="114.8" x2="248.54" y2="116" stroke="#1e1e1e" stroke-width="0.5"/>
<line x1="249.8" y1="114.8" x2="249.8" y2="116" stroke="#1e1e1e" stroke-width="0.5"/>
<line x1="250.88" y1="114.8" x2="250.88" y2="116" stroke="#1e1e1e" stroke-width="0.5"/>
<line x1="251.84" y1="114.8" x2="251.84" y2="116" stroke="#1e1e1e" stroke-width="0.5"/>
<text x="234.55" y="126.7" font-size="7.4" text-anchor="middle">10<tspan dy="-2.6" font-size="5.03">1</tspan></text>
<line x1="252.7" y1="114.8" x2="252.7" y2="117" stroke="#1e1e1e" stroke-width="0.9"/>
<line x1="258.34" y1="114.8" x2="258.34" y2="116" stroke="#1e1e1e" stroke-width="0.5"/>
<line x1="261.65" y1="114.8" x2="261.65" y2="116" stroke="#1e1e1e" stroke-width="0.5"/>
<line x1="263.99" y1="114.8" x2="263.99" y2="116" stroke="#1e1e1e" stroke-width="0.5"/>
<line x1="265.81" y1="114.8" x2="265.81" y2="116" stroke="#1e1e1e" stroke-width="0.5"/>
<line x1="267.29" y1="114.8" x2="267.29" y2="116" stroke="#1e1e1e" stroke-width="0.5"/>
<line x1="268.55" y1="114.8" x2="268.55" y2="116" stroke="#1e1e1e" stroke-width="0.5"/>
<line x1="269.63" y1="114.8" x2="269.63" y2="116" stroke="#1e1e1e" stroke-width="0.5"/>
<line x1="270.59" y1="114.8" x2="270.59" y2="116" stroke="#1e1e1e" stroke-width="0.5"/>
<text x="253.3" y="126.7" font-size="7.4" text-anchor="middle">10<tspan dy="-2.6" font-size="5.03">2</tspan></text>
<line x1="271.45" y1="114.8" x2="271.45" y2="117" stroke="#1e1e1e" stroke-width="0.9"/>
<line x1="277.09" y1="114.8" x2="277.09" y2="116" stroke="#1e1e1e" stroke-width="0.5"/>
<line x1="280.4" y1="114.8" x2="280.4" y2="116" stroke="#1e1e1e" stroke-width="0.5"/>
<line x1="282.74" y1="114.8" x2="282.74" y2="116" stroke="#1e1e1e" stroke-width="0.5"/>
<line x1="284.56" y1="114.8" x2="284.56" y2="116" stroke="#1e1e1e" stroke-width="0.5"/>
<line x1="286.04" y1="114.8" x2="286.04" y2="116" stroke="#1e1e1e" stroke-width="0.5"/>
<line x1="287.3" y1="114.8" x2="287.3" y2="116" stroke="#1e1e1e" stroke-width="0.5"/>
<line x1="288.38" y1="114.8" x2="288.38" y2="116" stroke="#1e1e1e" stroke-width="0.5"/>
<line x1="289.34" y1="114.8" x2="289.34" y2="116" stroke="#1e1e1e" stroke-width="0.5"/>
<text x="272.05" y="126.7" font-size="7.4" text-anchor="middle">10<tspan dy="-2.6" font-size="5.03">3</tspan></text>
<line x1="290.2" y1="114.8" x2="290.2" y2="117" stroke="#1e1e1e" stroke-width="0.9"/>
<text x="290.8" y="126.7" font-size="7.4" text-anchor="middle">10<tspan dy="-2.6" font-size="5.03">4</tspan></text>
<text x="252.5" y="136.8" font-size="7.4" text-anchor="middle">Tumor [RMC-6236] (nmol/L)</text>
<text x="184" y="85.8" font-size="7.4" text-anchor="middle" transform="rotate(-90 184 85.8)">Tumor <tspan font-style="italic">DUSP6</tspan></text>
<text x="190.9" y="85.8" font-size="7.65" text-anchor="middle" transform="rotate(-90 190.9 85.8)">% Reduction relative to control</text>
<text x="218.5" y="59.3" font-size="5.3" class="s">EC<tspan dy="1.3" font-size="3.6">90</tspan><tspan dy="-1.3"> = 1,121 nmol/L</tspan></text>
<text x="258" y="98" font-size="5.3" class="s">EC<tspan dy="1.3" font-size="3.6">50</tspan><tspan dy="-1.3"> = 117 nmol/L</tspan></text>
<text x="303.4" y="65.7" font-size="7.4">Time (color)</text>
<circle cx="309.2" cy="72.4" r="1" fill="#b8ad72"/>
<text x="313.8" y="74.8" font-size="7.4">2 h</text>
<circle cx="309.2" cy="79.5" r="1" fill="#8cc47a"/>
<text x="313.8" y="81.9" font-size="7.4">8 h</text>
<circle cx="309.2" cy="86.6" r="1" fill="#74a7dc"/>
<text x="313.8" y="89" font-size="7.4">24 h</text>
<circle cx="309.2" cy="93.7" r="1" fill="#b07cb6"/>
<text x="313.8" y="96.1" font-size="7.4">48 h</text>
<text x="377.5" y="13.4" font-size="7.7">HPAC (<tspan font-style="italic">KRAS</tspan><tspan dy="-2.8" font-size="5.2">G12V/WT</tspan><tspan dy="2.8">, PDAC)</tspan></text>
<text x="396.3" y="28.9" font-size="7.6">Dose (shape)</text>
<circle cx="397.2" cy="36.2" r="1" fill="#1e1e1e"/>
<text x="399.7" y="38.1" font-size="5.5" class="s">0.3 mg/kg</text>
<rect x="430.2" y="35.2" width="2" height="2" fill="#1e1e1e"/>
<text x="433.7" y="38.1" font-size="5.5" class="s">1 mg/kg</text>
<path d="M461.2 35L462.4 37.2L460 37.2Z" fill="#1e1e1e"/>
<text x="463.7" y="38.1" font-size="5.5" class="s">3 mg/kg</text>
<path d="M397.2 43.7L398.3 45L397.2 46.3L396.1 45Z" fill="#1e1e1e"/>
<text x="399.7" y="46.9" font-size="5.5" class="s">10 mg/kg</text>
<path d="M431.2 46.2L432.4 44L430 44Z" fill="#1e1e1e"/>
<text x="433.7" y="46.9" font-size="5.5" class="s">25 mg/kg</text>
<circle cx="461.2" cy="45" r="1" fill="#1e1e1e"/>
<text x="463.7" y="46.9" font-size="5.5" class="s">50 mg/kg</text>
<line x1="387.5" y1="60.6" x2="480.7" y2="60.6" stroke="#8a8a8a" stroke-width="0.8" stroke-dasharray="1 1"/>
<line x1="387.5" y1="84.6" x2="480.7" y2="84.6" stroke="#8a8a8a" stroke-width="0.8" stroke-dasharray="1 1"/>
<path d="M418.58 98.76L420.02 101.4L417.14 101.4Z" fill="#b07cb6"/>
<path d="M418.58 59.04L419.9 60.6L418.58 62.16L417.26 60.6Z" fill="#ec8e92"/>
<circle cx="420.8" cy="66" r="1.2" fill="#8cc47a"/>
<path d="M422.65 83.16L424.09 85.8L421.21 85.8Z" fill="#ec8e92"/>
<path d="M428.94 107.64L430.26 109.2L428.94 110.76L427.62 109.2Z" fill="#ec8e92"/>
<path d="M432.27 91.44L433.71 88.8L430.83 88.8Z" fill="#74a7dc"/>
<circle cx="435.78" cy="93.6" r="1.2" fill="#74a7dc"/>
<circle cx="435.78" cy="97.2" r="1.2" fill="#ec8e92"/>
<path d="M437.45 77.64L438.89 75L436.01 75Z" fill="#ec8e92"/>
<path d="M439.3 67.56L440.74 70.2L437.86 70.2Z" fill="#ec8e92"/>
<rect x="429.41" y="59.4" width="2.4" height="2.4" fill="#8cc47a"/>
<path d="M439.3 57.24L440.62 58.8L439.3 60.36L437.98 58.8Z" fill="#74a7dc"/>
<rect x="443.1" y="54" width="2.4" height="2.4" fill="#8cc47a"/>
<path d="M454.84 53.16L456.28 55.8L453.4 55.8Z" fill="#ec8e92"/>
<path d="M460.02 53.16L461.46 55.8L458.58 55.8Z" fill="#ec8e92"/>
<circle cx="421.91" cy="55.2" r="1.2" fill="#b07cb6"/>
<circle cx="430.61" cy="67.2" r="1.2" fill="#ec8e92"/>
<circle cx="424.5" cy="76.2" r="1.2" fill="#b07cb6"/>
<path d="M432.27 116.04L433.71 113.4L430.83 113.4Z" fill="#b07cb6"/>
<path d="M448.55 56.04L449.99 53.4L447.11 53.4Z" fill="#b07cb6"/>
<path d="M452.25 54.24L453.57 55.8L452.25 57.36L450.93 55.8Z" fill="#ec8e92"/>
<path d="M441.15 54.84L442.47 56.4L441.15 57.96L439.83 56.4Z" fill="#8cc47a"/>
<circle cx="433.75" cy="63.6" r="1.2" fill="#74a7dc"/>
<path d="M428.2 80.04L429.52 81.6L428.2 83.16L426.88 81.6Z" fill="#b07cb6"/>
<path d="M446.7 58.44L448.14 55.8L445.26 55.8Z" fill="#74a7dc"/>
<path d="M416.70 103.80C417.50 102.68 419.90 99.50 421.50 97.10C423.10 94.70 424.95 91.48 426.30 89.40C427.65 87.32 428.32 86.68 429.60 84.60C430.88 82.52 432.47 79.62 434.00 76.90C435.53 74.18 437.03 71.02 438.80 68.30C440.57 65.58 442.67 62.68 444.60 60.60C446.53 58.52 448.95 56.80 450.40 55.80C451.85 54.80 452.53 54.85 453.30 54.60C454.07 54.35 454.72 54.35 455.00 54.30" fill="none" stroke="#111" stroke-width="1.3"/>
<line x1="387.5" y1="54.1" x2="387.5" y2="115.1" stroke="#777" stroke-width="1.1"/>
<line x1="387" y1="114.95" x2="474" y2="114.95" stroke="#333" stroke-width="1.3"/>
<line x1="385" y1="114.6" x2="387.5" y2="114.6" stroke="#777" stroke-width="0.9"/>
<text x="382.7" y="117.2" font-size="7.4" text-anchor="end">0</text>
<line x1="385" y1="99.6" x2="387.5" y2="99.6" stroke="#777" stroke-width="0.9"/>
<text x="382.7" y="102.2" font-size="7.4" text-anchor="end">25</text>
<line x1="385" y1="84.6" x2="387.5" y2="84.6" stroke="#777" stroke-width="0.9"/>
<text x="382.7" y="87.2" font-size="7.4" text-anchor="end">50</text>
<line x1="385" y1="69.6" x2="387.5" y2="69.6" stroke="#777" stroke-width="0.9"/>
<text x="382.7" y="72.2" font-size="7.4" text-anchor="end">75</text>
<line x1="385" y1="54.6" x2="387.5" y2="54.6" stroke="#777" stroke-width="0.9"/>
<text x="382.7" y="57.2" font-size="7.4" text-anchor="end">100</text>
<line x1="387.5" y1="114.6" x2="387.5" y2="116.8" stroke="#1e1e1e" stroke-width="0.9"/>
<line x1="393.07" y1="114.6" x2="393.07" y2="115.8" stroke="#1e1e1e" stroke-width="0.5"/>
<line x1="396.33" y1="114.6" x2="396.33" y2="115.8" stroke="#1e1e1e" stroke-width="0.5"/>
<line x1="398.64" y1="114.6" x2="398.64" y2="115.8" stroke="#1e1e1e" stroke-width="0.5"/>
<line x1="400.43" y1="114.6" x2="400.43" y2="115.8" stroke="#1e1e1e" stroke-width="0.5"/>
<line x1="401.9" y1="114.6" x2="401.9" y2="115.8" stroke="#1e1e1e" stroke-width="0.5"/>
<line x1="403.13" y1="114.6" x2="403.13" y2="115.8" stroke="#1e1e1e" stroke-width="0.5"/>
<line x1="404.21" y1="114.6" x2="404.21" y2="115.8" stroke="#1e1e1e" stroke-width="0.5"/>
<line x1="405.15" y1="114.6" x2="405.15" y2="115.8" stroke="#1e1e1e" stroke-width="0.5"/>
<text x="388.1" y="126.5" font-size="7.4" text-anchor="middle">10<tspan dy="-2.6" font-size="5.03">0</tspan></text>
<line x1="406" y1="114.6" x2="406" y2="116.8" stroke="#1e1e1e" stroke-width="0.9"/>
<line x1="411.57" y1="114.6" x2="411.57" y2="115.8" stroke="#1e1e1e" stroke-width="0.5"/>
<line x1="414.83" y1="114.6" x2="414.83" y2="115.8" stroke="#1e1e1e" stroke-width="0.5"/>
<line x1="417.14" y1="114.6" x2="417.14" y2="115.8" stroke="#1e1e1e" stroke-width="0.5"/>
<line x1="418.93" y1="114.6" x2="418.93" y2="115.8" stroke="#1e1e1e" stroke-width="0.5"/>
<line x1="420.4" y1="114.6" x2="420.4" y2="115.8" stroke="#1e1e1e" stroke-width="0.5"/>
<line x1="421.63" y1="114.6" x2="421.63" y2="115.8" stroke="#1e1e1e" stroke-width="0.5"/>
<line x1="422.71" y1="114.6" x2="422.71" y2="115.8" stroke="#1e1e1e" stroke-width="0.5"/>
<line x1="423.65" y1="114.6" x2="423.65" y2="115.8" stroke="#1e1e1e" stroke-width="0.5"/>
<text x="406.6" y="126.5" font-size="7.4" text-anchor="middle">10<tspan dy="-2.6" font-size="5.03">1</tspan></text>
<line x1="424.5" y1="114.6" x2="424.5" y2="116.8" stroke="#1e1e1e" stroke-width="0.9"/>
<line x1="430.07" y1="114.6" x2="430.07" y2="115.8" stroke="#1e1e1e" stroke-width="0.5"/>
<line x1="433.33" y1="114.6" x2="433.33" y2="115.8" stroke="#1e1e1e" stroke-width="0.5"/>
<line x1="435.64" y1="114.6" x2="435.64" y2="115.8" stroke="#1e1e1e" stroke-width="0.5"/>
<line x1="437.43" y1="114.6" x2="437.43" y2="115.8" stroke="#1e1e1e" stroke-width="0.5"/>
<line x1="438.9" y1="114.6" x2="438.9" y2="115.8" stroke="#1e1e1e" stroke-width="0.5"/>
<line x1="440.13" y1="114.6" x2="440.13" y2="115.8" stroke="#1e1e1e" stroke-width="0.5"/>
<line x1="441.21" y1="114.6" x2="441.21" y2="115.8" stroke="#1e1e1e" stroke-width="0.5"/>
<line x1="442.15" y1="114.6" x2="442.15" y2="115.8" stroke="#1e1e1e" stroke-width="0.5"/>
<text x="425.1" y="126.5" font-size="7.4" text-anchor="middle">10<tspan dy="-2.6" font-size="5.03">2</tspan></text>
<line x1="443" y1="114.6" x2="443" y2="116.8" stroke="#1e1e1e" stroke-width="0.9"/>
<line x1="448.57" y1="114.6" x2="448.57" y2="115.8" stroke="#1e1e1e" stroke-width="0.5"/>
<line x1="451.83" y1="114.6" x2="451.83" y2="115.8" stroke="#1e1e1e" stroke-width="0.5"/>
<line x1="454.14" y1="114.6" x2="454.14" y2="115.8" stroke="#1e1e1e" stroke-width="0.5"/>
<line x1="455.93" y1="114.6" x2="455.93" y2="115.8" stroke="#1e1e1e" stroke-width="0.5"/>
<line x1="457.4" y1="114.6" x2="457.4" y2="115.8" stroke="#1e1e1e" stroke-width="0.5"/>
<line x1="458.63" y1="114.6" x2="458.63" y2="115.8" stroke="#1e1e1e" stroke-width="0.5"/>
<line x1="459.71" y1="114.6" x2="459.71" y2="115.8" stroke="#1e1e1e" stroke-width="0.5"/>
<line x1="460.65" y1="114.6" x2="460.65" y2="115.8" stroke="#1e1e1e" stroke-width="0.5"/>
<text x="443.6" y="126.5" font-size="7.4" text-anchor="middle">10<tspan dy="-2.6" font-size="5.03">3</tspan></text>
<line x1="461.5" y1="114.6" x2="461.5" y2="116.8" stroke="#1e1e1e" stroke-width="0.9"/>
<text x="462.1" y="126.5" font-size="7.4" text-anchor="middle">10<tspan dy="-2.6" font-size="5.03">4</tspan></text>
<text x="426.5" y="135.8" font-size="7.4" text-anchor="middle">Tumor [RMC-6236] (nmol/L)</text>
<text x="359.4" y="84.3" font-size="7.4" text-anchor="middle" transform="rotate(-90 359.4 84.3)">Tumor <tspan font-style="italic">DUSP6</tspan></text>
<text x="367.6" y="84.3" font-size="7.65" text-anchor="middle" transform="rotate(-90 367.6 84.3)">% Reduction relative to control</text>
<text x="390.5" y="56.5" font-size="5.3" class="s">EC<tspan dy="1.3" font-size="3.6">90</tspan><tspan dy="-1.3"> = 925 nmol/L</tspan></text>
<text x="435" y="91" font-size="5.3" class="s">EC<tspan dy="1.3" font-size="3.6">50</tspan><tspan dy="-1.3"> = 135 nmol/L</tspan></text>
<text x="480" y="62.8" font-size="7.4">Time (color)</text>
<circle cx="484.4" cy="68.3" r="1" fill="#ec8e92"/>
<text x="489" y="70.7" font-size="7.4">4 h</text>
<circle cx="484.4" cy="75.67" r="1" fill="#8cc47a"/>
<text x="489" y="78.07" font-size="7.4">8 h</text>
<circle cx="484.4" cy="83.04" r="1" fill="#74a7dc"/>
<text x="489" y="85.44" font-size="7.4">24 h</text>
<circle cx="484.4" cy="90.41" r="1" fill="#b07cb6"/>
<text x="489" y="92.81" font-size="7.4">48 h</text>
<text x="3.6" y="161.6" font-size="10" font-weight="bold" fill="#000">B</text>
<text x="80" y="167.8" font-size="7.4" text-anchor="middle">Ear skin</text>
<text x="41.2" y="177.9" font-size="7.4">Dose (shape)</text>
<rect x="41.6" y="185.3" width="2" height="2" fill="#1e1e1e"/>
<text x="45.1" y="188.2" font-size="5.5" class="s">3 mg/kg</text>
<path d="M77 185.1L78.2 187.3L75.8 187.3Z" fill="#1e1e1e"/>
<text x="79.5" y="188.2" font-size="5.5" class="s">10 mg/kg</text>
<path d="M111.9 185L113 186.3L111.9 187.6L110.8 186.3Z" fill="#1e1e1e"/>
<text x="114.4" y="188.2" font-size="5.5" class="s">25 mg/kg</text>
<path d="M42.6 196.3L43.8 194.1L41.4 194.1Z" fill="#1e1e1e"/>
<text x="45.1" y="197" font-size="5.5" class="s">50 mg/kg</text>
<circle cx="77" cy="195.1" r="1" fill="#1e1e1e"/>
<text x="79.5" y="197" font-size="5.5" class="s">100 mg/kg</text>
<line x1="38" y1="209.18" x2="133" y2="209.18" stroke="#a8a89a" stroke-width="0.8" stroke-dasharray="1 1"/>
<line x1="38" y1="234.7" x2="133" y2="234.7" stroke="#a8a89a" stroke-width="0.8" stroke-dasharray="1 1"/>
<path d="M72.4 260.69L73.84 263.33L70.96 263.33Z" fill="#74a7dc"/>
<path d="M73.02 264.85L74.46 262.21L71.58 262.21Z" fill="#74a7dc"/>
<path d="M82.5 258.78L83.94 261.42L81.06 261.42Z" fill="#b8ad72"/>
<circle cx="86.2" cy="225.13" r="1.2" fill="#b07cb6"/>
<circle cx="87.44" cy="237.25" r="1.2" fill="#8cc47a"/>
<path d="M86.2 243.35L87.52 244.91L86.2 246.47L84.88 244.91Z" fill="#b8ad72"/>
<path d="M88.68 208.38L90.12 211.02L87.24 211.02Z" fill="#ec8e92"/>
<circle cx="92.59" cy="207.27" r="1.2" fill="#ec8e92"/>
<circle cx="95.06" cy="216.2" r="1.2" fill="#8cc47a"/>
<circle cx="97.53" cy="221.3" r="1.2" fill="#ec8e92"/>
<circle cx="99.8" cy="207.27" r="1.2" fill="#ec8e92"/>
<circle cx="102.48" cy="214.28" r="1.2" fill="#b8ad72"/>
<circle cx="104.95" cy="205.99" r="1.2" fill="#b07cb6"/>
<path d="M107.42 207.62L108.74 209.18L107.42 210.74L106.1 209.18Z" fill="#ec8e92"/>
<circle cx="110.1" cy="217.47" r="1.2" fill="#b8ad72"/>
<path d="M112.57 213.81L114.01 211.17L111.13 211.17Z" fill="#8cc47a"/>
<circle cx="115.04" cy="205.99" r="1.2" fill="#ec8e92"/>
<path d="M117.52 212.84L118.96 215.48L116.08 215.48Z" fill="#8cc47a"/>
<path d="M119.99 218.47L121.31 220.03L119.99 221.59L118.67 220.03Z" fill="#b8ad72"/>
<circle cx="122.46" cy="205.99" r="1.2" fill="#b8ad72"/>
<path d="M72.4 240.92L73.84 243.56L70.96 243.56Z" fill="#74a7dc"/>
<circle cx="83.32" cy="253.84" r="1.2" fill="#8cc47a"/>
<path d="M85.38 263.76L86.7 265.32L85.38 266.88L84.06 265.32Z" fill="#ec8e92"/>
<circle cx="89.5" cy="247.46" r="1.2" fill="#b07cb6"/>
<path d="M91.56 255.59L93 258.23L90.12 258.23Z" fill="#b8ad72"/>
<path d="M93.62 236.33L94.94 237.89L93.62 239.45L92.3 237.89Z" fill="#b8ad72"/>
<rect x="94.48" y="249.45" width="2.4" height="2.4" fill="#74a7dc"/>
<path d="M97.74 232.95L99.18 230.31L96.3 230.31Z" fill="#8cc47a"/>
<circle cx="100.83" cy="241.08" r="1.2" fill="#b07cb6"/>
<path d="M103.92 226.88L105.36 229.52L102.48 229.52Z" fill="#b8ad72"/>
<circle cx="108.04" cy="244.27" r="1.2" fill="#b8ad72"/>
<rect x="89.33" y="262.21" width="2.4" height="2.4" fill="#ec8e92"/>
<path d="M81.26 236.33L82.58 237.89L81.26 239.45L79.94 237.89Z" fill="#8cc47a"/>
<rect x="83.15" y="249.45" width="2.4" height="2.4" fill="#b07cb6"/>
<circle cx="112.16" cy="207.9" r="1.2" fill="#b8ad72"/>
<rect x="104.78" y="217.55" width="2.4" height="2.4" fill="#8cc47a"/>
<path d="M98.77 210.93L100.21 213.57L97.33 213.57Z" fill="#b07cb6"/>
<path d="M116.28 207.74L117.72 210.38L114.84 210.38Z" fill="#ec8e92"/>
<path d="M88.47 220.5L89.91 223.14L87.03 223.14Z" fill="#74a7dc"/>
<circle cx="79.2" cy="257.03" r="1.2" fill="#ec8e92"/>
<rect x="100.66" y="252.64" width="2.4" height="2.4" fill="#b8ad72"/>
<path d="M109.07 223.69L110.51 226.33L107.63 226.33Z" fill="#ec8e92"/>
<path d="M72.30 263.40C73.33 263.02 76.45 262.00 78.50 261.10C80.55 260.20 82.55 259.42 84.60 258.00C86.65 256.58 89.00 254.52 90.80 252.60C92.60 250.68 94.00 248.68 95.40 246.50C96.80 244.32 98.05 241.68 99.20 239.50C100.35 237.32 101.27 235.45 102.30 233.40C103.33 231.35 104.25 229.25 105.40 227.20C106.55 225.15 107.80 223.15 109.20 221.10C110.60 219.05 112.25 216.70 113.80 214.90C115.35 213.10 117.08 211.53 118.50 210.30C119.92 209.07 121.28 208.13 122.30 207.50C123.32 206.87 124.22 206.67 124.60 206.50" fill="none" stroke="#111" stroke-width="1.3"/>
<line x1="38" y1="202.3" x2="38" y2="267.1" stroke="#1e1e1e" stroke-width="1.1"/>
<line x1="37.5" y1="266.95" x2="126" y2="266.95" stroke="#444" stroke-width="1.3"/>
<line x1="35.5" y1="266.6" x2="38" y2="266.6" stroke="#1e1e1e" stroke-width="0.9"/>
<text x="33.2" y="269.2" font-size="7.4" text-anchor="end">0</text>
<line x1="35.5" y1="250.65" x2="38" y2="250.65" stroke="#1e1e1e" stroke-width="0.9"/>
<text x="33.2" y="253.25" font-size="7.4" text-anchor="end">25</text>
<line x1="35.5" y1="234.7" x2="38" y2="234.7" stroke="#1e1e1e" stroke-width="0.9"/>
<text x="33.2" y="237.3" font-size="7.4" text-anchor="end">50</text>
<line x1="35.5" y1="218.75" x2="38" y2="218.75" stroke="#1e1e1e" stroke-width="0.9"/>
<text x="33.2" y="221.35" font-size="7.4" text-anchor="end">75</text>
<line x1="35.5" y1="202.8" x2="38" y2="202.8" stroke="#1e1e1e" stroke-width="0.9"/>
<text x="33.2" y="205.4" font-size="7.4" text-anchor="end">100</text>
<line x1="38" y1="266.6" x2="38" y2="268.8" stroke="#1e1e1e" stroke-width="0.9"/>
<line x1="44.2" y1="266.6" x2="44.2" y2="267.8" stroke="#1e1e1e" stroke-width="0.5"/>
<line x1="47.83" y1="266.6" x2="47.83" y2="267.8" stroke="#1e1e1e" stroke-width="0.5"/>
<line x1="50.4" y1="266.6" x2="50.4" y2="267.8" stroke="#1e1e1e" stroke-width="0.5"/>
<line x1="52.4" y1="266.6" x2="52.4" y2="267.8" stroke="#1e1e1e" stroke-width="0.5"/>
<line x1="54.03" y1="266.6" x2="54.03" y2="267.8" stroke="#1e1e1e" stroke-width="0.5"/>
<line x1="55.41" y1="266.6" x2="55.41" y2="267.8" stroke="#1e1e1e" stroke-width="0.5"/>
<line x1="56.6" y1="266.6" x2="56.6" y2="267.8" stroke="#1e1e1e" stroke-width="0.5"/>
<line x1="57.66" y1="266.6" x2="57.66" y2="267.8" stroke="#1e1e1e" stroke-width="0.5"/>
<text x="39.4" y="278.5" font-size="7.4" text-anchor="middle">10<tspan dy="-2.6" font-size="5.03">0</tspan></text>
<line x1="58.6" y1="266.6" x2="58.6" y2="268.8" stroke="#1e1e1e" stroke-width="0.9"/>
<line x1="64.8" y1="266.6" x2="64.8" y2="267.8" stroke="#1e1e1e" stroke-width="0.5"/>
<line x1="68.43" y1="266.6" x2="68.43" y2="267.8" stroke="#1e1e1e" stroke-width="0.5"/>
<line x1="71" y1="266.6" x2="71" y2="267.8" stroke="#1e1e1e" stroke-width="0.5"/>
<line x1="73" y1="266.6" x2="73" y2="267.8" stroke="#1e1e1e" stroke-width="0.5"/>
<line x1="74.63" y1="266.6" x2="74.63" y2="267.8" stroke="#1e1e1e" stroke-width="0.5"/>
<line x1="76.01" y1="266.6" x2="76.01" y2="267.8" stroke="#1e1e1e" stroke-width="0.5"/>
<line x1="77.2" y1="266.6" x2="77.2" y2="267.8" stroke="#1e1e1e" stroke-width="0.5"/>
<line x1="78.26" y1="266.6" x2="78.26" y2="267.8" stroke="#1e1e1e" stroke-width="0.5"/>
<text x="60" y="278.5" font-size="7.4" text-anchor="middle">10<tspan dy="-2.6" font-size="5.03">1</tspan></text>
<line x1="79.2" y1="266.6" x2="79.2" y2="268.8" stroke="#1e1e1e" stroke-width="0.9"/>
<line x1="85.4" y1="266.6" x2="85.4" y2="267.8" stroke="#1e1e1e" stroke-width="0.5"/>
<line x1="89.03" y1="266.6" x2="89.03" y2="267.8" stroke="#1e1e1e" stroke-width="0.5"/>
<line x1="91.6" y1="266.6" x2="91.6" y2="267.8" stroke="#1e1e1e" stroke-width="0.5"/>
<line x1="93.6" y1="266.6" x2="93.6" y2="267.8" stroke="#1e1e1e" stroke-width="0.5"/>
<line x1="95.23" y1="266.6" x2="95.23" y2="267.8" stroke="#1e1e1e" stroke-width="0.5"/>
<line x1="96.61" y1="266.6" x2="96.61" y2="267.8" stroke="#1e1e1e" stroke-width="0.5"/>
<line x1="97.8" y1="266.6" x2="97.8" y2="267.8" stroke="#1e1e1e" stroke-width="0.5"/>
<line x1="98.86" y1="266.6" x2="98.86" y2="267.8" stroke="#1e1e1e" stroke-width="0.5"/>
<text x="80.6" y="278.5" font-size="7.4" text-anchor="middle">10<tspan dy="-2.6" font-size="5.03">2</tspan></text>
<line x1="99.8" y1="266.6" x2="99.8" y2="268.8" stroke="#1e1e1e" stroke-width="0.9"/>
<line x1="106" y1="266.6" x2="106" y2="267.8" stroke="#1e1e1e" stroke-width="0.5"/>
<line x1="109.63" y1="266.6" x2="109.63" y2="267.8" stroke="#1e1e1e" stroke-width="0.5"/>
<line x1="112.2" y1="266.6" x2="112.2" y2="267.8" stroke="#1e1e1e" stroke-width="0.5"/>
<line x1="114.2" y1="266.6" x2="114.2" y2="267.8" stroke="#1e1e1e" stroke-width="0.5"/>
<line x1="115.83" y1="266.6" x2="115.83" y2="267.8" stroke="#1e1e1e" stroke-width="0.5"/>
<line x1="117.21" y1="266.6" x2="117.21" y2="267.8" stroke="#1e1e1e" stroke-width="0.5"/>
<line x1="118.4" y1="266.6" x2="118.4" y2="267.8" stroke="#1e1e1e" stroke-width="0.5"/>
<line x1="119.46" y1="266.6" x2="119.46" y2="267.8" stroke="#1e1e1e" stroke-width="0.5"/>
<text x="101.2" y="278.5" font-size="7.4" text-anchor="middle">10<tspan dy="-2.6" font-size="5.03">3</tspan></text>
<line x1="120.4" y1="266.6" x2="120.4" y2="268.8" stroke="#1e1e1e" stroke-width="0.9"/>
<text x="121.8" y="278.5" font-size="7.4" text-anchor="middle">10<tspan dy="-2.6" font-size="5.03">4</tspan></text>
<text x="81" y="289.2" font-size="7.4" text-anchor="middle">Skin [RMC-6236] (nmol/L)</text>
<text x="8.6" y="234.5" font-size="7.4" text-anchor="middle" transform="rotate(-90 8.6 234.5)">Skin <tspan font-style="italic">Dusp6</tspan></text>
<text x="17.3" y="234.5" font-size="7.65" text-anchor="middle" transform="rotate(-90 17.3 234.5)">% Reduction relative to control</text>
<text x="42.5" y="206.5" font-size="5.3" class="s">EC<tspan dy="1.3" font-size="3.6">90</tspan><tspan dy="-1.3"> = 10,279 nmol/L</tspan></text>
<text x="42.5" y="231.5" font-size="5.3" class="s">EC<tspan dy="1.3" font-size="3.6">50</tspan><tspan dy="-1.3"> = 1,164 nmol/L</tspan></text>
<text x="135.1" y="212" font-size="7.4">Time (color)</text>
<circle cx="141" cy="219" r="1" fill="#b8ad72"/>
<text x="146" y="221.4" font-size="7.4">2 h</text>
<circle cx="141" cy="227.1" r="1" fill="#ec8e92"/>
<text x="146" y="229.5" font-size="7.4">4 h</text>
<circle cx="141" cy="235.2" r="1" fill="#8cc47a"/>
<text x="146" y="237.6" font-size="7.4">8 h</text>
<circle cx="141" cy="243.3" r="1" fill="#74a7dc"/>
<text x="146" y="245.7" font-size="7.4">24 h</text>
<circle cx="141" cy="251.4" r="1" fill="#b07cb6"/>
<text x="146" y="253.8" font-size="7.4">48 h</text>
<text x="195.3" y="162.3" font-size="10" font-weight="bold" fill="#000">C</text>
<text x="257.5" y="172.4" font-size="7.4" text-anchor="middle">Ear skin</text>
<line x1="223" y1="175.2" x2="293" y2="175.2" stroke="#1e1e1e" stroke-width="1.1"/>
<text x="237" y="189.1" font-size="7.4" text-anchor="middle">Single</text>
<text x="237" y="196.4" font-size="7.4" text-anchor="middle">dose</text>
<text x="277.2" y="189.1" font-size="7.4" text-anchor="middle">7-day</text>
<text x="277.2" y="196.4" font-size="7.4" text-anchor="middle">repeat</text>
<line x1="218.5" y1="186.8" x2="218.5" y2="264" stroke="#9a9a9a" stroke-width="0.7" stroke-dasharray="0.8 1.2"/>
<line x1="255.6" y1="186.8" x2="255.6" y2="264" stroke="#9a9a9a" stroke-width="0.7" stroke-dasharray="0.8 1.2"/>
<line x1="210" y1="259.81" x2="217.5" y2="259.81" stroke="#3c3c3c" stroke-width="0.9"/>
<line x1="220" y1="263.05" x2="227" y2="263.05" stroke="#3c3c3c" stroke-width="0.9"/>
<line x1="227.8" y1="259.81" x2="234.8" y2="259.81" stroke="#3c3c3c" stroke-width="0.9"/>
<line x1="237.6" y1="257.14" x2="244.6" y2="257.14" stroke="#3c3c3c" stroke-width="0.9"/>
<line x1="248" y1="251.05" x2="255.2" y2="251.05" stroke="#555" stroke-width="0.9"/>
<line x1="258.6" y1="262.67" x2="265.6" y2="262.67" stroke="#3c3c3c" stroke-width="0.9"/>
<line x1="265.8" y1="261.71" x2="272.8" y2="261.71" stroke="#3c3c3c" stroke-width="0.9"/>
<line x1="275" y1="260.57" x2="282" y2="260.57" stroke="#3c3c3c" stroke-width="0.9"/>
<line x1="284.6" y1="254.09" x2="292" y2="254.09" stroke="#555" stroke-width="0.9"/>
<circle cx="211.2" cy="259.05" r="1.05" fill="#1e1e1e"/>
<circle cx="213.6" cy="260.95" r="1.05" fill="#1e1e1e"/>
<circle cx="216" cy="259.43" r="1.05" fill="#1e1e1e"/>
<circle cx="221.5" cy="263.24" r="1.05" fill="#2f6b55"/>
<circle cx="223.5" cy="262.86" r="1.05" fill="#2f6b55"/>
<circle cx="225.5" cy="263.24" r="1.05" fill="#2f6b55"/>
<circle cx="229.2" cy="258.29" r="1.05" fill="#1e1e1e"/>
<circle cx="231.2" cy="262.86" r="1.05" fill="#2f6b55"/>
<circle cx="233.2" cy="258.67" r="1.05" fill="#1e1e1e"/>
<circle cx="239" cy="256" r="1.05" fill="#2f6b55"/>
<circle cx="241" cy="258.29" r="1.05" fill="#1e1e1e"/>
<circle cx="243" cy="256.76" r="1.05" fill="#2f6b55"/>
<circle cx="249.5" cy="255.24" r="1.05" fill="#2f6b55"/>
<circle cx="251.6" cy="243.43" r="1.05" fill="#1e1e1e"/>
<circle cx="253.8" cy="255.24" r="1.05" fill="#1e1e1e"/>
<circle cx="260" cy="262.86" r="1.05" fill="#2f6b55"/>
<circle cx="262" cy="262.48" r="1.05" fill="#2f6b55"/>
<circle cx="264" cy="262.86" r="1.05" fill="#2f6b55"/>
<circle cx="267.2" cy="261.71" r="1.05" fill="#1e1e1e"/>
<circle cx="269.2" cy="261.33" r="1.05" fill="#2f6b55"/>
<circle cx="271.2" cy="262.1" r="1.05" fill="#1e1e1e"/>
<circle cx="276.5" cy="261.71" r="1.05" fill="#2f6b55"/>
<circle cx="278.5" cy="258.29" r="1.05" fill="#1e1e1e"/>
<circle cx="280.5" cy="261.33" r="1.05" fill="#2f6b55"/>
<circle cx="286.5" cy="262.86" r="1.05" fill="#2f6b55"/>
<circle cx="288.3" cy="238.09" r="1.05" fill="#1e1e1e"/>
<circle cx="290.2" cy="260.95" r="1.05" fill="#1e1e1e"/>
<line x1="207.6" y1="187.3" x2="207.6" y2="264.5" stroke="#1e1e1e" stroke-width="1.2"/>
<line x1="207" y1="264" x2="294.5" y2="264" stroke="#1e1e1e" stroke-width="1.4"/>
<line x1="205" y1="264" x2="207.6" y2="264" stroke="#1e1e1e" stroke-width="1.0"/>
<text x="201.9" y="266.7" font-size="7.4" text-anchor="end">0</text>
<line x1="205" y1="244.95" x2="207.6" y2="244.95" stroke="#1e1e1e" stroke-width="1.0"/>
<text x="201.9" y="247.65" font-size="7.4" text-anchor="end">5</text>
<line x1="205" y1="225.9" x2="207.6" y2="225.9" stroke="#1e1e1e" stroke-width="1.0"/>
<text x="201.9" y="228.6" font-size="7.4" text-anchor="end">10</text>
<line x1="205" y1="206.85" x2="207.6" y2="206.85" stroke="#1e1e1e" stroke-width="1.0"/>
<text x="201.9" y="209.55" font-size="7.4" text-anchor="end">15</text>
<line x1="205" y1="187.8" x2="207.6" y2="187.8" stroke="#1e1e1e" stroke-width="1.0"/>
<text x="201.9" y="190.5" font-size="7.4" text-anchor="end">20</text>
<text x="212.6" y="273.3" font-size="7.4" text-anchor="middle">Ctrl</text>
<text x="223.6" y="273.3" font-size="7.4" text-anchor="middle">4</text>
<text x="231.4" y="273.3" font-size="7.4" text-anchor="middle">8</text>
<text x="240.8" y="273.3" font-size="7.4" text-anchor="middle">24</text>
<text x="251.7" y="273.3" font-size="7.4" text-anchor="middle">48</text>
<text x="259.8" y="273.3" font-size="7.4" text-anchor="middle">4</text>
<text x="268" y="273.3" font-size="7.4" text-anchor="middle">8</text>
<text x="277.4" y="273.3" font-size="7.4" text-anchor="middle">24</text>
<text x="288.7" y="273.3" font-size="7.4" text-anchor="middle">48</text>
<text x="188.3" y="224.7" font-size="7.6" text-anchor="middle" transform="rotate(-90 188.3 224.7)">pERK (% positive area)</text>
<text x="295.4" y="273.3" font-size="7.4">Hours</text>
<text x="3.5" y="312.5" font-size="10" font-weight="bold" fill="#000">D</text>
<text x="72.5" y="315.3" font-size="7.4" text-anchor="middle">Capan-2 tumor</text>
<line x1="40" y1="318" x2="110.5" y2="318" stroke="#1e1e1e" stroke-width="1.1"/>
<text x="56.3" y="328.5" font-size="7.4" text-anchor="middle">Single</text>
<text x="56.3" y="336" font-size="7.4" text-anchor="middle">dose</text>
<text x="92" y="328.5" font-size="7.4" text-anchor="middle">7-day</text>
<text x="92" y="336" font-size="7.4" text-anchor="middle">repeat</text>
<line x1="39.7" y1="339.8" x2="39.7" y2="416.4" stroke="#9a9a9a" stroke-width="0.7" stroke-dasharray="0.8 1.2"/>
<line x1="74.6" y1="339.8" x2="74.6" y2="416.4" stroke="#9a9a9a" stroke-width="0.7" stroke-dasharray="0.8 1.2"/>
<line x1="30.2" y1="393.8" x2="38" y2="393.8" stroke="#a8a8a8" stroke-width="1.0"/>
<line x1="41.4" y1="384.8" x2="50.1" y2="384.8" stroke="#a8a8a8" stroke-width="1.0"/>
<line x1="53" y1="373.08" x2="61.7" y2="373.08" stroke="#a8a8a8" stroke-width="1.0"/>
<line x1="65.2" y1="365.29" x2="73.1" y2="365.29" stroke="#a8a8a8" stroke-width="1.0"/>
<line x1="76.9" y1="363.18" x2="84.7" y2="363.18" stroke="#a8a8a8" stroke-width="1.0"/>
<line x1="88.2" y1="378.6" x2="96" y2="378.6" stroke="#a8a8a8" stroke-width="1.0"/>
<line x1="99.8" y1="388.13" x2="108.1" y2="388.13" stroke="#a8a8a8" stroke-width="1.0"/>
<circle cx="34" cy="385.71" r="1.15" fill="#1e1e1e"/>
<circle cx="34" cy="388.73" r="1.15" fill="#1e1e1e"/>
<circle cx="34" cy="394.7" r="1.15" fill="#1e1e1e"/>
<circle cx="31" cy="398.71" r="1.15" fill="#1e1e1e"/>
<circle cx="34" cy="397.58" r="1.15" fill="#1e1e1e"/>
<circle cx="36.8" cy="397.58" r="1.15" fill="#1e1e1e"/>
<circle cx="45.8" cy="370.51" r="1.15" fill="#1e1e1e"/>
<circle cx="45.8" cy="390.02" r="1.15" fill="#1e1e1e"/>
<circle cx="45.8" cy="393.8" r="1.15" fill="#1e1e1e"/>
<circle cx="57" cy="353.5" r="1.15" fill="#1e1e1e"/>
<circle cx="57.4" cy="377.39" r="1.15" fill="#1e1e1e"/>
<circle cx="57.4" cy="387.82" r="1.15" fill="#1e1e1e"/>
<circle cx="66.9" cy="352.29" r="1.15" fill="#1e1e1e"/>
<circle cx="70.9" cy="353.5" r="1.15" fill="#1e1e1e"/>
<circle cx="69.1" cy="390.02" r="1.15" fill="#1e1e1e"/>
<circle cx="80.7" cy="339.29" r="1.15" fill="#1e1e1e"/>
<circle cx="80.7" cy="342.77" r="1.15" fill="#1e1e1e"/>
<circle cx="80.7" cy="370.51" r="1.15" fill="#1e1e1e"/>
<circle cx="80.7" cy="377.39" r="1.15" fill="#1e1e1e"/>
<circle cx="92.5" cy="357.21" r="1.15" fill="#1e1e1e"/>
<circle cx="90.4" cy="390.02" r="1.15" fill="#1e1e1e"/>
<circle cx="94.2" cy="389.18" r="1.15" fill="#1e1e1e"/>
<circle cx="102.5" cy="384.8" r="1.15" fill="#1e1e1e"/>
<circle cx="105.5" cy="386.16" r="1.15" fill="#1e1e1e"/>
<circle cx="104.3" cy="393.49" r="1.15" fill="#1e1e1e"/>
<line x1="26.4" y1="340.3" x2="26.4" y2="416.9" stroke="#1e1e1e" stroke-width="1.2"/>
<line x1="25.8" y1="416.4" x2="112.5" y2="416.4" stroke="#1e1e1e" stroke-width="1.4"/>
<line x1="23.8" y1="416.4" x2="26.4" y2="416.4" stroke="#1e1e1e" stroke-width="1.0"/>
<text x="19.9" y="419.1" font-size="7.4" text-anchor="end">0</text>
<line x1="23.8" y1="401.28" x2="26.4" y2="401.28" stroke="#1e1e1e" stroke-width="1.0"/>
<text x="19.9" y="403.98" font-size="7.4" text-anchor="end">2</text>
<line x1="23.8" y1="386.16" x2="26.4" y2="386.16" stroke="#1e1e1e" stroke-width="1.0"/>
<text x="19.9" y="388.86" font-size="7.4" text-anchor="end">4</text>
<line x1="23.8" y1="371.04" x2="26.4" y2="371.04" stroke="#1e1e1e" stroke-width="1.0"/>
<text x="19.9" y="373.74" font-size="7.4" text-anchor="end">6</text>
<line x1="23.8" y1="355.92" x2="26.4" y2="355.92" stroke="#1e1e1e" stroke-width="1.0"/>
<text x="19.9" y="358.62" font-size="7.4" text-anchor="end">8</text>
<line x1="23.8" y1="340.8" x2="26.4" y2="340.8" stroke="#1e1e1e" stroke-width="1.0"/>
<text x="19.9" y="343.5" font-size="7.4" text-anchor="end">10</text>
<text x="32.6" y="426.2" font-size="7.4" text-anchor="middle">Ctrl</text>
<text x="44.4" y="426.2" font-size="7.4" text-anchor="middle">8</text>
<text x="55.8" y="426.2" font-size="7.4" text-anchor="middle">24</text>
<text x="68.2" y="426.2" font-size="7.4" text-anchor="middle">48</text>
<text x="79.4" y="426.2" font-size="7.4" text-anchor="middle">8</text>
<text x="91.2" y="426.2" font-size="7.4" text-anchor="middle">24</text>
<text x="103" y="426.2" font-size="7.4" text-anchor="middle">48</text>
<text x="7" y="378.8" font-size="7.6" text-anchor="middle" transform="rotate(-90 7 378.8)">CC3 (% positive cells)</text>
<text x="110" y="426.2" font-size="7.4">Hours</text>
<text x="209.5" y="315.9" font-size="7.4" text-anchor="middle">Ear skin</text>
<line x1="176" y1="319.5" x2="245" y2="319.5" stroke="#1e1e1e" stroke-width="1.1"/>
<text x="192" y="329.1" font-size="7.4" text-anchor="middle">Single</text>
<text x="192" y="336.6" font-size="7.4" text-anchor="middle">dose</text>
<text x="227.6" y="329.1" font-size="7.4" text-anchor="middle">7-day</text>
<text x="227.6" y="336.6" font-size="7.4" text-anchor="middle">repeat</text>
<line x1="175.4" y1="339.2" x2="175.4" y2="416.6" stroke="#9a9a9a" stroke-width="0.7" stroke-dasharray="0.8 1.2"/>
<line x1="210.3" y1="339.2" x2="210.3" y2="416.6" stroke="#9a9a9a" stroke-width="0.7" stroke-dasharray="0.8 1.2"/>
<line x1="165.7" y1="400.1" x2="173.5" y2="400.1" stroke="#a8a8a8" stroke-width="0.9"/>
<line x1="178.2" y1="397.88" x2="185.6" y2="397.88" stroke="#3c3c3c" stroke-width="0.9"/>
<line x1="189.8" y1="405.29" x2="197.2" y2="405.29" stroke="#3d6e62" stroke-width="0.9"/>
<line x1="201.5" y1="407.13" x2="209" y2="407.13" stroke="#3c3c3c" stroke-width="0.9"/>
<line x1="212.8" y1="401.32" x2="220.9" y2="401.32" stroke="#3c3c3c" stroke-width="0.9"/>
<line x1="224.9" y1="405.29" x2="232.7" y2="405.29" stroke="#3c3c3c" stroke-width="0.9"/>
<line x1="236.2" y1="405.14" x2="244.8" y2="405.14" stroke="#3c3c3c" stroke-width="0.9"/>
<circle cx="167.8" cy="390.09" r="1.15" fill="#1e1e1e"/>
<circle cx="171.2" cy="390.09" r="1.15" fill="#1e1e1e"/>
<circle cx="166.9" cy="402.24" r="1.15" fill="#1e1e1e"/>
<circle cx="170.4" cy="403.92" r="1.15" fill="#1e1e1e"/>
<circle cx="168.2" cy="405.9" r="1.15" fill="#1e1e1e"/>
<circle cx="169.5" cy="408.27" r="1.15" fill="#1e1e1e"/>
<circle cx="181.6" cy="394.44" r="1.15" fill="#1e1e1e"/>
<circle cx="181.1" cy="402.24" r="1.15" fill="#1e1e1e"/>
<circle cx="193.2" cy="401.7" r="1.15" fill="#2f6b55"/>
<circle cx="193.2" cy="403.61" r="1.15" fill="#1e1e1e"/>
<circle cx="193.2" cy="410.03" r="1.15" fill="#1e1e1e"/>
<circle cx="205" cy="403.38" r="1.15" fill="#2f6b55"/>
<circle cx="205" cy="405.14" r="1.15" fill="#1e1e1e"/>
<circle cx="205" cy="412.63" r="1.15" fill="#1e1e1e"/>
<circle cx="216.8" cy="392.99" r="1.15" fill="#1e1e1e"/>
<circle cx="217.1" cy="410.34" r="1.15" fill="#1e1e1e"/>
<circle cx="228.7" cy="399.33" r="1.15" fill="#1e1e1e"/>
<circle cx="226.6" cy="408.58" r="1.15" fill="#1e1e1e"/>
<circle cx="231" cy="407.58" r="1.15" fill="#1e1e1e"/>
<circle cx="238.2" cy="404.53" r="1.15" fill="#1e1e1e"/>
<circle cx="240.5" cy="405.9" r="1.15" fill="#2f6b55"/>
<circle cx="243.1" cy="404.99" r="1.15" fill="#1e1e1e"/>
<line x1="161.5" y1="339.7" x2="161.5" y2="417.1" stroke="#1e1e1e" stroke-width="1.2"/>
<line x1="160.9" y1="416.9" x2="249" y2="416.9" stroke="#1e1e1e" stroke-width="1.4"/>
<line x1="158.9" y1="416.6" x2="161.5" y2="416.6" stroke="#1e1e1e" stroke-width="1.0"/>
<text x="156" y="419.3" font-size="7.4" text-anchor="end">0</text>
<line x1="158.9" y1="401.32" x2="161.5" y2="401.32" stroke="#1e1e1e" stroke-width="1.0"/>
<text x="156" y="404.02" font-size="7.4" text-anchor="end">2</text>
<line x1="158.9" y1="386.04" x2="161.5" y2="386.04" stroke="#1e1e1e" stroke-width="1.0"/>
<text x="156" y="388.74" font-size="7.4" text-anchor="end">4</text>
<line x1="158.9" y1="370.76" x2="161.5" y2="370.76" stroke="#1e1e1e" stroke-width="1.0"/>
<text x="156" y="373.46" font-size="7.4" text-anchor="end">6</text>
<line x1="158.9" y1="355.48" x2="161.5" y2="355.48" stroke="#1e1e1e" stroke-width="1.0"/>
<text x="156" y="358.18" font-size="7.4" text-anchor="end">8</text>
<line x1="158.9" y1="340.2" x2="161.5" y2="340.2" stroke="#1e1e1e" stroke-width="1.0"/>
<text x="156" y="342.9" font-size="7.4" text-anchor="end">10</text>
<text x="168" y="425.7" font-size="7.4" text-anchor="middle">Ctrl</text>
<text x="180.4" y="425.7" font-size="7.4" text-anchor="middle">8</text>
<text x="191.9" y="425.7" font-size="7.4" text-anchor="middle">24</text>
<text x="203.9" y="425.7" font-size="7.4" text-anchor="middle">48</text>
<text x="215.3" y="425.7" font-size="7.4" text-anchor="middle">8</text>
<text x="226.7" y="425.7" font-size="7.4" text-anchor="middle">24</text>
<text x="238.4" y="425.7" font-size="7.4" text-anchor="middle">48</text>
<text x="144.9" y="379" font-size="7.6" text-anchor="middle" transform="rotate(-90 144.9 379)">CC3 (% positive cells)</text>
<text x="244.5" y="425.7" font-size="7.4">Hours</text>
<text x="4.1" y="450.4" font-size="10" font-weight="bold" fill="#000">E</text>
<text x="75" y="452.7" font-size="7.4" text-anchor="middle">Capan-2 tumor</text>
<line x1="40" y1="455.2" x2="110.5" y2="455.2" stroke="#1e1e1e" stroke-width="1.1"/>
<text x="56.3" y="466.5" font-size="7.4" text-anchor="middle">Single</text>
<text x="56.3" y="473.7" font-size="7.4" text-anchor="middle">dose</text>
<text x="92" y="466.5" font-size="7.4" text-anchor="middle">7-day</text>
<text x="92" y="473.7" font-size="7.4" text-anchor="middle">repeat</text>
<line x1="39.7" y1="477.7" x2="39.7" y2="555" stroke="#9a9a9a" stroke-width="0.7" stroke-dasharray="0.8 1.2"/>
<line x1="74.6" y1="477.7" x2="74.6" y2="555" stroke="#9a9a9a" stroke-width="0.7" stroke-dasharray="0.8 1.2"/>
<line x1="29.8" y1="507.03" x2="37.1" y2="507.03" stroke="#3c3c3c" stroke-width="0.9"/>
<line x1="41.4" y1="511.99" x2="49.2" y2="511.99" stroke="#3c3c3c" stroke-width="0.9"/>
<line x1="53" y1="510.08" x2="61" y2="510.08" stroke="#3d6e62" stroke-width="0.9"/>
<line x1="64.8" y1="530.01" x2="72.6" y2="530.01" stroke="#3d6e62" stroke-width="0.9"/>
<line x1="76.6" y1="545.46" x2="84.2" y2="545.46" stroke="#3d6e62" stroke-width="0.9"/>
<line x1="88.2" y1="542.12" x2="96" y2="542.12" stroke="#3c3c3c" stroke-width="0.9"/>
<line x1="99.8" y1="536.12" x2="107.7" y2="536.12" stroke="#3d6e62" stroke-width="0.9"/>
<circle cx="31.6" cy="505.4" r="1.15" fill="#1e1e1e"/>
<circle cx="33.7" cy="510.56" r="1.15" fill="#1e1e1e"/>
<circle cx="35.4" cy="506.74" r="1.15" fill="#1e1e1e"/>
<circle cx="45.4" cy="501.88" r="1.15" fill="#1e1e1e"/>
<circle cx="45.4" cy="504.93" r="1.15" fill="#2f6b55"/>
<circle cx="45.4" cy="529.53" r="1.15" fill="#1e1e1e"/>
<circle cx="57" cy="505.88" r="1.15" fill="#1e1e1e"/>
<circle cx="57" cy="509.41" r="1.15" fill="#2f6b55"/>
<circle cx="57" cy="514.85" r="1.15" fill="#1e1e1e"/>
<circle cx="68.8" cy="521.43" r="1.15" fill="#1e1e1e"/>
<circle cx="68.8" cy="530.01" r="1.15" fill="#2f6b55"/>
<circle cx="68.8" cy="537.83" r="1.15" fill="#1e1e1e"/>
<circle cx="80.4" cy="542.12" r="1.15" fill="#1e1e1e"/>
<circle cx="80.4" cy="545.65" r="1.15" fill="#2f6b55"/>
<circle cx="80.4" cy="549.09" r="1.15" fill="#1e1e1e"/>
<circle cx="92.2" cy="534.69" r="1.15" fill="#1e1e1e"/>
<circle cx="92.2" cy="545.08" r="1.15" fill="#2f6b55"/>
<circle cx="92.2" cy="548.51" r="1.15" fill="#1e1e1e"/>
<circle cx="103.7" cy="532.11" r="1.15" fill="#1e1e1e"/>
<circle cx="103.7" cy="536.4" r="1.15" fill="#2f6b55"/>
<circle cx="103.7" cy="540.79" r="1.15" fill="#1e1e1e"/>
<line x1="25.3" y1="478.2" x2="25.3" y2="555.5" stroke="#1e1e1e" stroke-width="1.2"/>
<line x1="24.7" y1="555" x2="112.5" y2="555" stroke="#1e1e1e" stroke-width="1.4"/>
<line x1="22.7" y1="555" x2="25.3" y2="555" stroke="#1e1e1e" stroke-width="1.0"/>
<text x="19.2" y="557.7" font-size="7.4" text-anchor="end">0</text>
<line x1="22.7" y1="535.92" x2="25.3" y2="535.92" stroke="#1e1e1e" stroke-width="1.0"/>
<text x="19.2" y="538.62" font-size="7.4" text-anchor="end">20</text>
<line x1="22.7" y1="516.85" x2="25.3" y2="516.85" stroke="#1e1e1e" stroke-width="1.0"/>
<text x="19.2" y="519.55" font-size="7.4" text-anchor="end">40</text>
<line x1="22.7" y1="497.77" x2="25.3" y2="497.77" stroke="#1e1e1e" stroke-width="1.0"/>
<text x="19.2" y="500.47" font-size="7.4" text-anchor="end">60</text>
<line x1="22.7" y1="478.7" x2="25.3" y2="478.7" stroke="#1e1e1e" stroke-width="1.0"/>
<text x="19.2" y="481.4" font-size="7.4" text-anchor="end">80</text>
<text x="32.2" y="563.5" font-size="7.4" text-anchor="middle">Ctrl</text>
<text x="44.3" y="563.5" font-size="7.4" text-anchor="middle">8</text>
<text x="56.5" y="563.5" font-size="7.4" text-anchor="middle">24</text>
<text x="68" y="563.5" font-size="7.4" text-anchor="middle">48</text>
<text x="80" y="563.5" font-size="7.4" text-anchor="middle">8</text>
<text x="91.5" y="563.5" font-size="7.4" text-anchor="middle">24</text>
<text x="103" y="563.5" font-size="7.4" text-anchor="middle">48</text>
<text x="6.2" y="517" font-size="7.6" text-anchor="middle" transform="rotate(-90 6.2 517)">Ki67 (% positive cells)</text>
<text x="110" y="563.5" font-size="7.4">Hours</text>
<text x="68.5" y="483.5" font-size="6.5" text-anchor="middle">*</text>
<text x="80" y="483.5" font-size="6.5" text-anchor="middle">***</text>
<text x="91.9" y="483.5" font-size="6.5" text-anchor="middle">***</text>
<text x="103.7" y="483.5" font-size="6.5" text-anchor="middle">**</text>
<text x="209" y="452.2" font-size="7.4" text-anchor="middle">Ear skin</text>
<line x1="175" y1="455.5" x2="244" y2="455.5" stroke="#1e1e1e" stroke-width="1.1"/>
<text x="192" y="466.8" font-size="7.4" text-anchor="middle">Single</text>
<text x="192" y="473.8" font-size="7.4" text-anchor="middle">dose</text>
<text x="227.6" y="466.8" font-size="7.4" text-anchor="middle">7-day</text>
<text x="227.6" y="473.8" font-size="7.4" text-anchor="middle">repeat</text>
<line x1="173.6" y1="477.7" x2="173.6" y2="555.4" stroke="#9a9a9a" stroke-width="0.7" stroke-dasharray="0.8 1.2"/>
<line x1="209.5" y1="477.7" x2="209.5" y2="555.4" stroke="#9a9a9a" stroke-width="0.7" stroke-dasharray="0.8 1.2"/>
<line x1="164" y1="551.18" x2="172" y2="551.18" stroke="#3c3c3c" stroke-width="0.9"/>
<line x1="175.4" y1="550.61" x2="182.4" y2="550.61" stroke="#3d6e62" stroke-width="0.9"/>
<line x1="187.4" y1="552.62" x2="195" y2="552.62" stroke="#3c3c3c" stroke-width="0.9"/>
<line x1="200.3" y1="550.32" x2="206.7" y2="550.32" stroke="#3c3c3c" stroke-width="0.9"/>
<line x1="211.6" y1="550.99" x2="219.2" y2="550.99" stroke="#3c3c3c" stroke-width="0.9"/>
<line x1="223" y1="552.62" x2="230.5" y2="552.62" stroke="#3c3c3c" stroke-width="0.9"/>
<line x1="235.3" y1="549.84" x2="243.1" y2="549.84" stroke="#3c3c3c" stroke-width="0.9"/>
<circle cx="165.2" cy="551.47" r="1.15" fill="#1e1e1e"/>
<circle cx="167.8" cy="550.8" r="1.15" fill="#1e1e1e"/>
<circle cx="170.4" cy="550.8" r="1.15" fill="#1e1e1e"/>
<circle cx="178.8" cy="550.03" r="1.15" fill="#2f6b55"/>
<circle cx="178.8" cy="551.18" r="1.15" fill="#1e1e1e"/>
<circle cx="188.6" cy="553.19" r="1.15" fill="#1e1e1e"/>
<circle cx="191.2" cy="552.43" r="1.15" fill="#1e1e1e"/>
<circle cx="193.7" cy="552.43" r="1.15" fill="#1e1e1e"/>
<circle cx="203.3" cy="546" r="1.15" fill="#1e1e1e"/>
<circle cx="203.3" cy="551.18" r="1.15" fill="#1e1e1e"/>
<circle cx="203.3" cy="553.19" r="1.15" fill="#1e1e1e"/>
<circle cx="212.8" cy="551.28" r="1.15" fill="#1e1e1e"/>
<circle cx="215" cy="550.61" r="1.15" fill="#1e1e1e"/>
<circle cx="218" cy="551.18" r="1.15" fill="#1e1e1e"/>
<circle cx="224" cy="553" r="1.15" fill="#1e1e1e"/>
<circle cx="226.6" cy="552.14" r="1.15" fill="#1e1e1e"/>
<circle cx="229.2" cy="552.81" r="1.15" fill="#1e1e1e"/>
<circle cx="238.7" cy="547.35" r="1.15" fill="#1e1e1e"/>
<circle cx="238.7" cy="552.52" r="1.15" fill="#1e1e1e"/>
<line x1="159.2" y1="478.2" x2="159.2" y2="555.9" stroke="#1e1e1e" stroke-width="1.2"/>
<line x1="158.6" y1="555.9" x2="249" y2="555.9" stroke="#1e1e1e" stroke-width="1.4"/>
<line x1="156.6" y1="555.4" x2="159.2" y2="555.4" stroke="#1e1e1e" stroke-width="1.0"/>
<text x="152.6" y="558.1" font-size="7.4" text-anchor="end">0</text>
<line x1="156.6" y1="536.23" x2="159.2" y2="536.23" stroke="#1e1e1e" stroke-width="1.0"/>
<text x="152.6" y="538.93" font-size="7.4" text-anchor="end">20</text>
<line x1="156.6" y1="517.05" x2="159.2" y2="517.05" stroke="#1e1e1e" stroke-width="1.0"/>
<text x="152.6" y="519.75" font-size="7.4" text-anchor="end">40</text>
<line x1="156.6" y1="497.88" x2="159.2" y2="497.88" stroke="#1e1e1e" stroke-width="1.0"/>
<text x="152.6" y="500.57" font-size="7.4" text-anchor="end">60</text>
<line x1="156.6" y1="478.7" x2="159.2" y2="478.7" stroke="#1e1e1e" stroke-width="1.0"/>
<text x="152.6" y="481.4" font-size="7.4" text-anchor="end">80</text>
<text x="166.3" y="564.8" font-size="7.4" text-anchor="middle">Ctrl</text>
<text x="177.9" y="564.8" font-size="7.4" text-anchor="middle">8</text>
<text x="190" y="564.8" font-size="7.4" text-anchor="middle">24</text>
<text x="201.6" y="564.8" font-size="7.4" text-anchor="middle">48</text>
<text x="212.5" y="564.8" font-size="7.4" text-anchor="middle">8</text>
<text x="224.8" y="564.8" font-size="7.4" text-anchor="middle">24</text>
<text x="236.8" y="564.8" font-size="7.4" text-anchor="middle">48</text>
<text x="141.6" y="517" font-size="7.6" text-anchor="middle" transform="rotate(-90 141.6 517)">Ki67 (% positive cells)</text>
<text x="243.5" y="564.8" font-size="7.4">Hours</text>
<text x="344.7" y="184.6" font-size="7.4" text-anchor="middle">Control</text>
<text x="455.5" y="171.9" font-size="7.4" text-anchor="middle">RMC-6236</text>
<line x1="424" y1="174.8" x2="487.5" y2="174.8" stroke="#1e1e1e" stroke-width="1.1"/>
<text x="424" y="183.8" font-size="7.4" text-anchor="middle">Single dose</text>
<text x="487.5" y="183.8" font-size="7.4" text-anchor="middle">7-day repeat</text>
<text x="390.8" y="198.2" font-size="7.4" text-anchor="end">2 h</text>
<text x="390.8" y="218.2" font-size="7.4" text-anchor="end">8 h</text>
<text x="390.8" y="238.2" font-size="7.4" text-anchor="end">24 h</text>
<text x="390.8" y="258.2" font-size="7.4" text-anchor="end">48 h</text>
<rect x="314" y="187.5" width="61.5" height="17" fill="#fbfbfd"/>
<path d="M314.0 196.0L326.3 195.2L338.6 194.6L350.9 195.2L363.2 195.2L375.5 196.0L375.5 204.5L314.0 204.5Z" fill="url(#derm)"/>
<path d="M314.0 196.0L326.3 195.2L338.6 194.6L350.9 195.2L363.2 195.2L375.5 196.0L375.5 199.5L363.2 198.7L350.9 198.7L338.6 198.1L326.3 198.7L314.0 199.5Z" fill="url(#bandp)"/>
<path d="M314.0 196.3L326.3 195.5L338.6 194.9L350.9 195.5L363.2 195.5L375.5 196.3" fill="none" stroke="#a3a1c9" stroke-width="0.7" stroke-opacity="0.85"/>
<path d="M314.0 198.8L326.3 198.0L338.6 197.4L350.9 198.0L363.2 198.0L375.5 198.8" fill="none" stroke="#9c9ac4" stroke-width="0.6" stroke-dasharray="2 1" stroke-opacity="0.7"/>
<circle cx="323.73" cy="201.63" r="0.54" fill="#4e4c7c"/>
<circle cx="330.67" cy="199.46" r="0.46" fill="#4e4c7c"/>
<circle cx="353.47" cy="201.26" r="0.37" fill="#4e4c7c"/>
<circle cx="317.63" cy="201.64" r="0.46" fill="#4e4c7c"/>
<circle cx="359.83" cy="196.66" r="0.46" fill="#4e4c7c"/>
<circle cx="357.49" cy="197.99" r="0.59" fill="#4e4c7c"/>
<rect x="314.5" y="188" width="60.5" height="16" fill="none" stroke="#7a7a7a" stroke-width="1.1"/>
<line x1="366" y1="201.5" x2="372" y2="201.5" stroke="#444" stroke-width="0.9"/>
<rect x="393.6" y="186.3" width="61" height="18" fill="#fbfbfd"/>
<path d="M393.6 192.6L402.8 193.5L411.9 194.9L421.1 194.2L427.2 193.9L436.3 197.5L445.5 194.9L454.6 194.4L454.6 204.3L393.6 204.3Z" fill="url(#derm)"/>
<path d="M393.6 192.6L402.8 193.5L411.9 194.9L421.1 194.2L427.2 193.9L436.3 197.5L445.5 194.9L454.6 194.4L454.6 197.9L445.5 198.4L436.3 201.0L427.2 197.4L421.1 197.7L411.9 198.4L402.8 197.0L393.6 196.1Z" fill="url(#bandp)"/>
<path d="M393.6 192.9L402.8 193.8L411.9 195.2L421.1 194.5L427.2 194.2L436.3 197.8L445.5 195.2L454.6 194.7" fill="none" stroke="#a3a1c9" stroke-width="0.7" stroke-opacity="0.85"/>
<path d="M393.6 195.4L402.8 196.3L411.9 197.7L421.1 197.0L427.2 196.7L436.3 200.3L445.5 197.7L454.6 197.2" fill="none" stroke="#9c9ac4" stroke-width="0.6" stroke-dasharray="2 1" stroke-opacity="0.7"/>
<circle cx="428.17" cy="198.57" r="0.49" fill="#4e4c7c"/>
<circle cx="407.35" cy="201.07" r="0.56" fill="#4e4c7c"/>
<circle cx="432.85" cy="198.35" r="0.48" fill="#4e4c7c"/>
<circle cx="414.28" cy="197.76" r="0.59" fill="#4e4c7c"/>
<circle cx="452.4" cy="196.31" r="0.57" fill="#4e4c7c"/>
<circle cx="429.98" cy="198.7" r="0.42" fill="#4e4c7c"/>
<rect x="394.1" y="186.8" width="60" height="17" fill="none" stroke="#7a7a7a" stroke-width="1.1"/>
<line x1="445.1" y1="201.3" x2="451.1" y2="201.3" stroke="#444" stroke-width="0.9"/>
<rect x="456.6" y="186.3" width="61.8" height="18" fill="#fbfbfd"/>
<path d="M456.6 191.3L469.0 190.8L478.2 192.6L487.5 194.9L503.0 194.8L518.4 194.4L518.4 204.3L456.6 204.3Z" fill="url(#derm)"/>
<path d="M456.6 191.3L469.0 190.8L478.2 192.6L487.5 194.9L503.0 194.8L518.4 194.4L518.4 197.9L503.0 198.3L487.5 198.4L478.2 196.1L469.0 194.3L456.6 194.8Z" fill="url(#bandp)"/>
<path d="M456.6 191.6L469.0 191.1L478.2 192.9L487.5 195.2L503.0 195.1L518.4 194.7" fill="none" stroke="#a3a1c9" stroke-width="0.7" stroke-opacity="0.85"/>
<path d="M456.6 194.1L469.0 193.6L478.2 195.4L487.5 197.7L503.0 197.6L518.4 197.2" fill="none" stroke="#9c9ac4" stroke-width="0.6" stroke-dasharray="2 1" stroke-opacity="0.7"/>
<circle cx="510.95" cy="200.35" r="0.54" fill="#4e4c7c"/>
<circle cx="510.89" cy="197.69" r="0.51" fill="#4e4c7c"/>
<circle cx="510.91" cy="201.5" r="0.49" fill="#4e4c7c"/>
<circle cx="468.39" cy="196.43" r="0.6" fill="#4e4c7c"/>
<circle cx="464.57" cy="195.62" r="0.59" fill="#4e4c7c"/>
<circle cx="484.58" cy="197.08" r="0.43" fill="#4e4c7c"/>
<rect x="457.1" y="186.8" width="60.8" height="17" fill="none" stroke="#7a7a7a" stroke-width="1.1"/>
<line x1="508.9" y1="201.3" x2="514.9" y2="201.3" stroke="#444" stroke-width="0.9"/>
<rect x="393.6" y="206.3" width="61" height="18" fill="#fbfbfd"/>
<path d="M393.6 215.8L402.8 213.9L411.9 212.2L424.1 213.5L436.3 213.9L454.6 214.8L454.6 224.3L393.6 224.3Z" fill="url(#derm)"/>
<path d="M393.6 215.8L402.8 213.9L411.9 212.2L424.1 213.5L436.3 213.9L454.6 214.8L454.6 218.3L436.3 217.4L424.1 217.0L411.9 215.7L402.8 217.4L393.6 219.3Z" fill="url(#bandp)"/>
<path d="M393.6 216.1L402.8 214.2L411.9 212.5L424.1 213.8L436.3 214.2L454.6 215.1" fill="none" stroke="#a3a1c9" stroke-width="0.7" stroke-opacity="0.85"/>
<path d="M393.6 218.6L402.8 216.7L411.9 215.0L424.1 216.3L436.3 216.7L454.6 217.6" fill="none" stroke="#9c9ac4" stroke-width="0.6" stroke-dasharray="2 1" stroke-opacity="0.7"/>
<circle cx="421.39" cy="218.96" r="0.58" fill="#4e4c7c"/>
<circle cx="422.14" cy="218.61" r="0.5" fill="#4e4c7c"/>
<circle cx="406.13" cy="218.62" r="0.51" fill="#4e4c7c"/>
<circle cx="440.8" cy="216.21" r="0.43" fill="#4e4c7c"/>
<circle cx="400.77" cy="221.06" r="0.52" fill="#4e4c7c"/>
<circle cx="397.99" cy="222.19" r="0.59" fill="#4e4c7c"/>
<rect x="394.1" y="206.8" width="60" height="17" fill="none" stroke="#7a7a7a" stroke-width="1.1"/>
<line x1="445.1" y1="221.3" x2="451.1" y2="221.3" stroke="#444" stroke-width="0.9"/>
<rect x="456.6" y="206.3" width="61.8" height="18" fill="#fbfbfd"/>
<path d="M456.6 218.4L469.0 218.5L481.3 217.5L493.7 213.1L506.0 209.9L518.4 208.5L518.4 224.3L456.6 224.3Z" fill="url(#derm)"/>
<path d="M456.6 218.4L469.0 218.5L481.3 217.5L493.7 213.1L506.0 209.9L518.4 208.5L518.4 212.5L506.0 213.9L493.7 217.1L481.3 221.5L469.0 222.5L456.6 222.4Z" fill="url(#bandp)"/>
<path d="M456.6 218.7L469.0 218.8L481.3 217.8L493.7 213.4L506.0 210.2L518.4 208.8" fill="none" stroke="#a3a1c9" stroke-width="0.7" stroke-opacity="0.85"/>
<path d="M456.6 221.6L469.0 221.7L481.3 220.7L493.7 216.3L506.0 213.1L518.4 211.7" fill="none" stroke="#9c9ac4" stroke-width="0.6" stroke-dasharray="2 1" stroke-opacity="0.7"/>
<circle cx="468.13" cy="221.6" r="0.51" fill="#4e4c7c"/>
<circle cx="486.29" cy="218.32" r="0.55" fill="#4e4c7c"/>
<circle cx="505.29" cy="217.08" r="0.48" fill="#4e4c7c"/>
<circle cx="472.24" cy="219.76" r="0.44" fill="#4e4c7c"/>
<circle cx="492.43" cy="215.58" r="0.55" fill="#4e4c7c"/>
<circle cx="472.02" cy="220.36" r="0.36" fill="#4e4c7c"/>
<rect x="457.1" y="206.8" width="60.8" height="17" fill="none" stroke="#7a7a7a" stroke-width="1.1"/>
<line x1="508.9" y1="221.3" x2="514.9" y2="221.3" stroke="#444" stroke-width="0.9"/>
<rect x="393.6" y="226.3" width="61" height="18" fill="#fbfbfd"/>
<path d="M393.6 233.1L408.9 232.8L424.1 233.9L436.3 235.7L445.5 235.3L454.6 234.9L454.6 244.3L393.6 244.3Z" fill="url(#derm)"/>
<path d="M393.6 233.1L408.9 232.8L424.1 233.9L436.3 235.7L445.5 235.3L454.6 234.9L454.6 238.9L445.5 239.3L436.3 239.7L424.1 237.9L408.9 236.8L393.6 237.1Z" fill="url(#bandp)"/>
<path d="M393.6 233.4L408.9 233.1L424.1 234.2L436.3 236.0L445.5 235.6L454.6 235.2" fill="none" stroke="#a3a1c9" stroke-width="0.7" stroke-opacity="0.85"/>
<path d="M393.6 236.3L408.9 236.0L424.1 237.1L436.3 238.9L445.5 238.5L454.6 238.1" fill="none" stroke="#9c9ac4" stroke-width="0.6" stroke-dasharray="2 1" stroke-opacity="0.7"/>
<path d="M393.6 235.3L408.9 235.0L424.1 236.1L436.3 237.9L445.5 237.5L454.6 237.1" fill="none" stroke="#b48c78" stroke-width="0.8" stroke-dasharray="3 2 1 2" stroke-opacity="0.9"/>
<circle cx="422.65" cy="239.72" r="0.6" fill="#a87a6a"/>
<circle cx="417.35" cy="242.27" r="0.54" fill="#bc9484"/>
<circle cx="434.96" cy="239.97" r="0.57" fill="#a87a6a"/>
<circle cx="451.35" cy="238.36" r="0.5" fill="#a87a6a"/>
<circle cx="398.95" cy="240.8" r="0.42" fill="#bc9484"/>
<circle cx="434.44" cy="241.1" r="0.43" fill="#a87a6a"/>
<circle cx="442.32" cy="240.31" r="0.47" fill="#bc9484"/>
<circle cx="449.56" cy="236.83" r="0.53" fill="#a87a6a"/>
<circle cx="426.35" cy="241.52" r="0.49" fill="#4e4c7c"/>
<circle cx="451.24" cy="241.64" r="0.49" fill="#4e4c7c"/>
<circle cx="424.51" cy="236" r="0.5" fill="#4e4c7c"/>
<circle cx="433.68" cy="239.37" r="0.5" fill="#4e4c7c"/>
<circle cx="426.45" cy="239.93" r="0.37" fill="#4e4c7c"/>
<circle cx="406.54" cy="240.61" r="0.42" fill="#4e4c7c"/>
<rect x="394.1" y="226.8" width="60" height="17" fill="none" stroke="#7a7a7a" stroke-width="1.1"/>
<line x1="445.1" y1="241.3" x2="451.1" y2="241.3" stroke="#444" stroke-width="0.9"/>
<rect x="456.6" y="226.3" width="61.8" height="18" fill="#fbfbfd"/>
<path d="M456.6 235.3L469.0 234.4L481.3 233.5L493.7 234.4L506.0 232.6L518.4 231.7L518.4 244.3L456.6 244.3Z" fill="url(#derm)"/>
<path d="M456.6 235.3L469.0 234.4L481.3 233.5L493.7 234.4L506.0 232.6L518.4 231.7L518.4 235.2L506.0 236.1L493.7 237.9L481.3 237.0L469.0 237.9L456.6 238.8Z" fill="url(#bandp)"/>
<path d="M456.6 235.6L469.0 234.7L481.3 233.8L493.7 234.7L506.0 232.9L518.4 232.0" fill="none" stroke="#a3a1c9" stroke-width="0.7" stroke-opacity="0.85"/>
<path d="M456.6 238.1L469.0 237.2L481.3 236.3L493.7 237.2L506.0 235.4L518.4 234.5" fill="none" stroke="#9c9ac4" stroke-width="0.6" stroke-dasharray="2 1" stroke-opacity="0.7"/>
<path d="M456.6 237.2L469.0 236.3L481.3 235.4L493.7 236.3L506.0 234.5L518.4 233.6" fill="none" stroke="#b48c78" stroke-width="0.8" stroke-dasharray="3 2 1 2" stroke-opacity="0.9"/>
<circle cx="513.98" cy="234.32" r="0.41" fill="#bc9484"/>
<circle cx="469.25" cy="236.21" r="0.6" fill="#bc9484"/>
<circle cx="504.41" cy="234.51" r="0.48" fill="#a87a6a"/>
<circle cx="477.06" cy="239.31" r="0.68" fill="#bc9484"/>
<circle cx="499.53" cy="234.92" r="0.66" fill="#bc9484"/>
<circle cx="476.56" cy="236.26" r="0.65" fill="#a87a6a"/>
<circle cx="498.97" cy="239.33" r="0.48" fill="#bc9484"/>
<circle cx="476.66" cy="240.67" r="0.69" fill="#a87a6a"/>
<circle cx="474.76" cy="237.32" r="0.52" fill="#4e4c7c"/>
<circle cx="483.56" cy="237.61" r="0.58" fill="#4e4c7c"/>
<circle cx="482.84" cy="236.92" r="0.42" fill="#4e4c7c"/>
<circle cx="509.59" cy="237.2" r="0.58" fill="#4e4c7c"/>
<circle cx="469.28" cy="239.49" r="0.45" fill="#4e4c7c"/>
<circle cx="460.06" cy="239.86" r="0.49" fill="#4e4c7c"/>
<rect x="457.1" y="226.8" width="60.8" height="17" fill="none" stroke="#7a7a7a" stroke-width="1.1"/>
<line x1="508.9" y1="241.3" x2="514.9" y2="241.3" stroke="#444" stroke-width="0.9"/>
<rect x="393.6" y="246.3" width="61" height="18" fill="#fbfbfd"/>
<path d="M393.6 253.5L399.7 253.0L408.9 255.3L421.1 257.8L430.2 255.3L442.4 255.7L454.6 256.0L454.6 264.3L393.6 264.3Z" fill="url(#derm)"/>
<path d="M393.6 253.5L399.7 253.0L408.9 255.3L421.1 257.8L430.2 255.3L442.4 255.7L454.6 256.0L454.6 260.0L442.4 259.7L430.2 259.3L421.1 261.8L408.9 259.3L399.7 257.0L393.6 257.5Z" fill="url(#bandp)"/>
<path d="M393.6 253.8L399.7 253.3L408.9 255.6L421.1 258.1L430.2 255.6L442.4 256.0L454.6 256.3" fill="none" stroke="#a3a1c9" stroke-width="0.7" stroke-opacity="0.85"/>
<path d="M393.6 256.7L399.7 256.2L408.9 258.5L421.1 261.0L430.2 258.5L442.4 258.9L454.6 259.2" fill="none" stroke="#9c9ac4" stroke-width="0.6" stroke-dasharray="2 1" stroke-opacity="0.7"/>
<path d="M393.6 255.7L399.7 255.2L408.9 257.5L421.1 260.0L430.2 257.5L442.4 257.9L454.6 258.2" fill="none" stroke="#b48c78" stroke-width="0.8" stroke-dasharray="3 2 1 2" stroke-opacity="0.9"/>
<circle cx="410.36" cy="260.51" r="0.61" fill="#a87a6a"/>
<circle cx="432.76" cy="260.32" r="0.66" fill="#a87a6a"/>
<circle cx="403.02" cy="258.79" r="0.46" fill="#bc9484"/>
<circle cx="397.31" cy="255.2" r="0.61" fill="#a87a6a"/>
<circle cx="452.2" cy="261.41" r="0.43" fill="#bc9484"/>
<circle cx="442.7" cy="260.86" r="0.68" fill="#bc9484"/>
<circle cx="415.88" cy="258.82" r="0.67" fill="#bc9484"/>
<circle cx="433.83" cy="261.64" r="0.59" fill="#a87a6a"/>
<circle cx="415.32" cy="260.61" r="0.51" fill="#4e4c7c"/>
<circle cx="410.58" cy="259.46" r="0.5" fill="#4e4c7c"/>
<circle cx="451.87" cy="259.58" r="0.53" fill="#4e4c7c"/>
<circle cx="426.15" cy="259.2" r="0.39" fill="#4e4c7c"/>
<circle cx="415.91" cy="259.76" r="0.42" fill="#4e4c7c"/>
<circle cx="411.57" cy="261.75" r="0.49" fill="#4e4c7c"/>
<rect x="394.1" y="246.8" width="60" height="17" fill="none" stroke="#7a7a7a" stroke-width="1.1"/>
<line x1="445.1" y1="261.3" x2="451.1" y2="261.3" stroke="#444" stroke-width="0.9"/>
<rect x="456.6" y="246.3" width="61.8" height="18" fill="#fbfbfd"/>
<path d="M456.6 254.4L465.9 251.7L475.1 254.4L487.5 256.2L499.9 254.4L509.1 255.3L518.4 253.5L518.4 264.3L456.6 264.3Z" fill="url(#derm)"/>
<path d="M456.6 254.4L465.9 251.7L475.1 254.4L487.5 256.2L499.9 254.4L509.1 255.3L518.4 253.5L518.4 257.5L509.1 259.3L499.9 258.4L487.5 260.2L475.1 258.4L465.9 255.7L456.6 258.4Z" fill="url(#bandp)"/>
<path d="M456.6 254.7L465.9 252.0L475.1 254.7L487.5 256.5L499.9 254.7L509.1 255.6L518.4 253.8" fill="none" stroke="#a3a1c9" stroke-width="0.7" stroke-opacity="0.85"/>
<path d="M456.6 257.6L465.9 254.9L475.1 257.6L487.5 259.4L499.9 257.6L509.1 258.5L518.4 256.7" fill="none" stroke="#9c9ac4" stroke-width="0.6" stroke-dasharray="2 1" stroke-opacity="0.7"/>
<path d="M456.6 256.6L465.9 253.9L475.1 256.6L487.5 258.4L499.9 256.6L509.1 257.5L518.4 255.7" fill="none" stroke="#b48c78" stroke-width="0.8" stroke-dasharray="3 2 1 2" stroke-opacity="0.9"/>
<circle cx="512.06" cy="261.96" r="0.67" fill="#a87a6a"/>
<circle cx="459.59" cy="256.91" r="0.51" fill="#bc9484"/>
<circle cx="466.13" cy="254.6" r="0.53" fill="#a87a6a"/>
<circle cx="494.45" cy="261.7" r="0.43" fill="#bc9484"/>
<circle cx="482.95" cy="259.49" r="0.62" fill="#bc9484"/>
<circle cx="503.15" cy="257.07" r="0.41" fill="#bc9484"/>
<circle cx="496.63" cy="259.86" r="0.69" fill="#bc9484"/>
<circle cx="491.29" cy="261.51" r="0.69" fill="#bc9484"/>
<circle cx="496.78" cy="258.22" r="0.37" fill="#4e4c7c"/>
<circle cx="486" cy="260.94" r="0.5" fill="#4e4c7c"/>
<circle cx="484.46" cy="260.5" r="0.4" fill="#4e4c7c"/>
<circle cx="468.92" cy="256.74" r="0.55" fill="#4e4c7c"/>
<circle cx="469.91" cy="255.28" r="0.37" fill="#4e4c7c"/>
<circle cx="460.85" cy="256.77" r="0.49" fill="#4e4c7c"/>
<rect x="457.1" y="246.8" width="60.8" height="17" fill="none" stroke="#7a7a7a" stroke-width="1.1"/>
<line x1="508.9" y1="261.3" x2="514.9" y2="261.3" stroke="#444" stroke-width="0.9"/>
<text x="272.4" y="312.5" font-size="10" font-weight="bold" fill="#000">F</text>
<text x="355.5" y="316.3" font-size="7.4" text-anchor="middle">Capan-2 tumor</text>
<text x="355.5" y="330.6" font-size="7.4" text-anchor="middle">RMC-6236</text>
<line x1="328" y1="332.7" x2="383" y2="332.7" stroke="#1e1e1e" stroke-width="1.1"/>
<text x="280.5" y="342.7" font-size="7.4" text-anchor="middle">Control</text>
<text x="328" y="342.7" font-size="7.4" text-anchor="middle">8 h</text>
<text x="357" y="342.7" font-size="7.4" text-anchor="middle">24 h</text>
<text x="386" y="342.7" font-size="7.4" text-anchor="middle">48 h</text>
<rect x="266.5" y="346" width="28" height="28.5" fill="url(#tcc3c)"/>
<rect x="267" y="346.5" width="27" height="27.5" fill="none" stroke="#777" stroke-width="1.1"/>
<line x1="287" y1="371.3" x2="291" y2="371.3" stroke="#333" stroke-width="0.9"/>
<rect x="313.8" y="346" width="27.8" height="28.5" fill="url(#tcc3)"/>
<rect x="314.3" y="346.5" width="26.8" height="27.5" fill="none" stroke="#777" stroke-width="1.1"/>
<line x1="334.1" y1="371.3" x2="338.1" y2="371.3" stroke="#333" stroke-width="0.9"/>
<rect x="343.1" y="346" width="27.8" height="28.5" fill="url(#tcc3)"/>
<rect x="343.6" y="346.5" width="26.8" height="27.5" fill="none" stroke="#777" stroke-width="1.1"/>
<line x1="363.4" y1="371.3" x2="367.4" y2="371.3" stroke="#333" stroke-width="0.9"/>
<rect x="372.4" y="346" width="27.8" height="28.5" fill="url(#tcc3l)"/>
<rect x="372.9" y="346.5" width="26.8" height="27.5" fill="none" stroke="#777" stroke-width="1.1"/>
<line x1="392.7" y1="371.3" x2="396.7" y2="371.3" stroke="#333" stroke-width="0.9"/>
<rect x="313.8" y="384.6" width="27.8" height="28" fill="url(#tcc3l)"/>
<rect x="314.3" y="385.1" width="26.8" height="27" fill="none" stroke="#777" stroke-width="1.1"/>
<line x1="334.1" y1="409.4" x2="338.1" y2="409.4" stroke="#333" stroke-width="0.9"/>
<rect x="343.1" y="384.6" width="27.8" height="28" fill="url(#tcc3)"/>
<rect x="343.6" y="385.1" width="26.8" height="27" fill="none" stroke="#777" stroke-width="1.1"/>
<line x1="363.4" y1="409.4" x2="367.4" y2="409.4" stroke="#333" stroke-width="0.9"/>
<rect x="372.4" y="384.6" width="27.8" height="28" fill="url(#tcc3b)"/>
<rect x="372.9" y="385.1" width="26.8" height="27" fill="none" stroke="#777" stroke-width="1.1"/>
<line x1="392.7" y1="409.4" x2="396.7" y2="409.4" stroke="#333" stroke-width="0.9"/>
<text x="304.1" y="360.3" font-size="7.4" text-anchor="middle" transform="rotate(-90 304.1 360.3)">Single</text>
<text x="311" y="360.3" font-size="7.4" text-anchor="middle" transform="rotate(-90 311 360.3)">dose</text>
<text x="303.5" y="398.6" font-size="7.4" text-anchor="middle" transform="rotate(-90 303.5 398.6)">7-day</text>
<text x="311" y="398.6" font-size="7.4" text-anchor="middle" transform="rotate(-90 311 398.6)">repeat</text>
<text x="471.5" y="316.3" font-size="7.4" text-anchor="middle">Ear skin</text>
<text x="471.5" y="335.6" font-size="7.4" text-anchor="middle">RMC-6236 (48 h)</text>
<rect x="423.3" y="339.7" width="95" height="25.3" fill="#fbfbfd"/>
<path d="M423.3 343.5L447.1 344.3L470.8 346.0L494.6 348.6L518.3 350.3L518.3 365.0L423.3 365.0Z" fill="url(#derm)"/>
<path d="M423.3 343.5L447.1 344.3L470.8 346.0L494.6 348.6L518.3 350.3L518.3 357.3L494.6 355.6L470.8 353.0L447.1 351.3L423.3 350.5Z" fill="url(#bandp)"/>
<path d="M423.3 343.8L447.1 344.6L470.8 346.3L494.6 348.9L518.3 350.6" fill="none" stroke="#a3a1c9" stroke-width="0.7" stroke-opacity="0.85"/>
<path d="M423.3 349.1L447.1 349.9L470.8 351.6L494.6 354.2L518.3 355.9" fill="none" stroke="#9c9ac4" stroke-width="0.6" stroke-dasharray="2 1" stroke-opacity="0.7"/>
<circle cx="426.42" cy="347.11" r="0.45" fill="#4e4c7c"/>
<circle cx="487.53" cy="351.21" r="0.38" fill="#4e4c7c"/>
<circle cx="446.39" cy="358.81" r="0.39" fill="#4e4c7c"/>
<circle cx="492.7" cy="358.56" r="0.38" fill="#4e4c7c"/>
<circle cx="474.05" cy="354.64" r="0.45" fill="#4e4c7c"/>
<circle cx="515.97" cy="352.71" r="0.36" fill="#4e4c7c"/>
<circle cx="510.82" cy="356" r="0.4" fill="#4e4c7c"/>
<circle cx="455.36" cy="352.44" r="0.59" fill="#4e4c7c"/>
<circle cx="444.44" cy="349.43" r="0.5" fill="#4e4c7c"/>
<circle cx="475.11" cy="362.31" r="0.56" fill="#4e4c7c"/>
<rect x="423.8" y="340.2" width="94" height="24.3" fill="none" stroke="#7a7a7a" stroke-width="1.1"/>
<line x1="501.8" y1="362" x2="514.8" y2="362" stroke="#444" stroke-width="0.9"/>
<rect x="423.3" y="372.3" width="95" height="26.7" fill="#fbfbfd"/>
<path d="M423.3 379.2L442.3 379.5L461.3 380.3L480.3 379.8L499.3 380.3L518.3 379.5L518.3 399.0L423.3 399.0Z" fill="url(#derm)"/>
<path d="M423.3 379.2L442.3 379.5L461.3 380.3L480.3 379.8L499.3 380.3L518.3 379.5L518.3 385.0L499.3 385.8L480.3 385.3L461.3 385.8L442.3 385.0L423.3 384.7Z" fill="url(#bandp)"/>
<path d="M423.3 379.5L442.3 379.8L461.3 380.6L480.3 380.1L499.3 380.6L518.3 379.8" fill="none" stroke="#a3a1c9" stroke-width="0.7" stroke-opacity="0.85"/>
<path d="M423.3 383.6L442.3 383.9L461.3 384.7L480.3 384.2L499.3 384.7L518.3 383.9" fill="none" stroke="#9c9ac4" stroke-width="0.6" stroke-dasharray="2 1" stroke-opacity="0.7"/>
<circle cx="432.35" cy="384.31" r="0.43" fill="#4e4c7c"/>
<circle cx="507.22" cy="389.18" r="0.53" fill="#4e4c7c"/>
<circle cx="434.42" cy="389.09" r="0.56" fill="#4e4c7c"/>
<circle cx="472.87" cy="396.14" r="0.57" fill="#4e4c7c"/>
<circle cx="459.06" cy="381.73" r="0.54" fill="#4e4c7c"/>
<circle cx="436.8" cy="381.08" r="0.53" fill="#4e4c7c"/>
<circle cx="502" cy="394.5" r="0.59" fill="#4e4c7c"/>
<circle cx="443.65" cy="382.36" r="0.38" fill="#4e4c7c"/>
<circle cx="514.27" cy="382.95" r="0.39" fill="#4e4c7c"/>
<circle cx="427.13" cy="381.6" r="0.36" fill="#4e4c7c"/>
<circle cx="457.43" cy="384.15" r="0.43" fill="#4e4c7c"/>
<circle cx="509.82" cy="383.98" r="0.55" fill="#4e4c7c"/>
<rect x="423.8" y="372.8" width="94" height="25.7" fill="none" stroke="#7a7a7a" stroke-width="1.1"/>
<line x1="501.8" y1="396" x2="514.8" y2="396" stroke="#444" stroke-width="0.9"/>
<rect x="423.3" y="406.3" width="95" height="27" fill="#fbfbfd"/>
<path d="M423.3 418.2L442.3 419.8L456.6 422.2L470.8 420.3L480.3 417.4L499.3 416.3L518.3 415.5L518.3 433.3L423.3 433.3Z" fill="url(#derm)"/>
<path d="M423.3 418.2L442.3 419.8L456.6 422.2L470.8 420.3L480.3 417.4L499.3 416.3L518.3 415.5L518.3 420.0L499.3 420.8L480.3 421.9L470.8 424.8L456.6 426.7L442.3 424.3L423.3 422.7Z" fill="url(#bandp)"/>
<path d="M423.3 418.5L442.3 420.1L456.6 422.5L470.8 420.6L480.3 417.7L499.3 416.6L518.3 415.8" fill="none" stroke="#a3a1c9" stroke-width="0.7" stroke-opacity="0.85"/>
<path d="M423.3 421.8L442.3 423.4L456.6 425.8L470.8 423.9L480.3 421.0L499.3 419.9L518.3 419.1" fill="none" stroke="#9c9ac4" stroke-width="0.6" stroke-dasharray="2 1" stroke-opacity="0.7"/>
<circle cx="477.2" cy="427.09" r="0.55" fill="#4e4c7c"/>
<circle cx="450.53" cy="428.31" r="0.57" fill="#4e4c7c"/>
<circle cx="508" cy="420.01" r="0.51" fill="#4e4c7c"/>
<circle cx="481.46" cy="425.09" r="0.59" fill="#4e4c7c"/>
<circle cx="473.37" cy="425.61" r="0.59" fill="#4e4c7c"/>
<circle cx="483.14" cy="422.5" r="0.43" fill="#4e4c7c"/>
<circle cx="470.45" cy="422.38" r="0.5" fill="#4e4c7c"/>
<circle cx="492.26" cy="423.78" r="0.56" fill="#4e4c7c"/>
<circle cx="509.75" cy="425.1" r="0.52" fill="#4e4c7c"/>
<circle cx="435.97" cy="421.35" r="0.6" fill="#4e4c7c"/>
<circle cx="451.18" cy="424.63" r="0.57" fill="#4e4c7c"/>
<circle cx="493.53" cy="419.74" r="0.43" fill="#4e4c7c"/>
<rect x="423.8" y="406.8" width="94" height="26" fill="none" stroke="#7a7a7a" stroke-width="1.1"/>
<line x1="501.8" y1="430.3" x2="514.8" y2="430.3" stroke="#444" stroke-width="0.9"/>
<text x="421.5" y="352.3" font-size="7.4" text-anchor="middle" transform="rotate(-90 421.5 352.3)">Control</text>
<text x="412.1" y="386.6" font-size="7.4" text-anchor="middle" transform="rotate(-90 412.1 386.6)">Single</text>
<text x="420.5" y="386.6" font-size="7.4" text-anchor="middle" transform="rotate(-90 420.5 386.6)">dose</text>
<text x="411" y="420.8" font-size="7.4" text-anchor="middle" transform="rotate(-90 411 420.8)">7-day</text>
<text x="419.7" y="420.8" font-size="7.4" text-anchor="middle" transform="rotate(-90 419.7 420.8)">repeat</text>
<text x="269.4" y="450.4" font-size="10" font-weight="bold" fill="#000">G</text>
<text x="354.5" y="462.7" font-size="7.4" text-anchor="middle">Capan-2 tumor</text>
<text x="354.5" y="474.4" font-size="7.4" text-anchor="middle">RMC-6236</text>
<line x1="329.4" y1="476.5" x2="382" y2="476.5" stroke="#1e1e1e" stroke-width="1.1"/>
<text x="280" y="484.4" font-size="7.4" text-anchor="middle">Control</text>
<text x="328" y="485.5" font-size="7.4" text-anchor="middle">8 h</text>
<text x="357" y="485.5" font-size="7.4" text-anchor="middle">24 h</text>
<text x="386" y="485.5" font-size="7.4" text-anchor="middle">48 h</text>
<rect x="266.5" y="487.2" width="27.8" height="28" fill="url(#tki)"/>
<rect x="267" y="487.7" width="26.8" height="27" fill="none" stroke="#777" stroke-width="1.1"/>
<line x1="286.8" y1="512" x2="290.8" y2="512" stroke="#333" stroke-width="0.9"/>
<rect x="313.6" y="487.2" width="27.8" height="28" fill="url(#tkil)"/>
<rect x="314.1" y="487.7" width="26.8" height="27" fill="none" stroke="#777" stroke-width="1.1"/>
<line x1="333.9" y1="512" x2="337.9" y2="512" stroke="#333" stroke-width="0.9"/>
<rect x="343" y="487.2" width="27.8" height="28" fill="url(#tki24)"/>
<rect x="343.5" y="487.7" width="26.8" height="27" fill="none" stroke="#777" stroke-width="1.1"/>
<line x1="363.3" y1="512" x2="367.3" y2="512" stroke="#333" stroke-width="0.9"/>
<rect x="372.4" y="487.2" width="27.8" height="28" fill="url(#tkib2)"/>
<rect x="372.9" y="487.7" width="26.8" height="27" fill="none" stroke="#777" stroke-width="1.1"/>
<line x1="392.7" y1="512" x2="396.7" y2="512" stroke="#333" stroke-width="0.9"/>
<rect x="313.6" y="524.6" width="27.8" height="27.7" fill="url(#tkib)"/>
<rect x="314.1" y="525.1" width="26.8" height="26.7" fill="none" stroke="#777" stroke-width="1.1"/>
<line x1="333.9" y1="549.1" x2="337.9" y2="549.1" stroke="#333" stroke-width="0.9"/>
<rect x="343" y="524.6" width="27.8" height="27.7" fill="url(#tkibl)"/>
<rect x="343.5" y="525.1" width="26.8" height="26.7" fill="none" stroke="#777" stroke-width="1.1"/>
<line x1="363.3" y1="549.1" x2="367.3" y2="549.1" stroke="#333" stroke-width="0.9"/>
<rect x="372.4" y="524.6" width="27.8" height="27.7" fill="url(#tkib3)"/>
<rect x="372.9" y="525.1" width="26.8" height="26.7" fill="none" stroke="#777" stroke-width="1.1"/>
<line x1="392.7" y1="549.1" x2="396.7" y2="549.1" stroke="#333" stroke-width="0.9"/>
<text x="303.5" y="501.2" font-size="7.4" text-anchor="middle" transform="rotate(-90 303.5 501.2)">Single</text>
<text x="311" y="501.2" font-size="7.4" text-anchor="middle" transform="rotate(-90 311 501.2)">dose</text>
<text x="303.5" y="538.5" font-size="7.4" text-anchor="middle" transform="rotate(-90 303.5 538.5)">7-day</text>
<text x="311" y="538.5" font-size="7.4" text-anchor="middle" transform="rotate(-90 311 538.5)">repeat</text>
<text x="470" y="461.7" font-size="7.4" text-anchor="middle">Ear skin</text>
<text x="469.2" y="477.8" font-size="7.4" text-anchor="middle">RMC-6236 (48 h)</text>
<rect x="423" y="480.7" width="93.7" height="25.1" fill="#fbfbfd"/>
<path d="M423.0 491.5L441.7 497.0L460.5 494.3L474.5 488.5L488.6 487.5L498.0 490.5L516.7 487.5L516.7 505.8L423.0 505.8Z" fill="url(#derm)"/>
<path d="M423.0 491.5L441.7 497.0L460.5 494.3L474.5 488.5L488.6 487.5L498.0 490.5L516.7 487.5L516.7 491.5L498.0 494.5L488.6 491.5L474.5 492.5L460.5 498.3L441.7 501.0L423.0 495.5Z" fill="url(#bandp)"/>
<path d="M423.0 491.8L441.7 497.3L460.5 494.6L474.5 488.8L488.6 487.8L498.0 490.8L516.7 487.8" fill="none" stroke="#a3a1c9" stroke-width="0.7" stroke-opacity="0.85"/>
<path d="M423.0 494.7L441.7 500.2L460.5 497.5L474.5 491.7L488.6 490.7L498.0 493.7L516.7 490.7" fill="none" stroke="#9c9ac4" stroke-width="0.6" stroke-dasharray="2 1" stroke-opacity="0.7"/>
<circle cx="459.18" cy="497.76" r="0.39" fill="#4e4c7c"/>
<circle cx="506.97" cy="498.2" r="0.52" fill="#4e4c7c"/>
<circle cx="474.61" cy="495.28" r="0.53" fill="#4e4c7c"/>
<circle cx="476.71" cy="500.74" r="0.52" fill="#4e4c7c"/>
<circle cx="500.29" cy="496.97" r="0.39" fill="#4e4c7c"/>
<circle cx="438.44" cy="502.07" r="0.39" fill="#4e4c7c"/>
<rect x="423.5" y="481.2" width="92.7" height="24.1" fill="none" stroke="#7a7a7a" stroke-width="1.1"/>
<line x1="500.2" y1="502.8" x2="513.2" y2="502.8" stroke="#444" stroke-width="0.9"/>
<rect x="423" y="513.6" width="93.7" height="26.6" fill="#fbfbfd"/>
<path d="M423.0 519.2L446.4 521.6L469.9 523.2L493.3 521.6L516.7 520.2L516.7 540.2L423.0 540.2Z" fill="url(#derm)"/>
<path d="M423.0 519.2L446.4 521.6L469.9 523.2L493.3 521.6L516.7 520.2L516.7 526.8L493.3 528.1L469.9 529.7L446.4 528.1L423.0 525.7Z" fill="url(#bandp)"/>
<path d="M423.0 519.5L446.4 521.9L469.9 523.5L493.3 521.9L516.7 520.5" fill="none" stroke="#a3a1c9" stroke-width="0.7" stroke-opacity="0.85"/>
<path d="M423.0 524.4L446.4 526.8L469.9 528.4L493.3 526.8L516.7 525.5" fill="none" stroke="#9c9ac4" stroke-width="0.6" stroke-dasharray="2 1" stroke-opacity="0.7"/>
<circle cx="482.36" cy="524.18" r="0.42" fill="#4e4c7c"/>
<circle cx="445.02" cy="534.18" r="0.52" fill="#4e4c7c"/>
<circle cx="505.03" cy="523.79" r="0.46" fill="#4e4c7c"/>
<circle cx="427.67" cy="524.89" r="0.48" fill="#4e4c7c"/>
<circle cx="427.38" cy="524.53" r="0.51" fill="#4e4c7c"/>
<circle cx="473.88" cy="527.44" r="0.5" fill="#4e4c7c"/>
<circle cx="497.61" cy="522.93" r="0.55" fill="#4e4c7c"/>
<circle cx="487.62" cy="528.48" r="0.39" fill="#4e4c7c"/>
<circle cx="510.86" cy="527.51" r="0.37" fill="#4e4c7c"/>
<circle cx="433.68" cy="535.7" r="0.5" fill="#4e4c7c"/>
<circle cx="497.4" cy="525.84" r="0.53" fill="#3e3c6a"/>
<circle cx="512.29" cy="524.08" r="0.54" fill="#3e3c6a"/>
<circle cx="499.4" cy="525.44" r="0.62" fill="#3e3c6a"/>
<circle cx="476.79" cy="527.14" r="0.41" fill="#3e3c6a"/>
<circle cx="445.44" cy="524.83" r="0.42" fill="#3e3c6a"/>
<circle cx="445.88" cy="524.39" r="0.47" fill="#3e3c6a"/>
<circle cx="482.02" cy="525.9" r="0.49" fill="#3e3c6a"/>
<circle cx="443.79" cy="524.61" r="0.63" fill="#3e3c6a"/>
<circle cx="483.13" cy="526.46" r="0.44" fill="#3e3c6a"/>
<circle cx="490.4" cy="524.8" r="0.49" fill="#3e3c6a"/>
<circle cx="513.76" cy="524.68" r="0.54" fill="#3e3c6a"/>
<circle cx="486.41" cy="526.84" r="0.59" fill="#3e3c6a"/>
<circle cx="445.55" cy="524.17" r="0.48" fill="#3e3c6a"/>
<circle cx="449.02" cy="524.91" r="0.64" fill="#3e3c6a"/>
<rect x="423.5" y="514.1" width="92.7" height="25.6" fill="none" stroke="#7a7a7a" stroke-width="1.1"/>
<line x1="500.2" y1="537.2" x2="513.2" y2="537.2" stroke="#444" stroke-width="0.9"/>
<rect x="423" y="547" width="93.7" height="26.6" fill="#fbfbfd"/>
<path d="M423.0 558.7L441.7 557.1L455.8 554.2L469.9 549.7L493.3 550.7L502.6 554.2L516.7 553.1L516.7 573.6L423.0 573.6Z" fill="url(#derm)"/>
<path d="M423.0 558.7L441.7 557.1L455.8 554.2L469.9 549.7L493.3 550.7L502.6 554.2L516.7 553.1L516.7 557.6L502.6 558.7L493.3 555.2L469.9 554.2L455.8 558.7L441.7 561.6L423.0 563.2Z" fill="url(#bandp)"/>
<path d="M423.0 559.0L441.7 557.4L455.8 554.5L469.9 550.0L493.3 551.0L502.6 554.5L516.7 553.4" fill="none" stroke="#a3a1c9" stroke-width="0.7" stroke-opacity="0.85"/>
<path d="M423.0 562.3L441.7 560.7L455.8 557.8L469.9 553.3L493.3 554.3L502.6 557.8L516.7 556.7" fill="none" stroke="#9c9ac4" stroke-width="0.6" stroke-dasharray="2 1" stroke-opacity="0.7"/>
<circle cx="428.46" cy="568" r="0.39" fill="#4e4c7c"/>
<circle cx="466.49" cy="565.24" r="0.55" fill="#4e4c7c"/>
<circle cx="465.65" cy="562.02" r="0.35" fill="#4e4c7c"/>
<circle cx="463.79" cy="560" r="0.56" fill="#4e4c7c"/>
<circle cx="474.06" cy="566.65" r="0.46" fill="#4e4c7c"/>
<circle cx="440.8" cy="569.67" r="0.56" fill="#4e4c7c"/>
<circle cx="458.71" cy="556.36" r="0.48" fill="#4e4c7c"/>
<circle cx="469.49" cy="566.97" r="0.5" fill="#4e4c7c"/>
<circle cx="470.45" cy="562.93" r="0.44" fill="#4e4c7c"/>
<circle cx="429.39" cy="560.39" r="0.59" fill="#4e4c7c"/>
<circle cx="500.27" cy="559.78" r="0.57" fill="#4e4c7c"/>
<circle cx="471.85" cy="553.35" r="0.56" fill="#4e4c7c"/>
<circle cx="477.42" cy="570.25" r="0.52" fill="#4e4c7c"/>
<circle cx="433.44" cy="566.97" r="0.55" fill="#4e4c7c"/>
<circle cx="505.63" cy="560.8" r="0.48" fill="#4e4c7c"/>
<circle cx="487.89" cy="555.25" r="0.56" fill="#4e4c7c"/>
<circle cx="495.04" cy="553.81" r="0.5" fill="#4e4c7c"/>
<circle cx="458.01" cy="558.06" r="0.5" fill="#4e4c7c"/>
<circle cx="511.93" cy="564.15" r="0.38" fill="#4e4c7c"/>
<circle cx="469.4" cy="567.12" r="0.59" fill="#4e4c7c"/>
<circle cx="489.15" cy="552.85" r="0.59" fill="#4e4c7c"/>
<circle cx="478.99" cy="553.25" r="0.38" fill="#4e4c7c"/>
<circle cx="432.73" cy="567.5" r="0.39" fill="#4e4c7c"/>
<circle cx="497.43" cy="555.7" r="0.48" fill="#4e4c7c"/>
<circle cx="464.74" cy="553.52" r="0.35" fill="#4e4c7c"/>
<circle cx="506.05" cy="571.22" r="0.38" fill="#4e4c7c"/>
<circle cx="490.89" cy="571.39" r="0.58" fill="#4e4c7c"/>
<circle cx="504.39" cy="560.97" r="0.53" fill="#4e4c7c"/>
<circle cx="469.68" cy="570.32" r="0.53" fill="#4e4c7c"/>
<circle cx="500.68" cy="569.22" r="0.45" fill="#4e4c7c"/>
<rect x="423.5" y="547.5" width="92.7" height="25.6" fill="none" stroke="#7a7a7a" stroke-width="1.1"/>
<line x1="500.2" y1="570.6" x2="513.2" y2="570.6" stroke="#444" stroke-width="0.9"/>
<text x="421.5" y="493.2" font-size="7.4" text-anchor="middle" transform="rotate(-90 421.5 493.2)">Control</text>
<text x="411.5" y="528.8" font-size="7.4" text-anchor="middle" transform="rotate(-90 411.5 528.8)">Single</text>
<text x="419.7" y="528.8" font-size="7.4" text-anchor="middle" transform="rotate(-90 419.7 528.8)">dose</text>
<text x="410.8" y="561.1" font-size="7.4" text-anchor="middle" transform="rotate(-90 410.8 561.1)">7-day</text>
<text x="419.5" y="561.1" font-size="7.4" text-anchor="middle" transform="rotate(-90 419.5 561.1)">repeat</text>
</svg></body></html>
